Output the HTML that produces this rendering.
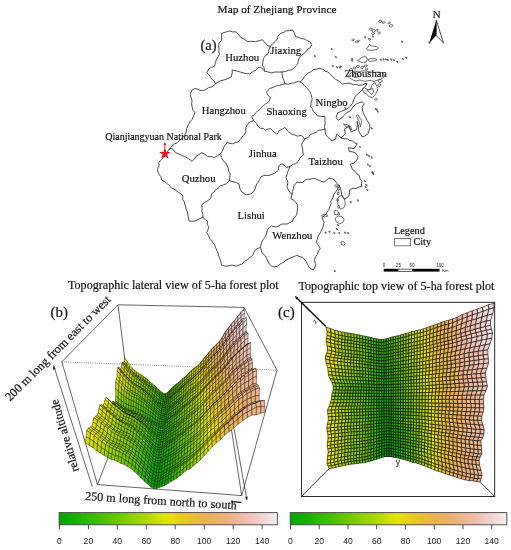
<!DOCTYPE html><html><head><meta charset="utf-8"><title>Figure</title><style>html,body{margin:0;padding:0;background:#fff}svg text{white-space:pre}</style></head><body><svg width="511" height="550" viewBox="0 0 511 550" style="display:block">
<rect width="511" height="550" fill="#fff"/>
<g fill="none" stroke="#404040" stroke-width="0.95" stroke-linejoin="round" stroke-linecap="round">
<path d="M215.5 83.7L214.3 81.1L211.6 78.8L208.9 74.7L206.7 72.9L208.7 69L211.6 67.4L214.6 66.1L215.3 62.8L216.5 59.2L218.2 56.3L219.5 54.4L218.8 51.2L219.1 48.7L218.5 45.5L219.4 42.6L221.4 40.7L221.7 38L221.4 33.8L224 32.5L227.1 31.7L229.2 30.9L233 32L236.1 31.8L238.8 34.8L241 37.7L243.6 38.7L245.5 40L247.8 41.6L250.3 41.4L253 41.4L255.7 41.6L259.1 40.7L262.5 39.7L265.4 43.6L268 45.7L270.3 46.5M270.3 46.5L268.7 50.5L268.4 53.4L265.8 55.3L263.5 58.3L262.9 61.7L262.5 65.1L264 67.6L264.5 71M264.5 71L262.6 69.1L260.6 67.1L257.5 67.9L256.3 70L253.7 71L249.8 73.9L246.8 73.6L242.9 72.9L240.2 72L237.1 71L232.2 70L232.2 73.1L231.2 76.9L227.3 78.8L223.8 80L220.4 80.8L217.2 82.8L215.5 83.7M270.3 46.5L272.3 44L275 41.6L277.3 39L277.4 37.8L278.9 34.8L280.7 33.3L283.7 32.4L285.8 30.9L289.5 30.6L292.6 29.9L294.7 33.8L295.5 36.7L298.7 37.4L301.4 38.7L304 38.8L307.3 40.7L309.9 41.8L311.8 44.6L310.4 47.7L307.7 48.8L306.3 51.4L303.1 54.2L300.4 56.3L299 58.8L298.2 61.4L297.5 64.1L296.1 65.6L293.6 68.2L291.6 70L288.7 70.1L285.6 71.5L281.8 72L278.8 72L275 72L271.3 72.9L267.2 71.7L264.5 71M281.8 72L282.5 77L284 80.4L284.8 83.7L288 84.2L292.3 83L294.6 82.7L298.4 81.4L300.4 81.8M284.8 83.7L281.3 84.8L279.6 85.3L277.2 85.7L274.8 86.6L272.3 87.7L269.4 88.6L266.4 92.5L267.7 95L270.3 97.4L269.4 100.7L268.4 102.3L265.4 103.9L262.4 106.4L260.5 108.8L257.9 110.7L255.7 112.7L254.4 114.8L251.7 116.6L253.7 120.5M253.7 120.5L251 121.6L248.8 122.5L247.7 124.5L245.9 127.4L245.9 132.1L243.8 135.2L242 137L240.4 139.4L238.1 141.9L234.9 142.8L232.2 143.8L229.1 143.3L227.3 141.9L226.2 144.2L224.1 146.1L223.4 148.7L222.2 151.3L220.5 153.6M220.5 153.6L217.3 155.8L214.6 157.5L211.6 156.7L207.7 156.5L204.6 154.2L201.9 152.6L198.4 154.9L196 156.5L194.3 159.1L192.1 161.4L188.2 158.5L184.7 156.6L182.3 155.6L178.8 153.9L175.4 152.6L173.5 150L171.5 148L169.6 148.7M215.5 83.7L213.5 85.8L211.7 87L208.7 87.6L205.8 89.5L202.8 90.6L200 90.3L197.4 89L195 88.6L192.1 90L190.8 92.8L190.1 94.9L191.2 97.9L192.1 100.8L191.6 103.8L192.1 106.6L192.9 110.2L195 112.5L193.5 116L192.1 119.4L190.1 121.6L188.2 125.2L186.6 128.6L186.2 132.1L184.9 134.5L182.3 138L179.5 140.4L177.4 142.8L173.7 144L171.5 146.8L169.6 148.7M169.6 148.7L167.9 151.1L166.6 153.6L164.5 156.7L162.7 158.5L160.7 160.6L158.8 162.4L159 166.1L157.8 168.3L157.6 171L158.8 174.1L160.8 176.4L161.7 180L164.2 181.4L167.6 183.9L168.9 185.3L171.5 187.8L175.4 190L178.4 192.4L181.3 193.7L183 196.3L182.3 198.9L184.2 201.5L184.7 204.3L185.5 206L186.2 209.4L187.4 211.9L188.2 216.2L189.1 221.1L191.7 221.2L195 221.1L198.9 219.1L202.8 217.2M202.8 217.2L205.4 219.9L207.7 221.1L207.1 224.2L208.7 227L208 229.8L206.7 232.8L208.5 235.3L209.7 238.7L212.4 241.9L214.6 244.6L215.6 247.7L217.5 251.4L218.4 254.6L219.5 258.3L220.9 261.8L221.4 265.1L224.9 266.1L227.3 266.1L232.2 265.1L236.1 266.1L239.1 265L242 264.1L244.5 261.3L247.8 259.3L249.9 257.5L252.7 255.3L253.8 252.4L255.7 249.5L258.2 248.3L260.5 247.5M260.5 247.5L261.4 251.1L262.5 253.4L265.2 255.5L266.4 258.3L267.8 261L269.4 264.1L271.7 266.3L274.2 267.1L277.5 266.2L280.1 264.1L283.8 262L286 260.2L288.9 258.8L291.9 257.3L294.8 256.3L296.8 255.3L300 256.8L302.6 257.3L305.1 260L306.5 262.2L307.6 264.5L309.5 268.1L313.4 270L315.3 266.1M315.3 266.1L315.4 263.4L314.4 260.2L315.4 257.1L317.3 254.4L318.5 250.7L320.2 248.5L318.4 245.2L316.3 242.6L317.2 239.5L318.3 235.8L319.6 233.7L321.1 231.2L322.2 228.9L323.2 226.3L324.1 222.1L323.1 220.4L322.2 217.2L326.1 214.2L327.1 212.1L329 209.4L330.1 206.1L331 203.5L330.8 201.3L333 197.6L333.9 194.2L335.9 191.7L337.7 188.7L339.4 185.7M339.4 185.7L340.5 188.5L341.3 191.5L341.6 194.5L342.8 196.9L344.2 199.4L346.9 197.9L349.1 195.4L349.5 192.4L350.1 189.6L352.9 188.3L356 188.6L358.6 187.1L361.9 186.6L361.4 183.8L361.9 180.8L360.1 179.2L359.3 175.4L357 173.9L354.7 171.1L352.3 169.3L351.6 166.9L350.3 164.4L353.7 163L356.2 161.4L357.5 158.8L358.2 156.5L355.2 152.6L351.2 151.6L349.4 151.6L348.4 147.7L350.9 148L354.2 148.7L355.2 147L357.2 143.8L354.7 142.9L352.3 140.9L349.7 140.6L347.4 138.9L343.9 138.7L341.5 137.9M341.5 137.9L342.9 136.1L345.4 134L344.5 129.1L347.7 126.9L349.4 126.2L350 129.3L351.3 132.1L353.7 130.5L356.2 130.1L357.1 127.2L357.4 124.4L357.2 121.3L357.2 123.8L358.8 126.1L358.4 129.7L359.1 132.1L361.1 134.9L362.1 137L364.3 136.4L367.9 134L368.8 131.1L369.9 128.2L369.7 124.4L367 120.3L364.9 116.2L362.9 112L362.2 107.3L364.2 103.8L362.2 101.8L359.4 102.7L356.7 103.8L353.3 106.6L350.5 110.7L347.4 112.3L345.1 114.1L343.9 115.5L341.6 118.2L338.2 120.3L336.2 117.5L337.5 112.7L341.6 111.4L342.9 110.6L346.4 109.3L348.6 107.9L350.5 105.9L352.7 103.2L353.3 101.1L355.3 96.3L358.1 93.6L360.2 91.8L362.2 89.5L365.6 86L367 83.3L364.2 84L362.1 85.1L358.8 85.3L355.7 84.4L353.3 84.7L350.4 83.3L347.8 83.3L345.5 83.5L342.3 84L339.9 82L338.5 80.9L335.5 79.2L332.6 76.7L330 73.7L327.8 72L325.2 71.1L323.2 69.5L320 68.4L316.8 69.2L313.2 69.6L311.4 71.6L308.6 72.8L306.3 74.9L304.5 76.7L302.7 79.5L300.4 81.8M300.4 81.8L302.9 83.8L304.6 85.9L307.3 88.6L309.7 91.5L311.2 94.5L312.2 99.4L311.2 102.3L310.5 106.8L311.9 107.7L313.4 111.7L316 113.6L317.3 115.7L320.5 116.4L324.9 116.4L325 119.3L325.1 123.5L324.5 126.6L324.9 129.1M324.9 129.1L321.5 129.9L318.3 130.3L316.4 132.1L313.4 133.3L310.1 134.8L308.5 137.2L304.6 139.1M304.6 139.1L301.6 135.2L297.7 136.2L294.3 134.8L291.9 134.2L287.9 131.3L285 127.4L282.1 129.4L278.7 130.9L277.2 134.2L274.2 132.3L271.9 130.1L270.3 128.4L268.1 129.2L265.4 130.3L263.6 128.5L260.5 128.4L257.9 126.1L256.6 123.5L253.7 120.5M324.9 129.1L325.3 131.6L325.9 135L328.2 137.5L330.4 138.8L331.7 140.9L335.7 138.9L336.6 134L339 136.1L341.5 137.9M304.6 139.1L303.1 142L301.6 144L302.6 148.9L302.9 152L303.6 154.8L300.7 157.1L299.7 158.7L298.5 161.1L295.8 163.6L293.3 164.3L289.9 166.5M289.9 166.5L286 167.5L283.9 164.9L282.1 163.6L279.1 165.6L278.2 170.5L274.2 173.4L269.4 175.3L266.6 175.5L263.5 175.3L260.9 176.9L259.6 179.3L257.8 182.8L256.6 184.1L255.6 187.1L254.7 190L252.9 192.1L250.8 193.9L245.9 194.9L242 192L240 189L239 183.9L236.4 182.4L234.1 182L229.3 180.5M220.5 153.6L221.4 157.5L223 160.7L225.3 162.4L226.9 165.2L228.3 168.3L228.6 171.2L230.2 174.1L229.8 177L229.3 180.5M229.3 180.5L226.3 183.9L223.8 184.6L220.5 185.9L218 188.2L215.6 189.8L213.7 192.3L211.6 193.7L210.7 198.6L206.7 201.5L204.2 202.8L201.9 204.5L202.1 208L201.9 211.3L202.9 214.4L202.8 217.2M289.9 166.5L288.9 169.2L287.9 171.4L287.2 173.8L286 177.3L286.9 179.6L287.9 182.2L287 187.1L288.9 190.8L291.9 194.7M291.9 194.7L290.9 198.6L293.9 200.3L295.8 202.5L297.2 204.4L297.7 207.4L297.2 211.3L296.8 214.2L295.3 217L293.2 218.8L292.8 221.1L290 222.5L287 224L282.1 224L278.5 225.8L276.2 227L271.3 226L268.3 228.4L267.4 229.9L266.5 233.8L265.4 236.8L263.3 239.2L261.5 242.6L260.5 247.5M291.9 194.7L292.3 191.6L293.4 188.8L293.8 186.1L296.8 182.2L299.9 182.4L302.6 182.2L305.7 179.9L307.5 179.3L310.3 179.1L313.4 178.3L316.2 179L318.3 180.2L321.1 181.2L324.1 182.2L326.6 180L329 178.3L331.5 178.6L334.5 179.8L336.8 183.4L339.4 185.7"/>
<path d="M366.7 48.5L368.5 46.3L369.5 44.2L371 46L374 46.2L377 46.8L378.4 48.2L376 49.8L372 50.2L368.5 50ZM357.8 60.4L361 58L364 56.5L366.8 57.3L367.2 60L366 62L362 62.4L359.6 61.7ZM368 59.5L371 58.5L375 58.6L377 59.8L374 61L370 61.2ZM348 76L350.2 74.3L351 72.5L355 71L359 72L363 70.8L366.3 71.1L368 71.5L371.1 72L373 72.5L375.1 72.4L378 72L381.2 72.6L383 73.5L385 76L382 78.5L378 80L374 81.5L371.7 80.7L369 80.5L365 81.3L362.2 80.8L360 80L356 81L352 79.5L349.9 78ZM362.2 89.5L364.2 92.9L366.8 94.2L368.4 96.3L372.5 97.7L375.2 94.9L376 92.9L377.3 90.8L377.8 88.3L376.6 86L375.2 82.6L372 84.5L371 88.5L368 90L365 88ZM367 90.5L369.5 92.5L372 94.5L373.5 92L372.8 88.5L370 89.5ZM354 73.5L357 73L358.5 75.5L356.5 78L353.5 77ZM343.7 124.4L346 126.5L349 128L352 130L350.5 126.5L347.5 124.8ZM356.5 116L358 119L359.5 123L360.5 127L360.8 124.9L361.5 122.5L361.4 120.1L359.8 118L358.2 115ZM339 196.5L341.5 195.4L344.5 198L344.8 200.5L345.2 203L344.6 206.3L343.5 208L340.5 209L338.8 206.4L338 205L337.9 202.7L337.6 200ZM335.4 218L338 216L341.5 216.5L344.2 219L343 222.5L339.5 223.8L336.5 222ZM321.7 215.6L324 214.2L327.2 214.8L327.6 216.3L324.5 217ZM334.5 211L336.5 210L338.4 212L337.5 214.8L335 214.5ZM341.3 242L343.5 241.4L345.2 243.5L343.8 245.3L341.8 244.6ZM382 21.5L381.4 22.2L380.1 22.7L378.9 22L378.9 21L380.1 20.3L381.4 20.8ZM384.9 22.6L384.3 23.3L383.2 23.5L382.3 23L382.2 22.2L383.2 21.7L384.3 21.9ZM390.3 23L389.6 23.6L388.7 23.9L387.8 23.5L388.1 22.7L388.8 22.1L389.8 22.2ZM392.7 26L391.8 26.8L390.7 27.1L389.3 26.6L389.4 25.4L390.6 24.7L392.3 24.8ZM372.3 29L371.5 29.7L370.5 30.2L369.7 29.4L369.6 28.5L370.6 28.2L371.5 28.3ZM375.3 31L374.6 32.1L373.2 32.1L372.3 31.5L371.8 30.4L373.2 29.8L374.6 29.9ZM378 30.3L377.8 31.1L376.7 31.2L376.1 30.6L375.8 29.9L376.6 29.1L377.8 29.5ZM380 33L379.8 33.9L378.7 34.2L377.8 33.5L378.1 32.6L378.7 31.9L379.9 32.1ZM374.3 33.8L373.9 34.6L372.8 34.5L372 34.1L371.9 33.4L372.6 32.7L373.9 33ZM370.9 39.2L370.4 39.8L369.2 40L368.6 39.4L368.1 38.8L369.2 38.4L370.2 38.7ZM354.4 39.9L353.8 40.5L352.8 40.5L351.7 40.3L351.9 39.6L352.7 39.1L353.9 39.2ZM358.2 41.9L357.3 42.7L356.1 42.8L355.4 42.2L355.3 41.6L356 40.8L357.2 41.2ZM359.6 41L359.1 41.5L358.3 41.9L357.8 41.3L357.6 40.6L358.4 40.2L359.3 40.3ZM355.9 68L355.7 69L354.2 69L353.2 68.4L353.2 67.6L354.2 67.1L355.5 67.2ZM359.3 66.5L358.8 67.1L357.6 67.7L356.8 66.9L356.3 66L357.7 65.7L359 65.7ZM363.2 67.6L362.9 68.5L361.7 68.7L360.6 68.2L361 67.2L361.7 66.6L363.1 66.5ZM367.2 66L366.6 66.9L365.2 67L364 66.5L364.2 65.6L365.2 65.1L366.6 65.1ZM367.6 69.3L367.1 69.8L366.2 70.3L365.6 69.6L365.3 68.9L366.3 68.6L367.4 68.6ZM352.4 69.5L352 70.5L350.7 70.5L349.6 70L349.8 69.1L350.7 68.3L351.8 68.8ZM382.4 81L381.3 82.3L379.5 82.8L378.6 81.5L378.3 80.4L379.5 79.2L381.1 80ZM380.5 85.5L379.9 86.6L378.7 86.6L378 86L377.7 84.9L378.7 84.1L380.1 84.1ZM377.1 99.5L376.6 100.1L375.8 100.3L375 99.9L374.7 99L375.7 98.3L376.8 98.7ZM339.8 188L339.4 189.9L338.2 190.5L337.6 188.8L337.1 186.8L338.2 185.3L339.3 186.2ZM338.9 193.5L338.6 194.7L337.8 195L337.2 194.1L337.3 193L337.8 191.9L338.7 192.1ZM337.3 186L336.7 187L335.7 187.4L335.1 186.5L334.7 185.2L335.8 184.7L336.7 184.9ZM338.5 200L338.1 201.2L337.3 201.3L336.8 200.5L336.7 199.4L337.3 198.4L338 199ZM339.5 207L339.1 208L338.4 208.3L337.9 207.6L337.8 206.4L338.4 205.4L339.2 205.7ZM339.7 214L339.4 214.8L338.8 215.1L338.2 214.6L338.2 213.4L338.8 212.7L339.4 213.2Z" stroke-width="0.75"/>
<path d="M364.8 36.6l1.1 .4l-.4 .8zM372.4 35.9l1.1 .4l-.4 .8zM401.8 41.1l1.1 .4l-.4 .8zM428.9 42.1l1.1 .4l-.4 .8zM351.8 58.5l1.1 .4l-.4 .8zM351.8 60l1.1 .4l-.4 .8zM339.5 66.8l1.1 .4l-.4 .8zM332.5 65.5l1.1 .4l-.4 .8zM336.5 66.5l1.1 .4l-.4 .8zM340.5 66l1.1 .4l-.4 .8zM380.5 59.2l1.1 .4l-.4 .8zM383 58.8l1.1 .4l-.4 .8zM385.4 59l1.1 .4l-.4 .8zM387.5 59.5l1.1 .4l-.4 .8zM390.9 59l1.1 .4l-.4 .8zM393.6 59.5l1.1 .4l-.4 .8zM397 61.3l1.1 .4l-.4 .8zM402.5 58.5l1.1 .4l-.4 .8zM405.9 57.2l1.1 .4l-.4 .8zM376.3 109.1l1.1 .4l-.4 .8zM377.5 111l1.1 .4l-.4 .8zM371.4 127.7l1.1 .4l-.4 .8zM359.5 146.3l1.1 .4l-.4 .8zM366.5 154.1l1.1 .4l-.4 .8zM368.5 155.5l1.1 .4l-.4 .8zM371.4 157l1.1 .4l-.4 .8zM367.4 163.9l1.1 .4l-.4 .8zM369.5 165.5l1.1 .4l-.4 .8zM372.3 171.7l1.1 .4l-.4 .8zM373 173.5l1.1 .4l-.4 .8zM365.5 186.4l1.1 .4l-.4 .8zM372.1 172.4l1.1 .4l-.4 .8zM364.5 180.5l1.1 .4l-.4 .8zM366 184.5l1.1 .4l-.4 .8zM367 189.5l1.1 .4l-.4 .8zM357.5 199.8l1.1 .4l-.4 .8zM350.5 201.5l1.1 .4l-.4 .8zM325.2 232.1l1.1 .4l-.4 .8zM329.1 231.1l1.1 .4l-.4 .8zM334 232.5l1.1 .4l-.4 .8zM338.9 232.5l1.1 .4l-.4 .8zM344.7 232.1l1.1 .4l-.4 .8zM347.7 232.5l1.1 .4l-.4 .8zM334.5 270.5l1.1 .4l-.4 .8zM337.5 224.5l1.1 .4l-.4 .8zM336.5 228.5l1.1 .4l-.4 .8zM331.5 48.5l1.1 .4l-.4 .8zM335.5 56.5l1.1 .4l-.4 .8zM314.5 55.5l1.1 .4l-.4 .8zM375.5 108.5l1.1 .4l-.4 .8zM345 107.5l1.1 .4l-.4 .8zM349.5 116.5l1.1 .4l-.4 .8z" stroke-width="0.75"/>
</g>
<g font-family="'Liberation Serif','Times New Roman',serif" stroke="#111" stroke-width="0.18" font-size="10.7" fill="#111">
<text x="225.3" y="60.8">Huzhou</text>
<text x="270.3" y="54.4">Jiaxing</text>
<text x="201.8" y="114">Hangzhou</text>
<text x="266.4" y="114.7">Shaoxing</text>
<text x="315.5" y="105.6">Ningbo</text>
<text x="344.7" y="77.4">Zhoushan</text>
<text x="248.8" y="156.8">Jinhua</text>
<text x="308.5" y="165.3">Taizhou</text>
<text x="181.7" y="182">Quzhou</text>
<text x="237.5" y="219.1">Lishui</text>
<text x="272.3" y="238.7">Wenzhou</text>
</g>
<text x="105.2" y="139.6" font-family="'Liberation Serif','Times New Roman',serif" stroke="#111" stroke-width="0.18" font-size="10" fill="#111">Qianjiangyuan National Park</text>
<text x="217.6" y="13.4" font-family="'Liberation Serif','Times New Roman',serif" stroke="#111" stroke-width="0.18" font-size="11.3" fill="#111">Map of Zhejiang Province</text>
<text x="200.5" y="50" font-family="'Liberation Serif','Times New Roman',serif" stroke="#111" stroke-width="0.18" font-size="14.5" fill="#111">(a)</text>
<path d="M164.9 147.8L166.3 152L170.7 152L167.2 154.6L168.5 158.8L164.9 156.3L161.3 158.8L162.6 154.6L159.1 152L163.5 152Z" fill="#e8141c"/>
<path d="M164.9 149.5V144" stroke="#e8141c" stroke-width="0.9" fill="none"/><path d="M164.9 142l1.5 3h-3z" fill="#e8141c"/>
<text x="436.6" y="18.2" text-anchor="middle" font-family="'Liberation Serif','Times New Roman',serif" stroke="#111" stroke-width="0.18" font-size="11.4" fill="#111">N</text>
<path d="M436.3 20.3L429 43.6L436.3 35.3Z" fill="#000"/><path d="M436.3 20.3L443.6 43.2L436.3 35.3Z" fill="#fff" stroke="#000" stroke-width="0.7" stroke-linejoin="miter"/>
<text x="394" y="233.6" font-family="'Liberation Serif','Times New Roman',serif" stroke="#111" stroke-width="0.18" font-size="10.3" fill="#111">Legend</text>
<rect x="394.6" y="238.6" width="16" height="7.2" fill="#fff" stroke="#555" stroke-width="0.8"/>
<text x="413.4" y="245.4" font-family="'Liberation Serif','Times New Roman',serif" stroke="#111" stroke-width="0.18" font-size="10.3" fill="#111">City</text>
<rect x="383.7" y="268.8" width="55.8" height="2.8" fill="#000"/><rect x="398.4" y="269.4" width="13.7" height="1.6" fill="#fff"/>
<g font-family="'Liberation Sans',Arial,sans-serif" font-size="4.6" fill="#222" text-anchor="middle">
<text x="384" y="267.1">0</text>
<text x="398.4" y="267.1">25</text>
<text x="412" y="267.1">50</text>
<text x="440" y="267.1">100</text>
<text x="445.3" y="271.6" font-size="4.2">Km</text>
</g>
<path d="M97.5 484.6L241.7 495.6M97.5 484.6L130 401M130 401L227.8 405.9M241.7 495.6L227.8 405.9M97.5 484.6L61.8 361.8M241.7 495.6L277 370.1M130 401L118 304.8M227.8 405.9L244 307.4M118 304.8L244 307.4M61.8 361.8L118 304.8M277 370.1L244 307.4" stroke="#222" stroke-width="0.7" fill="none"/>
<path d="M92.3 486.8L54 366.7" stroke="#222" stroke-width="0.7" fill="none"/><path d="M53.4 364.8l2.2 4.2l-2.6 .8z" fill="#222"/>
<path d="M234.2 429.1L246.7 498.8" stroke="#222" stroke-width="0.7" fill="none"/><path d="M247.1 501l-2.1-4.1l2.6-.5z" fill="#222"/>
<path d="M231 501.6L241.5 502.4" stroke="#111" stroke-width="1.2" fill="none"/>
<g stroke="#000" stroke-width="0.4" stroke-linejoin="round"><path d="M162 394.3L164 394.7L164.3 393.7L162.3 392.6Z" fill="#33B700"/><path d="M164 394.7L166 394.7L166.3 393.2L164.3 393.7Z" fill="#33B700"/><path d="M159.9 392.8L162 394.3L162.3 392.6L160.2 391Z" fill="#3ABA00"/><path d="M166 394.7L168 392.7L168.3 391.8L166.3 393.2Z" fill="#3ABA00"/><path d="M157.8 391L159.9 392.8L160.2 391L158.2 389.3Z" fill="#41BC00"/><path d="M163.7 396.9L165.8 397L166 394.7L164 394.7Z" fill="#33B700"/><path d="M161.7 395.9L163.7 396.9L164 394.7L162 394.3Z" fill="#33B700"/><path d="M168 392.7L170 391L170.3 389.8L168.3 391.8Z" fill="#41BC00"/><path d="M159.6 394L161.7 395.9L162 394.3L159.9 392.8Z" fill="#3ABA00"/><path d="M155.8 389.3L157.8 391L158.2 389.3L156.1 387.1Z" fill="#50C000"/><path d="M165.8 397L167.8 395.2L168 392.7L166 394.7Z" fill="#33B700"/><path d="M157.5 392.8L159.6 394L159.9 392.8L157.8 391Z" fill="#41BC00"/><path d="M163.4 398.6L165.5 398.3L165.8 397L163.7 396.9Z" fill="#2CB500"/><path d="M153.6 387.6L155.8 389.3L156.1 387.1L154 385.1Z" fill="#57C200"/><path d="M161.4 397.2L163.4 398.6L163.7 396.9L161.7 395.9Z" fill="#33B700"/><path d="M170 391L172.1 388.1L172.3 387.3L170.3 389.8Z" fill="#50C000"/><path d="M167.8 395.2L169.8 392.8L170 391L168 392.7Z" fill="#41BC00"/><path d="M165.5 398.3L167.5 397.2L167.8 395.2L165.8 397Z" fill="#33B700"/><path d="M155.4 390.8L157.5 392.8L157.8 391L155.8 389.3Z" fill="#48BE00"/><path d="M159.2 395.3L161.4 397.2L161.7 395.9L159.6 394Z" fill="#3ABA00"/><path d="M151.5 385.8L153.6 387.6L154 385.1L151.8 383.2Z" fill="#5FC500"/><path d="M153.2 388.8L155.4 390.8L155.8 389.3L153.6 387.6Z" fill="#57C200"/><path d="M163.1 399.7L165.2 400.5L165.5 398.3L163.4 398.6Z" fill="#2CB500"/><path d="M157.1 393.4L159.2 395.3L159.6 394L157.5 392.8Z" fill="#41BC00"/><path d="M149.3 383.8L151.5 385.8L151.8 383.2L149.7 381.8Z" fill="#6FC900"/><path d="M172.1 388.1L174.1 387L174.3 385.6L172.3 387.3Z" fill="#5FC500"/><path d="M161 398.6L163.1 399.7L163.4 398.6L161.4 397.2Z" fill="#33B700"/><path d="M167.5 397.2L169.5 394.8L169.8 392.8L167.8 395.2Z" fill="#41BC00"/><path d="M169.8 392.8L171.8 390.6L172.1 388.1L170 391Z" fill="#50C000"/><path d="M165.2 400.5L167.2 398.7L167.5 397.2L165.5 398.3Z" fill="#33B700"/><path d="M151.1 386.8L153.2 388.8L153.6 387.6L151.5 385.8Z" fill="#5FC500"/><path d="M155 391.5L157.1 393.4L157.5 392.8L155.4 390.8Z" fill="#48BE00"/><path d="M158.9 397.4L161 398.6L161.4 397.2L159.2 395.3Z" fill="#3ABA00"/><path d="M147.2 382.2L149.3 383.8L149.7 381.8L147.5 379.5Z" fill="#77CB00"/><path d="M174.1 387L176.2 385.2L176.4 383.9L174.3 385.6Z" fill="#67C700"/><path d="M148.9 385.5L151.1 386.8L151.5 385.8L149.3 383.8Z" fill="#67C700"/><path d="M162.8 401.8L164.9 402L165.2 400.5L163.1 399.7Z" fill="#2CB500"/><path d="M171.8 390.6L173.9 389.6L174.1 387L172.1 388.1Z" fill="#5FC500"/><path d="M169.5 394.8L171.6 393.4L171.8 390.6L169.8 392.8Z" fill="#48BE00"/><path d="M167.2 398.7L169.3 397.2L169.5 394.8L167.5 397.2Z" fill="#3ABA00"/><path d="M145 380.8L147.2 382.2L147.5 379.5L145.4 377.8Z" fill="#7FCD00"/><path d="M156.8 395L158.9 397.4L159.2 395.3L157.1 393.4Z" fill="#41BC00"/><path d="M152.8 389.4L155 391.5L155.4 390.8L153.2 388.8Z" fill="#57C200"/><path d="M160.7 400.8L162.8 401.8L163.1 399.7L161 398.6Z" fill="#33B700"/><path d="M164.9 402L166.9 400.5L167.2 398.7L165.2 400.5Z" fill="#33B700"/><path d="M176.2 385.2L178.3 383.2L178.5 382.6L176.4 383.9Z" fill="#77CB00"/><path d="M158.6 399.6L160.7 400.8L161 398.6L158.9 397.4Z" fill="#33B700"/><path d="M146.7 383.3L148.9 385.5L149.3 383.8L147.2 382.2Z" fill="#77CB00"/><path d="M142.9 379.3L145 380.8L145.4 377.8L143.2 376.1Z" fill="#88D000"/><path d="M173.9 389.6L176 388.2L176.2 385.2L174.1 387Z" fill="#67C700"/><path d="M171.6 393.4L173.7 392L173.9 389.6L171.8 390.6Z" fill="#57C200"/><path d="M150.6 387.4L152.8 389.4L153.2 388.8L151.1 386.8Z" fill="#5FC500"/><path d="M154.6 392.6L156.8 395L157.1 393.4L155 391.5Z" fill="#50C000"/><path d="M169.3 397.2L171.4 395.3L171.6 393.4L169.5 394.8Z" fill="#48BE00"/><path d="M156.4 397.9L158.6 399.6L158.9 397.4L156.8 395Z" fill="#41BC00"/><path d="M140.7 377.7L142.9 379.3L143.2 376.1L141 374.7Z" fill="#91D200"/><path d="M162.5 404L164.6 403.8L164.9 402L162.8 401.8Z" fill="#2CB500"/><path d="M144.5 381.7L146.7 383.3L147.2 382.2L145 380.8Z" fill="#7FCD00"/><path d="M160.4 403.6L162.5 404L162.8 401.8L160.7 400.8Z" fill="#2CB500"/><path d="M166.9 400.5L169 398.6L169.3 397.2L167.2 398.7Z" fill="#3ABA00"/><path d="M178.3 383.2L180.5 381.7L180.6 380.6L178.5 382.6Z" fill="#7FCD00"/><path d="M158.3 401.8L160.4 403.6L160.7 400.8L158.6 399.6Z" fill="#33B700"/><path d="M148.4 385.6L150.6 387.4L151.1 386.8L148.9 385.5Z" fill="#6FC900"/><path d="M138.5 376.7L140.7 377.7L141 374.7L138.8 373.4Z" fill="#99D400"/><path d="M173.7 392L175.8 389.8L176 388.2L173.9 389.6Z" fill="#5FC500"/><path d="M176 388.2L178.1 386L178.3 383.2L176.2 385.2Z" fill="#6FC900"/><path d="M142.3 380.5L144.5 381.7L145 380.8L142.9 379.3Z" fill="#88D000"/><path d="M164.6 403.8L166.7 402L166.9 400.5L164.9 402Z" fill="#2CB500"/><path d="M152.4 390.7L154.6 392.6L155 391.5L152.8 389.4Z" fill="#57C200"/><path d="M171.4 395.3L173.5 393.3L173.7 392L171.6 393.4Z" fill="#50C000"/><path d="M154.3 395.6L156.4 397.9L156.8 395L154.6 392.6Z" fill="#48BE00"/><path d="M136.2 374.7L138.5 376.7L138.8 373.4L136.6 371.9Z" fill="#A2D600"/><path d="M146.2 383.8L148.4 385.6L148.9 385.5L146.7 383.3Z" fill="#77CB00"/><path d="M156.1 399.6L158.3 401.8L158.6 399.6L156.4 397.9Z" fill="#3ABA00"/><path d="M140.1 378.6L142.3 380.5L142.9 379.3L140.7 377.7Z" fill="#91D200"/><path d="M169 398.6L171.1 396.7L171.4 395.3L169.3 397.2Z" fill="#48BE00"/><path d="M162.2 406.2L164.3 405.4L164.6 403.8L162.5 404Z" fill="#25B300"/><path d="M160 404.2L162.2 406.2L162.5 404L160.4 403.6Z" fill="#2CB500"/><path d="M180.5 381.7L182.6 379.8L182.8 378.5L180.6 380.6Z" fill="#88D000"/><path d="M150.2 389.2L152.4 390.7L152.8 389.4L150.6 387.4Z" fill="#67C700"/><path d="M175.8 389.8L177.9 388.7L178.1 386L176 388.2Z" fill="#67C700"/><path d="M134 373.4L136.2 374.7L136.6 371.9L134.4 370.3Z" fill="#ACD800"/><path d="M178.1 386L180.3 384.2L180.5 381.7L178.3 383.2Z" fill="#7FCD00"/><path d="M166.7 402L168.7 400.1L169 398.6L166.9 400.5Z" fill="#3ABA00"/><path d="M137.8 376.8L140.1 378.6L140.7 377.7L138.5 376.7Z" fill="#99D400"/><path d="M152 393.6L154.3 395.6L154.6 392.6L152.4 390.7Z" fill="#57C200"/><path d="M173.5 393.3L175.6 392L175.8 389.8L173.7 392Z" fill="#5FC500"/><path d="M144 382.1L146.2 383.8L146.7 383.3L144.5 381.7Z" fill="#7FCD00"/><path d="M157.9 402.9L160 404.2L160.4 403.6L158.3 401.8Z" fill="#33B700"/><path d="M153.9 397.8L156.1 399.6L156.4 397.9L154.3 395.6Z" fill="#48BE00"/><path d="M164.3 405.4L166.4 404.3L166.7 402L164.6 403.8Z" fill="#2CB500"/><path d="M147.9 386.7L150.2 389.2L150.6 387.4L148.4 385.6Z" fill="#6FC900"/><path d="M135.7 376.1L137.8 376.8L138.5 376.7L136.2 374.7Z" fill="#A2D600"/><path d="M171.1 396.7L173.2 395.1L173.5 393.3L171.4 395.3Z" fill="#50C000"/><path d="M131.7 370.7L134 373.4L134.4 370.3L132.1 367.9Z" fill="#BEDD00"/><path d="M182.6 379.8L184.8 378L185 376.7L182.8 378.5Z" fill="#99D400"/><path d="M141.7 380.5L144 382.1L144.5 381.7L142.3 380.5Z" fill="#88D000"/><path d="M177.9 388.7L180.1 387.1L180.3 384.2L178.1 386Z" fill="#77CB00"/><path d="M149.8 391.4L152 393.6L152.4 390.7L150.2 389.2Z" fill="#5FC500"/><path d="M155.7 400.8L157.9 402.9L158.3 401.8L156.1 399.6Z" fill="#3ABA00"/><path d="M180.3 384.2L182.5 382L182.6 379.8L180.5 381.7Z" fill="#88D000"/><path d="M161.9 407.3L164 407.6L164.3 405.4L162.2 406.2Z" fill="#25B300"/><path d="M168.7 400.1L170.9 397.9L171.1 396.7L169 398.6Z" fill="#48BE00"/><path d="M175.6 392L177.7 390.2L177.9 388.7L175.8 389.8Z" fill="#67C700"/><path d="M133.4 374.1L135.7 376.1L136.2 374.7L134 373.4Z" fill="#ACD800"/><path d="M151.7 395.7L153.9 397.8L154.3 395.6L152 393.6Z" fill="#50C000"/><path d="M159.7 405.8L161.9 407.3L162.2 406.2L160 404.2Z" fill="#2CB500"/><path d="M139.5 379.5L141.7 380.5L142.3 380.5L140.1 378.6Z" fill="#91D200"/><path d="M145.7 384.9L147.9 386.7L148.4 385.6L146.2 383.8Z" fill="#7FCD00"/><path d="M166.4 404.3L168.5 402.1L168.7 400.1L166.7 402Z" fill="#3ABA00"/><path d="M164 407.6L166.1 406.8L166.4 404.3L164.3 405.4Z" fill="#2CB500"/><path d="M173.2 395.1L175.4 392.6L175.6 392L173.5 393.3Z" fill="#5FC500"/><path d="M129.3 368.8L131.7 370.7L132.1 367.9L129.7 365.2Z" fill="#C8DF00"/><path d="M147.6 389.9L149.8 391.4L150.2 389.2L147.9 386.7Z" fill="#6FC900"/><path d="M184.8 378L187.1 375.5L187.2 375.1L185 376.7Z" fill="#A2D600"/><path d="M153.4 398.7L155.7 400.8L156.1 399.6L153.9 397.8Z" fill="#48BE00"/><path d="M137.2 377.3L139.5 379.5L140.1 378.6L137.8 376.8Z" fill="#A2D600"/><path d="M131 371.7L133.4 374.1L134 373.4L131.7 370.7Z" fill="#B5DB00"/><path d="M157.5 404L159.7 405.8L160 404.2L157.9 402.9Z" fill="#33B700"/><path d="M143.5 383.5L145.7 384.9L146.2 383.8L144 382.1Z" fill="#88D000"/><path d="M149.4 394L151.7 395.7L152 393.6L149.8 391.4Z" fill="#5FC500"/><path d="M180.1 387.1L182.3 384.5L182.5 382L180.3 384.2Z" fill="#7FCD00"/><path d="M177.7 390.2L179.9 388.7L180.1 387.1L177.9 388.7Z" fill="#6FC900"/><path d="M182.5 382L184.7 380.3L184.8 378L182.6 379.8Z" fill="#91D200"/><path d="M170.9 397.9L173 395.6L173.2 395.1L171.1 396.7Z" fill="#50C000"/><path d="M161.5 408.8L163.7 410.3L164 407.6L161.9 407.3Z" fill="#25B300"/><path d="M166.1 406.8L168.2 404.8L168.5 402.1L166.4 404.3Z" fill="#33B700"/><path d="M135 376.1L137.2 377.3L137.8 376.8L135.7 376.1Z" fill="#ACD800"/><path d="M145.3 387.7L147.6 389.9L147.9 386.7L145.7 384.9Z" fill="#77CB00"/><path d="M168.5 402.1L170.6 400L170.9 397.9L168.7 400.1Z" fill="#48BE00"/><path d="M141.2 381.9L143.5 383.5L144 382.1L141.7 380.5Z" fill="#91D200"/><path d="M175.4 392.6L177.5 391.6L177.7 390.2L175.6 392Z" fill="#67C700"/><path d="M163.7 410.3L165.8 408.9L166.1 406.8L164 407.6Z" fill="#25B300"/><path d="M151.2 396.6L153.4 398.7L153.9 397.8L151.7 395.7Z" fill="#50C000"/><path d="M155.3 401.9L157.5 404L157.9 402.9L155.7 400.8Z" fill="#3ABA00"/><path d="M147.1 391.5L149.4 394L149.8 391.4L147.6 389.9Z" fill="#67C700"/><path d="M128.7 369.5L131 371.7L131.7 370.7L129.3 368.8Z" fill="#C8DF00"/><path d="M159.3 407.5L161.5 408.8L161.9 407.3L159.7 405.8Z" fill="#2CB500"/><path d="M132.7 374.5L135 376.1L135.7 376.1L133.4 374.1Z" fill="#ACD800"/><path d="M126.7 364.5L129.3 368.8L129.7 365.2L127.1 361.2Z" fill="#DBE300"/><path d="M182.3 384.5L184.5 383.2L184.7 380.3L182.5 382Z" fill="#91D200"/><path d="M179.9 388.7L182.1 386.7L182.3 384.5L180.1 387.1Z" fill="#7FCD00"/><path d="M138.9 380L141.2 381.9L141.7 380.5L139.5 379.5Z" fill="#99D400"/><path d="M187.1 375.5L189.4 372.7L189.4 371.9L187.2 375.1Z" fill="#B5DB00"/><path d="M184.7 380.3L186.9 378L187.1 375.5L184.8 378Z" fill="#A2D600"/><path d="M143.1 386.1L145.3 387.7L145.7 384.9L143.5 383.5Z" fill="#7FCD00"/><path d="M173 395.6L175.2 393.7L175.4 392.6L173.2 395.1Z" fill="#5FC500"/><path d="M148.9 394.1L151.2 396.6L151.7 395.7L149.4 394Z" fill="#5FC500"/><path d="M165.8 408.9L167.9 407.1L168.2 404.8L166.1 406.8Z" fill="#2CB500"/><path d="M157.1 405.1L159.3 407.5L159.7 405.8L157.5 404Z" fill="#33B700"/><path d="M144.9 389.8L147.1 391.5L147.6 389.9L145.3 387.7Z" fill="#6FC900"/><path d="M177.5 391.6L179.8 389.4L179.9 388.7L177.7 390.2Z" fill="#6FC900"/><path d="M136.7 379.1L138.9 380L139.5 379.5L137.2 377.3Z" fill="#A2D600"/><path d="M153 399L155.3 401.9L155.7 400.8L153.4 398.7Z" fill="#48BE00"/><path d="M168.2 404.8L170.3 402.3L170.6 400L168.5 402.1Z" fill="#41BC00"/><path d="M140.8 384.7L143.1 386.1L143.5 383.5L141.2 381.9Z" fill="#88D000"/><path d="M130.3 372L132.7 374.5L133.4 374.1L131 371.7Z" fill="#BEDD00"/><path d="M170.6 400L172.8 397.9L173 395.6L170.9 397.9Z" fill="#50C000"/><path d="M161.2 410.9L163.4 411.6L163.7 410.3L161.5 408.8Z" fill="#25B300"/><path d="M163.4 411.6L165.5 410.8L165.8 408.9L163.7 410.3Z" fill="#25B300"/><path d="M126.1 365.8L128.7 369.5L129.3 368.8L126.7 364.5Z" fill="#DBE300"/><path d="M184.5 383.2L186.8 380.4L186.9 378L184.7 380.3Z" fill="#99D400"/><path d="M182.1 386.7L184.4 384.8L184.5 383.2L182.3 384.5Z" fill="#88D000"/><path d="M142.7 389L144.9 389.8L145.3 387.7L143.1 386.1Z" fill="#7FCD00"/><path d="M134.4 377.1L136.7 379.1L137.2 377.3L135 376.1Z" fill="#ACD800"/><path d="M159 409.8L161.2 410.9L161.5 408.8L159.3 407.5Z" fill="#2CB500"/><path d="M189.4 372.7L191.6 371.2L191.7 370.2L189.4 371.9Z" fill="#C8DF00"/><path d="M146.7 392.8L148.9 394.1L149.4 394L147.1 391.5Z" fill="#67C700"/><path d="M186.9 378L189.2 376.5L189.4 372.7L187.1 375.5Z" fill="#B5DB00"/><path d="M138.5 382.8L140.8 384.7L141.2 381.9L138.9 380Z" fill="#99D400"/><path d="M175.2 393.7L177.4 392.4L177.5 391.6L175.4 392.6Z" fill="#67C700"/><path d="M154.8 402.9L157.1 405.1L157.5 404L155.3 401.9Z" fill="#41BC00"/><path d="M124.2 361.1L126.7 364.5L127.1 361.2L124.6 357.5Z" fill="#E6D80F"/><path d="M167.9 407.1L170.1 405.8L170.3 402.3L168.2 404.8Z" fill="#3ABA00"/><path d="M127.9 369.9L130.3 372L131 371.7L128.7 369.5Z" fill="#C8DF00"/><path d="M150.7 396.5L153 399L153.4 398.7L151.2 396.6Z" fill="#57C200"/><path d="M140.4 387.1L142.7 389L143.1 386.1L140.8 384.7Z" fill="#7FCD00"/><path d="M179.8 389.4L182 387.1L182.1 386.7L179.9 388.7Z" fill="#7FCD00"/><path d="M132 375.4L134.4 377.1L135 376.1L132.7 374.5Z" fill="#B5DB00"/><path d="M165.5 410.8L167.7 409.4L167.9 407.1L165.8 408.9Z" fill="#2CB500"/><path d="M172.8 397.9L174.9 396.6L175.2 393.7L173 395.6Z" fill="#5FC500"/><path d="M170.3 402.3L172.5 400.8L172.8 397.9L170.6 400Z" fill="#50C000"/><path d="M136.3 381.9L138.5 382.8L138.9 380L136.7 379.1Z" fill="#99D400"/><path d="M156.8 407.5L159 409.8L159.3 407.5L157.1 405.1Z" fill="#33B700"/><path d="M144.3 390.7L146.7 392.8L147.1 391.5L144.9 389.8Z" fill="#6FC900"/><path d="M160.9 413.4L163.1 414.1L163.4 411.6L161.2 410.9Z" fill="#1EB100"/><path d="M186.8 380.4L189 379L189.2 376.5L186.9 378Z" fill="#ACD800"/><path d="M184.4 384.8L186.6 382.7L186.8 380.4L184.5 383.2Z" fill="#99D400"/><path d="M138.1 386L140.4 387.1L140.8 384.7L138.5 382.8Z" fill="#91D200"/><path d="M191.6 371.2L194 368.9L194 368.3L191.7 370.2Z" fill="#D2E100"/><path d="M163.1 414.1L165.2 413.1L165.5 410.8L163.4 411.6Z" fill="#25B300"/><path d="M177.4 392.4L179.6 390.5L179.8 389.4L177.5 391.6Z" fill="#77CB00"/><path d="M134 380.6L136.3 381.9L136.7 379.1L134.4 377.1Z" fill="#A2D600"/><path d="M189.2 376.5L191.5 374.4L191.6 371.2L189.4 372.7Z" fill="#BEDD00"/><path d="M158.7 411.7L160.9 413.4L161.2 410.9L159 409.8Z" fill="#25B300"/><path d="M152.5 400.1L154.8 402.9L155.3 401.9L153 399Z" fill="#50C000"/><path d="M123.5 362.3L126.1 365.8L126.7 364.5L124.2 361.1Z" fill="#E6DF08"/><path d="M148.4 394.9L150.7 396.5L151.2 396.6L148.9 394.1Z" fill="#67C700"/><path d="M129.6 372.9L132 375.4L132.7 374.5L130.3 372Z" fill="#BEDD00"/><path d="M142 389.1L144.3 390.7L144.9 389.8L142.7 389Z" fill="#7FCD00"/><path d="M135.8 384.4L138.1 386L138.5 382.8L136.3 381.9Z" fill="#91D200"/><path d="M167.7 409.4L169.8 407.7L170.1 405.8L167.9 407.1Z" fill="#33B700"/><path d="M182 387.1L184.2 385.5L184.4 384.8L182.1 386.7Z" fill="#88D000"/><path d="M170.1 405.8L172.3 403.5L172.5 400.8L170.3 402.3Z" fill="#48BE00"/><path d="M174.9 396.6L177.2 394.6L177.4 392.4L175.2 393.7Z" fill="#67C700"/><path d="M172.5 400.8L174.7 399.4L174.9 396.6L172.8 397.9Z" fill="#57C200"/><path d="M125.2 365.4L127.9 369.9L128.7 369.5L126.1 365.8Z" fill="#DBE300"/><path d="M154.5 405.3L156.8 407.5L157.1 405.1L154.8 402.9Z" fill="#41BC00"/><path d="M131.6 378.5L134 380.6L134.4 377.1L132 375.4Z" fill="#ACD800"/><path d="M165.2 413.1L167.4 411.4L167.7 409.4L165.5 410.8Z" fill="#2CB500"/><path d="M156.4 409.6L158.7 411.7L159 409.8L156.8 407.5Z" fill="#33B700"/><path d="M189 379L191.4 376.7L191.5 374.4L189.2 376.5Z" fill="#B5DB00"/><path d="M133.5 382.9L135.8 384.4L136.3 381.9L134 380.6Z" fill="#99D400"/><path d="M194 368.9L196.3 367.2L196.3 366.8L194 368.3Z" fill="#DBE300"/><path d="M139.7 386.8L142 389.1L142.7 389L140.4 387.1Z" fill="#88D000"/><path d="M186.6 382.7L188.9 380.6L189 379L186.8 380.4Z" fill="#A2D600"/><path d="M146 391.9L148.4 394.9L148.9 394.1L146.7 392.8Z" fill="#6FC900"/><path d="M160.5 415.2L162.7 415.7L163.1 414.1L160.9 413.4Z" fill="#1EB100"/><path d="M191.5 374.4L193.8 372.3L194 368.9L191.6 371.2Z" fill="#D2E100"/><path d="M127.2 371L129.6 372.9L130.3 372L127.9 369.9Z" fill="#D2E100"/><path d="M179.6 390.5L181.8 388.2L182 387.1L179.8 389.4Z" fill="#7FCD00"/><path d="M150.2 397.9L152.5 400.1L153 399L150.7 396.5Z" fill="#5FC500"/><path d="M162.7 415.7L164.9 415L165.2 413.1L163.1 414.1Z" fill="#1EB100"/><path d="M172.3 403.5L174.5 402.5L174.7 399.4L172.5 400.8Z" fill="#50C000"/><path d="M129.2 376.6L131.6 378.5L132 375.4L129.6 372.9Z" fill="#BEDD00"/><path d="M174.7 399.4L176.9 397.5L177.2 394.6L174.9 396.6Z" fill="#5FC500"/><path d="M137.5 386.5L139.7 386.8L140.4 387.1L138.1 386Z" fill="#91D200"/><path d="M131.2 381.3L133.5 382.9L134 380.6L131.6 378.5Z" fill="#A2D600"/><path d="M169.8 407.7L172 405.8L172.3 403.5L170.1 405.8Z" fill="#41BC00"/><path d="M184.2 385.5L186.5 383.3L186.6 382.7L184.4 384.8Z" fill="#99D400"/><path d="M177.2 394.6L179.4 392.4L179.6 390.5L177.4 392.4Z" fill="#77CB00"/><path d="M158.3 413.4L160.5 415.2L160.9 413.4L158.7 411.7Z" fill="#25B300"/><path d="M152.1 402.6L154.5 405.3L154.8 402.9L152.5 400.1Z" fill="#50C000"/><path d="M154.1 407.9L156.4 409.6L156.8 407.5L154.5 405.3Z" fill="#3ABA00"/><path d="M196.3 367.2L198.6 365.4L198.6 364.9L196.3 366.8Z" fill="#E6E600"/><path d="M135.1 384.8L137.5 386.5L138.1 386L135.8 384.4Z" fill="#91D200"/><path d="M143.7 390.5L146 391.9L146.7 392.8L144.3 390.7Z" fill="#77CB00"/><path d="M167.4 411.4L169.6 408.7L169.8 407.7L167.7 409.4Z" fill="#33B700"/><path d="M191.4 376.7L193.7 374.9L193.8 372.3L191.5 374.4Z" fill="#C8DF00"/><path d="M122.6 362.4L125.2 365.4L126.1 365.8L123.5 362.3Z" fill="#E6D80F"/><path d="M188.9 380.6L191.2 378.7L191.4 376.7L189 379Z" fill="#B5DB00"/><path d="M164.9 415L167.1 413.1L167.4 411.4L165.2 413.1Z" fill="#2CB500"/><path d="M147.8 395.5L150.2 397.9L150.7 396.5L148.4 394.9Z" fill="#67C700"/><path d="M193.8 372.3L196.1 370.4L196.3 367.2L194 368.9Z" fill="#DBE300"/><path d="M128.7 379.3L131.2 381.3L131.6 378.5L129.2 376.6Z" fill="#B5DB00"/><path d="M181.8 388.2L184.1 386.3L184.2 385.5L182 387.1Z" fill="#91D200"/><path d="M156 411.3L158.3 413.4L158.7 411.7L156.4 409.6Z" fill="#33B700"/><path d="M174.5 402.5L176.7 400.4L176.9 397.5L174.7 399.4Z" fill="#57C200"/><path d="M126.7 373.6L129.2 376.6L129.6 372.9L127.2 371Z" fill="#C8DF00"/><path d="M124.6 367L127.2 371L127.9 369.9L125.2 365.4Z" fill="#E6E600"/><path d="M132.7 382.9L135.1 384.8L135.8 384.4L133.5 382.9Z" fill="#99D400"/><path d="M141.4 388.8L143.7 390.5L144.3 390.7L142 389.1Z" fill="#88D000"/><path d="M172 405.8L174.2 403.8L174.5 402.5L172.3 403.5Z" fill="#48BE00"/><path d="M176.9 397.5L179.2 395.2L179.4 392.4L177.2 394.6Z" fill="#6FC900"/><path d="M186.5 383.3L188.9 381.1L188.9 380.6L186.6 382.7Z" fill="#A2D600"/><path d="M179.4 392.4L181.7 390.7L181.8 388.2L179.6 390.5Z" fill="#7FCD00"/><path d="M149.8 400.7L152.1 402.6L152.5 400.1L150.2 397.9Z" fill="#57C200"/><path d="M160.2 416.8L162.4 417.5L162.7 415.7L160.5 415.2Z" fill="#1EB100"/><path d="M151.8 405.3L154.1 407.9L154.5 405.3L152.1 402.6Z" fill="#48BE00"/><path d="M162.4 417.5L164.6 417L164.9 415L162.7 415.7Z" fill="#1EB100"/><path d="M193.7 374.9L196 373.6L196.1 370.4L193.8 372.3Z" fill="#D2E100"/><path d="M198.6 365.4L201.1 362.9L201 362L198.6 364.9Z" fill="#E6D80F"/><path d="M169.6 408.7L171.8 407L172 405.8L169.8 407.7Z" fill="#41BC00"/><path d="M157.9 415.3L160.2 416.8L160.5 415.2L158.3 413.4Z" fill="#25B300"/><path d="M145.5 393.9L147.8 395.5L148.4 394.9L146 391.9Z" fill="#77CB00"/><path d="M191.2 378.7L193.6 377.1L193.7 374.9L191.4 376.7Z" fill="#BEDD00"/><path d="M126.3 376.8L128.7 379.3L129.2 376.6L126.7 373.6Z" fill="#BEDD00"/><path d="M130.3 381L132.7 382.9L133.5 382.9L131.2 381.3Z" fill="#ACD800"/><path d="M153.7 409.3L156 411.3L156.4 409.6L154.1 407.9Z" fill="#3ABA00"/><path d="M196.1 370.4L198.5 368L198.6 365.4L196.3 367.2Z" fill="#E6E600"/><path d="M139 387.1L141.4 388.8L142 389.1L139.7 386.8Z" fill="#91D200"/><path d="M184.1 386.3L186.4 384.4L186.5 383.3L184.2 385.5Z" fill="#99D400"/><path d="M167.1 413.1L169.3 411.1L169.6 408.7L167.4 411.4Z" fill="#33B700"/><path d="M176.7 400.4L179 398.9L179.2 395.2L176.9 397.5Z" fill="#67C700"/><path d="M174.2 403.8L176.5 402.8L176.7 400.4L174.5 402.5Z" fill="#57C200"/><path d="M164.6 417L166.8 415.7L167.1 413.1L164.9 415Z" fill="#25B300"/><path d="M147.5 398.3L149.8 400.7L150.2 397.9L147.8 395.5Z" fill="#67C700"/><path d="M124.1 370.1L126.7 373.6L127.2 371L124.6 367Z" fill="#DBE300"/><path d="M149.4 403.4L151.8 405.3L152.1 402.6L149.8 400.7Z" fill="#57C200"/><path d="M179.2 395.2L181.5 393.8L181.7 390.7L179.4 392.4Z" fill="#77CB00"/><path d="M188.9 381.1L191.2 379.3L191.2 378.7L188.9 380.6Z" fill="#B5DB00"/><path d="M181.7 390.7L184 388.5L184.1 386.3L181.8 388.2Z" fill="#91D200"/><path d="M136.6 385.3L139 387.1L139.7 386.8L137.5 386.5Z" fill="#99D400"/><path d="M155.6 412.9L157.9 415.3L158.3 413.4L156 411.3Z" fill="#33B700"/><path d="M127.8 378.4L130.3 381L131.2 381.3L128.7 379.3Z" fill="#B5DB00"/><path d="M121.8 363L124.6 367L125.2 365.4L122.6 362.4Z" fill="#E6D80F"/><path d="M143.1 391L145.5 393.9L146 391.9L143.7 390.5Z" fill="#7FCD00"/><path d="M196 373.6L198.4 371L198.5 368L196.1 370.4Z" fill="#DBE300"/><path d="M193.6 377.1L196 374.8L196 373.6L193.7 374.9Z" fill="#C8DF00"/><path d="M171.8 407L174 405.9L174.2 403.8L172 405.8Z" fill="#48BE00"/><path d="M151.3 406.8L153.7 409.3L154.1 407.9L151.8 405.3Z" fill="#48BE00"/><path d="M159.8 418.5L162.1 419.6L162.4 417.5L160.2 416.8Z" fill="#1EB100"/><path d="M134.3 384.1L136.6 385.3L137.5 386.5L135.1 384.8Z" fill="#A2D600"/><path d="M162.1 419.6L164.3 419.3L164.6 417L162.4 417.5Z" fill="#1EB100"/><path d="M123.6 373.1L126.3 376.8L126.7 373.6L124.1 370.1Z" fill="#D2E100"/><path d="M198.5 368L201 365.1L201.1 362.9L198.6 365.4Z" fill="#E6D80F"/><path d="M201.1 362.9L203.6 359.4L203.5 358.8L201 362Z" fill="#E7CC1F"/><path d="M179 398.9L181.3 396.8L181.5 393.8L179.2 395.2Z" fill="#6FC900"/><path d="M176.5 402.8L178.8 400.4L179 398.9L176.7 400.4Z" fill="#5FC500"/><path d="M145 395.6L147.5 398.3L147.8 395.5L145.5 393.9Z" fill="#77CB00"/><path d="M157.5 417.7L159.8 418.5L160.2 416.8L157.9 415.3Z" fill="#25B300"/><path d="M186.4 384.4L188.8 381.7L188.9 381.1L186.5 383.3Z" fill="#ACD800"/><path d="M147.1 401.2L149.4 403.4L149.8 400.7L147.5 398.3Z" fill="#5FC500"/><path d="M169.3 411.1L171.5 409.2L171.8 407L169.6 408.7Z" fill="#41BC00"/><path d="M166.8 415.7L169 413.9L169.3 411.1L167.1 413.1Z" fill="#33B700"/><path d="M140.7 389.6L143.1 391L143.7 390.5L141.4 388.8Z" fill="#91D200"/><path d="M181.5 393.8L183.8 392L184 388.5L181.7 390.7Z" fill="#88D000"/><path d="M191.2 379.3L193.6 377.1L193.6 377.1L191.2 378.7Z" fill="#BEDD00"/><path d="M153.2 411L155.6 412.9L156 411.3L153.7 409.3Z" fill="#3ABA00"/><path d="M125.4 376.5L127.8 378.4L128.7 379.3L126.3 376.8Z" fill="#BEDD00"/><path d="M164.3 419.3L166.5 418.2L166.8 415.7L164.6 417Z" fill="#25B300"/><path d="M131.8 382L134.3 384.1L135.1 384.8L132.7 382.9Z" fill="#ACD800"/><path d="M184 388.5L186.3 386L186.4 384.4L184.1 386.3Z" fill="#99D400"/><path d="M149 405.2L151.3 406.8L151.8 405.3L149.4 403.4Z" fill="#50C000"/><path d="M174 405.9L176.3 403.4L176.5 402.8L174.2 403.8Z" fill="#57C200"/><path d="M121.4 366.7L124.1 370.1L124.6 367L121.8 363Z" fill="#E6D80F"/><path d="M196 374.8L198.4 373L198.4 371L196 373.6Z" fill="#DBE300"/><path d="M155.2 415.3L157.5 417.7L157.9 415.3L155.6 412.9Z" fill="#2CB500"/><path d="M138.4 388L140.7 389.6L141.4 388.8L139 387.1Z" fill="#99D400"/><path d="M198.4 371L200.9 368.5L201 365.1L198.5 368Z" fill="#E6DF08"/><path d="M142.6 393.7L145 395.6L145.5 393.9L143.1 391Z" fill="#7FCD00"/><path d="M144.7 399.6L147.1 401.2L147.5 398.3L145 395.6Z" fill="#6FC900"/><path d="M159.5 421.2L161.8 422.2L162.1 419.6L159.8 418.5Z" fill="#1EB100"/><path d="M161.8 422.2L164 421.7L164.3 419.3L162.1 419.6Z" fill="#1EB100"/><path d="M181.3 396.8L183.6 394.9L183.8 392L181.5 393.8Z" fill="#7FCD00"/><path d="M171.5 409.2L173.8 407.5L174 405.9L171.8 407Z" fill="#48BE00"/><path d="M129.4 379.8L131.8 382L132.7 382.9L130.3 381Z" fill="#B5DB00"/><path d="M150.9 409L153.2 411L153.7 409.3L151.3 406.8Z" fill="#48BE00"/><path d="M188.8 381.7L191.2 380.3L191.2 379.3L188.9 381.1Z" fill="#B5DB00"/><path d="M178.8 400.4L181.1 398.1L181.3 396.8L179 398.9Z" fill="#6FC900"/><path d="M166.5 418.2L168.7 416.7L169 413.9L166.8 415.7Z" fill="#2CB500"/><path d="M169 413.9L171.3 412.2L171.5 409.2L169.3 411.1Z" fill="#3ABA00"/><path d="M157.2 420.5L159.5 421.2L159.8 418.5L157.5 417.7Z" fill="#1EB100"/><path d="M193.6 377.1L196 375.3L196 374.8L193.6 377.1Z" fill="#C8DF00"/><path d="M146.6 402.9L149 405.2L149.4 403.4L147.1 401.2Z" fill="#5FC500"/><path d="M201 365.1L203.5 362.8L203.6 359.4L201.1 362.9Z" fill="#E7CC1F"/><path d="M120.9 369.5L123.6 373.1L124.1 370.1L121.4 366.7Z" fill="#E6E600"/><path d="M136 386.4L138.4 388L139 387.1L136.6 385.3Z" fill="#A2D600"/><path d="M122.6 372.7L125.4 376.5L126.3 376.8L123.6 373.1Z" fill="#D2E100"/><path d="M183.8 392L186.1 389.2L186.3 386L184 388.5Z" fill="#99D400"/><path d="M203.6 359.4L206.2 356L206 356.1L203.5 358.8Z" fill="#E8C32E"/><path d="M176.3 403.4L178.6 402.2L178.8 400.4L176.5 402.8Z" fill="#5FC500"/><path d="M186.3 386L188.7 383.9L188.8 381.7L186.4 384.4Z" fill="#ACD800"/><path d="M152.9 413.6L155.2 415.3L155.6 412.9L153.2 411Z" fill="#3ABA00"/><path d="M164 421.7L166.2 419.6L166.5 418.2L164.3 419.3Z" fill="#25B300"/><path d="M140.3 392.3L142.6 393.7L143.1 391L140.7 389.6Z" fill="#88D000"/><path d="M154.9 419.5L157.2 420.5L157.5 417.7L155.2 415.3Z" fill="#25B300"/><path d="M142.3 397.7L144.7 399.6L145 395.6L142.6 393.7Z" fill="#77CB00"/><path d="M198.4 373L200.9 370L200.9 368.5L198.4 371Z" fill="#E6E600"/><path d="M133.6 384.7L136 386.4L136.6 385.3L134.3 384.1Z" fill="#ACD800"/><path d="M148.5 406.9L150.9 409L151.3 406.8L149 405.2Z" fill="#50C000"/><path d="M126.8 377.4L129.4 379.8L130.3 381L127.8 378.4Z" fill="#BEDD00"/><path d="M173.8 407.5L176.1 406.3L176.3 403.4L174 405.9Z" fill="#57C200"/><path d="M183.6 394.9L185.9 393.3L186.1 389.2L183.8 392Z" fill="#88D000"/><path d="M144.1 400.6L146.6 402.9L147.1 401.2L144.7 399.6Z" fill="#67C700"/><path d="M138 391.2L140.3 392.3L140.7 389.6L138.4 388Z" fill="#91D200"/><path d="M200.9 368.5L203.4 365.3L203.5 362.8L201 365.1Z" fill="#E7D217"/><path d="M159.1 423.7L161.4 424.2L161.8 422.2L159.5 421.2Z" fill="#18AF00"/><path d="M181.1 398.1L183.4 396.7L183.6 394.9L181.3 396.8Z" fill="#77CB00"/><path d="M191.2 380.3L193.6 377.4L193.6 377.1L191.2 379.3Z" fill="#C8DF00"/><path d="M171.3 412.2L173.5 410.4L173.8 407.5L171.5 409.2Z" fill="#48BE00"/><path d="M168.7 416.7L171 414.6L171.3 412.2L169 413.9Z" fill="#3ABA00"/><path d="M161.4 424.2L163.7 423.8L164 421.7L161.8 422.2Z" fill="#18AF00"/><path d="M150.5 412L152.9 413.6L153.2 411L150.9 409Z" fill="#41BC00"/><path d="M196 375.3L198.5 372.7L198.4 373L196 374.8Z" fill="#DBE300"/><path d="M140 396.3L142.3 397.7L142.6 393.7L140.3 392.3Z" fill="#7FCD00"/><path d="M156.8 423L159.1 423.7L159.5 421.2L157.2 420.5Z" fill="#1EB100"/><path d="M152.5 416.7L154.9 419.5L155.2 415.3L152.9 413.6Z" fill="#33B700"/><path d="M166.2 419.6L168.5 418.8L168.7 416.7L166.5 418.2Z" fill="#2CB500"/><path d="M131.1 382.8L133.6 384.7L134.3 384.1L131.8 382Z" fill="#B5DB00"/><path d="M178.6 402.2L180.9 400.7L181.1 398.1L178.8 400.4Z" fill="#6FC900"/><path d="M154.5 421.9L156.8 423L157.2 420.5L154.9 419.5Z" fill="#1EB100"/><path d="M188.7 383.9L191.1 381.9L191.2 380.3L188.8 381.7Z" fill="#B5DB00"/><path d="M186.1 389.2L188.5 386.8L188.7 383.9L186.3 386Z" fill="#A2D600"/><path d="M146.1 405.2L148.5 406.9L149 405.2L146.6 402.9Z" fill="#5FC500"/><path d="M135.5 388.7L138 391.2L138.4 388L136 386.4Z" fill="#99D400"/><path d="M124.3 375L126.8 377.4L127.8 378.4L125.4 376.5Z" fill="#D2E100"/><path d="M141.7 399L144.1 400.6L144.7 399.6L142.3 397.7Z" fill="#6FC900"/><path d="M203.5 362.8L206.1 358.6L206.2 356L203.6 359.4Z" fill="#E8C32E"/><path d="M137.5 393.9L140 396.3L140.3 392.3L138 391.2Z" fill="#88D000"/><path d="M206.2 356L208.8 353L208.6 352.7L206 356.1Z" fill="#E9BB3E"/><path d="M119.8 368.4L122.6 372.7L123.6 373.1L120.9 369.5Z" fill="#E6DF08"/><path d="M176.1 406.3L178.4 404L178.6 402.2L176.3 403.4Z" fill="#5FC500"/><path d="M148.1 410.2L150.5 412L150.9 409L148.5 406.9Z" fill="#50C000"/><path d="M163.7 423.8L165.9 421.9L166.2 419.6L164 421.7Z" fill="#1EB100"/><path d="M173.5 410.4L175.8 408.8L176.1 406.3L173.8 407.5Z" fill="#50C000"/><path d="M183.4 396.7L185.8 394.6L185.9 393.3L183.6 394.9Z" fill="#88D000"/><path d="M150.2 415.9L152.5 416.7L152.9 413.6L150.5 412Z" fill="#3ABA00"/><path d="M152.2 420.8L154.5 421.9L154.9 419.5L152.5 416.7Z" fill="#2CB500"/><path d="M200.9 370L203.4 367.2L203.4 365.3L200.9 368.5Z" fill="#E6D80F"/><path d="M193.6 377.4L196 375.7L196 375.3L193.6 377.1Z" fill="#D2E100"/><path d="M171 414.6L173.3 412.8L173.5 410.4L171.3 412.2Z" fill="#41BC00"/><path d="M185.9 393.3L188.3 390.5L188.5 386.8L186.1 389.2Z" fill="#99D400"/><path d="M128.6 380.1L131.1 382.8L131.8 382L129.4 379.8Z" fill="#BEDD00"/><path d="M133 387.1L135.5 388.7L136 386.4L133.6 384.7Z" fill="#ACD800"/><path d="M139.3 397.4L141.7 399L142.3 397.7L140 396.3Z" fill="#7FCD00"/><path d="M158.8 426.4L161.1 426.7L161.4 424.2L159.1 423.7Z" fill="#18AF00"/><path d="M168.5 418.8L170.7 416.9L171 414.6L168.7 416.7Z" fill="#33B700"/><path d="M135.1 393L137.5 393.9L138 391.2L135.5 388.7Z" fill="#91D200"/><path d="M143.7 403L146.1 405.2L146.6 402.9L144.1 400.6Z" fill="#67C700"/><path d="M198.5 372.7L201 370.2L200.9 370L198.4 373Z" fill="#E6DF08"/><path d="M203.4 365.3L206 362L206.1 358.6L203.5 362.8Z" fill="#E8C727"/><path d="M156.4 424.5L158.8 426.4L159.1 423.7L156.8 423Z" fill="#1EB100"/><path d="M180.9 400.7L183.3 397.7L183.4 396.7L181.1 398.1Z" fill="#77CB00"/><path d="M161.1 426.7L163.3 425.4L163.7 423.8L161.4 424.2Z" fill="#18AF00"/><path d="M147.8 414.2L150.2 415.9L150.5 412L148.1 410.2Z" fill="#41BC00"/><path d="M145.7 408.6L148.1 410.2L148.5 406.9L146.1 405.2Z" fill="#57C200"/><path d="M191.1 381.9L193.5 379.8L193.6 377.4L191.2 380.3Z" fill="#C8DF00"/><path d="M188.5 386.8L190.9 384.9L191.1 381.9L188.7 383.9Z" fill="#B5DB00"/><path d="M149.8 418.9L152.2 420.8L152.5 416.7L150.2 415.9Z" fill="#33B700"/><path d="M121.6 371.7L124.3 375L125.4 376.5L122.6 372.7Z" fill="#E6E600"/><path d="M178.4 404L180.7 402.5L180.9 400.7L178.6 402.2Z" fill="#67C700"/><path d="M130.6 385.6L133 387.1L133.6 384.7L131.1 382.8Z" fill="#B5DB00"/><path d="M136.9 395.6L139.3 397.4L140 396.3L137.5 393.9Z" fill="#88D000"/><path d="M175.8 408.8L178.1 407.3L178.4 404L176.1 406.3Z" fill="#57C200"/><path d="M154.1 423.2L156.4 424.5L156.8 423L154.5 421.9Z" fill="#1EB100"/><path d="M132.7 391.3L135.1 393L135.5 388.7L133 387.1Z" fill="#99D400"/><path d="M165.9 421.9L168.1 419.4L168.5 418.8L166.2 419.6Z" fill="#2CB500"/><path d="M173.3 412.8L175.6 412.1L175.8 408.8L173.5 410.4Z" fill="#48BE00"/><path d="M126 378L128.6 380.1L129.4 379.8L126.8 377.4Z" fill="#D2E100"/><path d="M141.3 401.4L143.7 403L144.1 400.6L141.7 399Z" fill="#6FC900"/><path d="M145.4 413L147.8 414.2L148.1 410.2L145.7 408.6Z" fill="#48BE00"/><path d="M206.1 358.6L208.7 356.2L208.8 353L206.2 356Z" fill="#E9BB3E"/><path d="M147.5 417.9L149.8 418.9L150.2 415.9L147.8 414.2Z" fill="#3ABA00"/><path d="M185.8 394.6L188.2 392.2L188.3 390.5L185.9 393.3Z" fill="#91D200"/><path d="M208.8 353L211.4 349.9L211.2 349.5L208.6 352.7Z" fill="#EAB64E"/><path d="M196 375.7L198.5 373.2L198.5 372.7L196 375.3Z" fill="#E6E600"/><path d="M143.3 406.7L145.7 408.6L146.1 405.2L143.7 403Z" fill="#5FC500"/><path d="M188.3 390.5L190.7 388.7L190.9 384.9L188.5 386.8Z" fill="#ACD800"/><path d="M170.7 416.9L173 415.2L173.3 412.8L171 414.6Z" fill="#41BC00"/><path d="M151.7 421.9L154.1 423.2L154.5 421.9L152.2 420.8Z" fill="#25B300"/><path d="M163.3 425.4L165.6 423.7L165.9 421.9L163.7 423.8Z" fill="#1EB100"/><path d="M134.6 394.9L136.9 395.6L137.5 393.9L135.1 393Z" fill="#91D200"/><path d="M203.4 367.2L206 364.2L206 362L203.4 365.3Z" fill="#E7CC1F"/><path d="M130.3 389.7L132.7 391.3L133 387.1L130.6 385.6Z" fill="#A2D600"/><path d="M190.9 384.9L193.3 383.7L193.5 379.8L191.1 381.9Z" fill="#BEDD00"/><path d="M128.1 383.4L130.6 385.6L131.1 382.8L128.6 380.1Z" fill="#BEDD00"/><path d="M183.3 397.7L185.7 395.6L185.8 394.6L183.4 396.7Z" fill="#88D000"/><path d="M193.5 379.8L196 378L196 375.7L193.6 377.4Z" fill="#D2E100"/><path d="M145 416.1L147.5 417.9L147.8 414.2L145.4 413Z" fill="#41BC00"/><path d="M158.4 427.7L160.7 428.4L161.1 426.7L158.8 426.4Z" fill="#18AF00"/><path d="M138.8 399.5L141.3 401.4L141.7 399L139.3 397.4Z" fill="#77CB00"/><path d="M143 411.4L145.4 413L145.7 408.6L143.3 406.7Z" fill="#50C000"/><path d="M201 370.2L203.5 367.5L203.4 367.2L200.9 370Z" fill="#E6D80F"/><path d="M132.1 393.5L134.6 394.9L135.1 393L132.7 391.3Z" fill="#91D200"/><path d="M175.6 412.1L177.9 410L178.1 407.3L175.8 408.8Z" fill="#57C200"/><path d="M140.9 405.6L143.3 406.7L143.7 403L141.3 401.4Z" fill="#67C700"/><path d="M160.7 428.4L163 428.2L163.3 425.4L161.1 426.7Z" fill="#18AF00"/><path d="M149.3 420.3L151.7 421.9L152.2 420.8L149.8 418.9Z" fill="#2CB500"/><path d="M178.1 407.3L180.5 405.3L180.7 402.5L178.4 404Z" fill="#67C700"/><path d="M168.1 419.4L170.4 417.9L170.7 416.9L168.5 418.8Z" fill="#33B700"/><path d="M180.7 402.5L183.1 399.4L183.3 397.7L180.9 400.7Z" fill="#77CB00"/><path d="M206 362L208.7 358.6L208.7 356.2L206.1 358.6Z" fill="#E8BF36"/><path d="M123.4 375L126 378L126.8 377.4L124.3 375Z" fill="#DBE300"/><path d="M156 426.1L158.4 427.7L158.8 426.4L156.4 424.5Z" fill="#1EB100"/><path d="M127.7 387.8L130.3 389.7L130.6 385.6L128.1 383.4Z" fill="#B5DB00"/><path d="M190.7 388.7L193.1 387.4L193.3 383.7L190.9 384.9Z" fill="#B5DB00"/><path d="M140.7 410.6L143 411.4L143.3 406.7L140.9 405.6Z" fill="#57C200"/><path d="M142.6 414.8L145 416.1L145.4 413L143 411.4Z" fill="#48BE00"/><path d="M136.4 398.6L138.8 399.5L139.3 397.4L136.9 395.6Z" fill="#7FCD00"/><path d="M173 415.2L175.4 413.2L175.6 412.1L173.3 412.8Z" fill="#48BE00"/><path d="M118.6 366.9L121.6 371.7L122.6 372.7L119.8 368.4Z" fill="#E6D80F"/><path d="M188.2 392.2L190.7 390.2L190.7 388.7L188.3 390.5Z" fill="#A2D600"/><path d="M129.6 391.4L132.1 393.5L132.7 391.3L130.3 389.7Z" fill="#99D400"/><path d="M125.6 381.4L128.1 383.4L128.6 380.1L126 378Z" fill="#C8DF00"/><path d="M198.5 373.2L201.1 370.8L201 370.2L198.5 372.7Z" fill="#E6DF08"/><path d="M138.5 404.2L140.9 405.6L141.3 401.4L138.8 399.5Z" fill="#6FC900"/><path d="M146.9 418.9L149.3 420.3L149.8 418.9L147.5 417.9Z" fill="#33B700"/><path d="M208.7 356.2L211.4 353.1L211.4 349.9L208.8 353Z" fill="#E9B846"/><path d="M193.3 383.7L195.8 381.9L196 378L193.5 379.8Z" fill="#C8DF00"/><path d="M165.6 423.7L167.9 422L168.1 419.4L165.9 421.9Z" fill="#2CB500"/><path d="M211.4 349.9L214.1 347L213.9 346.5L211.2 349.5Z" fill="#EAB456"/><path d="M138.3 409.2L140.7 410.6L140.9 405.6L138.5 404.2Z" fill="#5FC500"/><path d="M140.3 414.1L142.6 414.8L143 411.4L140.7 410.6Z" fill="#50C000"/><path d="M134 396.9L136.4 398.6L136.9 395.6L134.6 394.9Z" fill="#88D000"/><path d="M153.6 424.6L156 426.1L156.4 424.5L154.1 423.2Z" fill="#25B300"/><path d="M163 428.2L165.3 426.5L165.6 423.7L163.3 425.4Z" fill="#1EB100"/><path d="M196 378L198.5 375.2L198.5 373.2L196 375.7Z" fill="#E6E600"/><path d="M185.7 395.6L188.1 393.8L188.2 392.2L185.8 394.6Z" fill="#91D200"/><path d="M125.2 385.7L127.7 387.8L128.1 383.4L125.6 381.4Z" fill="#BEDD00"/><path d="M136.1 403L138.5 404.2L138.8 399.5L136.4 398.6Z" fill="#77CB00"/><path d="M177.9 410L180.3 408.1L180.5 405.3L178.1 407.3Z" fill="#5FC500"/><path d="M206 364.2L208.6 361.3L208.7 358.6L206 362Z" fill="#E8C32E"/><path d="M127.2 390.4L129.6 391.4L130.3 389.7L127.7 387.8Z" fill="#ACD800"/><path d="M137.8 412.4L140.3 414.1L140.7 410.6L138.3 409.2Z" fill="#50C000"/><path d="M144.5 417.5L146.9 418.9L147.5 417.9L145 416.1Z" fill="#3ABA00"/><path d="M170.4 417.9L172.8 415.7L173 415.2L170.7 416.9Z" fill="#41BC00"/><path d="M131.6 396.3L134 396.9L134.6 394.9L132.1 393.5Z" fill="#91D200"/><path d="M135.8 407.6L138.3 409.2L138.5 404.2L136.1 403Z" fill="#67C700"/><path d="M193.1 387.4L195.6 385L195.8 381.9L193.3 383.7Z" fill="#BEDD00"/><path d="M203.5 367.5L206.2 364.3L206 364.2L203.4 367.2Z" fill="#E7CC1F"/><path d="M180.5 405.3L182.9 403L183.1 399.4L180.7 402.5Z" fill="#77CB00"/><path d="M120.5 371.2L123.4 375L124.3 375L121.6 371.7Z" fill="#E6DF08"/><path d="M183.1 399.4L185.5 398.1L185.7 395.6L183.3 397.7Z" fill="#88D000"/><path d="M175.4 413.2L177.7 411.4L177.9 410L175.6 412.1Z" fill="#50C000"/><path d="M160.3 430.7L162.7 430.9L163 428.2L160.7 428.4Z" fill="#18AF00"/><path d="M151.2 422.7L153.6 424.6L154.1 423.2L151.7 421.9Z" fill="#2CB500"/><path d="M190.7 390.2L193.1 388.6L193.1 387.4L190.7 388.7Z" fill="#ACD800"/><path d="M158 429.7L160.3 430.7L160.7 428.4L158.4 427.7Z" fill="#18AF00"/><path d="M208.7 358.6L211.3 356.2L211.4 353.1L208.7 356.2Z" fill="#E9BB3E"/><path d="M135.5 412.2L137.8 412.4L138.3 409.2L135.8 407.6Z" fill="#57C200"/><path d="M133.6 401.4L136.1 403L136.4 398.6L134 396.9Z" fill="#7FCD00"/><path d="M122.8 378.1L125.6 381.4L126 378L123.4 375Z" fill="#DBE300"/><path d="M142 416.1L144.5 417.5L145 416.1L142.6 414.8Z" fill="#41BC00"/><path d="M133.4 406.6L135.8 407.6L136.1 403L133.6 401.4Z" fill="#6FC900"/><path d="M129.1 394.4L131.6 396.3L132.1 393.5L129.6 391.4Z" fill="#99D400"/><path d="M167.9 422L170.2 419.8L170.4 417.9L168.1 419.4Z" fill="#3ABA00"/><path d="M124.6 387.8L127.2 390.4L127.7 387.8L125.2 385.7Z" fill="#B5DB00"/><path d="M195.8 381.9L198.3 378.7L198.5 375.2L196 378Z" fill="#DBE300"/><path d="M133.1 411L135.5 412.2L135.8 407.6L133.4 406.6Z" fill="#5FC500"/><path d="M155.6 428.3L158 429.7L158.4 427.7L156 426.1Z" fill="#1EB100"/><path d="M201.1 370.8L203.7 367.4L203.5 367.5L201 370.2Z" fill="#E7D217"/><path d="M214.1 347L216.7 344.6L216.5 344.1L213.9 346.5Z" fill="#EBB166"/><path d="M165.3 426.5L167.6 424.4L167.9 422L165.6 423.7Z" fill="#2CB500"/><path d="M162.7 430.9L164.9 429.6L165.3 426.5L163 428.2Z" fill="#18AF00"/><path d="M131.2 400.1L133.6 401.4L134 396.9L131.6 396.3Z" fill="#88D000"/><path d="M122.6 383.1L125.2 385.7L125.6 381.4L122.8 378.1Z" fill="#C8DF00"/><path d="M211.4 353.1L214.1 350L214.1 347L211.4 349.9Z" fill="#EAB456"/><path d="M148.7 421.2L151.2 422.7L151.7 421.9L149.3 420.3Z" fill="#33B700"/><path d="M188.1 393.8L190.6 392L190.7 390.2L188.2 392.2Z" fill="#A2D600"/><path d="M131 405.9L133.4 406.6L133.6 401.4L131.2 400.1Z" fill="#77CB00"/><path d="M139.6 414.8L142 416.1L142.6 414.8L140.3 414.1Z" fill="#48BE00"/><path d="M130.7 410.3L133.1 411L133.4 406.6L131 405.9Z" fill="#5FC500"/><path d="M198.5 375.2L201 373L201.1 370.8L198.5 373.2Z" fill="#E6DF08"/><path d="M172.8 415.7L175.1 414.7L175.4 413.2L173 415.2Z" fill="#48BE00"/><path d="M180.3 408.1L182.7 406L182.9 403L180.5 405.3Z" fill="#6FC900"/><path d="M126.6 392.7L129.1 394.4L129.6 391.4L127.2 390.4Z" fill="#A2D600"/><path d="M128.3 409.5L130.7 410.3L131 405.9L128.6 405Z" fill="#67C700"/><path d="M128.6 405L131 405.9L131.2 400.1L128.8 399.1Z" fill="#77CB00"/><path d="M128.8 399.1L131.2 400.1L131.6 396.3L129.1 394.4Z" fill="#91D200"/><path d="M193.1 388.6L195.6 386.5L195.6 385L193.1 387.4Z" fill="#B5DB00"/><path d="M137.2 414.3L139.6 414.8L140.3 414.1L137.8 412.4Z" fill="#50C000"/><path d="M185.5 398.1L188 395.8L188.1 393.8L185.7 395.6Z" fill="#91D200"/><path d="M195.6 385L198.1 382.8L198.3 378.7L195.8 381.9Z" fill="#C8DF00"/><path d="M177.7 411.4L180.1 409.7L180.3 408.1L177.9 410Z" fill="#5FC500"/><path d="M182.9 403L185.3 401.1L185.5 398.1L183.1 399.4Z" fill="#7FCD00"/><path d="M208.6 361.3L211.3 358.1L211.3 356.2L208.7 358.6Z" fill="#E9BB3E"/><path d="M153.1 426.2L155.6 428.3L156 426.1L153.6 424.6Z" fill="#25B300"/><path d="M146.3 419.8L148.7 421.2L149.3 420.3L146.9 418.9Z" fill="#3ABA00"/><path d="M125.8 408.1L128.3 409.5L128.6 405L126.2 403.9Z" fill="#6FC900"/><path d="M134.8 413.2L137.2 414.3L137.8 412.4L135.5 412.2Z" fill="#57C200"/><path d="M160 433L162.3 433.4L162.7 430.9L160.3 430.7Z" fill="#12AC00"/><path d="M206.2 364.3L208.9 360.9L208.6 361.3L206 364.2Z" fill="#E8C32E"/><path d="M126.2 403.9L128.6 405L128.8 399.1L126.2 397.3Z" fill="#7FCD00"/><path d="M211.3 356.2L214 353.5L214.1 350L211.4 353.1Z" fill="#EAB64E"/><path d="M121.8 384.9L124.6 387.8L125.2 385.7L122.6 383.1Z" fill="#BEDD00"/><path d="M157.6 432.1L160 433L160.3 430.7L158 429.7Z" fill="#18AF00"/><path d="M117.7 367.5L120.5 371.2L121.6 371.7L118.6 366.9Z" fill="#E7D217"/><path d="M132.3 412.2L134.8 413.2L135.5 412.2L133.1 411Z" fill="#57C200"/><path d="M120 374.1L122.8 378.1L123.4 375L120.5 371.2Z" fill="#E6DF08"/><path d="M126.2 397.3L128.8 399.1L129.1 394.4L126.6 392.7Z" fill="#99D400"/><path d="M170.2 419.8L172.5 417.9L172.8 415.7L170.4 417.9Z" fill="#41BC00"/><path d="M124 390.9L126.6 392.7L127.2 390.4L124.6 387.8Z" fill="#ACD800"/><path d="M167.6 424.4L169.9 422.7L170.2 419.8L167.9 422Z" fill="#33B700"/><path d="M190.6 392L193.1 389.3L193.1 388.6L190.7 390.2Z" fill="#ACD800"/><path d="M216.7 344.6L219.5 341.8L219.2 341.3L216.5 344.1Z" fill="#EBB16E"/><path d="M164.9 429.6L167.2 427.1L167.6 424.4L165.3 426.5Z" fill="#25B300"/><path d="M123.3 406.6L125.8 408.1L126.2 403.9L123.7 402.3Z" fill="#6FC900"/><path d="M143.8 418L146.3 419.8L146.9 418.9L144.5 417.5Z" fill="#41BC00"/><path d="M198.3 378.7L200.9 376.4L201 373L198.5 375.2Z" fill="#E6DF08"/><path d="M175.1 414.7L177.5 412.9L177.7 411.4L175.4 413.2Z" fill="#57C200"/><path d="M214.1 350L216.6 348.4L216.7 344.6L214.1 347Z" fill="#EBB25E"/><path d="M150.7 424.8L153.1 426.2L153.6 424.6L151.2 422.7Z" fill="#2CB500"/><path d="M162.3 433.4L164.6 431.7L164.9 429.6L162.7 430.9Z" fill="#18AF00"/><path d="M129.9 411L132.3 412.2L133.1 411L130.7 410.3Z" fill="#5FC500"/><path d="M123.7 402.3L126.2 403.9L126.2 397.3L123.7 395.5Z" fill="#88D000"/><path d="M182.7 406L185.1 404.5L185.3 401.1L182.9 403Z" fill="#77CB00"/><path d="M119.7 379.3L122.6 383.1L122.8 378.1L120 374.1Z" fill="#E6E600"/><path d="M155.1 430L157.6 432.1L158 429.7L155.6 428.3Z" fill="#1EB100"/><path d="M203.7 367.4L206.4 363.7L206.2 364.3L203.5 367.5Z" fill="#E8C727"/><path d="M127.5 410.6L129.9 411L130.7 410.3L128.3 409.5Z" fill="#5FC500"/><path d="M201 373L203.7 369.9L203.7 367.4L201.1 370.8Z" fill="#E7D217"/><path d="M185.3 401.1L187.8 399.2L188 395.8L185.5 398.1Z" fill="#91D200"/><path d="M188 395.8L190.5 393.3L190.6 392L188.1 393.8Z" fill="#A2D600"/><path d="M195.6 386.5L198.1 384.2L198.1 382.8L195.6 385Z" fill="#C8DF00"/><path d="M123.7 395.5L126.2 397.3L126.6 392.7L124 390.9Z" fill="#A2D600"/><path d="M180.1 409.7L182.6 407.1L182.7 406L180.3 408.1Z" fill="#67C700"/><path d="M141.3 416.8L143.8 418L144.5 417.5L142 416.1Z" fill="#48BE00"/><path d="M120.8 405.2L123.3 406.6L123.7 402.3L121.1 400.6Z" fill="#77CB00"/><path d="M125 409.6L127.5 410.6L128.3 409.5L125.8 408.1Z" fill="#67C700"/><path d="M198.1 382.8L200.7 380.5L200.9 376.4L198.3 378.7Z" fill="#DBE300"/><path d="M211.3 358.1L214.1 355L214 353.5L211.3 356.2Z" fill="#E9B846"/><path d="M148.2 422.3L150.7 424.8L151.2 422.7L148.7 421.2Z" fill="#3ABA00"/><path d="M121.3 388.1L124 390.9L124.6 387.8L121.8 384.9Z" fill="#BEDD00"/><path d="M172.5 417.9L174.9 416.2L175.1 414.7L172.8 415.7Z" fill="#50C000"/><path d="M121.1 400.6L123.7 402.3L123.7 395.5L121.1 393.5Z" fill="#91D200"/><path d="M214 353.5L216.7 350.2L216.6 348.4L214.1 350Z" fill="#EAB456"/><path d="M119.1 381.7L121.8 384.9L122.6 383.1L119.7 379.3Z" fill="#D2E100"/><path d="M138.9 415.6L141.3 416.8L142 416.1L139.6 414.8Z" fill="#50C000"/><path d="M193.1 389.3L195.6 387.8L195.6 386.5L193.1 388.6Z" fill="#BEDD00"/><path d="M152.7 428.1L155.1 430L155.6 428.3L153.1 426.2Z" fill="#25B300"/><path d="M159.6 435.1L161.9 435.6L162.3 433.4L160 433Z" fill="#12AC00"/><path d="M169.9 422.7L172.2 421.3L172.5 417.9L170.2 419.8Z" fill="#41BC00"/><path d="M208.9 360.9L211.6 357.9L211.3 358.1L208.6 361.3Z" fill="#E9BB3E"/><path d="M177.5 412.9L179.9 411.1L180.1 409.7L177.7 411.4Z" fill="#5FC500"/><path d="M122.5 407.8L125 409.6L125.8 408.1L123.3 406.6Z" fill="#6FC900"/><path d="M167.2 427.1L169.6 426.1L169.9 422.7L167.6 424.4Z" fill="#33B700"/><path d="M164.6 431.7L167 430.4L167.2 427.1L164.9 429.6Z" fill="#1EB100"/><path d="M157.2 434.5L159.6 435.1L160 433L157.6 432.1Z" fill="#18AF00"/><path d="M216.6 348.4L219.4 345L219.5 341.8L216.7 344.6Z" fill="#EBB16E"/><path d="M117.2 371L120 374.1L120.5 371.2L117.7 367.5Z" fill="#E7D217"/><path d="M185.1 404.5L187.6 402.3L187.8 399.2L185.3 401.1Z" fill="#88D000"/><path d="M121.1 393.5L123.7 395.5L124 390.9L121.3 388.1Z" fill="#ACD800"/><path d="M200.9 376.4L203.6 373L203.7 369.9L201 373Z" fill="#E6D80F"/><path d="M118.1 402.9L120.8 405.2L121.1 400.6L118.4 397.9Z" fill="#88D000"/><path d="M136.4 414L138.9 415.6L139.6 414.8L137.2 414.3Z" fill="#57C200"/><path d="M145.7 420.9L148.2 422.3L148.7 421.2L146.3 419.8Z" fill="#41BC00"/><path d="M219.5 341.8L222.4 337.3L222.1 337.5L219.2 341.3Z" fill="#ECB17E"/><path d="M161.9 435.6L164.3 434L164.6 431.7L162.3 433.4Z" fill="#18AF00"/><path d="M117 376.7L119.7 379.3L120 374.1L117.2 371Z" fill="#E6D80F"/><path d="M190.5 393.3L193 391.7L193.1 389.3L190.6 392Z" fill="#ACD800"/><path d="M182.6 407.1L185 405.7L185.1 404.5L182.7 406Z" fill="#77CB00"/><path d="M187.8 399.2L190.3 396.8L190.5 393.3L188 395.8Z" fill="#99D400"/><path d="M134 413.8L136.4 414L137.2 414.3L134.8 413.2Z" fill="#57C200"/><path d="M198.1 384.2L200.8 381.6L200.7 380.5L198.1 382.8Z" fill="#D2E100"/><path d="M150.2 426.9L152.7 428.1L153.1 426.2L150.7 424.8Z" fill="#2CB500"/><path d="M154.7 432.7L157.2 434.5L157.6 432.1L155.1 430Z" fill="#1EB100"/><path d="M118.4 397.9L121.1 400.6L121.1 393.5L118.4 391.1Z" fill="#A2D600"/><path d="M119.8 405.7L122.5 407.8L123.3 406.6L120.8 405.2Z" fill="#77CB00"/><path d="M174.9 416.2L177.3 414.4L177.5 412.9L175.1 414.7Z" fill="#57C200"/><path d="M131.5 412.3L134 413.8L134.8 413.2L132.3 412.2Z" fill="#5FC500"/><path d="M206.4 363.7L209.2 360.1L208.9 360.9L206.2 364.3Z" fill="#E8BF36"/><path d="M200.7 380.5L203.4 377.6L203.6 373L200.9 376.4Z" fill="#E6DF08"/><path d="M118.6 385.3L121.3 388.1L121.8 384.9L119.1 381.7Z" fill="#D2E100"/><path d="M214.1 355L216.7 352.8L216.7 350.2L214 353.5Z" fill="#EAB456"/><path d="M169.6 426.1L172 424.3L172.2 421.3L169.9 422.7Z" fill="#3ABA00"/><path d="M203.7 369.9L206.4 365.9L206.4 363.7L203.7 367.4Z" fill="#E8C727"/><path d="M143.2 419.5L145.7 420.9L146.3 419.8L143.8 418Z" fill="#48BE00"/><path d="M172.2 421.3L174.6 419.3L174.9 416.2L172.5 417.9Z" fill="#48BE00"/><path d="M116.3 379L119.1 381.7L119.7 379.3L117 376.7Z" fill="#E6E600"/><path d="M195.6 387.8L198.2 385.4L198.1 384.2L195.6 386.5Z" fill="#C8DF00"/><path d="M216.7 350.2L219.5 347.6L219.4 345L216.6 348.4Z" fill="#EBB166"/><path d="M118.4 391.1L121.1 393.5L121.3 388.1L118.6 385.3Z" fill="#BEDD00"/><path d="M167 430.4L169.3 428L169.6 426.1L167.2 427.1Z" fill="#2CB500"/><path d="M179.9 411.1L182.4 408.7L182.6 407.1L180.1 409.7Z" fill="#6FC900"/><path d="M115.5 401.1L118.1 402.9L118.4 397.9L115.7 395.3Z" fill="#91D200"/><path d="M129 411.1L131.5 412.3L132.3 412.2L129.9 411Z" fill="#67C700"/><path d="M147.7 424.4L150.2 426.9L150.7 424.8L148.2 422.3Z" fill="#3ABA00"/><path d="M117.2 404L119.8 405.7L120.8 405.2L118.1 402.9Z" fill="#7FCD00"/><path d="M187.6 402.3L190.1 399.9L190.3 396.8L187.8 399.2Z" fill="#91D200"/><path d="M211.6 357.9L214.4 355.1L214.1 355L211.3 358.1Z" fill="#EAB64E"/><path d="M140.7 418.4L143.2 419.5L143.8 418L141.3 416.8Z" fill="#50C000"/><path d="M164.3 434L166.6 432.2L167 430.4L164.6 431.7Z" fill="#1EB100"/><path d="M152.2 430.1L154.7 432.7L155.1 430L152.7 428.1Z" fill="#25B300"/><path d="M159.2 437L161.6 438.1L161.9 435.6L159.6 435.1Z" fill="#12AC00"/><path d="M193 391.7L195.5 389.9L195.6 387.8L193.1 389.3Z" fill="#BEDD00"/><path d="M185 405.7L187.5 403.5L187.6 402.3L185.1 404.5Z" fill="#7FCD00"/><path d="M126.4 409.9L129 411.1L129.9 411L127.5 410.6Z" fill="#67C700"/><path d="M190.3 396.8L192.8 394.8L193 391.7L190.5 393.3Z" fill="#ACD800"/><path d="M156.7 436.3L159.2 437L159.6 435.1L157.2 434.5Z" fill="#18AF00"/><path d="M115.7 395.3L118.4 397.9L118.4 391.1L115.6 388.2Z" fill="#ACD800"/><path d="M219.4 345L222.4 340.7L222.4 337.3L219.5 341.8Z" fill="#ECB17E"/><path d="M177.3 414.4L179.8 412.2L179.9 411.1L177.5 412.9Z" fill="#5FC500"/><path d="M123.9 408.8L126.4 409.9L127.5 410.6L125 409.6Z" fill="#6FC900"/><path d="M203.6 373L206.3 370L206.4 365.9L203.7 369.9Z" fill="#E7CC1F"/><path d="M161.6 438.1L163.9 436.4L164.3 434L161.9 435.6Z" fill="#18AF00"/><path d="M138.2 416.7L140.7 418.4L141.3 416.8L138.9 415.6Z" fill="#57C200"/><path d="M200.8 381.6L203.5 378.3L203.4 377.6L200.7 380.5Z" fill="#E6E600"/><path d="M172 424.3L174.4 422.3L174.6 419.3L172.2 421.3Z" fill="#41BC00"/><path d="M115.7 382L118.6 385.3L119.1 381.7L116.3 379Z" fill="#DBE300"/><path d="M169.3 428L171.7 427.5L172 424.3L169.6 426.1Z" fill="#33B700"/><path d="M114.6 402.3L117.2 404L118.1 402.9L115.5 401.1Z" fill="#88D000"/><path d="M174.6 419.3L177.1 417.4L177.3 414.4L174.9 416.2Z" fill="#57C200"/><path d="M149.7 428.8L152.2 430.1L152.7 428.1L150.2 426.9Z" fill="#2CB500"/><path d="M145.1 422.3L147.7 424.4L148.2 422.3L145.7 420.9Z" fill="#41BC00"/><path d="M216.7 352.8L219.6 349.5L219.5 347.6L216.7 350.2Z" fill="#EBB25E"/><path d="M154.2 433.4L156.7 436.3L157.2 434.5L154.7 432.7Z" fill="#1EB100"/><path d="M115.6 388.2L118.4 391.1L118.6 385.3L115.7 382Z" fill="#C8DF00"/><path d="M121.3 407.1L123.9 408.8L125 409.6L122.5 407.8Z" fill="#77CB00"/><path d="M198.2 385.4L200.8 382.5L200.8 381.6L198.1 384.2Z" fill="#DBE300"/><path d="M209.2 360.1L212 357.1L211.6 357.9L208.9 360.9Z" fill="#E9B846"/><path d="M182.4 408.7L184.9 406.1L185 405.7L182.6 407.1Z" fill="#77CB00"/><path d="M203.4 377.6L206.1 373.7L206.3 370L203.6 373Z" fill="#E7D217"/><path d="M135.7 415.5L138.2 416.7L138.9 415.6L136.4 414Z" fill="#5FC500"/><path d="M222.4 337.3L225.5 332.2L225.2 331.7L222.1 337.5Z" fill="#EEB696"/><path d="M166.6 432.2L169 430.8L169.3 428L167 430.4Z" fill="#2CB500"/><path d="M195.5 389.9L198.1 387.7L198.2 385.4L195.6 387.8Z" fill="#C8DF00"/><path d="M190.1 399.9L192.7 397.7L192.8 394.8L190.3 396.8Z" fill="#A2D600"/><path d="M206.4 365.9L209.1 363.2L209.2 360.1L206.4 363.7Z" fill="#E8BF36"/><path d="M219.5 347.6L222.4 343.6L222.4 340.7L219.4 345Z" fill="#ECB176"/><path d="M192.8 394.8L195.4 392.8L195.5 389.9L193 391.7Z" fill="#B5DB00"/><path d="M214.4 355.1L217.2 351.9L216.7 352.8L214.1 355Z" fill="#EAB456"/><path d="M187.5 403.5L190.1 401.6L190.1 399.9L187.6 402.3Z" fill="#91D200"/><path d="M133.1 413.9L135.7 415.5L136.4 414L134 413.8Z" fill="#5FC500"/><path d="M142.6 420.8L145.1 422.3L145.7 420.9L143.2 419.5Z" fill="#48BE00"/><path d="M118.7 405.4L121.3 407.1L122.5 407.8L119.8 405.7Z" fill="#7FCD00"/><path d="M174.4 422.3L176.8 421.5L177.1 417.4L174.6 419.3Z" fill="#50C000"/><path d="M147.1 425.8L149.7 428.8L150.2 426.9L147.7 424.4Z" fill="#3ABA00"/><path d="M163.9 436.4L166.3 434.4L166.6 432.2L164.3 434Z" fill="#1EB100"/><path d="M179.8 412.2L182.3 409.7L182.4 408.7L179.9 411.1Z" fill="#6FC900"/><path d="M171.7 427.5L174.1 425.4L174.4 422.3L172 424.3Z" fill="#41BC00"/><path d="M130.7 413.6L133.1 413.9L134 413.8L131.5 412.3Z" fill="#67C700"/><path d="M158.8 439.2L161.2 439.7L161.6 438.1L159.2 437Z" fill="#12AC00"/><path d="M151.7 431.9L154.2 433.4L154.7 432.7L152.2 430.1Z" fill="#25B300"/><path d="M177.1 417.4L179.5 415.2L179.8 412.2L177.3 414.4Z" fill="#5FC500"/><path d="M140.1 419.4L142.6 420.8L143.2 419.5L140.7 418.4Z" fill="#50C000"/><path d="M156.3 438L158.8 439.2L159.2 437L156.7 436.3Z" fill="#18AF00"/><path d="M161.2 439.7L163.6 439L163.9 436.4L161.6 438.1Z" fill="#12AC00"/><path d="M128.1 412.1L130.7 413.6L131.5 412.3L129 411.1Z" fill="#6FC900"/><path d="M206.3 370L209.1 366.1L209.1 363.2L206.4 365.9Z" fill="#E8C32E"/><path d="M169 430.8L171.4 429.1L171.7 427.5L169.3 428Z" fill="#33B700"/><path d="M184.9 406.1L187.4 404.6L187.5 403.5L185 405.7Z" fill="#88D000"/><path d="M203.5 378.3L206.2 375.1L206.1 373.7L203.4 377.6Z" fill="#E6D80F"/><path d="M192.7 397.7L195.2 396.2L195.4 392.8L192.8 394.8Z" fill="#ACD800"/><path d="M212 357.1L214.7 354.4L214.4 355.1L211.6 357.9Z" fill="#EAB456"/><path d="M116 403.5L118.7 405.4L119.8 405.7L117.2 404Z" fill="#88D000"/><path d="M219.6 349.5L222.5 345.9L222.4 343.6L219.5 347.6Z" fill="#EBB16E"/><path d="M222.4 340.7L225.5 335.8L225.5 332.2L222.4 337.3Z" fill="#EDB48E"/><path d="M195.4 392.8L198 390.5L198.1 387.7L195.5 389.9Z" fill="#BEDD00"/><path d="M200.8 382.5L203.6 379.4L203.5 378.3L200.8 381.6Z" fill="#E6DF08"/><path d="M125.6 411.1L128.1 412.1L129 411.1L126.4 409.9Z" fill="#6FC900"/><path d="M137.5 417.9L140.1 419.4L140.7 418.4L138.2 416.7Z" fill="#57C200"/><path d="M198.1 387.7L200.8 384.4L200.8 382.5L198.2 385.4Z" fill="#DBE300"/><path d="M190.1 401.6L192.7 399.1L192.7 397.7L190.1 399.9Z" fill="#99D400"/><path d="M144.6 424.3L147.1 425.8L147.7 424.4L145.1 422.3Z" fill="#41BC00"/><path d="M217.2 351.9L220 349.3L219.6 349.5L216.7 352.8Z" fill="#EBB166"/><path d="M206.1 373.7L208.9 371L209.1 366.1L206.3 370Z" fill="#E8C727"/><path d="M209.1 363.2L211.9 359.9L212 357.1L209.2 360.1Z" fill="#E9B846"/><path d="M149.1 429.1L151.7 431.9L152.2 430.1L149.7 428.8Z" fill="#33B700"/><path d="M174.1 425.4L176.6 423.6L176.8 421.5L174.4 422.3Z" fill="#48BE00"/><path d="M166.3 434.4L168.7 432.6L169 430.8L166.6 432.2Z" fill="#2CB500"/><path d="M176.8 421.5L179.3 418.9L179.5 415.2L177.1 417.4Z" fill="#57C200"/><path d="M153.7 435.4L156.3 438L156.7 436.3L154.2 433.4Z" fill="#1EB100"/><path d="M122.9 408.8L125.6 411.1L126.4 409.9L123.9 408.8Z" fill="#77CB00"/><path d="M135 416.8L137.5 417.9L138.2 416.7L135.7 415.5Z" fill="#5FC500"/><path d="M182.3 409.7L184.8 407.5L184.9 406.1L182.4 408.7Z" fill="#7FCD00"/><path d="M163.6 439L166 437.7L166.3 434.4L163.9 436.4Z" fill="#1EB100"/><path d="M113.2 401.5L116 403.5L117.2 404L114.6 402.3Z" fill="#91D200"/><path d="M225.5 332.2L228.6 328.2L228.2 327.9L225.2 331.7Z" fill="#EEBCA7"/><path d="M171.4 429.1L173.9 427.2L174.1 425.4L171.7 427.5Z" fill="#3ABA00"/><path d="M222.4 343.6L225.4 339.8L225.5 335.8L222.4 340.7Z" fill="#EDB386"/><path d="M179.5 415.2L182 413.4L182.3 409.7L179.8 412.2Z" fill="#6FC900"/><path d="M158.4 442.1L160.8 442.4L161.2 439.7L158.8 439.2Z" fill="#12AC00"/><path d="M187.4 404.6L190 401.9L190.1 401.6L187.5 403.5Z" fill="#91D200"/><path d="M142 422.3L144.6 424.3L145.1 422.3L142.6 420.8Z" fill="#50C000"/><path d="M195.2 396.2L197.9 393.7L198 390.5L195.4 392.8Z" fill="#BEDD00"/><path d="M132.4 415.7L135 416.8L135.7 415.5L133.1 413.9Z" fill="#67C700"/><path d="M160.8 442.4L163.2 441.9L163.6 439L161.2 439.7Z" fill="#12AC00"/><path d="M120.3 407.7L122.9 408.8L123.9 408.8L121.3 407.1Z" fill="#7FCD00"/><path d="M155.9 440.5L158.4 442.1L158.8 439.2L156.3 438Z" fill="#18AF00"/><path d="M209.1 366.1L211.8 363.6L211.9 359.9L209.1 363.2Z" fill="#E9BB3E"/><path d="M214.7 354.4L217.5 352L217.2 351.9L214.4 355.1Z" fill="#EBB25E"/><path d="M192.7 399.1L195.2 397.4L195.2 396.2L192.7 397.7Z" fill="#ACD800"/><path d="M129.9 414.7L132.4 415.7L133.1 413.9L130.7 413.6Z" fill="#6FC900"/><path d="M198 390.5L200.7 388.2L200.8 384.4L198.1 387.7Z" fill="#D2E100"/><path d="M176.6 423.6L179.1 422L179.3 418.9L176.8 421.5Z" fill="#50C000"/><path d="M168.7 432.6L171.1 431L171.4 429.1L169 430.8Z" fill="#33B700"/><path d="M146.4 426.3L149.1 429.1L149.7 428.8L147.1 425.8Z" fill="#41BC00"/><path d="M206.2 375.1L209.1 371.6L208.9 371L206.1 373.7Z" fill="#E7CC1F"/><path d="M151.1 433L153.7 435.4L154.2 433.4L151.7 431.9Z" fill="#2CB500"/><path d="M139.4 420.7L142 422.3L142.6 420.8L140.1 419.4Z" fill="#57C200"/><path d="M179.3 418.9L181.8 417.2L182 413.4L179.5 415.2Z" fill="#67C700"/><path d="M203.6 379.4L206.3 376.3L206.2 375.1L203.5 378.3Z" fill="#E7D217"/><path d="M127.3 413.5L129.9 414.7L130.7 413.6L128.1 412.1Z" fill="#6FC900"/><path d="M117.7 406.5L120.3 407.7L121.3 407.1L118.7 405.4Z" fill="#88D000"/><path d="M166 437.7L168.4 435.9L168.7 432.6L166.3 434.4Z" fill="#25B300"/><path d="M211.9 359.9L214.8 356.8L214.7 354.4L212 357.1Z" fill="#EAB456"/><path d="M222.5 345.9L225.6 341.5L225.4 339.8L222.4 343.6Z" fill="#ECB17E"/><path d="M200.8 384.4L203.6 381.2L203.6 379.4L200.8 382.5Z" fill="#E6DF08"/><path d="M220 349.3L223 345.2L222.5 345.9L219.6 349.5Z" fill="#EBB16E"/><path d="M208.9 371L211.7 367.6L211.8 363.6L209.1 366.1Z" fill="#E8BF36"/><path d="M173.9 427.2L176.4 426L176.6 423.6L174.1 425.4Z" fill="#48BE00"/><path d="M184.8 407.5L187.4 405.3L187.4 404.6L184.9 406.1Z" fill="#88D000"/><path d="M163.2 441.9L165.7 440.7L166 437.7L163.6 439Z" fill="#18AF00"/><path d="M182 413.4L184.6 411.3L184.8 407.5L182.3 409.7Z" fill="#7FCD00"/><path d="M225.5 335.8L228.6 331.1L228.6 328.2L225.5 332.2Z" fill="#EEB99F"/><path d="M153.3 437.9L155.9 440.5L156.3 438L153.7 435.4Z" fill="#1EB100"/><path d="M124.7 412L127.3 413.5L128.1 412.1L125.6 411.1Z" fill="#77CB00"/><path d="M136.8 419.2L139.4 420.7L140.1 419.4L137.5 417.9Z" fill="#5FC500"/><path d="M190 401.9L192.6 399.9L192.7 399.1L190.1 401.6Z" fill="#A2D600"/><path d="M158 444.9L160.4 445.1L160.8 442.4L158.4 442.1Z" fill="#12AC00"/><path d="M197.9 393.7L200.6 391.3L200.7 388.2L198 390.5Z" fill="#C8DF00"/><path d="M114.9 404.2L117.7 406.5L118.7 405.4L116 403.5Z" fill="#91D200"/><path d="M228.6 328.2L231.6 324.3L231.2 323.8L228.2 327.9Z" fill="#EFC4B7"/><path d="M195.2 397.4L197.9 395.3L197.9 393.7L195.2 396.2Z" fill="#B5DB00"/><path d="M171.1 431L173.6 429.6L173.9 427.2L171.4 429.1Z" fill="#3ABA00"/><path d="M143.8 423.7L146.4 426.3L147.1 425.8L144.6 424.3Z" fill="#48BE00"/><path d="M160.4 445.1L162.9 444.7L163.2 441.9L160.8 442.4Z" fill="#12AC00"/><path d="M148.5 430.2L151.1 433L151.7 431.9L149.1 429.1Z" fill="#3ABA00"/><path d="M155.5 443.4L158 444.9L158.4 442.1L155.9 440.5Z" fill="#12AC00"/><path d="M179.1 422L181.6 420.1L181.8 417.2L179.3 418.9Z" fill="#5FC500"/><path d="M211.8 363.6L214.6 360.8L214.8 356.8L211.9 359.9Z" fill="#EAB64E"/><path d="M217.5 352L220.5 348.3L220 349.3L217.2 351.9Z" fill="#EBB16E"/><path d="M225.4 339.8L228.5 335.4L228.6 331.1L225.5 335.8Z" fill="#EEB696"/><path d="M122.1 410.7L124.7 412L125.6 411.1L122.9 408.8Z" fill="#7FCD00"/><path d="M134.1 417.3L136.8 419.2L137.5 417.9L135 416.8Z" fill="#67C700"/><path d="M181.8 417.2L184.4 414.9L184.6 411.3L182 413.4Z" fill="#6FC900"/><path d="M176.4 426L178.9 423.9L179.1 422L176.6 423.6Z" fill="#50C000"/><path d="M168.4 435.9L170.9 433.7L171.1 431L168.7 432.6Z" fill="#33B700"/><path d="M209.1 371.6L211.8 369.4L211.7 367.6L208.9 371Z" fill="#E8C32E"/><path d="M200.7 388.2L203.4 384.9L203.6 381.2L200.8 384.4Z" fill="#E6E600"/><path d="M165.7 440.7L168.1 438.4L168.4 435.9L166 437.7Z" fill="#25B300"/><path d="M187.4 405.3L190 403.2L190 401.9L187.4 404.6Z" fill="#99D400"/><path d="M214.8 356.8L217.7 353.7L217.5 352L214.7 354.4Z" fill="#EBB25E"/><path d="M131.6 416.5L134.1 417.3L135 416.8L132.4 415.7Z" fill="#6FC900"/><path d="M184.6 411.3L187.1 409.4L187.4 405.3L184.8 407.5Z" fill="#88D000"/><path d="M150.6 435.3L153.3 437.9L153.7 435.4L151.1 433Z" fill="#2CB500"/><path d="M162.9 444.7L165.3 443L165.7 440.7L163.2 441.9Z" fill="#18AF00"/><path d="M112 401.5L114.9 404.2L116 403.5L113.2 401.5Z" fill="#A2D600"/><path d="M211.7 367.6L214.5 364.5L214.6 360.8L211.8 363.6Z" fill="#E9BB3E"/><path d="M206.3 376.3L209.1 373.2L209.1 371.6L206.2 375.1Z" fill="#E7CC1F"/><path d="M119.4 408.9L122.1 410.7L122.9 408.8L120.3 407.7Z" fill="#88D000"/><path d="M141.1 421.9L143.8 423.7L144.6 424.3L142 422.3Z" fill="#57C200"/><path d="M192.6 399.9L195.3 397.7L195.2 397.4L192.7 399.1Z" fill="#ACD800"/><path d="M203.6 381.2L206.4 377.7L206.3 376.3L203.6 379.4Z" fill="#E7D217"/><path d="M152.9 441L155.5 443.4L155.9 440.5L153.3 437.9Z" fill="#1EB100"/><path d="M129 415.6L131.6 416.5L132.4 415.7L129.9 414.7Z" fill="#6FC900"/><path d="M173.6 429.6L176.1 427.9L176.4 426L173.9 427.2Z" fill="#48BE00"/><path d="M225.6 341.5L228.7 337.4L228.5 335.4L225.4 339.8Z" fill="#EDB48E"/><path d="M157.6 447.7L160.1 447.7L160.4 445.1L158 444.9Z" fill="#0CAA00"/><path d="M223 345.2L226.2 340.4L225.6 341.5L222.5 345.9Z" fill="#EDB386"/><path d="M200.6 391.3L203.3 388.2L203.4 384.9L200.7 388.2Z" fill="#DBE300"/><path d="M181.6 420.1L184.2 417.8L184.4 414.9L181.8 417.2Z" fill="#67C700"/><path d="M197.9 395.3L200.7 392L200.6 391.3L197.9 393.7Z" fill="#C8DF00"/><path d="M126.4 414L129 415.6L129.9 414.7L127.3 413.5Z" fill="#77CB00"/><path d="M228.6 331.1L231.7 327.2L231.6 324.3L228.6 328.2Z" fill="#EFC0AF"/><path d="M145.8 426.9L148.5 430.2L149.1 429.1L146.4 426.3Z" fill="#48BE00"/><path d="M116.7 407.2L119.4 408.9L120.3 407.7L117.7 406.5Z" fill="#91D200"/><path d="M170.9 433.7L173.3 432.7L173.6 429.6L171.1 431Z" fill="#3ABA00"/><path d="M155 446.2L157.6 447.7L158 444.9L155.5 443.4Z" fill="#12AC00"/><path d="M231.6 324.3L234.7 320.6L234.3 320.4L231.2 323.8Z" fill="#F0C9C0"/><path d="M184.4 414.9L187 412.6L187.1 409.4L184.6 411.3Z" fill="#7FCD00"/><path d="M178.9 423.9L181.4 421.8L181.6 420.1L179.1 422Z" fill="#5FC500"/><path d="M138.5 420.1L141.1 421.9L142 422.3L139.4 420.7Z" fill="#5FC500"/><path d="M160.1 447.7L162.5 446.6L162.9 444.7L160.4 445.1Z" fill="#12AC00"/><path d="M214.6 360.8L217.5 357.9L217.7 353.7L214.8 356.8Z" fill="#EAB456"/><path d="M168.1 438.4L170.6 436.9L170.9 433.7L168.4 435.9Z" fill="#2CB500"/><path d="M190 403.2L192.6 401.3L192.6 399.9L190 401.9Z" fill="#A2D600"/><path d="M220.5 348.3L223.5 344.3L223 345.2L220 349.3Z" fill="#ECB176"/><path d="M165.3 443L167.8 441.5L168.1 438.4L165.7 440.7Z" fill="#1EB100"/><path d="M123.7 412.3L126.4 414L127.3 413.5L124.7 412Z" fill="#7FCD00"/><path d="M211.8 369.4L214.7 365.7L214.5 364.5L211.7 367.6Z" fill="#E9BB3E"/><path d="M147.9 432.3L150.6 435.3L151.1 433L148.5 430.2Z" fill="#3ABA00"/><path d="M195.3 397.7L198 395.6L197.9 395.3L195.2 397.4Z" fill="#BEDD00"/><path d="M187.1 409.4L189.8 406.3L190 403.2L187.4 405.3Z" fill="#99D400"/><path d="M228.5 335.4L231.6 331.4L231.7 327.2L228.6 331.1Z" fill="#EEBCA7"/><path d="M217.7 353.7L220.5 350.8L220.5 348.3L217.5 352Z" fill="#EBB16E"/><path d="M214.5 364.5L217.3 362.3L217.5 357.9L214.6 360.8Z" fill="#EAB64E"/><path d="M135.9 419.1L138.5 420.1L139.4 420.7L136.8 419.2Z" fill="#67C700"/><path d="M203.4 384.9L206.3 381.5L206.4 377.7L203.6 381.2Z" fill="#E6D80F"/><path d="M176.1 427.9L178.7 425.5L178.9 423.9L176.4 426Z" fill="#50C000"/><path d="M113.7 404.3L116.7 407.2L117.7 406.5L114.9 404.2Z" fill="#99D400"/><path d="M150.2 437.7L152.9 441L153.3 437.9L150.6 435.3Z" fill="#2CB500"/><path d="M152.4 443.8L155 446.2L155.5 443.4L152.9 441Z" fill="#18AF00"/><path d="M209.1 373.2L212.1 369.4L211.8 369.4L209.1 371.6Z" fill="#E8C32E"/><path d="M173.3 432.7L175.9 430.8L176.1 427.9L173.6 429.6Z" fill="#41BC00"/><path d="M121 410.9L123.7 412.3L124.7 412L122.1 410.7Z" fill="#88D000"/><path d="M162.5 446.6L165 445.1L165.3 443L162.9 444.7Z" fill="#18AF00"/><path d="M206.4 377.7L209.3 374.5L209.1 373.2L206.3 376.3Z" fill="#E8C727"/><path d="M143.1 424.7L145.8 426.9L146.4 426.3L143.8 423.7Z" fill="#57C200"/><path d="M184.2 417.8L186.8 416L187 412.6L184.4 414.9Z" fill="#77CB00"/><path d="M170.6 436.9L173.1 435.3L173.3 432.7L170.9 433.7Z" fill="#33B700"/><path d="M133.2 417L135.9 419.1L136.8 419.2L134.1 417.3Z" fill="#6FC900"/><path d="M157.1 449.8L159.7 450.2L160.1 447.7L157.6 447.7Z" fill="#0CAA00"/><path d="M187 412.6L189.6 410.8L189.8 406.3L187.1 409.4Z" fill="#88D000"/><path d="M200.7 392L203.5 388.9L203.3 388.2L200.6 391.3Z" fill="#DBE300"/><path d="M181.4 421.8L184 419.3L184.2 417.8L181.6 420.1Z" fill="#67C700"/><path d="M228.7 337.4L231.7 334.1L231.6 331.4L228.5 335.4Z" fill="#EEB99F"/><path d="M231.7 327.2L234.7 324.3L234.7 320.6L231.6 324.3Z" fill="#F0C9C0"/><path d="M203.3 388.2L206.2 385.2L206.3 381.5L203.4 384.9Z" fill="#E6DF08"/><path d="M217.5 357.9L220.4 355.3L220.5 350.8L217.7 353.7Z" fill="#EBB166"/><path d="M192.6 401.3L195.3 399L195.3 397.7L192.6 399.9Z" fill="#B5DB00"/><path d="M167.8 441.5L170.3 439.8L170.6 436.9L168.1 438.4Z" fill="#2CB500"/><path d="M118.2 409L121 410.9L122.1 410.7L119.4 408.9Z" fill="#91D200"/><path d="M154.6 448.4L157.1 449.8L157.6 447.7L155 446.2Z" fill="#12AC00"/><path d="M234.7 320.6L237.9 316.5L237.3 317.1L234.3 320.4Z" fill="#F1D5D0"/><path d="M226.2 340.4L229.2 336.8L228.7 337.4L225.6 341.5Z" fill="#EEB696"/><path d="M111 402.7L113.7 404.3L114.9 404.2L112 401.5Z" fill="#ACD800"/><path d="M189.8 406.3L192.4 405L192.6 401.3L190 403.2Z" fill="#A2D600"/><path d="M159.7 450.2L162.1 449L162.5 446.6L160.1 447.7Z" fill="#12AC00"/><path d="M130.6 416L133.2 417L134.1 417.3L131.6 416.5Z" fill="#77CB00"/><path d="M145.2 429.7L147.9 432.3L148.5 430.2L145.8 426.9Z" fill="#48BE00"/><path d="M214.7 365.7L217.6 363.1L217.3 362.3L214.5 364.5Z" fill="#E9B846"/><path d="M217.3 362.3L220.2 359.7L220.4 355.3L217.5 357.9Z" fill="#EAB456"/><path d="M198 395.6L200.8 392.8L200.7 392L197.9 395.3Z" fill="#C8DF00"/><path d="M178.7 425.5L181.2 423.6L181.4 421.8L178.9 423.9Z" fill="#5FC500"/><path d="M147.5 435.6L150.2 437.7L150.6 435.3L147.9 432.3Z" fill="#3ABA00"/><path d="M165 445.1L167.4 443.3L167.8 441.5L165.3 443Z" fill="#1EB100"/><path d="M140.3 422.1L143.1 424.7L143.8 423.7L141.1 421.9Z" fill="#5FC500"/><path d="M149.7 440.6L152.4 443.8L152.9 441L150.2 437.7Z" fill="#25B300"/><path d="M175.9 430.8L178.4 429.1L178.7 425.5L176.1 427.9Z" fill="#50C000"/><path d="M127.9 414.3L130.6 416L131.6 416.5L129 415.6Z" fill="#77CB00"/><path d="M231.6 331.4L234.7 327.7L234.7 324.3L231.7 327.2Z" fill="#EFC4B7"/><path d="M173.1 435.3L175.6 434.1L175.9 430.8L173.3 432.7Z" fill="#41BC00"/><path d="M220.5 350.8L223.6 346.8L223.5 344.3L220.5 348.3Z" fill="#ECB17E"/><path d="M212.1 369.4L214.9 367.5L214.7 365.7L211.8 369.4Z" fill="#E9BB3E"/><path d="M223.5 344.3L226.7 339.8L226.2 340.4L223 345.2Z" fill="#EDB48E"/><path d="M186.8 416L189.4 413.9L189.6 410.8L187 412.6Z" fill="#7FCD00"/><path d="M115.4 406.9L118.2 409L119.4 408.9L116.7 407.2Z" fill="#99D400"/><path d="M206.3 381.5L209.1 378.4L209.3 374.5L206.4 377.7Z" fill="#E7CC1F"/><path d="M151.9 445.4L154.6 448.4L155 446.2L152.4 443.8Z" fill="#18AF00"/><path d="M170.3 439.8L172.8 438.7L173.1 435.3L170.6 436.9Z" fill="#33B700"/><path d="M189.6 410.8L192.2 408.8L192.4 405L189.8 406.3Z" fill="#99D400"/><path d="M184 419.3L186.7 417.8L186.8 416L184.2 417.8Z" fill="#77CB00"/><path d="M209.3 374.5L212.1 371.6L212.1 369.4L209.1 373.2Z" fill="#E8C32E"/><path d="M125.2 412.9L127.9 414.3L129 415.6L126.4 414Z" fill="#7FCD00"/><path d="M162.1 449L164.6 447.3L165 445.1L162.5 446.6Z" fill="#18AF00"/><path d="M195.3 399L198.1 396.2L198 395.6L195.3 397.7Z" fill="#BEDD00"/><path d="M192.4 405L195.1 402.9L195.3 399L192.6 401.3Z" fill="#ACD800"/><path d="M137.6 420.2L140.3 422.1L141.1 421.9L138.5 420.1Z" fill="#6FC900"/><path d="M203.5 388.9L206.3 385.7L206.2 385.2L203.3 388.2Z" fill="#E6DF08"/><path d="M234.7 324.3L238 320L237.9 316.5L234.7 320.6Z" fill="#F1D5D0"/><path d="M142.5 426.9L145.2 429.7L145.8 426.9L143.1 424.7Z" fill="#57C200"/><path d="M206.2 385.2L209.1 381.9L209.1 378.4L206.3 381.5Z" fill="#E7D217"/><path d="M231.7 334.1L235 329.8L234.7 327.7L231.6 331.4Z" fill="#EFC0AF"/><path d="M156.7 451.5L159.2 452.8L159.7 450.2L157.1 449.8Z" fill="#0CAA00"/><path d="M220.4 355.3L223.5 350.9L223.6 346.8L220.5 350.8Z" fill="#ECB176"/><path d="M217.6 363.1L220.5 360.3L220.2 359.7L217.3 362.3Z" fill="#EAB456"/><path d="M167.4 443.3L170 441.8L170.3 439.8L167.8 441.5Z" fill="#2CB500"/><path d="M144.7 432.8L147.5 435.6L147.9 432.3L145.2 429.7Z" fill="#48BE00"/><path d="M181.2 423.6L183.9 421.6L184 419.3L181.4 421.8Z" fill="#67C700"/><path d="M122.4 411.2L125.2 412.9L126.4 414L123.7 412.3Z" fill="#88D000"/><path d="M112.4 404L115.4 406.9L116.7 407.2L113.7 404.3Z" fill="#A2D600"/><path d="M175.6 434.1L178.2 432.2L178.4 429.1L175.9 430.8Z" fill="#48BE00"/><path d="M237.9 316.5L241.2 312.6L240.7 311.9L237.3 317.1Z" fill="#F1E2E1"/><path d="M229.2 336.8L232.5 332.1L231.7 334.1L228.7 337.4Z" fill="#EEBCA7"/><path d="M159.2 452.8L161.7 451.8L162.1 449L159.7 450.2Z" fill="#0CAA00"/><path d="M178.4 429.1L181 426.9L181.2 423.6L178.7 425.5Z" fill="#57C200"/><path d="M147 437.9L149.7 440.6L150.2 437.7L147.5 435.6Z" fill="#33B700"/><path d="M189.4 413.9L192.1 411.8L192.2 408.8L189.6 410.8Z" fill="#91D200"/><path d="M172.8 438.7L175.4 436.8L175.6 434.1L173.1 435.3Z" fill="#3ABA00"/><path d="M134.9 418.3L137.6 420.2L138.5 420.1L135.9 419.1Z" fill="#77CB00"/><path d="M154 449.7L156.7 451.5L157.1 449.8L154.6 448.4Z" fill="#12AC00"/><path d="M220.2 359.7L223.4 355.3L223.5 350.9L220.4 355.3Z" fill="#EBB166"/><path d="M200.8 392.8L203.7 388.9L203.5 388.9L200.7 392Z" fill="#DBE300"/><path d="M192.2 408.8L195 406.4L195.1 402.9L192.4 405Z" fill="#A2D600"/><path d="M214.9 367.5L217.9 363.9L217.6 363.1L214.7 365.7Z" fill="#EAB64E"/><path d="M234.7 327.7L237.9 323.9L238 320L234.7 324.3Z" fill="#F0CFC8"/><path d="M186.7 417.8L189.3 415.5L189.4 413.9L186.8 416Z" fill="#7FCD00"/><path d="M209.1 378.4L212 375.9L212.1 371.6L209.3 374.5Z" fill="#E8C32E"/><path d="M119.6 409.2L122.4 411.2L123.7 412.3L121 410.9Z" fill="#91D200"/><path d="M149.1 441.8L151.9 445.4L152.4 443.8L149.7 440.6Z" fill="#25B300"/><path d="M164.6 447.3L167.1 445.2L167.4 443.3L165 445.1Z" fill="#1EB100"/><path d="M139.8 425.5L142.5 426.9L143.1 424.7L140.3 422.1Z" fill="#5FC500"/><path d="M212.1 371.6L215.1 368.4L214.9 367.5L212.1 369.4Z" fill="#E9BB3E"/><path d="M223.6 346.8L226.8 342.1L226.7 339.8L223.5 344.3Z" fill="#EDB48E"/><path d="M170 441.8L172.5 440L172.8 438.7L170.3 439.8Z" fill="#33B700"/><path d="M198.1 396.2L200.9 393.5L200.8 392.8L198 395.6Z" fill="#D2E100"/><path d="M132.2 416.6L134.9 418.3L135.9 419.1L133.2 417Z" fill="#7FCD00"/><path d="M195.1 402.9L197.9 400.2L198.1 396.2L195.3 399Z" fill="#BEDD00"/><path d="M109.5 401.8L112.4 404L113.7 404.3L111 402.7Z" fill="#B5DB00"/><path d="M226.7 339.8L230 334.7L229.2 336.8L226.2 340.4Z" fill="#EEB99F"/><path d="M161.7 451.8L164.2 450.2L164.6 447.3L162.1 449Z" fill="#18AF00"/><path d="M142 430.5L144.7 432.8L145.2 429.7L142.5 426.9Z" fill="#50C000"/><path d="M183.9 421.6L186.5 419.3L186.7 417.8L184 419.3Z" fill="#77CB00"/><path d="M178.2 432.2L180.8 430.4L181 426.9L178.4 429.1Z" fill="#57C200"/><path d="M206.3 385.7L209.2 383.2L209.1 381.9L206.2 385.2Z" fill="#E6D80F"/><path d="M209.1 381.9L212 379L212 375.9L209.1 378.4Z" fill="#E8C727"/><path d="M144.2 435.3L147 437.9L147.5 435.6L144.7 432.8Z" fill="#41BC00"/><path d="M175.4 436.8L177.9 434.9L178.2 432.2L175.6 434.1Z" fill="#48BE00"/><path d="M151.3 446.5L154 449.7L154.6 448.4L151.9 445.4Z" fill="#1EB100"/><path d="M116.7 406.7L119.6 409.2L121 410.9L118.2 409Z" fill="#A2D600"/><path d="M238 320L241.1 316.6L241.2 312.6L237.9 316.5Z" fill="#F1DBD9"/><path d="M181 426.9L183.7 424.5L183.9 421.6L181.2 423.6Z" fill="#67C700"/><path d="M192.1 411.8L194.8 409.8L195 406.4L192.2 408.8Z" fill="#99D400"/><path d="M235 329.8L238.1 326.4L237.9 323.9L234.7 327.7Z" fill="#F0C9C0"/><path d="M220.5 360.3L223.7 356.3L223.4 355.3L220.2 359.7Z" fill="#EBB166"/><path d="M129.5 415.2L132.2 416.6L133.2 417L130.6 416Z" fill="#88D000"/><path d="M156.2 454.3L158.8 455.2L159.2 452.8L156.7 451.5Z" fill="#0CAA00"/><path d="M241.2 312.6L244.3 309.6L243.7 309.5L240.7 311.9Z" fill="#F2EAEA"/><path d="M137 422.6L139.8 425.5L140.3 422.1L137.6 420.2Z" fill="#6FC900"/><path d="M158.8 455.2L161.3 454.5L161.7 451.8L159.2 452.8Z" fill="#0CAA00"/><path d="M195 406.4L197.7 404.1L197.9 400.2L195.1 402.9Z" fill="#B5DB00"/><path d="M189.3 415.5L192.1 413.1L192.1 411.8L189.4 413.9Z" fill="#91D200"/><path d="M223.5 350.9L226.7 346.5L226.8 342.1L223.6 346.8Z" fill="#EDB386"/><path d="M232.5 332.1L235.7 328.5L235 329.8L231.7 334.1Z" fill="#EFC0AF"/><path d="M167.1 445.2L169.6 443.5L170 441.8L167.4 443.3Z" fill="#2CB500"/><path d="M126.8 414.4L129.5 415.2L130.6 416L127.9 414.3Z" fill="#88D000"/><path d="M217.9 363.9L220.9 360.7L220.5 360.3L217.6 363.1Z" fill="#EAB456"/><path d="M172.5 440L175.1 438.6L175.4 436.8L172.8 438.7Z" fill="#3ABA00"/><path d="M203.7 388.9L206.5 386.5L206.3 385.7L203.5 388.9Z" fill="#E6DF08"/><path d="M212 375.9L215 372.4L215.1 368.4L212.1 371.6Z" fill="#E8BF36"/><path d="M139.2 428.1L142 430.5L142.5 426.9L139.8 425.5Z" fill="#5FC500"/><path d="M146.3 439.7L149.1 441.8L149.7 440.6L147 437.9Z" fill="#3ABA00"/><path d="M153.6 452.7L156.2 454.3L156.7 451.5L154 449.7Z" fill="#12AC00"/><path d="M237.9 323.9L241.3 319.4L241.1 316.6L238 320Z" fill="#F1D5D0"/><path d="M223.4 355.3L226.5 351.7L226.7 346.5L223.5 350.9Z" fill="#ECB176"/><path d="M113.8 404.7L116.7 406.7L118.2 409L115.4 406.9Z" fill="#ACD800"/><path d="M215.1 368.4L218.1 365.2L217.9 363.9L214.9 367.5Z" fill="#EAB64E"/><path d="M197.9 400.2L200.7 398L200.9 393.5L198.1 396.2Z" fill="#D2E100"/><path d="M186.5 419.3L189.2 417.5L189.3 415.5L186.7 417.8Z" fill="#7FCD00"/><path d="M164.2 450.2L166.7 447.7L167.1 445.2L164.6 447.3Z" fill="#1EB100"/><path d="M124 412.7L126.8 414.4L127.9 414.3L125.2 412.9Z" fill="#91D200"/><path d="M180.8 430.4L183.4 428.5L183.7 424.5L181 426.9Z" fill="#5FC500"/><path d="M177.9 434.9L180.6 433.5L180.8 430.4L178.2 432.2Z" fill="#50C000"/><path d="M134.3 421.1L137 422.6L137.6 420.2L134.9 418.3Z" fill="#77CB00"/><path d="M161.3 454.5L163.9 453.6L164.2 450.2L161.7 451.8Z" fill="#12AC00"/><path d="M141.4 432.3L144.2 435.3L144.7 432.8L142 430.5Z" fill="#50C000"/><path d="M200.9 393.5L203.8 390L203.7 388.9L200.8 392.8Z" fill="#E6E600"/><path d="M183.7 424.5L186.3 422.9L186.5 419.3L183.9 421.6Z" fill="#77CB00"/><path d="M194.8 409.8L197.6 407.4L197.7 404.1L195 406.4Z" fill="#ACD800"/><path d="M209.2 383.2L212.2 380L212 379L209.1 381.9Z" fill="#E7CC1F"/><path d="M212 379L214.9 376L215 372.4L212 375.9Z" fill="#E8C32E"/><path d="M230 334.7L233.1 331.5L232.5 332.1L229.2 336.8Z" fill="#EFC0AF"/><path d="M148.5 443.9L151.3 446.5L151.9 445.4L149.1 441.8Z" fill="#2CB500"/><path d="M241.1 316.6L244.4 313L244.3 309.6L241.2 312.6Z" fill="#F2EAEA"/><path d="M192.1 413.1L194.8 412.1L194.8 409.8L192.1 411.8Z" fill="#99D400"/><path d="M169.6 443.5L172.2 441.8L172.5 440L170 441.8Z" fill="#33B700"/><path d="M136.5 426L139.2 428.1L139.8 425.5L137 422.6Z" fill="#67C700"/><path d="M226.8 342.1L230.2 337.4L230 334.7L226.7 339.8Z" fill="#EEB99F"/><path d="M121.2 410.8L124 412.7L125.2 412.9L122.4 411.2Z" fill="#99D400"/><path d="M197.7 404.1L200.5 401.8L200.7 398L197.9 400.2Z" fill="#BEDD00"/><path d="M155.8 457.5L158.4 458L158.8 455.2L156.2 454.3Z" fill="#0CAA00"/><path d="M238.1 326.4L241.3 322.8L241.3 319.4L237.9 323.9Z" fill="#F0CFC8"/><path d="M131.5 419.3L134.3 421.1L134.9 418.3L132.2 416.6Z" fill="#7FCD00"/><path d="M175.1 438.6L177.7 436L177.9 434.9L175.4 436.8Z" fill="#48BE00"/><path d="M150.8 449.6L153.6 452.7L154 449.7L151.3 446.5Z" fill="#1EB100"/><path d="M158.4 458L161 457.7L161.3 454.5L158.8 455.2Z" fill="#0CAA00"/><path d="M110.7 401.4L113.8 404.7L115.4 406.9L112.4 404Z" fill="#B5DB00"/><path d="M143.4 435.8L146.3 439.7L147 437.9L144.2 435.3Z" fill="#48BE00"/><path d="M223.7 356.3L227 351.7L226.5 351.7L223.4 355.3Z" fill="#ECB176"/><path d="M235.7 328.5L239 324.6L238.1 326.4L235 329.8Z" fill="#F0C9C0"/><path d="M138.6 430.9L141.4 432.3L142 430.5L139.2 428.1Z" fill="#5FC500"/><path d="M206.5 386.5L209.6 382.6L209.2 383.2L206.3 385.7Z" fill="#E7D217"/><path d="M241.3 319.4L244.1 318.1L244.4 313L241.1 316.6Z" fill="#F1E2E1"/><path d="M215 372.4L218 369.5L218.1 365.2L215.1 368.4Z" fill="#E9B846"/><path d="M220.9 360.7L224.1 356.8L223.7 356.3L220.5 360.3Z" fill="#EBB166"/><path d="M153.1 455.3L155.8 457.5L156.2 454.3L153.6 452.7Z" fill="#12AC00"/><path d="M180.6 433.5L183.3 431.1L183.4 428.5L180.8 430.4Z" fill="#57C200"/><path d="M166.7 447.7L169.3 446.2L169.6 443.5L167.1 445.2Z" fill="#2CB500"/><path d="M189.2 417.5L192 414.8L192.1 413.1L189.3 415.5Z" fill="#91D200"/><path d="M226.7 346.5L229.9 342.8L230.2 337.4L226.8 342.1Z" fill="#EEB696"/><path d="M163.9 453.6L166.4 451.4L166.7 447.7L164.2 450.2Z" fill="#1EB100"/><path d="M183.4 428.5L186.1 426.2L186.3 422.9L183.7 424.5Z" fill="#6FC900"/><path d="M128.8 417.7L131.5 419.3L132.2 416.6L129.5 415.2Z" fill="#88D000"/><path d="M218.1 365.2L221.1 362.8L220.9 360.7L217.9 363.9Z" fill="#EAB456"/><path d="M186.3 422.9L189 421L189.2 417.5L186.5 419.3Z" fill="#7FCD00"/><path d="M133.7 424.1L136.5 426L137 422.6L134.3 421.1Z" fill="#77CB00"/><path d="M118.2 407.8L121.2 410.8L122.4 411.2L119.6 409.2Z" fill="#A2D600"/><path d="M161 457.7L163.5 456.5L163.9 453.6L161.3 454.5Z" fill="#12AC00"/><path d="M172.2 441.8L174.8 440.6L175.1 438.6L172.5 440Z" fill="#41BC00"/><path d="M226.5 351.7L229.8 347.4L229.9 342.8L226.7 346.5Z" fill="#EDB386"/><path d="M200.7 398L203.7 393.8L203.8 390L200.9 393.5Z" fill="#E6E600"/><path d="M197.6 407.4L200.5 404.4L200.5 401.8L197.7 404.1Z" fill="#BEDD00"/><path d="M126.1 417L128.8 417.7L129.5 415.2L126.8 414.4Z" fill="#91D200"/><path d="M194.8 412.1L197.6 409L197.6 407.4L194.8 409.8Z" fill="#A2D600"/><path d="M145.6 440.3L148.5 443.9L149.1 441.8L146.3 439.7Z" fill="#3ABA00"/><path d="M203.8 390L206.7 386.7L206.5 386.5L203.7 388.9Z" fill="#E6D80F"/><path d="M212.2 380L215.2 376.9L214.9 376L212 379Z" fill="#E8C32E"/><path d="M214.9 376L218 372.9L218 369.5L215 372.4Z" fill="#E9BB3E"/><path d="M107.7 399.1L110.7 401.4L112.4 404L109.5 401.8Z" fill="#C8DF00"/><path d="M177.7 436L180.4 434.4L180.6 433.5L177.9 434.9Z" fill="#50C000"/><path d="M135.8 428.3L138.6 430.9L139.2 428.1L136.5 426Z" fill="#67C700"/><path d="M241.3 322.8L244.5 319.7L244.1 318.1L241.3 319.4Z" fill="#F1DBD9"/><path d="M123.4 415.9L126.1 417L126.8 414.4L124 412.7Z" fill="#99D400"/><path d="M130.9 422.4L133.7 424.1L134.3 421.1L131.5 419.3Z" fill="#7FCD00"/><path d="M233.1 331.5L236.5 327L235.7 328.5L232.5 332.1Z" fill="#EFC4B7"/><path d="M155.3 460.3L158 460.9L158.4 458L155.8 457.5Z" fill="#0CAA00"/><path d="M140.6 433.6L143.4 435.8L144.2 435.3L141.4 432.3Z" fill="#57C200"/><path d="M200.5 401.8L203.4 398.5L203.7 393.8L200.7 398Z" fill="#D2E100"/><path d="M148 446.4L150.8 449.6L151.3 446.5L148.5 443.9Z" fill="#2CB500"/><path d="M158 460.9L160.6 460.9L161 457.7L158.4 458Z" fill="#0CAA00"/><path d="M169.3 446.2L171.9 444.6L172.2 441.8L169.6 443.5Z" fill="#33B700"/><path d="M230.2 337.4L233.4 333.8L233.1 331.5L230 334.7Z" fill="#EFC0AF"/><path d="M150.3 452.1L153.1 455.3L153.6 452.7L150.8 449.6Z" fill="#1EB100"/><path d="M115.3 405.7L118.2 407.8L119.6 409.2L116.7 406.7Z" fill="#B5DB00"/><path d="M163.5 456.5L166.1 455.2L166.4 451.4L163.9 453.6Z" fill="#18AF00"/><path d="M239 324.6L242.1 321.8L241.3 322.8L238.1 326.4Z" fill="#F1D5D0"/><path d="M192 414.8L194.8 412.4L194.8 412.1L192.1 413.1Z" fill="#99D400"/><path d="M186.1 426.2L188.9 424.1L189 421L186.3 422.9Z" fill="#77CB00"/><path d="M166.4 451.4L169 450.1L169.3 446.2L166.7 447.7Z" fill="#25B300"/><path d="M218 369.5L221 366.4L221.1 362.8L218.1 365.2Z" fill="#EAB456"/><path d="M183.3 431.1L186 429L186.1 426.2L183.4 428.5Z" fill="#67C700"/><path d="M128.2 421.1L130.9 422.4L131.5 419.3L128.8 417.7Z" fill="#88D000"/><path d="M152.6 458L155.3 460.3L155.8 457.5L153.1 455.3Z" fill="#12AC00"/><path d="M209.6 382.6L212.6 379.1L212.2 380L209.2 383.2Z" fill="#E8C727"/><path d="M189 421L191.9 418.1L192 414.8L189.2 417.5Z" fill="#91D200"/><path d="M120.4 412.8L123.4 415.9L124 412.7L121.2 410.8Z" fill="#A2D600"/><path d="M174.8 440.6L177.5 437.9L177.7 436L175.1 438.6Z" fill="#48BE00"/><path d="M227 351.7L230.2 347.7L229.8 347.4L226.5 351.7Z" fill="#EDB386"/><path d="M133 426.4L135.8 428.3L136.5 426L133.7 424.1Z" fill="#6FC900"/><path d="M160.6 460.9L163.1 459.2L163.5 456.5L161 457.7Z" fill="#0CAA00"/><path d="M224.1 356.8L227.3 352.7L227 351.7L223.7 356.3Z" fill="#ECB176"/><path d="M229.9 342.8L233.2 338.7L233.4 333.8L230.2 337.4Z" fill="#EEBCA7"/><path d="M180.4 434.4L183.1 432.8L183.3 431.1L180.6 433.5Z" fill="#5FC500"/><path d="M125.4 419.6L128.2 421.1L128.8 417.7L126.1 417Z" fill="#88D000"/><path d="M221.1 362.8L224.5 357.4L224.1 356.8L220.9 360.7Z" fill="#EBB166"/><path d="M197.6 409L200.5 406.8L200.5 404.4L197.6 407.4Z" fill="#B5DB00"/><path d="M137.8 431.1L140.6 433.6L141.4 432.3L138.6 430.9Z" fill="#5FC500"/><path d="M200.5 404.4L203.4 401.6L203.4 398.5L200.5 401.8Z" fill="#C8DF00"/><path d="M142.7 437.4L145.6 440.3L146.3 439.7L143.4 435.8Z" fill="#48BE00"/><path d="M112.3 403.6L115.3 405.7L116.7 406.7L113.8 404.7Z" fill="#BEDD00"/><path d="M218 372.9L221 370.2L221 366.4L218 369.5Z" fill="#EAB64E"/><path d="M171.9 444.6L174.6 443L174.8 440.6L172.2 441.8Z" fill="#41BC00"/><path d="M215.2 376.9L218.2 374.1L218 372.9L214.9 376Z" fill="#E9BB3E"/><path d="M203.7 393.8L206.6 390.7L206.7 386.7L203.8 390Z" fill="#E6D80F"/><path d="M229.8 347.4L233.2 342.3L233.2 338.7L229.9 342.8Z" fill="#EEB696"/><path d="M122.6 418.2L125.4 419.6L126.1 417L123.4 415.9Z" fill="#91D200"/><path d="M206.7 386.7L209.8 383.3L209.6 382.6L206.5 386.5Z" fill="#E7CC1F"/><path d="M166.1 455.2L168.7 453.7L169 450.1L166.4 451.4Z" fill="#1EB100"/><path d="M169 450.1L171.6 448.3L171.9 444.6L169.3 446.2Z" fill="#33B700"/><path d="M130.1 424.4L133 426.4L133.7 424.1L130.9 422.4Z" fill="#77CB00"/><path d="M145.1 443.5L148 446.4L148.5 443.9L145.6 440.3Z" fill="#3ABA00"/><path d="M236.5 327L239.7 324.2L239 324.6L235.7 328.5Z" fill="#F0CFC8"/><path d="M194.8 412.4L197.6 410.6L197.6 409L194.8 412.1Z" fill="#ACD800"/><path d="M147.4 449.5L150.3 452.1L150.8 449.6L148 446.4Z" fill="#2CB500"/><path d="M188.9 424.1L191.7 422.2L191.9 418.1L189 421Z" fill="#88D000"/><path d="M242.1 321.8L245.4 318.8L244.5 319.7L241.3 322.8Z" fill="#F1DBD9"/><path d="M186 429L188.7 427.1L188.9 424.1L186.1 426.2Z" fill="#77CB00"/><path d="M117.4 410.4L120.4 412.8L121.2 410.8L118.2 407.8Z" fill="#ACD800"/><path d="M157.5 463L160.1 463.5L160.6 460.9L158 460.9Z" fill="#0CAA00"/><path d="M163.1 459.2L165.7 457.7L166.1 455.2L163.5 456.5Z" fill="#18AF00"/><path d="M233.4 333.8L236.6 330L236.5 327L233.1 331.5Z" fill="#F0C9C0"/><path d="M203.4 398.5L206.4 395.5L206.6 390.7L203.7 393.8Z" fill="#E6E600"/><path d="M149.7 455L152.6 458L153.1 455.3L150.3 452.1Z" fill="#1EB100"/><path d="M154.8 462L157.5 463L158 460.9L155.3 460.3Z" fill="#0CAA00"/><path d="M134.9 429.1L137.8 431.1L138.6 430.9L135.8 428.3Z" fill="#67C700"/><path d="M127.5 423.8L130.1 424.4L130.9 422.4L128.2 421.1Z" fill="#7FCD00"/><path d="M119.8 416.8L122.6 418.2L123.4 415.9L120.4 412.8Z" fill="#99D400"/><path d="M191.9 418.1L194.7 416.2L194.8 412.4L192 414.8Z" fill="#99D400"/><path d="M221 366.4L224.2 362.9L224.5 357.4L221.1 362.8Z" fill="#EBB166"/><path d="M177.5 437.9L180.2 435.5L180.4 434.4L177.7 436Z" fill="#57C200"/><path d="M212.6 379.1L215.6 376.4L215.2 376.9L212.2 380Z" fill="#E8BF36"/><path d="M183.1 432.8L185.9 430.4L186 429L183.3 431.1Z" fill="#67C700"/><path d="M109.1 399.9L112.3 403.6L113.8 404.7L110.7 401.4Z" fill="#D2E100"/><path d="M124.6 421.7L127.5 423.8L128.2 421.1L125.4 419.6Z" fill="#88D000"/><path d="M160.1 463.5L162.7 461.9L163.1 459.2L160.6 460.9Z" fill="#0CAA00"/><path d="M174.6 443L177.3 440.9L177.5 437.9L174.8 440.6Z" fill="#48BE00"/><path d="M152.1 460.3L154.8 462L155.3 460.3L152.6 458Z" fill="#12AC00"/><path d="M139.8 434.4L142.7 437.4L143.4 435.8L140.6 433.6Z" fill="#57C200"/><path d="M168.7 453.7L171.3 452L171.6 448.3L169 450.1Z" fill="#2CB500"/><path d="M200.5 406.8L203.4 403.6L203.4 401.6L200.5 404.4Z" fill="#C8DF00"/><path d="M233.2 338.7L236.4 335.3L236.6 330L233.4 333.8Z" fill="#EFC4B7"/><path d="M230.2 347.7L233.5 344.1L233.2 342.3L229.8 347.4Z" fill="#EEB696"/><path d="M171.6 448.3L174.3 446.5L174.6 443L171.9 444.6Z" fill="#3ABA00"/><path d="M114.5 408.5L117.4 410.4L118.2 407.8L115.3 405.7Z" fill="#BEDD00"/><path d="M218.2 374.1L221.3 371.1L221 370.2L218 372.9Z" fill="#E9B846"/><path d="M203.4 401.6L206.4 398.1L206.4 395.5L203.4 398.5Z" fill="#DBE300"/><path d="M221 370.2L224.2 366.4L224.2 362.9L221 366.4Z" fill="#EAB456"/><path d="M227.3 352.7L230.7 348.1L230.2 347.7L227 351.7Z" fill="#EDB386"/><path d="M224.5 357.4L227.6 354.4L227.3 352.7L224.1 356.8Z" fill="#ECB176"/><path d="M165.7 457.7L168.3 456L168.7 453.7L166.1 455.2Z" fill="#1EB100"/><path d="M188.7 427.1L191.5 425L191.7 422.2L188.9 424.1Z" fill="#7FCD00"/><path d="M116.9 414.7L119.8 416.8L120.4 412.8L117.4 410.4Z" fill="#ACD800"/><path d="M131.9 426.1L134.9 429.1L135.8 428.3L133 426.4Z" fill="#77CB00"/><path d="M206.6 390.7L209.7 387.2L209.8 383.3L206.7 386.7Z" fill="#E7CC1F"/><path d="M233.2 342.3L236.2 340.4L236.4 335.3L233.2 338.7Z" fill="#EEBCA7"/><path d="M239.7 324.2L243 320.5L242.1 321.8L239 324.6Z" fill="#F1D5D0"/><path d="M197.6 410.6L200.6 407.6L200.5 406.8L197.6 409Z" fill="#B5DB00"/><path d="M142.2 440.4L145.1 443.5L145.6 440.3L142.7 437.4Z" fill="#50C000"/><path d="M121.8 420.6L124.6 421.7L125.4 419.6L122.6 418.2Z" fill="#91D200"/><path d="M144.6 446.7L147.4 449.5L148 446.4L145.1 443.5Z" fill="#3ABA00"/><path d="M191.7 422.2L194.5 419.3L194.7 416.2L191.9 418.1Z" fill="#91D200"/><path d="M209.8 383.3L212.9 379.9L212.6 379.1L209.6 382.6Z" fill="#E8C32E"/><path d="M194.7 416.2L197.5 413.7L197.6 410.6L194.8 412.4Z" fill="#ACD800"/><path d="M180.2 435.5L183 433.6L183.1 432.8L180.4 434.4Z" fill="#5FC500"/><path d="M146.8 451.8L149.7 455L150.3 452.1L147.4 449.5Z" fill="#2CB500"/><path d="M118.9 419.2L121.8 420.6L122.6 418.2L119.8 416.8Z" fill="#99D400"/><path d="M236.6 330L240 325.9L239.7 324.2L236.5 327Z" fill="#F0CFC8"/><path d="M111.4 406L114.5 408.5L115.3 405.7L112.3 403.6Z" fill="#C8DF00"/><path d="M105.9 397.1L109.1 399.9L110.7 401.4L107.7 399.1Z" fill="#DBE300"/><path d="M157 465.8L159.7 466.6L160.1 463.5L157.5 463Z" fill="#06A800"/><path d="M136.9 432L139.8 434.4L140.6 433.6L137.8 431.1Z" fill="#67C700"/><path d="M149.2 457.6L152.1 460.3L152.6 458L149.7 455Z" fill="#1EB100"/><path d="M162.7 461.9L165.3 460.2L165.7 457.7L163.1 459.2Z" fill="#18AF00"/><path d="M206.4 395.5L209.5 391.4L209.7 387.2L206.6 390.7Z" fill="#E6D80F"/><path d="M215.6 376.4L218.8 373.1L218.2 374.1L215.2 376.9Z" fill="#E9BB3E"/><path d="M185.9 430.4L188.7 427.4L188.7 427.1L186 429Z" fill="#77CB00"/><path d="M129.2 425.2L131.9 426.1L133 426.4L130.1 424.4Z" fill="#7FCD00"/><path d="M171.3 452L174 450.3L174.3 446.5L171.6 448.3Z" fill="#33B700"/><path d="M154.3 464.8L157 465.8L157.5 463L154.8 462Z" fill="#0CAA00"/><path d="M113.7 411.7L116.9 414.7L117.4 410.4L114.5 408.5Z" fill="#B5DB00"/><path d="M174.3 446.5L177 444.1L177.3 440.9L174.6 443Z" fill="#48BE00"/><path d="M177.3 440.9L180 438.4L180.2 435.5L177.5 437.9Z" fill="#57C200"/><path d="M224.2 362.9L227.5 358.5L227.6 354.4L224.5 357.4Z" fill="#ECB176"/><path d="M168.3 456L171 454.7L171.3 452L168.7 453.7Z" fill="#25B300"/><path d="M159.7 466.6L162.3 465.5L162.7 461.9L160.1 463.5Z" fill="#0CAA00"/><path d="M236.4 335.3L239.7 332L240 325.9L236.6 330Z" fill="#F0C9C0"/><path d="M126.3 423.8L129.2 425.2L130.1 424.4L127.5 423.8Z" fill="#88D000"/><path d="M233.5 344.1L236.8 340.6L236.2 340.4L233.2 342.3Z" fill="#EEB99F"/><path d="M191.5 425L194.4 423.3L194.5 419.3L191.7 422.2Z" fill="#91D200"/><path d="M115.8 416.3L118.9 419.2L119.8 416.8L116.9 414.7Z" fill="#A2D600"/><path d="M221.3 371.1L224.6 367.3L224.2 366.4L221 370.2Z" fill="#EAB456"/><path d="M243 320.5L246.3 317.4L245.4 318.8L242.1 321.8Z" fill="#F1E2E1"/><path d="M236.2 340.4L239.6 336.7L239.7 332L236.4 335.3Z" fill="#EFC0AF"/><path d="M194.5 419.3L197.3 418L197.5 413.7L194.7 416.2Z" fill="#A2D600"/><path d="M141.6 443.9L144.6 446.7L145.1 443.5L142.2 440.4Z" fill="#48BE00"/><path d="M139.2 437.4L142.2 440.4L142.7 437.4L139.8 434.4Z" fill="#5FC500"/><path d="M203.4 403.6L206.6 399L206.4 398.1L203.4 401.6Z" fill="#DBE300"/><path d="M151.5 462.6L154.3 464.8L154.8 462L152.1 460.3Z" fill="#12AC00"/><path d="M206.4 398.1L209.5 395.1L209.5 391.4L206.4 395.5Z" fill="#E6DF08"/><path d="M183 433.6L185.8 431.7L185.9 430.4L183.1 432.8Z" fill="#6FC900"/><path d="M134 429.9L136.9 432L137.8 431.1L134.9 429.1Z" fill="#77CB00"/><path d="M209.7 387.2L212.7 384.4L212.9 379.9L209.8 383.3Z" fill="#E8C32E"/><path d="M224.2 366.4L227.5 362.7L227.5 358.5L224.2 362.9Z" fill="#EBB166"/><path d="M123.5 422.5L126.3 423.8L127.5 423.8L124.6 421.7Z" fill="#91D200"/><path d="M200.6 407.6L203.6 404L203.4 403.6L200.5 406.8Z" fill="#C8DF00"/><path d="M230.7 348.1L234.1 344.1L233.5 344.1L230.2 347.7Z" fill="#EEB696"/><path d="M212.9 379.9L215.9 377.4L215.6 376.4L212.6 379.1Z" fill="#E9BB3E"/><path d="M197.5 413.7L200.5 411.1L200.6 407.6L197.6 410.6Z" fill="#B5DB00"/><path d="M165.3 460.2L168 459.1L168.3 456L165.7 457.7Z" fill="#1EB100"/><path d="M108.2 402.5L111.4 406L112.3 403.6L109.1 399.9Z" fill="#DBE300"/><path d="M143.9 448.6L146.8 451.8L147.4 449.5L144.6 446.7Z" fill="#3ABA00"/><path d="M227.6 354.4L231.1 349.5L230.7 348.1L227.3 352.7Z" fill="#EDB386"/><path d="M110.6 409.1L113.7 411.7L114.5 408.5L111.4 406Z" fill="#BEDD00"/><path d="M188.7 427.4L191.5 426.1L191.5 425L188.7 427.1Z" fill="#7FCD00"/><path d="M240 325.9L243.3 322.9L243 320.5L239.7 324.2Z" fill="#F1DBD9"/><path d="M218.8 373.1L221.7 371.5L221.3 371.1L218.2 374.1Z" fill="#EAB64E"/><path d="M174 450.3L176.7 448.2L177 444.1L174.3 446.5Z" fill="#41BC00"/><path d="M171 454.7L173.7 453.5L174 450.3L171.3 452Z" fill="#33B700"/><path d="M146.2 454L149.2 457.6L149.7 455L146.8 451.8Z" fill="#2CB500"/><path d="M162.3 465.5L165 463.7L165.3 460.2L162.7 461.9Z" fill="#12AC00"/><path d="M156.6 469.4L159.3 469.3L159.7 466.6L157 465.8Z" fill="#06A800"/><path d="M120.6 421L123.5 422.5L124.6 421.7L121.8 420.6Z" fill="#99D400"/><path d="M153.9 468.7L156.6 469.4L157 465.8L154.3 464.8Z" fill="#0CAA00"/><path d="M209.5 391.4L212.5 389L212.7 384.4L209.7 387.2Z" fill="#E7CC1F"/><path d="M112.8 413.9L115.8 416.3L116.9 414.7L113.7 411.7Z" fill="#ACD800"/><path d="M177 444.1L179.8 441.5L180 438.4L177.3 440.9Z" fill="#57C200"/><path d="M180 438.4L182.8 435.8L183 433.6L180.2 435.5Z" fill="#67C700"/><path d="M131.1 428L134 429.9L134.9 429.1L131.9 426.1Z" fill="#7FCD00"/><path d="M236.8 340.6L240.1 337.7L239.6 336.7L236.2 340.4Z" fill="#EFC0AF"/><path d="M194.4 423.3L197.3 420L197.3 418L194.5 419.3Z" fill="#99D400"/><path d="M159.3 469.3L161.9 468.6L162.3 465.5L159.7 466.6Z" fill="#0CAA00"/><path d="M148.6 459.3L151.5 462.6L152.1 460.3L149.2 457.6Z" fill="#1EB100"/><path d="M136.3 434.8L139.2 437.4L139.8 434.4L136.9 432Z" fill="#67C700"/><path d="M117.7 419.6L120.6 421L121.8 420.6L118.9 419.2Z" fill="#99D400"/><path d="M197.3 418L200.3 415.1L200.5 411.1L197.5 413.7Z" fill="#ACD800"/><path d="M239.7 332L243.2 327.7L243.3 322.9L240 325.9Z" fill="#F1D5D0"/><path d="M168 459.1L170.7 457.2L171 454.7L168.3 456Z" fill="#25B300"/><path d="M138.6 440.5L141.6 443.9L142.2 440.4L139.2 437.4Z" fill="#57C200"/><path d="M227.5 358.5L230.8 355L231.1 349.5L227.6 354.4Z" fill="#EDB386"/><path d="M239.6 336.7L242.8 333.8L243.2 327.7L239.7 332Z" fill="#F0C9C0"/><path d="M151 466.3L153.9 468.7L154.3 464.8L151.5 462.6Z" fill="#12AC00"/><path d="M185.8 431.7L188.6 429.3L188.7 427.4L185.9 430.4Z" fill="#7FCD00"/><path d="M107.5 406.4L110.6 409.1L111.4 406L108.2 402.5Z" fill="#D2E100"/><path d="M105 399.6L108.2 402.5L109.1 399.9L105.9 397.1Z" fill="#E6E600"/><path d="M140.9 446L143.9 448.6L144.6 446.7L141.6 443.9Z" fill="#48BE00"/><path d="M212.7 384.4L215.8 381.2L215.9 377.4L212.9 379.9Z" fill="#E8BF36"/><path d="M191.5 426.1L194.4 423.5L194.4 423.3L191.5 425Z" fill="#91D200"/><path d="M215.9 377.4L219.1 374L218.8 373.1L215.6 376.4Z" fill="#E9B846"/><path d="M224.6 367.3L228 362.8L227.5 362.7L224.2 366.4Z" fill="#EBB166"/><path d="M234.1 344.1L237.3 341.5L236.8 340.6L233.5 344.1Z" fill="#EEBCA7"/><path d="M209.5 395.1L212.6 391.5L212.5 389L209.5 391.4Z" fill="#E7D217"/><path d="M206.6 399L209.7 396.2L209.5 395.1L206.4 398.1Z" fill="#E6DF08"/><path d="M128.2 426.1L131.1 428L131.9 426.1L129.2 425.2Z" fill="#88D000"/><path d="M243.3 322.9L246.6 320.1L246.3 317.4L243 320.5Z" fill="#F1E2E1"/><path d="M165 463.7L167.6 461.7L168 459.1L165.3 460.2Z" fill="#1EB100"/><path d="M173.7 453.5L176.5 450.9L176.7 448.2L174 450.3Z" fill="#3ABA00"/><path d="M109.6 411.2L112.8 413.9L113.7 411.7L110.6 409.1Z" fill="#BEDD00"/><path d="M200.5 411.1L203.5 407.6L203.6 404L200.6 407.6Z" fill="#C8DF00"/><path d="M227.5 362.7L230.9 358.1L230.8 355L227.5 358.5Z" fill="#ECB176"/><path d="M176.7 448.2L179.5 446L179.8 441.5L177 444.1Z" fill="#50C000"/><path d="M203.6 404L206.7 401L206.6 399L203.4 403.6Z" fill="#E6E600"/><path d="M114.5 416.3L117.7 419.6L118.9 419.2L115.8 416.3Z" fill="#ACD800"/><path d="M161.9 468.6L164.6 466.9L165 463.7L162.3 465.5Z" fill="#12AC00"/><path d="M221.7 371.5L225.2 366.8L224.6 367.3L221.3 371.1Z" fill="#EBB25E"/><path d="M133.3 432.7L136.3 434.8L136.9 432L134 429.9Z" fill="#77CB00"/><path d="M182.8 435.8L185.6 434.3L185.8 431.7L183 433.6Z" fill="#6FC900"/><path d="M231.1 349.5L234.5 345.5L234.1 344.1L230.7 348.1Z" fill="#EEB696"/><path d="M153.4 471.4L156.1 472.6L156.6 469.4L153.9 468.7Z" fill="#06A800"/><path d="M156.1 472.6L158.8 472.5L159.3 469.3L156.6 469.4Z" fill="#06A800"/><path d="M143.2 450.6L146.2 454L146.8 451.8L143.9 448.6Z" fill="#3ABA00"/><path d="M212.5 389L215.7 385.6L215.8 381.2L212.7 384.4Z" fill="#E8C32E"/><path d="M125.3 424.4L128.2 426.1L129.2 425.2L126.3 423.8Z" fill="#91D200"/><path d="M179.8 441.5L182.5 440.1L182.8 435.8L180 438.4Z" fill="#5FC500"/><path d="M170.7 457.2L173.4 455.5L173.7 453.5L171 454.7Z" fill="#33B700"/><path d="M240.1 337.7L243.4 334.6L242.8 333.8L239.6 336.7Z" fill="#EFC4B7"/><path d="M197.3 420L200.3 417.9L200.3 415.1L197.3 418Z" fill="#ACD800"/><path d="M135.7 438.7L138.6 440.5L139.2 437.4L136.3 434.8Z" fill="#67C700"/><path d="M158.8 472.5L161.6 472.5L161.9 468.6L159.3 469.3Z" fill="#06A800"/><path d="M145.6 456.4L148.6 459.3L149.2 457.6L146.2 454Z" fill="#2CB500"/><path d="M243.2 327.7L246.5 324.7L246.6 320.1L243.3 322.9Z" fill="#F1DBD9"/><path d="M242.8 333.8L246.1 330.9L246.5 324.7L243.2 327.7Z" fill="#F0CFC8"/><path d="M104.2 402.9L107.5 406.4L108.2 402.5L105 399.6Z" fill="#E6E600"/><path d="M138 443.4L140.9 446L141.6 443.9L138.6 440.5Z" fill="#57C200"/><path d="M122.3 422.6L125.3 424.4L126.3 423.8L123.5 422.5Z" fill="#99D400"/><path d="M148 462.6L151 466.3L151.5 462.6L148.6 459.3Z" fill="#1EB100"/><path d="M200.3 415.1L203.4 411.8L203.5 407.6L200.5 411.1Z" fill="#BEDD00"/><path d="M130.4 430.9L133.3 432.7L134 429.9L131.1 428Z" fill="#7FCD00"/><path d="M167.6 461.7L170.4 460.6L170.7 457.2L168 459.1Z" fill="#25B300"/><path d="M150.5 469.2L153.4 471.4L153.9 468.7L151 466.3Z" fill="#0CAA00"/><path d="M188.6 429.3L191.6 426.1L191.5 426.1L188.7 427.4Z" fill="#88D000"/><path d="M106.4 408.2L109.6 411.2L110.6 409.1L107.5 406.4Z" fill="#D2E100"/><path d="M219.1 374L222.3 370.8L221.7 371.5L218.8 373.1Z" fill="#EAB456"/><path d="M194.4 423.5L197.4 420.7L197.3 420L194.4 423.3Z" fill="#99D400"/><path d="M237.3 341.5L240.7 337.8L240.1 337.7L236.8 340.6Z" fill="#EFC0AF"/><path d="M230.8 355L234.2 351.2L234.5 345.5L231.1 349.5Z" fill="#EDB48E"/><path d="M215.8 381.2L219.1 377.8L219.1 374L215.9 377.4Z" fill="#E9B846"/><path d="M111.4 414L114.5 416.3L115.8 416.3L112.8 413.9Z" fill="#B5DB00"/><path d="M212.6 391.5L215.7 389.2L215.7 385.6L212.5 389Z" fill="#E8C727"/><path d="M179.5 446L182.3 444.7L182.5 440.1L179.8 441.5Z" fill="#57C200"/><path d="M176.5 450.9L179.3 448.8L179.5 446L176.7 448.2Z" fill="#48BE00"/><path d="M164.6 466.9L167.3 465.3L167.6 461.7L165 463.7Z" fill="#18AF00"/><path d="M185.6 434.3L188.5 431.9L188.6 429.3L185.8 431.7Z" fill="#7FCD00"/><path d="M209.7 396.2L212.9 392.6L212.6 391.5L209.5 395.1Z" fill="#E7D217"/><path d="M119.4 421L122.3 422.6L123.5 422.5L120.6 421Z" fill="#A2D600"/><path d="M132.7 436.3L135.7 438.7L136.3 434.8L133.3 432.7Z" fill="#6FC900"/><path d="M161.6 472.5L164.2 470.6L164.6 466.9L161.9 468.6Z" fill="#0CAA00"/><path d="M228 362.8L231.4 359.3L230.9 358.1L227.5 362.7Z" fill="#ECB176"/><path d="M182.5 440.1L185.4 437.8L185.6 434.3L182.8 435.8Z" fill="#6FC900"/><path d="M127.5 429.4L130.4 430.9L131.1 428L128.2 426.1Z" fill="#88D000"/><path d="M173.4 455.5L176.2 453.6L176.5 450.9L173.7 453.5Z" fill="#3ABA00"/><path d="M230.9 358.1L234.1 355.9L234.2 351.2L230.8 355Z" fill="#EDB386"/><path d="M140.2 448L143.2 450.6L143.9 448.6L140.9 446Z" fill="#48BE00"/><path d="M234.5 345.5L237.8 342.5L237.3 341.5L234.1 344.1Z" fill="#EEBCA7"/><path d="M203.5 407.6L206.7 404L206.7 401L203.6 404Z" fill="#DBE300"/><path d="M243.4 334.6L246.7 331.9L246.1 330.9L242.8 333.8Z" fill="#F0C9C0"/><path d="M155.7 475.6L158.4 475.2L158.8 472.5L156.1 472.6Z" fill="#06A800"/><path d="M206.7 401L209.9 396.7L209.7 396.2L206.6 399Z" fill="#E6D80F"/><path d="M215.7 385.6L218.9 382.2L219.1 377.8L215.8 381.2Z" fill="#E9BB3E"/><path d="M135 441L138 443.4L138.6 440.5L135.7 438.7Z" fill="#5FC500"/><path d="M152.8 473.9L155.7 475.6L156.1 472.6L153.4 471.4Z" fill="#06A800"/><path d="M116.3 419L119.4 421L120.6 421L117.7 419.6Z" fill="#ACD800"/><path d="M225.2 366.8L228.6 362.9L228 362.8L224.6 367.3Z" fill="#EBB16E"/><path d="M200.3 417.9L203.4 414.8L203.4 411.8L200.3 415.1Z" fill="#BEDD00"/><path d="M170.4 460.6L173.1 458.4L173.4 455.5L170.7 457.2Z" fill="#33B700"/><path d="M158.4 475.2L161.1 475.6L161.6 472.5L158.8 472.5Z" fill="#06A800"/><path d="M124.6 428L127.5 429.4L128.2 426.1L125.3 424.4Z" fill="#91D200"/><path d="M108.2 411.2L111.4 414L112.8 413.9L109.6 411.2Z" fill="#C8DF00"/><path d="M103.1 405.3L106.4 408.2L107.5 406.4L104.2 402.9Z" fill="#DBE300"/><path d="M191.6 426.1L194.5 424.3L194.4 423.5L191.5 426.1Z" fill="#99D400"/><path d="M129.8 434.3L132.7 436.3L133.3 432.7L130.4 430.9Z" fill="#7FCD00"/><path d="M142.4 452.2L145.6 456.4L146.2 454L143.2 450.6Z" fill="#41BC00"/><path d="M167.3 465.3L170 464.4L170.4 460.6L167.6 461.7Z" fill="#25B300"/><path d="M147.5 465.8L150.5 469.2L151 466.3L148 462.6Z" fill="#18AF00"/><path d="M182.3 444.7L185.1 442.4L185.4 437.8L182.5 440.1Z" fill="#5FC500"/><path d="M179.3 448.8L182.1 447.3L182.3 444.7L179.5 446Z" fill="#50C000"/><path d="M145 459.3L148 462.6L148.6 459.3L145.6 456.4Z" fill="#2CB500"/><path d="M240.7 337.8L244.2 334.3L243.4 334.6L240.1 337.7Z" fill="#EFC4B7"/><path d="M197.4 420.7L200.4 418.3L200.3 417.9L197.3 420Z" fill="#ACD800"/><path d="M164.2 470.6L167 469.3L167.3 465.3L164.6 466.9Z" fill="#18AF00"/><path d="M234.2 351.2L237.5 348.6L237.8 342.5L234.5 345.5Z" fill="#EEB99F"/><path d="M222.3 370.8L225.8 366.5L225.2 366.8L221.7 371.5Z" fill="#EBB166"/><path d="M149.9 472.1L152.8 473.9L153.4 471.4L150.5 469.2Z" fill="#0CAA00"/><path d="M219.1 377.8L222.3 374.6L222.3 370.8L219.1 374Z" fill="#EAB456"/><path d="M203.4 411.8L206.6 407.7L206.7 404L203.5 407.6Z" fill="#DBE300"/><path d="M215.7 389.2L219 385.6L218.9 382.2L215.7 385.6Z" fill="#E8BF36"/><path d="M137.1 444.8L140.2 448L140.9 446L138 443.4Z" fill="#57C200"/><path d="M121.6 425.9L124.6 428L125.3 424.4L122.3 422.6Z" fill="#99D400"/><path d="M185.4 437.8L188.3 435.4L188.5 431.9L185.6 434.3Z" fill="#77CB00"/><path d="M132 438.9L135 441L135.7 438.7L132.7 436.3Z" fill="#6FC900"/><path d="M126.8 432.9L129.8 434.3L130.4 430.9L127.5 429.4Z" fill="#88D000"/><path d="M113.2 416.6L116.3 419L117.7 419.6L114.5 416.3Z" fill="#B5DB00"/><path d="M161.1 475.6L163.8 473.5L164.2 470.6L161.6 472.5Z" fill="#0CAA00"/><path d="M176.2 453.6L179 452L179.3 448.8L176.5 450.9Z" fill="#48BE00"/><path d="M188.5 431.9L191.4 429.3L191.6 426.1L188.6 429.3Z" fill="#91D200"/><path d="M212.9 392.6L216 390.1L215.7 389.2L212.6 391.5Z" fill="#E8C727"/><path d="M234.1 355.9L237.5 352.2L237.5 348.6L234.2 351.2Z" fill="#EDB48E"/><path d="M237.8 342.5L241.2 339.5L240.7 337.8L237.3 341.5Z" fill="#EFC0AF"/><path d="M231.4 359.3L234.9 355.2L234.1 355.9L230.9 358.1Z" fill="#EDB386"/><path d="M173.1 458.4L175.9 457L176.2 453.6L173.4 455.5Z" fill="#3ABA00"/><path d="M124 431.8L126.8 432.9L127.5 429.4L124.6 428Z" fill="#88D000"/><path d="M104.8 407.8L108.2 411.2L109.6 411.2L106.4 408.2Z" fill="#D2E100"/><path d="M170 464.4L172.8 462.3L173.1 458.4L170.4 460.6Z" fill="#2CB500"/><path d="M118.6 424.5L121.6 425.9L122.3 422.6L119.4 421Z" fill="#A2D600"/><path d="M218.9 382.2L222.2 379.4L222.3 374.6L219.1 377.8Z" fill="#E9B846"/><path d="M206.7 404L209.9 400.6L209.9 396.7L206.7 401Z" fill="#E6D80F"/><path d="M155.2 478.5L157.9 478.6L158.4 475.2L155.7 475.6Z" fill="#06A800"/><path d="M167 469.3L169.7 467.6L170 464.4L167.3 465.3Z" fill="#1EB100"/><path d="M194.5 424.3L197.5 421.7L197.4 420.7L194.4 423.5Z" fill="#A2D600"/><path d="M209.9 396.7L213.1 393.6L212.9 392.6L209.7 396.2Z" fill="#E7CC1F"/><path d="M182.1 447.3L185 444.7L185.1 442.4L182.3 444.7Z" fill="#5FC500"/><path d="M128.9 436.8L132 438.9L132.7 436.3L129.8 434.3Z" fill="#77CB00"/><path d="M152.3 477L155.2 478.5L155.7 475.6L152.8 473.9Z" fill="#06A800"/><path d="M185.1 442.4L188.1 440.1L188.3 435.4L185.4 437.8Z" fill="#6FC900"/><path d="M244.2 334.3L247.4 332.3L246.7 331.9L243.4 334.6Z" fill="#F0CFC8"/><path d="M139.4 449.5L142.4 452.2L143.2 450.6L140.2 448Z" fill="#50C000"/><path d="M228.6 362.9L232.1 358.4L231.4 359.3L228 362.8Z" fill="#ECB17E"/><path d="M157.9 478.6L160.7 478L161.1 475.6L158.4 475.2Z" fill="#06A800"/><path d="M121 430.2L124 431.8L124.6 428L121.6 425.9Z" fill="#91D200"/><path d="M144.5 463.1L147.5 465.8L148 462.6L145 459.3Z" fill="#2CB500"/><path d="M203.4 414.8L206.6 410.7L206.6 407.7L203.4 411.8Z" fill="#D2E100"/><path d="M109.9 413.6L113.2 416.6L114.5 416.3L111.4 414Z" fill="#C8DF00"/><path d="M146.9 468.8L149.9 472.1L150.5 469.2L147.5 465.8Z" fill="#18AF00"/><path d="M134 442L137.1 444.8L138 443.4L135 441Z" fill="#67C700"/><path d="M115.6 422.9L118.6 424.5L119.4 421L116.3 419Z" fill="#ACD800"/><path d="M237.5 348.6L241 344.4L241.2 339.5L237.8 342.5Z" fill="#EEBCA7"/><path d="M141.9 456.1L145 459.3L145.6 456.4L142.4 452.2Z" fill="#41BC00"/><path d="M163.8 473.5L166.6 471.8L167 469.3L164.2 470.6Z" fill="#12AC00"/><path d="M200.4 418.3L203.7 414.3L203.4 414.8L200.3 417.9Z" fill="#BEDD00"/><path d="M179 452L181.9 449.4L182.1 447.3L179.3 448.8Z" fill="#50C000"/><path d="M188.3 435.4L191.2 433.8L191.4 429.3L188.5 431.9Z" fill="#88D000"/><path d="M219 385.6L222 383.9L222.2 379.4L218.9 382.2Z" fill="#E9BB3E"/><path d="M191.4 429.3L194.4 427L194.5 424.3L191.6 426.1Z" fill="#99D400"/><path d="M216 390.1L219.3 386.9L219 385.6L215.7 389.2Z" fill="#E8C32E"/><path d="M126 435.2L128.9 436.8L129.8 434.3L126.8 432.9Z" fill="#7FCD00"/><path d="M222.3 374.6L225.8 370.2L225.8 366.5L222.3 370.8Z" fill="#EBB166"/><path d="M175.9 457L178.8 454.8L179 452L176.2 453.6Z" fill="#41BC00"/><path d="M237.5 352.2L241 348.8L241 344.4L237.5 348.6Z" fill="#EEB99F"/><path d="M241.2 339.5L244.6 335.9L244.2 334.3L240.7 337.8Z" fill="#F0C9C0"/><path d="M225.8 366.5L229.2 362.7L228.6 362.9L225.2 366.8Z" fill="#ECB176"/><path d="M206.6 407.7L209.7 404.9L209.9 400.6L206.7 404Z" fill="#E6DF08"/><path d="M117.9 428.2L121 430.2L121.6 425.9L118.6 424.5Z" fill="#99D400"/><path d="M234.9 355.2L238.2 352.4L237.5 352.2L234.1 355.9Z" fill="#EDB48E"/><path d="M101.4 404.8L104.8 407.8L106.4 408.2L103.1 405.3Z" fill="#E6E600"/><path d="M149.3 474.4L152.3 477L152.8 473.9L149.9 472.1Z" fill="#0CAA00"/><path d="M169.7 467.6L172.5 466.2L172.8 462.3L170 464.4Z" fill="#25B300"/><path d="M160.7 478L163.4 476.4L163.8 473.5L161.1 475.6Z" fill="#0CAA00"/><path d="M172.8 462.3L175.6 460.1L175.9 457L173.1 458.4Z" fill="#3ABA00"/><path d="M112.3 419.8L115.6 422.9L116.3 419L113.2 416.6Z" fill="#B5DB00"/><path d="M122.9 433.3L126 435.2L126.8 432.9L124 431.8Z" fill="#88D000"/><path d="M131 440.2L134 442L135 441L132 438.9Z" fill="#6FC900"/><path d="M106.6 410.9L109.9 413.6L111.4 414L108.2 411.2Z" fill="#D2E100"/><path d="M188.1 440.1L191 438L191.2 433.8L188.3 435.4Z" fill="#7FCD00"/><path d="M222.2 379.4L225.5 376.2L225.8 370.2L222.3 374.6Z" fill="#EAB456"/><path d="M136.3 446.4L139.4 449.5L140.2 448L137.1 444.8Z" fill="#5FC500"/><path d="M185 444.7L188 442.1L188.1 440.1L185.1 442.4Z" fill="#6FC900"/><path d="M197.5 421.7L200.6 418.8L200.4 418.3L197.4 420.7Z" fill="#B5DB00"/><path d="M213.1 393.6L216.3 391.1L216 390.1L212.9 392.6Z" fill="#E8C727"/><path d="M166.6 471.8L169.4 470.5L169.7 467.6L167 469.3Z" fill="#1EB100"/><path d="M154.6 481.4L157.5 482.1L157.9 478.6L155.2 478.5Z" fill="#00A600"/><path d="M114.8 425.9L117.9 428.2L118.6 424.5L115.6 422.9Z" fill="#A2D600"/><path d="M209.9 400.6L213 397.9L213.1 393.6L209.9 396.7Z" fill="#E7CC1F"/><path d="M119.9 431.8L122.9 433.3L124 431.8L121 430.2Z" fill="#91D200"/><path d="M141.3 459.2L144.5 463.1L145 459.3L141.9 456.1Z" fill="#3ABA00"/><path d="M191.2 433.8L194.3 430.8L194.4 427L191.4 429.3Z" fill="#91D200"/><path d="M143.8 465.4L146.9 468.8L147.5 465.8L144.5 463.1Z" fill="#2CB500"/><path d="M181.9 449.4L184.8 446.7L185 444.7L182.1 447.3Z" fill="#5FC500"/><path d="M151.7 479.5L154.6 481.4L155.2 478.5L152.3 477Z" fill="#06A800"/><path d="M241 344.4L244.6 340.5L244.6 335.9L241.2 339.5Z" fill="#EFC4B7"/><path d="M232.1 358.4L235.6 354.6L234.9 355.2L231.4 359.3Z" fill="#EDB386"/><path d="M194.4 427L197.4 424.7L197.5 421.7L194.5 424.3Z" fill="#ACD800"/><path d="M222 383.9L225.5 379.6L225.5 376.2L222.2 379.4Z" fill="#EAB64E"/><path d="M138.7 452.6L141.9 456.1L142.4 452.2L139.4 449.5Z" fill="#50C000"/><path d="M206.6 410.7L209.7 408.2L209.7 404.9L206.6 407.7Z" fill="#E6E600"/><path d="M157.5 482.1L160.2 480.4L160.7 478L157.9 478.6Z" fill="#06A800"/><path d="M128 438.3L131 440.2L132 438.9L128.9 436.8Z" fill="#7FCD00"/><path d="M219.3 386.9L222.6 384.1L222 383.9L219 385.6Z" fill="#E9BB3E"/><path d="M244.6 335.9L248.1 333.1L247.4 332.3L244.2 334.3Z" fill="#F0CFC8"/><path d="M178.8 454.8L181.7 452.3L181.9 449.4L179 452Z" fill="#50C000"/><path d="M175.6 460.1L178.5 458.8L178.8 454.8L175.9 457Z" fill="#41BC00"/><path d="M172.5 466.2L175.3 464.4L175.6 460.1L172.8 462.3Z" fill="#33B700"/><path d="M146.2 470.6L149.3 474.4L149.9 472.1L146.9 468.8Z" fill="#1EB100"/><path d="M109.1 417.5L112.3 419.8L113.2 416.6L109.9 413.6Z" fill="#C8DF00"/><path d="M117 430.9L119.9 431.8L121 430.2L117.9 428.2Z" fill="#99D400"/><path d="M163.4 476.4L166.2 474.4L166.6 471.8L163.8 473.5Z" fill="#18AF00"/><path d="M238.2 352.4L241.6 349.4L241 348.8L237.5 352.2Z" fill="#EEB99F"/><path d="M241 348.8L244.3 346.3L244.6 340.5L241 344.4Z" fill="#EEBCA7"/><path d="M203.7 414.3L206.9 410.5L206.6 410.7L203.4 414.8Z" fill="#D2E100"/><path d="M111.6 423.8L114.8 425.9L115.6 422.9L112.3 419.8Z" fill="#B5DB00"/><path d="M209.7 404.9L213 401.7L213 397.9L209.9 400.6Z" fill="#E6D80F"/><path d="M103.3 408L106.6 410.9L108.2 411.2L104.8 407.8Z" fill="#E6E600"/><path d="M225.8 370.2L229.2 366.6L229.2 362.7L225.8 366.5Z" fill="#ECB176"/><path d="M133.2 444.4L136.3 446.4L137.1 444.8L134 442Z" fill="#6FC900"/><path d="M169.4 470.5L172.2 468.6L172.5 466.2L169.7 467.6Z" fill="#25B300"/><path d="M188 442.1L190.9 440.6L191 438L188.1 440.1Z" fill="#77CB00"/><path d="M229.2 362.7L232.8 358.1L232.1 358.4L228.6 362.9Z" fill="#EDB386"/><path d="M191 438L194 435.5L194.3 430.8L191.2 433.8Z" fill="#88D000"/><path d="M124.9 436.4L128 438.3L128.9 436.8L126 435.2Z" fill="#88D000"/><path d="M216.3 391.1L219.7 387.6L219.3 386.9L216 390.1Z" fill="#E8BF36"/><path d="M148.7 477L151.7 479.5L152.3 477L149.3 474.4Z" fill="#12AC00"/><path d="M113.9 429L117 430.9L117.9 428.2L114.8 425.9Z" fill="#A2D600"/><path d="M213 397.9L216.3 394.8L216.3 391.1L213.1 393.6Z" fill="#E8C727"/><path d="M160.2 480.4L163 478.7L163.4 476.4L160.7 478Z" fill="#0CAA00"/><path d="M225.5 376.2L229 372.3L229.2 366.6L225.8 370.2Z" fill="#EBB166"/><path d="M135.7 450.9L138.7 452.6L139.4 449.5L136.3 446.4Z" fill="#5FC500"/><path d="M200.6 418.8L203.9 414.8L203.7 414.3L200.4 418.3Z" fill="#C8DF00"/><path d="M194.3 430.8L197.3 428.8L197.4 424.7L194.4 427Z" fill="#A2D600"/><path d="M154.1 484.4L157 485.1L157.5 482.1L154.6 481.4Z" fill="#00A600"/><path d="M244.6 340.5L248 338L248.1 333.1L244.6 335.9Z" fill="#F0C9C0"/><path d="M138.2 456.8L141.3 459.2L141.9 456.1L138.7 452.6Z" fill="#48BE00"/><path d="M105.8 414.6L109.1 417.5L109.9 413.6L106.6 410.9Z" fill="#D2E100"/><path d="M121.9 435.1L124.9 436.4L126 435.2L122.9 433.3Z" fill="#91D200"/><path d="M184.8 446.7L187.8 444.4L188 442.1L185 444.7Z" fill="#6FC900"/><path d="M175.3 464.4L178.2 462.8L178.5 458.8L175.6 460.1Z" fill="#3ABA00"/><path d="M108.3 420.9L111.6 423.8L112.3 419.8L109.1 417.5Z" fill="#BEDD00"/><path d="M140.6 461.9L143.8 465.4L144.5 463.1L141.3 459.2Z" fill="#3ABA00"/><path d="M178.5 458.8L181.4 457L181.7 452.3L178.8 454.8Z" fill="#50C000"/><path d="M235.6 354.6L239.1 351.2L238.2 352.4L234.9 355.2Z" fill="#EEB696"/><path d="M197.4 424.7L200.6 421.1L200.6 418.8L197.5 421.7Z" fill="#BEDD00"/><path d="M166.2 474.4L169 472.5L169.4 470.5L166.6 471.8Z" fill="#1EB100"/><path d="M222.6 384.1L226 380.5L225.5 379.6L222 383.9Z" fill="#EAB64E"/><path d="M130 441.6L133.2 444.4L134 442L131 440.2Z" fill="#77CB00"/><path d="M209.7 408.2L213.1 404L213 401.7L209.7 404.9Z" fill="#E6D80F"/><path d="M241.6 349.4L245.2 346.2L244.3 346.3L241 348.8Z" fill="#EEBCA7"/><path d="M151.2 483.3L154.1 484.4L154.6 481.4L151.7 479.5Z" fill="#06A800"/><path d="M244.3 346.3L247.9 343.1L248 338L244.6 340.5Z" fill="#EFC4B7"/><path d="M99.8 404.9L103.3 408L104.8 407.8L101.4 404.8Z" fill="#E6DF08"/><path d="M225.5 379.6L229 375.9L229 372.3L225.5 376.2Z" fill="#EBB25E"/><path d="M181.7 452.3L184.7 449.8L184.8 446.7L181.9 449.4Z" fill="#5FC500"/><path d="M157 485.1L159.7 483.6L160.2 480.4L157.5 482.1Z" fill="#06A800"/><path d="M172.2 468.6L175.1 467L175.3 464.4L172.5 466.2Z" fill="#2CB500"/><path d="M110.6 426.1L113.9 429L114.8 425.9L111.6 423.8Z" fill="#ACD800"/><path d="M213 401.7L216.3 398.8L216.3 394.8L213 397.9Z" fill="#E7CC1F"/><path d="M118.8 433.3L121.9 435.1L122.9 433.3L119.9 431.8Z" fill="#99D400"/><path d="M143 467.1L146.2 470.6L146.9 468.8L143.8 465.4Z" fill="#2CB500"/><path d="M206.9 410.5L210.2 407.8L209.7 408.2L206.6 410.7Z" fill="#E6E600"/><path d="M190.9 440.6L194 437.3L194 435.5L191 438Z" fill="#88D000"/><path d="M194 435.5L197.1 432.9L197.3 428.8L194.3 430.8Z" fill="#99D400"/><path d="M132.6 448L135.7 450.9L136.3 446.4L133.2 444.4Z" fill="#67C700"/><path d="M229.2 366.6L232.6 363.5L232.8 358.1L229.2 362.7Z" fill="#ECB17E"/><path d="M163 478.7L165.8 477L166.2 474.4L163.4 476.4Z" fill="#18AF00"/><path d="M127 440.2L130 441.6L131 440.2L128 438.3Z" fill="#7FCD00"/><path d="M219.7 387.6L223.1 384.1L222.6 384.1L219.3 386.9Z" fill="#E9B846"/><path d="M145.5 473L148.7 477L149.3 474.4L146.2 470.6Z" fill="#1EB100"/><path d="M135 453.9L138.2 456.8L138.7 452.6L135.7 450.9Z" fill="#57C200"/><path d="M105.1 418.7L108.3 420.9L109.1 417.5L105.8 414.6Z" fill="#C8DF00"/><path d="M115.7 431.8L118.8 433.3L119.9 431.8L117 430.9Z" fill="#99D400"/><path d="M216.3 394.8L219.7 391.5L219.7 387.6L216.3 391.1Z" fill="#E8BF36"/><path d="M232.8 358.1L236.3 354.6L235.6 354.6L232.1 358.4Z" fill="#EDB48E"/><path d="M102.3 411.1L105.8 414.6L106.6 410.9L103.3 408Z" fill="#E6E600"/><path d="M178.2 462.8L181.2 459.9L181.4 457L178.5 458.8Z" fill="#48BE00"/><path d="M148.1 479.9L151.2 483.3L151.7 479.5L148.7 477Z" fill="#12AC00"/><path d="M169 472.5L171.9 470.9L172.2 468.6L169.4 470.5Z" fill="#25B300"/><path d="M187.8 444.4L190.9 441.9L190.9 440.6L188 442.1Z" fill="#77CB00"/><path d="M229 372.3L232.5 368.2L232.6 363.5L229.2 366.6Z" fill="#ECB176"/><path d="M239.1 351.2L242.5 348.7L241.6 349.4L238.2 352.4Z" fill="#EEB99F"/><path d="M197.3 428.8L200.5 424.9L200.6 421.1L197.4 424.7Z" fill="#B5DB00"/><path d="M107.3 423.8L110.6 426.1L111.6 423.8L108.3 420.9Z" fill="#BEDD00"/><path d="M153.6 488.5L156.5 488.5L157 485.1L154.1 484.4Z" fill="#00A600"/><path d="M245.2 346.2L248.6 343.5L247.9 343.1L244.3 346.3Z" fill="#EFC0AF"/><path d="M159.7 483.6L162.5 482.4L163 478.7L160.2 480.4Z" fill="#0CAA00"/><path d="M181.4 457L184.4 454.3L184.7 449.8L181.7 452.3Z" fill="#57C200"/><path d="M175.1 467L178 465.2L178.2 462.8L175.3 464.4Z" fill="#3ABA00"/><path d="M137.3 458.6L140.6 461.9L141.3 459.2L138.2 456.8Z" fill="#48BE00"/><path d="M123.9 438.1L127 440.2L128 438.3L124.9 436.4Z" fill="#88D000"/><path d="M112.5 429.5L115.7 431.8L117 430.9L113.9 429Z" fill="#A2D600"/><path d="M150.7 487L153.6 488.5L154.1 484.4L151.2 483.3Z" fill="#06A800"/><path d="M203.9 414.8L207.2 411.4L206.9 410.5L203.7 414.3Z" fill="#E6E600"/><path d="M129.5 446.4L132.6 448L133.2 444.4L130 441.6Z" fill="#77CB00"/><path d="M184.7 449.8L187.7 447.8L187.8 444.4L184.8 446.7Z" fill="#6FC900"/><path d="M213.1 404L216.4 401.1L216.3 398.8L213 401.7Z" fill="#E7CC1F"/><path d="M200.6 421.1L203.9 417.3L203.9 414.8L200.6 418.8Z" fill="#D2E100"/><path d="M226 380.5L229.6 376.4L229 375.9L225.5 379.6Z" fill="#EBB25E"/><path d="M156.5 488.5L159.3 487.4L159.7 483.6L157 485.1Z" fill="#06A800"/><path d="M216.3 398.8L219.6 395.8L219.7 391.5L216.3 394.8Z" fill="#E8C32E"/><path d="M131.8 451.3L135 453.9L135.7 450.9L132.6 448Z" fill="#67C700"/><path d="M194 437.3L197.1 435.4L197.1 432.9L194 435.5Z" fill="#99D400"/><path d="M229 375.9L232.8 370.9L232.5 368.2L229 372.3Z" fill="#EBB16E"/><path d="M101.6 415.7L105.1 418.7L105.8 414.6L102.3 411.1Z" fill="#DBE300"/><path d="M165.8 477L168.6 475.2L169 472.5L166.2 474.4Z" fill="#1EB100"/><path d="M139.8 463.9L143 467.1L143.8 465.4L140.6 461.9Z" fill="#3ABA00"/><path d="M120.8 436.8L123.9 438.1L124.9 436.4L121.9 435.1Z" fill="#91D200"/><path d="M98.9 408.5L102.3 411.1L103.3 408L99.8 404.9Z" fill="#E6D80F"/><path d="M197.1 432.9L200.3 430.1L200.5 424.9L197.3 428.8Z" fill="#ACD800"/><path d="M210.2 407.8L213.6 403.7L213.1 404L209.7 408.2Z" fill="#E6D80F"/><path d="M223.1 384.1L226.5 381.5L226 380.5L222.6 384.1Z" fill="#EAB64E"/><path d="M171.9 470.9L174.8 468.8L175.1 467L172.2 468.6Z" fill="#33B700"/><path d="M103.7 420.2L107.3 423.8L108.3 420.9L105.1 418.7Z" fill="#C8DF00"/><path d="M126.3 443.9L129.5 446.4L130 441.6L127 440.2Z" fill="#7FCD00"/><path d="M232.6 363.5L236.3 359.1L236.3 354.6L232.8 358.1Z" fill="#EDB48E"/><path d="M109.2 427L112.5 429.5L113.9 429L110.6 426.1Z" fill="#B5DB00"/><path d="M162.5 482.4L165.4 480.7L165.8 477L163 478.7Z" fill="#18AF00"/><path d="M236.3 354.6L239.9 351L239.1 351.2L235.6 354.6Z" fill="#EEB99F"/><path d="M219.7 391.5L223.1 388.4L223.1 384.1L219.7 387.6Z" fill="#E9B846"/><path d="M190.9 441.9L193.9 440.1L194 437.3L190.9 440.6Z" fill="#88D000"/><path d="M242.5 348.7L246.2 344.9L245.2 346.2L241.6 349.4Z" fill="#EFC0AF"/><path d="M117.7 435.2L120.8 436.8L121.9 435.1L118.8 433.3Z" fill="#99D400"/><path d="M147.5 483.9L150.7 487L151.2 483.3L148.1 479.9Z" fill="#0CAA00"/><path d="M181.2 459.9L184.2 457.7L184.4 454.3L181.4 457Z" fill="#57C200"/><path d="M142.3 469.9L145.5 473L146.2 470.6L143 467.1Z" fill="#33B700"/><path d="M134.1 456L137.3 458.6L138.2 456.8L135 453.9Z" fill="#57C200"/><path d="M144.9 477L148.1 479.9L148.7 477L145.5 473Z" fill="#1EB100"/><path d="M178 465.2L181 462.9L181.2 459.9L178.2 462.8Z" fill="#48BE00"/><path d="M159.3 487.4L162.1 486.4L162.5 482.4L159.7 483.6Z" fill="#0CAA00"/><path d="M184.4 454.3L187.4 452.2L187.7 447.8L184.7 449.8Z" fill="#67C700"/><path d="M128.8 449.8L131.8 451.3L132.6 448L129.5 446.4Z" fill="#6FC900"/><path d="M232.5 368.2L236.2 364.1L236.3 359.1L232.6 363.5Z" fill="#EDB386"/><path d="M187.7 447.8L190.7 445.5L190.9 441.9L187.8 444.4Z" fill="#77CB00"/><path d="M123.3 442.9L126.3 443.9L127 440.2L123.9 438.1Z" fill="#88D000"/><path d="M114.6 433.7L117.7 435.2L118.8 433.3L115.7 431.8Z" fill="#A2D600"/><path d="M216.4 401.1L219.8 398.1L219.6 395.8L216.3 398.8Z" fill="#E8C727"/><path d="M98.2 412.7L101.6 415.7L102.3 411.1L98.9 408.5Z" fill="#E6DF08"/><path d="M200.5 424.9L203.8 421.5L203.9 417.3L200.6 421.1Z" fill="#C8DF00"/><path d="M168.6 475.2L171.5 473.6L171.9 470.9L169 472.5Z" fill="#2CB500"/><path d="M207.2 411.4L210.5 407.8L210.2 407.8L206.9 410.5Z" fill="#E6DF08"/><path d="M105.9 424.8L109.2 427L110.6 426.1L107.3 423.8Z" fill="#BEDD00"/><path d="M219.6 395.8L223 392.9L223.1 388.4L219.7 391.5Z" fill="#E8BF36"/><path d="M100.4 417.9L103.7 420.2L105.1 418.7L101.6 415.7Z" fill="#DBE300"/><path d="M197.1 435.4L200.3 432.6L200.3 430.1L197.1 432.9Z" fill="#A2D600"/><path d="M174.8 468.8L177.7 466.9L178 465.2L175.1 467Z" fill="#3ABA00"/><path d="M203.9 417.3L207.2 414.3L207.2 411.4L203.9 414.8Z" fill="#E6E600"/><path d="M120.1 440.8L123.3 442.9L123.9 438.1L120.8 436.8Z" fill="#91D200"/><path d="M136.4 460.1L139.8 463.9L140.6 461.9L137.3 458.6Z" fill="#50C000"/><path d="M125.5 447L128.8 449.8L129.5 446.4L126.3 443.9Z" fill="#77CB00"/><path d="M165.4 480.7L168.3 479.1L168.6 475.2L165.8 477Z" fill="#1EB100"/><path d="M229.6 376.4L233.3 372.2L232.8 370.9L229 375.9Z" fill="#EBB16E"/><path d="M246.2 344.9L249.5 343.5L248.6 343.5L245.2 346.2Z" fill="#EFC4B7"/><path d="M162.1 486.4L165 485.2L165.4 480.7L162.5 482.4Z" fill="#12AC00"/><path d="M111.4 431.6L114.6 433.7L115.7 431.8L112.5 429.5Z" fill="#ACD800"/><path d="M232.8 370.9L236.3 367.7L236.2 364.1L232.5 368.2Z" fill="#ECB17E"/><path d="M130.9 453.2L134.1 456L135 453.9L131.8 451.3Z" fill="#67C700"/><path d="M239.9 351L243.5 347.8L242.5 348.7L239.1 351.2Z" fill="#EEBCA7"/><path d="M213.6 403.7L216.9 401.2L216.4 401.1L213.1 404Z" fill="#E7CC1F"/><path d="M184.2 457.7L187.2 456.2L187.4 452.2L184.4 454.3Z" fill="#5FC500"/><path d="M236.3 359.1L239.8 356.2L239.9 351L236.3 354.6Z" fill="#EEB99F"/><path d="M200.3 430.1L203.6 426.3L203.8 421.5L200.5 424.9Z" fill="#BEDD00"/><path d="M193.9 440.1L197.2 436.7L197.1 435.4L194 437.3Z" fill="#99D400"/><path d="M223.1 388.4L226.6 384.7L226.5 381.5L223.1 384.1Z" fill="#EAB64E"/><path d="M144.4 481.3L147.5 483.9L148.1 479.9L144.9 477Z" fill="#1EB100"/><path d="M226.5 381.5L230.2 376.8L229.6 376.4L226 380.5Z" fill="#EBB25E"/><path d="M187.4 452.2L190.5 449.6L190.7 445.5L187.7 447.8Z" fill="#77CB00"/><path d="M117 439.5L120.1 440.8L120.8 436.8L117.7 435.2Z" fill="#99D400"/><path d="M138.9 465.9L142.3 469.9L143 467.1L139.8 463.9Z" fill="#41BC00"/><path d="M141.7 473.8L144.9 477L145.5 473L142.3 469.9Z" fill="#2CB500"/><path d="M190.7 445.5L193.9 442.9L193.9 440.1L190.9 441.9Z" fill="#88D000"/><path d="M181 462.9L184 460L184.2 457.7L181.2 459.9Z" fill="#57C200"/><path d="M122.4 445.7L125.5 447L126.3 443.9L123.3 442.9Z" fill="#7FCD00"/><path d="M171.5 473.6L174.5 471.7L174.8 468.8L171.9 470.9Z" fill="#33B700"/><path d="M102.4 421.9L105.9 424.8L107.3 423.8L103.7 420.2Z" fill="#C8DF00"/><path d="M97 415.6L100.4 417.9L101.6 415.7L98.2 412.7Z" fill="#E6E600"/><path d="M236.2 364.1L239.7 361.3L239.8 356.2L236.3 359.1Z" fill="#EDB48E"/><path d="M219.8 398.1L223.2 395.2L223 392.9L219.6 395.8Z" fill="#E8BF36"/><path d="M113.9 438.1L117 439.5L117.7 435.2L114.6 433.7Z" fill="#A2D600"/><path d="M127.7 451.3L130.9 453.2L131.8 451.3L128.8 449.8Z" fill="#6FC900"/><path d="M107.8 428.2L111.4 431.6L112.5 429.5L109.2 427Z" fill="#B5DB00"/><path d="M168.3 479.1L171.2 477.5L171.5 473.6L168.6 475.2Z" fill="#2CB500"/><path d="M119.3 444.2L122.4 445.7L123.3 442.9L120.1 440.8Z" fill="#88D000"/><path d="M177.7 466.9L180.8 465L181 462.9L178 465.2Z" fill="#48BE00"/><path d="M165 485.2L167.9 483.6L168.3 479.1L165.4 480.7Z" fill="#18AF00"/><path d="M133.2 458.1L136.4 460.1L137.3 458.6L134.1 456Z" fill="#5FC500"/><path d="M203.8 421.5L207.1 418.1L207.2 414.3L203.9 417.3Z" fill="#DBE300"/><path d="M210.5 407.8L213.9 404.5L213.6 403.7L210.2 407.8Z" fill="#E7D217"/><path d="M223 392.9L226.7 388.5L226.6 384.7L223.1 388.4Z" fill="#E9B846"/><path d="M243.5 347.8L247.1 345L246.2 344.9L242.5 348.7Z" fill="#EFC4B7"/><path d="M236.3 367.7L239.7 365.4L239.7 361.3L236.2 364.1Z" fill="#EDB386"/><path d="M187.2 456.2L190.3 454L190.5 449.6L187.4 452.2Z" fill="#6FC900"/><path d="M200.3 432.6L203.7 428.4L203.6 426.3L200.3 430.1Z" fill="#B5DB00"/><path d="M110.5 435.5L113.9 438.1L114.6 433.7L111.4 431.6Z" fill="#ACD800"/><path d="M216.9 401.2L220.4 398.1L219.8 398.1L216.4 401.1Z" fill="#E8C32E"/><path d="M116.2 443.2L119.3 444.2L120.1 440.8L117 439.5Z" fill="#91D200"/><path d="M239.8 356.2L243.5 352.7L243.5 347.8L239.9 351Z" fill="#EEBCA7"/><path d="M207.2 414.3L210.7 410L210.5 407.8L207.2 411.4Z" fill="#E6D80F"/><path d="M124.5 449.5L127.7 451.3L128.8 449.8L125.5 447Z" fill="#77CB00"/><path d="M233.3 372.2L237 368.2L236.3 367.7L232.8 370.9Z" fill="#ECB17E"/><path d="M141 477.7L144.4 481.3L144.9 477L141.7 473.8Z" fill="#2CB500"/><path d="M197.2 436.7L200.4 434.1L200.3 432.6L197.1 435.4Z" fill="#ACD800"/><path d="M190.5 449.6L193.7 447.6L193.9 442.9L190.7 445.5Z" fill="#7FCD00"/><path d="M98.9 418.9L102.4 421.9L103.7 420.2L100.4 417.9Z" fill="#DBE300"/><path d="M184 460L187.1 458.5L187.2 456.2L184.2 457.7Z" fill="#5FC500"/><path d="M226.6 384.7L230.2 381.2L230.2 376.8L226.5 381.5Z" fill="#EBB25E"/><path d="M174.5 471.7L177.5 469.3L177.7 466.9L174.8 468.8Z" fill="#41BC00"/><path d="M239.7 361.3L243.2 358.7L243.5 352.7L239.8 356.2Z" fill="#EEB99F"/><path d="M203.6 426.3L207 423.2L207.1 418.1L203.8 421.5Z" fill="#D2E100"/><path d="M104.5 426L107.8 428.2L109.2 427L105.9 424.8Z" fill="#C8DF00"/><path d="M193.9 442.9L197.1 440.2L197.2 436.7L193.9 440.1Z" fill="#99D400"/><path d="M112.9 441.2L116.2 443.2L117 439.5L113.9 438.1Z" fill="#99D400"/><path d="M135.6 462.6L138.9 465.9L139.8 463.9L136.4 460.1Z" fill="#50C000"/><path d="M138.3 470.1L141.7 473.8L142.3 469.9L138.9 465.9Z" fill="#41BC00"/><path d="M230.2 376.8L233.9 373L233.3 372.2L229.6 376.4Z" fill="#EBB16E"/><path d="M171.2 477.5L174.2 476.1L174.5 471.7L171.5 473.6Z" fill="#33B700"/><path d="M129.9 455.1L133.2 458.1L134.1 456L130.9 453.2Z" fill="#67C700"/><path d="M167.9 483.6L170.8 481.6L171.2 477.5L168.3 479.1Z" fill="#25B300"/><path d="M223.2 395.2L226.8 392.1L226.7 388.5L223 392.9Z" fill="#E9B846"/><path d="M121.2 447.1L124.5 449.5L125.5 447L122.4 445.7Z" fill="#88D000"/><path d="M247.1 345L250.6 342.5L249.5 343.5L246.2 344.9Z" fill="#F0C9C0"/><path d="M180.8 465L183.9 462.5L184 460L181 462.9Z" fill="#57C200"/><path d="M107.1 433L110.5 435.5L111.4 431.6L107.8 428.2Z" fill="#B5DB00"/><path d="M239.7 365.4L243.3 362.5L243.2 358.7L239.7 361.3Z" fill="#EDB48E"/><path d="M95.4 416.2L98.9 418.9L100.4 417.9L97 415.6Z" fill="#E6E600"/><path d="M109.7 439.4L112.9 441.2L113.9 438.1L110.5 435.5Z" fill="#A2D600"/><path d="M190.3 454L193.5 451.5L193.7 447.6L190.5 449.6Z" fill="#77CB00"/><path d="M213.9 404.5L217.5 400.7L216.9 401.2L213.6 403.7Z" fill="#E8C727"/><path d="M243.5 352.7L247 350.1L247.1 345L243.5 347.8Z" fill="#EFC0AF"/><path d="M207.1 418.1L210.5 414.8L210.7 410L207.2 414.3Z" fill="#E6DF08"/><path d="M100.9 423.1L104.5 426L105.9 424.8L102.4 421.9Z" fill="#D2E100"/><path d="M226.7 388.5L230.3 384.8L230.2 381.2L226.6 384.7Z" fill="#EAB456"/><path d="M118.2 446.4L121.2 447.1L122.4 445.7L119.3 444.2Z" fill="#88D000"/><path d="M187.1 458.5L190.3 456.2L190.3 454L187.2 456.2Z" fill="#67C700"/><path d="M237 368.2L240.5 365.9L239.7 365.4L236.3 367.7Z" fill="#EDB386"/><path d="M220.4 398.1L224 394.3L223.2 395.2L219.8 398.1Z" fill="#E8BF36"/><path d="M193.7 447.6L196.9 444.7L197.1 440.2L193.9 442.9Z" fill="#91D200"/><path d="M137.7 474.4L141 477.7L141.7 473.8L138.3 470.1Z" fill="#3ABA00"/><path d="M126.5 452.1L129.9 455.1L130.9 453.2L127.7 451.3Z" fill="#77CB00"/><path d="M243.2 358.7L247 354.8L247 350.1L243.5 352.7Z" fill="#EEBCA7"/><path d="M203.7 428.4L207.1 425L207 423.2L203.6 426.3Z" fill="#D2E100"/><path d="M132.3 459.9L135.6 462.6L136.4 460.1L133.2 458.1Z" fill="#5FC500"/><path d="M114.9 444.4L118.2 446.4L119.3 444.2L116.2 443.2Z" fill="#91D200"/><path d="M200.4 434.1L203.8 431.1L203.7 428.4L200.3 432.6Z" fill="#BEDD00"/><path d="M210.7 410L214.2 406.1L213.9 404.5L210.5 407.8Z" fill="#E7CC1F"/><path d="M177.5 469.3L180.6 466.3L180.8 465L177.7 466.9Z" fill="#50C000"/><path d="M170.8 481.6L173.8 480.1L174.2 476.1L171.2 477.5Z" fill="#2CB500"/><path d="M197.1 440.2L200.3 437.9L200.4 434.1L197.2 436.7Z" fill="#ACD800"/><path d="M174.2 476.1L177.2 473.1L177.5 469.3L174.5 471.7Z" fill="#41BC00"/><path d="M230.2 381.2L233.8 377.8L233.9 373L230.2 376.8Z" fill="#EBB16E"/><path d="M103.6 429.9L107.1 433L107.8 428.2L104.5 426Z" fill="#C8DF00"/><path d="M207 423.2L210.4 419.9L210.5 414.8L207.1 418.1Z" fill="#E6E600"/><path d="M135 467.1L138.3 470.1L138.9 465.9L135.6 462.6Z" fill="#50C000"/><path d="M106.2 436.6L109.7 439.4L110.5 435.5L107.1 433Z" fill="#ACD800"/><path d="M233.9 373L237.6 369.4L237 368.2L233.3 372.2Z" fill="#ECB17E"/><path d="M111.8 443.5L114.9 444.4L116.2 443.2L112.9 441.2Z" fill="#99D400"/><path d="M183.9 462.5L187 460.7L187.1 458.5L184 460Z" fill="#5FC500"/><path d="M247 350.1L250.6 347.6L250.6 342.5L247.1 345Z" fill="#EFC4B7"/><path d="M243.3 362.5L247.1 359L247 354.8L243.2 358.7Z" fill="#EEB99F"/><path d="M123.4 451.3L126.5 452.1L127.7 451.3L124.5 449.5Z" fill="#7FCD00"/><path d="M97.3 420.2L100.9 423.1L102.4 421.9L98.9 418.9Z" fill="#E6E600"/><path d="M226.8 392.1L230.4 388.4L230.3 384.8L226.7 388.5Z" fill="#EAB64E"/><path d="M240.5 365.9L244.1 363L243.3 362.5L239.7 365.4Z" fill="#EDB48E"/><path d="M193.5 451.5L196.8 448.6L196.9 444.7L193.7 447.6Z" fill="#88D000"/><path d="M190.3 456.2L193.5 454L193.5 451.5L190.3 454Z" fill="#77CB00"/><path d="M129 457.7L132.3 459.9L133.2 458.1L129.9 455.1Z" fill="#6FC900"/><path d="M247 354.8L250.2 354L250.6 347.6L247 350.1Z" fill="#EFC0AF"/><path d="M217.5 400.7L221.1 396.9L220.4 398.1L216.9 401.2Z" fill="#E8BF36"/><path d="M108.4 441.2L111.8 443.5L112.9 441.2L109.7 439.4Z" fill="#A2D600"/><path d="M100.2 427.8L103.6 429.9L104.5 426L100.9 423.1Z" fill="#D2E100"/><path d="M230.3 384.8L234.1 380.7L233.8 377.8L230.2 381.2Z" fill="#EBB166"/><path d="M224 394.3L227.7 390.7L226.8 392.1L223.2 395.2Z" fill="#E9B846"/><path d="M196.9 444.7L200.2 442.3L200.3 437.9L197.1 440.2Z" fill="#A2D600"/><path d="M120.1 449.2L123.4 451.3L124.5 449.5L121.2 447.1Z" fill="#88D000"/><path d="M173.8 480.1L176.9 478.1L177.2 473.1L174.2 476.1Z" fill="#3ABA00"/><path d="M134.3 471.5L137.7 474.4L138.3 470.1L135 467.1Z" fill="#48BE00"/><path d="M210.5 414.8L214.1 410.5L214.2 406.1L210.7 410Z" fill="#E7D217"/><path d="M102.5 433.3L106.2 436.6L107.1 433L103.6 429.9Z" fill="#BEDD00"/><path d="M180.6 466.3L183.7 464.2L183.9 462.5L180.8 465Z" fill="#5FC500"/><path d="M131.7 464.7L135 467.1L135.6 462.6L132.3 459.9Z" fill="#5FC500"/><path d="M207.1 425L210.6 421.7L210.4 419.9L207 423.2Z" fill="#E6E600"/><path d="M247.1 359L250.5 357.5L250.2 354L247 354.8Z" fill="#EEBCA7"/><path d="M93.8 417.8L97.3 420.2L98.9 418.9L95.4 416.2Z" fill="#E6DF08"/><path d="M177.2 473.1L180.3 471.5L180.6 466.3L177.5 469.3Z" fill="#50C000"/><path d="M214.2 406.1L217.8 402.7L217.5 400.7L213.9 404.5Z" fill="#E8C32E"/><path d="M187 460.7L190.2 458.1L190.3 456.2L187.1 458.5Z" fill="#6FC900"/><path d="M200.3 437.9L203.8 433.6L203.8 431.1L200.4 434.1Z" fill="#BEDD00"/><path d="M237.6 369.4L241.3 366.1L240.5 365.9L237 368.2Z" fill="#EDB386"/><path d="M116.8 447.6L120.1 449.2L121.2 447.1L118.2 446.4Z" fill="#91D200"/><path d="M233.8 377.8L237.7 373.2L237.6 369.4L233.9 373Z" fill="#ECB17E"/><path d="M203.8 431.1L207.3 426.6L207.1 425L203.7 428.4Z" fill="#D2E100"/><path d="M210.4 419.9L213.9 416.7L214.1 410.5L210.5 414.8Z" fill="#E6D80F"/><path d="M104.8 438.2L108.4 441.2L109.7 439.4L106.2 436.6Z" fill="#ACD800"/><path d="M244.1 363L247.7 360.5L247.1 359L243.3 362.5Z" fill="#EEB696"/><path d="M125.6 455.1L129 457.7L129.9 455.1L126.5 452.1Z" fill="#7FCD00"/><path d="M96.5 424.5L100.2 427.8L100.9 423.1L97.3 420.2Z" fill="#DBE300"/><path d="M113.7 446.5L116.8 447.6L118.2 446.4L114.9 444.4Z" fill="#99D400"/><path d="M99.2 431.6L102.5 433.3L103.6 429.9L100.2 427.8Z" fill="#C8DF00"/><path d="M196.8 448.6L200.2 445.4L200.2 442.3L196.9 444.7Z" fill="#99D400"/><path d="M193.5 454L196.8 451.1L196.8 448.6L193.5 451.5Z" fill="#88D000"/><path d="M230.4 388.4L234.4 383.3L234.1 380.7L230.3 384.8Z" fill="#EBB25E"/><path d="M128.2 461.6L131.7 464.7L132.3 459.9L129 457.7Z" fill="#6FC900"/><path d="M221.1 396.9L224.7 393.9L224 394.3L220.4 398.1Z" fill="#E9B846"/><path d="M130.9 468.5L134.3 471.5L135 467.1L131.7 464.7Z" fill="#57C200"/><path d="M176.9 478.1L180 475.7L180.3 471.5L177.2 473.1Z" fill="#48BE00"/><path d="M183.7 464.2L186.9 462.1L187 460.7L183.9 462.5Z" fill="#67C700"/><path d="M110.2 444.2L113.7 446.5L114.9 444.4L111.8 443.5Z" fill="#A2D600"/><path d="M234.1 380.7L237.7 377.9L237.7 373.2L233.8 377.8Z" fill="#ECB176"/><path d="M227.7 390.7L231.4 387L230.4 388.4L226.8 392.1Z" fill="#EAB456"/><path d="M122.3 453.4L125.6 455.1L126.5 452.1L123.4 451.3Z" fill="#88D000"/><path d="M241.3 366.1L244.9 363.8L244.1 363L240.5 365.9Z" fill="#EEB696"/><path d="M200.2 442.3L203.7 437.8L203.8 433.6L200.3 437.9Z" fill="#B5DB00"/><path d="M247.7 360.5L251.4 358.3L250.5 357.5L247.1 359Z" fill="#EEB99F"/><path d="M214.1 410.5L217.6 407.6L217.8 402.7L214.2 406.1Z" fill="#E8C727"/><path d="M101.2 435.7L104.8 438.2L106.2 436.6L102.5 433.3Z" fill="#BEDD00"/><path d="M190.2 458.1L193.5 455.5L193.5 454L190.3 456.2Z" fill="#7FCD00"/><path d="M180.3 471.5L183.5 468.6L183.7 464.2L180.6 466.3Z" fill="#5FC500"/><path d="M92.9 422.1L96.5 424.5L97.3 420.2L93.8 417.8Z" fill="#E6DF08"/><path d="M95.5 428.7L99.2 431.6L100.2 427.8L96.5 424.5Z" fill="#DBE300"/><path d="M210.6 421.7L214.2 417.6L213.9 416.7L210.4 419.9Z" fill="#E6DF08"/><path d="M217.8 402.7L221.3 399.8L221.1 396.9L217.5 400.7Z" fill="#E9BB3E"/><path d="M119 451.5L122.3 453.4L123.4 451.3L120.1 449.2Z" fill="#91D200"/><path d="M237.7 373.2L241.4 370.2L241.3 366.1L237.6 369.4Z" fill="#EDB386"/><path d="M106.8 442.2L110.2 444.2L111.8 443.5L108.4 441.2Z" fill="#ACD800"/><path d="M125 460.1L128.2 461.6L129 457.7L125.6 455.1Z" fill="#77CB00"/><path d="M213.9 416.7L217.4 413.2L217.6 407.6L214.1 410.5Z" fill="#E7CC1F"/><path d="M127.6 466.5L130.9 468.5L131.7 464.7L128.2 461.6Z" fill="#67C700"/><path d="M207.3 426.6L210.9 423.2L210.6 421.7L207.1 425Z" fill="#E6E600"/><path d="M203.8 433.6L207.4 429.5L207.3 426.6L203.8 431.1Z" fill="#D2E100"/><path d="M115.7 450.1L119 451.5L120.1 449.2L116.8 447.6Z" fill="#99D400"/><path d="M196.8 451.1L200.2 448.5L200.2 445.4L196.8 448.6Z" fill="#99D400"/><path d="M244.9 363.8L248.5 361.5L247.7 360.5L244.1 363Z" fill="#EEB99F"/><path d="M234.4 383.3L238.1 380.6L237.7 377.9L234.1 380.7Z" fill="#EBB16E"/><path d="M200.2 445.4L203.5 442.9L203.7 437.8L200.2 442.3Z" fill="#ACD800"/><path d="M97.5 432.4L101.2 435.7L102.5 433.3L99.2 431.6Z" fill="#C8DF00"/><path d="M186.9 462.1L190.2 459.3L190.2 458.1L187 460.7Z" fill="#77CB00"/><path d="M224.7 393.9L228.5 389.7L227.7 390.7L224 394.3Z" fill="#EAB456"/><path d="M180 475.7L183.2 473L183.5 468.6L180.3 471.5Z" fill="#57C200"/><path d="M91.9 426.1L95.5 428.7L96.5 424.5L92.9 422.1Z" fill="#E6E600"/><path d="M121.6 457.7L125 460.1L125.6 455.1L122.3 453.4Z" fill="#7FCD00"/><path d="M237.7 377.9L241.6 373.9L241.4 370.2L237.7 373.2Z" fill="#ECB17E"/><path d="M103.2 439.4L106.8 442.2L108.4 441.2L104.8 438.2Z" fill="#B5DB00"/><path d="M112.4 448.5L115.7 450.1L116.8 447.6L113.7 446.5Z" fill="#99D400"/><path d="M124.3 464.5L127.6 466.5L128.2 461.6L125 460.1Z" fill="#6FC900"/><path d="M217.6 407.6L221.3 404.3L221.3 399.8L217.8 402.7Z" fill="#E8BF36"/><path d="M241.4 370.2L245.1 367.6L244.9 363.8L241.3 366.1Z" fill="#EDB48E"/><path d="M183.5 468.6L186.7 466.1L186.9 462.1L183.7 464.2Z" fill="#67C700"/><path d="M231.4 387L235.4 382.4L234.4 383.3L230.4 388.4Z" fill="#EBB166"/><path d="M193.5 455.5L196.9 452.3L196.8 451.1L193.5 454Z" fill="#91D200"/><path d="M214.2 417.6L217.7 415.3L217.4 413.2L213.9 416.7Z" fill="#E7D217"/><path d="M221.3 399.8L225.2 395.3L224.7 393.9L221.1 396.9Z" fill="#E9B846"/><path d="M118.3 456.1L121.6 457.7L122.3 453.4L119 451.5Z" fill="#88D000"/><path d="M109 446.6L112.4 448.5L113.7 446.5L110.2 444.2Z" fill="#A2D600"/><path d="M248.5 361.5L252.2 359.4L251.4 358.3L247.7 360.5Z" fill="#EEBCA7"/><path d="M93.7 429.4L97.5 432.4L99.2 431.6L95.5 428.7Z" fill="#DBE300"/><path d="M121 463.5L124.3 464.5L125 460.1L121.6 457.7Z" fill="#77CB00"/><path d="M203.7 437.8L207.3 433.8L207.4 429.5L203.8 433.6Z" fill="#C8DF00"/><path d="M217.4 413.2L221.1 409.9L221.3 404.3L217.6 407.6Z" fill="#E8C32E"/><path d="M115.1 455.6L118.3 456.1L119 451.5L115.7 450.1Z" fill="#91D200"/><path d="M99.6 436.8L103.2 439.4L104.8 438.2L101.2 435.7Z" fill="#C8DF00"/><path d="M238.1 380.6L241.8 377.9L241.6 373.9L237.7 377.9Z" fill="#ECB176"/><path d="M210.9 423.2L214.5 419.4L214.2 417.6L210.6 421.7Z" fill="#E6D80F"/><path d="M241.6 373.9L245.1 372.7L245.1 367.6L241.4 370.2Z" fill="#EDB386"/><path d="M190.2 459.3L193.5 456.9L193.5 455.5L190.2 458.1Z" fill="#88D000"/><path d="M207.4 429.5L211.1 425.4L210.9 423.2L207.3 426.6Z" fill="#E6E600"/><path d="M200.2 448.5L203.7 444.6L203.5 442.9L200.2 445.4Z" fill="#ACD800"/><path d="M245.1 367.6L248.9 364.6L248.5 361.5L244.9 363.8Z" fill="#EEB696"/><path d="M117.7 461.6L121 463.5L121.6 457.7L118.3 456.1Z" fill="#7FCD00"/><path d="M105.5 444.6L109 446.6L110.2 444.2L106.8 442.2Z" fill="#ACD800"/><path d="M111.8 454L115.1 455.6L115.7 450.1L112.4 448.5Z" fill="#99D400"/><path d="M183.2 473L186.5 470.3L186.7 466.1L183.5 468.6Z" fill="#67C700"/><path d="M228.5 389.7L232.4 385.8L231.4 387L227.7 390.7Z" fill="#EBB25E"/><path d="M186.7 466.1L190 464.1L190.2 459.3L186.9 462.1Z" fill="#77CB00"/><path d="M203.5 442.9L207.2 438.9L207.3 433.8L203.7 437.8Z" fill="#BEDD00"/><path d="M90.1 427.1L93.7 429.4L95.5 428.7L91.9 426.1Z" fill="#E6E600"/><path d="M114.4 460.2L117.7 461.6L118.3 456.1L115.1 455.6Z" fill="#88D000"/><path d="M221.3 404.3L225 400.7L225.2 395.3L221.3 399.8Z" fill="#E9B846"/><path d="M108.5 452.7L111.8 454L112.4 448.5L109 446.6Z" fill="#A2D600"/><path d="M235.4 382.4L239.1 379.7L238.1 380.6L234.4 383.3Z" fill="#ECB176"/><path d="M196.9 452.3L200.4 448.9L200.2 448.5L196.8 451.1Z" fill="#A2D600"/><path d="M111.1 459.2L114.4 460.2L115.1 455.6L111.8 454Z" fill="#88D000"/><path d="M95.7 433.5L99.6 436.8L101.2 435.7L97.5 432.4Z" fill="#D2E100"/><path d="M245.1 372.7L248.7 370.7L248.9 364.6L245.1 367.6Z" fill="#EDB48E"/><path d="M217.7 415.3L221.6 410.6L221.1 409.9L217.4 413.2Z" fill="#E8C727"/><path d="M225.2 395.3L228.9 392.2L228.5 389.7L224.7 393.9Z" fill="#EAB456"/><path d="M101.8 441.8L105.5 444.6L106.8 442.2L103.2 439.4Z" fill="#BEDD00"/><path d="M241.8 377.9L245.7 374.7L245.1 372.7L241.6 373.9Z" fill="#EDB386"/><path d="M248.9 364.6L252.5 362.9L252.2 359.4L248.5 361.5Z" fill="#EEB99F"/><path d="M221.1 409.9L224.7 406.9L225 400.7L221.3 404.3Z" fill="#E8BF36"/><path d="M107.7 457.5L111.1 459.2L111.8 454L108.5 452.7Z" fill="#91D200"/><path d="M104.7 449.6L108.5 452.7L109 446.6L105.5 444.6Z" fill="#ACD800"/><path d="M207.3 433.8L211 430.1L211.1 425.4L207.4 429.5Z" fill="#E6E600"/><path d="M214.5 419.4L218.2 416.1L217.7 415.3L214.2 417.6Z" fill="#E7CC1F"/><path d="M186.5 470.3L189.8 468.9L190 464.1L186.7 466.1Z" fill="#6FC900"/><path d="M193.5 456.9L197 453.9L196.9 452.3L193.5 455.5Z" fill="#99D400"/><path d="M190 464.1L193.4 461.1L193.5 456.9L190.2 459.3Z" fill="#88D000"/><path d="M239.1 379.7L243 376.7L241.8 377.9L238.1 380.6Z" fill="#ECB17E"/><path d="M248.7 370.7L252.5 368.1L252.5 362.9L248.9 364.6Z" fill="#EEB696"/><path d="M211.1 425.4L214.8 421.4L214.5 419.4L210.9 423.2Z" fill="#E6D80F"/><path d="M245.7 374.7L249.3 373.1L248.7 370.7L245.1 372.7Z" fill="#EDB48E"/><path d="M203.7 444.6L207.5 439.8L207.2 438.9L203.5 442.9Z" fill="#BEDD00"/><path d="M232.4 385.8L236.4 381.6L235.4 382.4L231.4 387Z" fill="#EBB16E"/><path d="M91.9 430.7L95.7 433.5L97.5 432.4L93.7 429.4Z" fill="#E6E600"/><path d="M104.2 455.4L107.7 457.5L108.5 452.7L104.7 449.6Z" fill="#99D400"/><path d="M98 438.8L101.8 441.8L103.2 439.4L99.6 436.8Z" fill="#C8DF00"/><path d="M225 400.7L228.7 397.9L228.9 392.2L225.2 395.3Z" fill="#EAB456"/><path d="M207.2 438.9L210.8 435.4L211 430.1L207.3 433.8Z" fill="#DBE300"/><path d="M101.2 447.6L104.7 449.6L105.5 444.6L101.8 441.8Z" fill="#B5DB00"/><path d="M221.6 410.6L225.3 408.1L224.7 406.9L221.1 409.9Z" fill="#E8BF36"/><path d="M200.4 448.9L204 445.5L203.7 444.6L200.2 448.5Z" fill="#B5DB00"/><path d="M228.9 392.2L232.7 388.6L232.4 385.8L228.5 389.7Z" fill="#EBB166"/><path d="M224.7 406.9L228.7 402.4L228.7 397.9L225 400.7Z" fill="#E9B846"/><path d="M249.3 373.1L253 371.1L252.5 368.1L248.7 370.7Z" fill="#EDB48E"/><path d="M189.8 468.9L193.2 466L193.4 461.1L190 464.1Z" fill="#7FCD00"/><path d="M100.5 452.9L104.2 455.4L104.7 449.6L101.2 447.6Z" fill="#ACD800"/><path d="M88.2 428.2L91.9 430.7L93.7 429.4L90.1 427.1Z" fill="#E6DF08"/><path d="M243 376.7L246.8 374.3L245.7 374.7L241.8 377.9Z" fill="#EDB386"/><path d="M218.2 416.1L222.1 412.2L221.6 410.6L217.7 415.3Z" fill="#E8C32E"/><path d="M94.1 435.5L98 438.8L99.6 436.8L95.7 433.5Z" fill="#DBE300"/><path d="M211 430.1L214.6 427.6L214.8 421.4L211.1 425.4Z" fill="#E6D80F"/><path d="M197 453.9L200.6 450L200.4 448.9L196.9 452.3Z" fill="#ACD800"/><path d="M97.3 444.1L101.2 447.6L101.8 441.8L98 438.8Z" fill="#C8DF00"/><path d="M193.4 461.1L196.9 457.7L197 453.9L193.5 456.9Z" fill="#99D400"/><path d="M214.8 421.4L218.5 418.4L218.2 416.1L214.5 419.4Z" fill="#E7CC1F"/><path d="M236.4 381.6L240.4 377.9L239.1 379.7L235.4 382.4Z" fill="#ECB17E"/><path d="M228.7 397.9L232.8 393.1L232.7 388.6L228.9 392.2Z" fill="#EBB25E"/><path d="M96.9 451L100.5 452.9L101.2 447.6L97.3 444.1Z" fill="#B5DB00"/><path d="M207.5 439.8L211.2 436.5L210.8 435.4L207.2 438.9Z" fill="#D2E100"/><path d="M210.8 435.4L214.5 432L214.6 427.6L211 430.1Z" fill="#E6DF08"/><path d="M225.3 408.1L229.2 404.1L228.7 402.4L224.7 406.9Z" fill="#E9B846"/><path d="M246.8 374.3L250.8 371L249.3 373.1L245.7 374.7Z" fill="#EDB48E"/><path d="M90.3 432.8L94.1 435.5L95.7 433.5L91.9 430.7Z" fill="#E6E600"/><path d="M232.7 388.6L236.9 383.6L236.4 381.6L232.4 385.8Z" fill="#ECB176"/><path d="M228.7 402.4L232.7 398.8L232.8 393.1L228.7 397.9Z" fill="#EAB456"/><path d="M204 445.5L207.8 441.5L207.5 439.8L203.7 444.6Z" fill="#C8DF00"/><path d="M93.5 441.5L97.3 444.1L98 438.8L94.1 435.5Z" fill="#D2E100"/><path d="M193.2 466L196.7 463.1L196.9 457.7L193.4 461.1Z" fill="#91D200"/><path d="M222.1 412.2L225.9 409L225.3 408.1L221.6 410.6Z" fill="#E9BB3E"/><path d="M214.6 427.6L218.4 423.5L218.5 418.4L214.8 421.4Z" fill="#E7CC1F"/><path d="M93 447.8L96.9 451L97.3 444.1L93.5 441.5Z" fill="#BEDD00"/><path d="M240.4 377.9L244.3 375.1L243 376.7L239.1 379.7Z" fill="#EDB386"/><path d="M86.6 430.7L90.3 432.8L91.9 430.7L88.2 428.2Z" fill="#E6D80F"/><path d="M218.5 418.4L222.3 415.1L222.1 412.2L218.2 416.1Z" fill="#E8C32E"/><path d="M200.6 450L204.3 446.5L204 445.5L200.4 448.9Z" fill="#BEDD00"/><path d="M250.8 371L254.6 369.1L253 371.1L249.3 373.1Z" fill="#EEB696"/><path d="M196.9 457.7L200.5 454.6L200.6 450L197 453.9Z" fill="#ACD800"/><path d="M89.7 438.8L93.5 441.5L94.1 435.5L90.3 432.8Z" fill="#E6E600"/><path d="M214.5 432L218.3 428.8L218.4 423.5L214.6 427.6Z" fill="#E6D80F"/><path d="M232.8 393.1L236.9 388.8L236.9 383.6L232.7 388.6Z" fill="#EBB16E"/><path d="M211.2 436.5L215 433.1L214.5 432L210.8 435.4Z" fill="#E6E600"/><path d="M229.2 404.1L233.2 400.5L232.7 398.8L228.7 402.4Z" fill="#EAB456"/><path d="M89.1 445.2L93 447.8L93.5 441.5L89.7 438.8Z" fill="#D2E100"/><path d="M236.9 383.6L240.8 380.8L240.4 377.9L236.4 381.6Z" fill="#EDB386"/><path d="M244.3 375.1L248.3 372.1L246.8 374.3L243 376.7Z" fill="#EDB48E"/><path d="M232.7 398.8L236.7 395.1L236.9 388.8L232.8 393.1Z" fill="#EBB166"/><path d="M196.7 463.1L200.3 460.1L200.5 454.6L196.9 457.7Z" fill="#A2D600"/><path d="M225.9 409L229.8 405.5L229.2 404.1L225.3 408.1Z" fill="#E9B846"/><path d="M218.4 423.5L222.1 421.2L222.3 415.1L218.5 418.4Z" fill="#E8C727"/><path d="M86 436.8L89.7 438.8L90.3 432.8L86.6 430.7Z" fill="#E6DF08"/><path d="M207.8 441.5L211.6 437.9L211.2 436.5L207.5 439.8Z" fill="#DBE300"/><path d="M222.3 415.1L226.2 411.9L225.9 409L222.1 412.2Z" fill="#E9BB3E"/><path d="M85.3 442.8L89.1 445.2L89.7 438.8L86 436.8Z" fill="#DBE300"/><path d="M204.3 446.5L208.1 442.6L207.8 441.5L204 445.5Z" fill="#D2E100"/><path d="M200.5 454.6L204.2 450.9L204.3 446.5L200.6 450Z" fill="#BEDD00"/><path d="M236.9 388.8L240.9 385.5L240.8 380.8L236.9 383.6Z" fill="#ECB17E"/><path d="M218.3 428.8L222.3 424.7L222.1 421.2L218.4 423.5Z" fill="#E7CC1F"/><path d="M248.3 372.1L252.2 369.7L250.8 371L246.8 374.3Z" fill="#EEB99F"/><path d="M215 433.1L218.9 429.4L218.3 428.8L214.5 432Z" fill="#E6D80F"/><path d="M240.8 380.8L244.9 377.1L244.3 375.1L240.4 377.9Z" fill="#EDB48E"/><path d="M233.2 400.5L237.4 396.2L236.7 395.1L232.7 398.8Z" fill="#EBB25E"/><path d="M236.7 395.1L240.7 391.8L240.9 385.5L236.9 388.8Z" fill="#ECB176"/><path d="M222.1 421.2L226.2 416.6L226.2 411.9L222.3 415.1Z" fill="#E8BF36"/><path d="M229.8 405.5L234 401.1L233.2 400.5L229.2 404.1Z" fill="#EAB456"/><path d="M200.3 460.1L204.1 455.7L204.2 450.9L200.5 454.6Z" fill="#B5DB00"/><path d="M211.6 437.9L215.5 433.6L215 433.1L211.2 436.5Z" fill="#E6DF08"/><path d="M252.2 369.7L256 368.2L254.6 369.1L250.8 371Z" fill="#EEBCA7"/><path d="M226.2 411.9L230.3 407.8L229.8 405.5L225.9 409Z" fill="#E9B846"/><path d="M244.9 377.1L248.7 375.5L248.3 372.1L244.3 375.1Z" fill="#EEB696"/><path d="M240.9 385.5L244.8 382.8L244.9 377.1L240.8 380.8Z" fill="#EDB386"/><path d="M222.3 424.7L226.2 421.8L226.2 416.6L222.1 421.2Z" fill="#E8C32E"/><path d="M204.2 450.9L208 447.3L208.1 442.6L204.3 446.5Z" fill="#D2E100"/><path d="M240.7 391.8L244.6 389.5L244.8 382.8L240.9 385.5Z" fill="#ECB17E"/><path d="M208.1 442.6L212.1 438.2L211.6 437.9L207.8 441.5Z" fill="#E6E600"/><path d="M237.4 396.2L241.6 392.5L240.7 391.8L236.7 395.1Z" fill="#EBB16E"/><path d="M218.9 429.4L222.9 425.6L222.3 424.7L218.3 428.8Z" fill="#E7CC1F"/><path d="M244.8 382.8L248.7 380.9L248.7 375.5L244.9 377.1Z" fill="#EDB48E"/><path d="M248.7 375.5L252.9 372.1L252.2 369.7L248.3 372.1Z" fill="#EEB99F"/><path d="M226.2 416.6L230.3 413.1L230.3 407.8L226.2 411.9Z" fill="#E9B846"/><path d="M234 401.1L238.2 397.4L237.4 396.2L233.2 400.5Z" fill="#EBB166"/><path d="M244.6 389.5L248.5 387.1L248.7 380.9L244.8 382.8Z" fill="#EDB386"/><path d="M215.5 433.6L219.5 429.8L218.9 429.4L215 433.1Z" fill="#E7D217"/><path d="M230.3 407.8L234.5 403.6L234 401.1L229.8 405.5Z" fill="#EAB456"/><path d="M204.1 455.7L208 451.4L208 447.3L204.2 450.9Z" fill="#C8DF00"/><path d="M241.6 392.5L245.5 390.6L244.6 389.5L240.7 391.8Z" fill="#ECB176"/><path d="M252.9 372.1L256.7 370.8L256 368.2L252.2 369.7Z" fill="#EEBCA7"/><path d="M226.2 421.8L230.4 417.3L230.3 413.1L226.2 416.6Z" fill="#E9BB3E"/><path d="M248.7 380.9L252.8 377.9L252.9 372.1L248.7 375.5Z" fill="#EEB696"/><path d="M222.9 425.6L226.9 422.6L226.2 421.8L222.3 424.7Z" fill="#E8C32E"/><path d="M212.1 438.2L216.1 433.9L215.5 433.6L211.6 437.9Z" fill="#E7D217"/><path d="M208 447.3L212.1 442.5L212.1 438.2L208.1 442.6Z" fill="#E6DF08"/><path d="M248.5 387.1L252.8 383.8L252.8 377.9L248.7 380.9Z" fill="#EDB48E"/><path d="M238.2 397.4L242.3 394.2L241.6 392.5L237.4 396.2Z" fill="#ECB176"/><path d="M245.5 390.6L249.6 387.8L248.5 387.1L244.6 389.5Z" fill="#ECB17E"/><path d="M230.3 413.1L234.4 409.7L234.5 403.6L230.3 407.8Z" fill="#EAB456"/><path d="M252.8 377.9L256.7 376.3L256.7 370.8L252.9 372.1Z" fill="#EEB99F"/><path d="M219.5 429.8L223.6 426.1L222.9 425.6L218.9 429.4Z" fill="#E8C727"/><path d="M234.5 403.6L238.8 399.4L238.2 397.4L234 401.1Z" fill="#EBB166"/><path d="M252.8 383.8L256.3 383.8L256.7 376.3L252.8 377.9Z" fill="#EEB696"/><path d="M230.4 417.3L234.6 413.9L234.4 409.7L230.3 413.1Z" fill="#EAB64E"/><path d="M208 451.4L212.2 446.5L212.1 442.5L208 447.3Z" fill="#E6E600"/><path d="M226.9 422.6L231.2 418.4L230.4 417.3L226.2 421.8Z" fill="#E9BB3E"/><path d="M249.6 387.8L253.5 386.1L252.8 383.8L248.5 387.1Z" fill="#EDB386"/><path d="M242.3 394.2L246.6 390.8L245.5 390.6L241.6 392.5Z" fill="#ECB17E"/><path d="M216.1 433.9L220.3 430.1L219.5 429.8L215.5 433.6Z" fill="#E8C727"/><path d="M234.4 409.7L238.7 405.3L238.8 399.4L234.5 403.6Z" fill="#EBB166"/><path d="M212.1 442.5L216.2 438.4L216.1 433.9L212.1 438.2Z" fill="#E7D217"/><path d="M253.5 386.1L257.4 384.7L256.3 383.8L252.8 383.8Z" fill="#EDB48E"/><path d="M238.8 399.4L242.9 396.8L242.3 394.2L238.2 397.4Z" fill="#ECB176"/><path d="M223.6 426.1L227.8 422.8L226.9 422.6L222.9 425.6Z" fill="#E8BF36"/><path d="M246.6 390.8L250.5 389.4L249.6 387.8L245.5 390.6Z" fill="#EDB386"/><path d="M234.6 413.9L238.7 410.9L238.7 405.3L234.4 409.7Z" fill="#EAB456"/><path d="M231.2 418.4L235.4 415.1L234.6 413.9L230.4 417.3Z" fill="#EAB64E"/><path d="M212.2 446.5L216.2 443.1L216.2 438.4L212.1 442.5Z" fill="#E6D80F"/><path d="M250.5 389.4L254.6 387.4L253.5 386.1L249.6 387.8Z" fill="#EDB48E"/><path d="M238.7 405.3L243 402L242.9 396.8L238.8 399.4Z" fill="#EBB16E"/><path d="M242.9 396.8L247.2 393.7L246.6 390.8L242.3 394.2Z" fill="#ECB17E"/><path d="M220.3 430.1L224.5 425.7L223.6 426.1L219.5 429.8Z" fill="#E8BF36"/><path d="M216.2 438.4L220.3 434.6L220.3 430.1L216.1 433.9Z" fill="#E8C727"/><path d="M227.8 422.8L232.3 418L231.2 418.4L226.9 422.6Z" fill="#E9B846"/><path d="M238.7 410.9L243 407.7L243 402L238.7 405.3Z" fill="#EBB166"/><path d="M254.6 387.4L258.6 385.8L257.4 384.7L253.5 386.1Z" fill="#EDB48E"/><path d="M235.4 415.1L239.7 411.7L238.7 410.9L234.6 413.9Z" fill="#EAB456"/><path d="M247.2 393.7L251.3 391.4L250.5 389.4L246.6 390.8Z" fill="#EDB386"/><path d="M243 402L247.2 399.3L247.2 393.7L242.9 396.8Z" fill="#ECB176"/><path d="M216.2 443.1L220.3 439.8L220.3 434.6L216.2 438.4Z" fill="#E7CC1F"/><path d="M224.5 425.7L228.8 422.5L227.8 422.8L223.6 426.1Z" fill="#E9BB3E"/><path d="M243 407.7L247.2 405.2L247.2 399.3L243 402Z" fill="#EBB16E"/><path d="M251.3 391.4L255.6 388.9L254.6 387.4L250.5 389.4Z" fill="#EDB48E"/><path d="M220.3 434.6L224.6 430.8L224.5 425.7L220.3 430.1Z" fill="#E8BF36"/><path d="M232.3 418L236.6 414.5L235.4 415.1L231.2 418.4Z" fill="#EAB456"/><path d="M247.2 399.3L251.2 397.7L251.3 391.4L247.2 393.7Z" fill="#ECB17E"/><path d="M239.7 411.7L244.2 407.8L243 407.7L238.7 410.9Z" fill="#EBB166"/><path d="M255.6 388.9L259.5 388.1L258.6 385.8L254.6 387.4Z" fill="#EEB696"/><path d="M247.2 405.2L251.5 402.7L251.2 397.7L247.2 399.3Z" fill="#ECB176"/><path d="M251.2 397.7L255.4 395.8L255.6 388.9L251.3 391.4Z" fill="#EDB386"/><path d="M220.3 439.8L224.8 435L224.6 430.8L220.3 434.6Z" fill="#E8C32E"/><path d="M228.8 422.5L233.3 418L232.3 418L227.8 422.8Z" fill="#EAB64E"/><path d="M244.2 407.8L248.1 407.2L247.2 405.2L243 407.7Z" fill="#EBB16E"/><path d="M236.6 414.5L241 411.1L239.7 411.7L235.4 415.1Z" fill="#EBB25E"/><path d="M251.5 402.7L255.4 401.9L255.4 395.8L251.2 397.7Z" fill="#ECB17E"/><path d="M224.6 430.8L229.1 426.4L228.8 422.5L224.5 425.7Z" fill="#E9B846"/><path d="M255.4 395.8L259.2 395.4L259.5 388.1L255.6 388.9Z" fill="#EDB48E"/><path d="M255.4 401.9L259.3 401L259.2 395.4L255.4 395.8Z" fill="#ECB17E"/><path d="M248.1 407.2L252.4 404.8L251.5 402.7L247.2 405.2Z" fill="#ECB176"/><path d="M224.8 435L229.1 431.5L229.1 426.4L224.6 430.8Z" fill="#E9BB3E"/><path d="M241 411.1L245.5 407.9L244.2 407.8L239.7 411.7Z" fill="#EBB16E"/><path d="M233.3 418L237.8 414.2L236.6 414.5L232.3 418Z" fill="#EBB25E"/><path d="M252.4 404.8L256.7 402.8L255.4 401.9L251.5 402.7Z" fill="#ECB17E"/><path d="M229.1 426.4L233.5 422.9L233.3 418L228.8 422.5Z" fill="#EAB456"/><path d="M256.7 402.8L260.7 402.2L259.3 401L255.4 401.9Z" fill="#ECB17E"/><path d="M245.5 407.9L249.9 405.5L248.1 407.2L244.2 407.8Z" fill="#ECB176"/><path d="M237.8 414.2L242.4 410.5L241 411.1L236.6 414.5Z" fill="#EBB16E"/><path d="M229.1 431.5L233.5 428.3L233.5 422.9L229.1 426.4Z" fill="#EAB64E"/><path d="M249.9 405.5L254.2 403.6L252.4 404.8L248.1 407.2Z" fill="#ECB17E"/><path d="M233.5 422.9L238.1 418.9L237.8 414.2L233.3 418Z" fill="#EBB25E"/><path d="M254.2 403.6L258.5 402.1L256.7 402.8L252.4 404.8Z" fill="#EDB386"/><path d="M242.4 410.5L247.1 406.6L245.5 407.9L241 411.1Z" fill="#ECB176"/><path d="M233.5 428.3L238.2 424.2L238.1 418.9L233.5 422.9Z" fill="#EBB25E"/><path d="M258.5 402.1L262.7 400.7L260.7 402.2L256.7 402.8Z" fill="#EDB386"/><path d="M238.1 418.9L242.8 414.7L242.4 410.5L237.8 414.2Z" fill="#EBB16E"/><path d="M247.1 406.6L251.6 404.3L249.9 405.5L245.5 407.9Z" fill="#ECB17E"/><path d="M238.2 424.2L242.9 420.6L242.8 414.7L238.1 418.9Z" fill="#EBB166"/><path d="M251.6 404.3L255.8 403.3L254.2 403.6L249.9 405.5Z" fill="#EDB386"/><path d="M242.8 414.7L247.3 412L247.1 406.6L242.4 410.5Z" fill="#ECB17E"/><path d="M255.8 403.3L260.5 400.8L258.5 402.1L254.2 403.6Z" fill="#EDB48E"/><path d="M242.9 420.6L247.5 417.5L247.3 412L242.8 414.7Z" fill="#ECB176"/><path d="M247.3 412L251.9 409.6L251.6 404.3L247.1 406.6Z" fill="#EDB386"/><path d="M260.5 400.8L264.5 400.7L262.7 400.7L258.5 402.1Z" fill="#EEB696"/><path d="M251.9 409.6L256.5 407.1L255.8 403.3L251.6 404.3Z" fill="#EDB48E"/><path d="M247.5 417.5L252.1 415.1L251.9 409.6L247.3 412Z" fill="#ECB17E"/><path d="M256.5 407.1L260.8 406.4L260.5 400.8L255.8 403.3Z" fill="#EDB48E"/><path d="M252.1 415.1L256.2 415L256.5 407.1L251.9 409.6Z" fill="#EDB386"/><path d="M260.8 406.4L264.8 406.4L264.5 400.7L260.5 400.8Z" fill="#EEB696"/><path d="M256.2 415L260.7 413.2L260.8 406.4L256.5 407.1Z" fill="#EDB386"/><path d="M260.7 413.2L265.2 411.9L264.8 406.4L260.8 406.4Z" fill="#EDB48E"/></g>
<path d="M61.8 361.8L277 370.1" stroke="#222" stroke-width="0.7" stroke-dasharray="0.8 1.4" fill="none"/>
<path d="M341.4 456.3L301.4 496.5M454.7 456.3L494.7 496.5M341.4 342.5L301.4 302.3M454.7 342.5L494.7 302.3M341.4 456.3L454.7 456.3L454.7 342.5L341.4 342.5Z" stroke="#111" stroke-width="0.8" fill="none"/>
<g stroke="#000" stroke-width="0.6" stroke-linejoin="round"><path d="M488.7 309.3L494 307.8L493.6 303.5L488.5 304.7Z" fill="#F2EAEA"/><path d="M487.2 315.5L492.7 313.8L494 307.8L488.7 309.3Z" fill="#F2EAEA"/><path d="M486.7 339.1L491.8 338.2L492.6 332.9L487.3 334Z" fill="#F1E2E1"/><path d="M487.3 334L492.6 332.9L491.4 329.1L486.2 330.2Z" fill="#F1E2E1"/><path d="M483 311.3L488.7 309.3L488.5 304.7L482.3 307.4Z" fill="#F1E2E1"/><path d="M486.3 320.9L490.7 320.3L492.7 313.8L487.2 315.5Z" fill="#F1E2E1"/><path d="M481.9 317L487.2 315.5L488.7 309.3L483 311.3Z" fill="#F1DBD9"/><path d="M485 344.8L490.1 343.9L491.8 338.2L486.7 339.1Z" fill="#F1DBD9"/><path d="M486.2 330.2L491.4 329.1L490.4 325.2L485.2 326.4Z" fill="#F1DBD9"/><path d="M485.2 326.4L490.4 325.2L490.7 320.3L486.3 320.9Z" fill="#F1DBD9"/><path d="M481.6 340.1L486.7 339.1L487.3 334L481.9 335.3Z" fill="#F1DBD9"/><path d="M481.9 335.3L487.3 334L486.2 330.2L481.2 331.3Z" fill="#F1D5D0"/><path d="M480.6 322.8L486.3 320.9L487.2 315.5L481.9 317Z" fill="#F1D5D0"/><path d="M477.5 313.3L483 311.3L482.3 307.4L477.1 309.1Z" fill="#F1D5D0"/><path d="M476.4 318.9L481.9 317L483 311.3L477.5 313.3Z" fill="#F1D5D0"/><path d="M479.6 346L485 344.8L486.7 339.1L481.6 340.1Z" fill="#F1D5D0"/><path d="M481.2 331.3L486.2 330.2L485.2 326.4L480 327.8Z" fill="#F1D5D0"/><path d="M480 327.8L485.2 326.4L486.3 320.9L480.6 322.8Z" fill="#F0CFC8"/><path d="M476.3 341.3L481.6 340.1L481.9 335.3L477.1 336.3Z" fill="#F0CFC8"/><path d="M482.9 350.6L487.8 349.8L490.1 343.9L485 344.8Z" fill="#F0CFC8"/><path d="M477.1 336.3L481.9 335.3L481.2 331.3L476 332.7Z" fill="#F0CFC8"/><path d="M483.6 363.6L488.5 363.1L488.3 358.6L483.8 359Z" fill="#F0CFC8"/><path d="M483.8 359L488.3 358.6L487.9 354.3L483.1 354.9Z" fill="#F0CFC8"/><path d="M475.4 324.4L480.6 322.8L481.9 317L476.4 318.9Z" fill="#F0CFC8"/><path d="M472.3 315L477.5 313.3L477.1 309.1L472.1 310.8Z" fill="#F0C9C0"/><path d="M483.1 354.9L487.9 354.3L487.8 349.8L482.9 350.6Z" fill="#F0C9C0"/><path d="M482.3 368.5L486.9 368.2L488.5 363.1L483.6 363.6Z" fill="#F0C9C0"/><path d="M476 332.7L481.2 331.3L480 327.8L475 329.1Z" fill="#F0C9C0"/><path d="M474.7 346.9L479.6 346L481.6 340.1L476.3 341.3Z" fill="#F0C9C0"/><path d="M471.6 320.2L476.4 318.9L477.5 313.3L472.3 315Z" fill="#F0C9C0"/><path d="M478.1 351.3L482.9 350.6L485 344.8L479.6 346Z" fill="#F0C9C0"/><path d="M475 329.1L480 327.8L480.6 322.8L475.4 324.4Z" fill="#F0C9C0"/><path d="M482.8 386.1L487.4 385.9L486.4 381.6L482.3 381.8Z" fill="#F0C9C0"/><path d="M478.6 364.2L483.6 363.6L483.8 359L478.7 359.7Z" fill="#F0C9C0"/><path d="M471.3 342.5L476.3 341.3L477.1 336.3L471.7 337.8Z" fill="#F0C9C0"/><path d="M471.7 337.8L477.1 336.3L476 332.7L471 333.9Z" fill="#EFC4B7"/><path d="M478.7 359.7L483.8 359L483.1 354.9L478.2 355.6Z" fill="#EFC4B7"/><path d="M481.4 390.7L485.9 390.6L487.4 385.9L482.8 386.1Z" fill="#EFC4B7"/><path d="M478.2 355.6L483.1 354.9L482.9 350.6L478.1 351.3Z" fill="#EFC4B7"/><path d="M470.4 325.9L475.4 324.4L476.4 318.9L471.6 320.2Z" fill="#EFC4B7"/><path d="M477.2 369.2L482.3 368.5L483.6 363.6L478.6 364.2Z" fill="#EFC4B7"/><path d="M482.3 381.8L486.4 381.6L485.8 377.4L481.1 377.7Z" fill="#EFC4B7"/><path d="M480.5 373.5L485.3 373.1L486.9 368.2L482.3 368.5Z" fill="#EFC4B7"/><path d="M467.3 316.8L472.3 315L472.1 310.8L467 312.8Z" fill="#EFC4B7"/><path d="M478.2 386.3L482.8 386.1L482.3 381.8L477.3 382.1Z" fill="#EFC4B7"/><path d="M469.9 347.8L474.7 346.9L476.3 341.3L471.3 342.5Z" fill="#EFC4B7"/><path d="M471 333.9L476 332.7L475 329.1L469.8 330.7Z" fill="#EFC0AF"/><path d="M466.6 321.9L471.6 320.2L472.3 315L467.3 316.8Z" fill="#EFC0AF"/><path d="M473.2 352.2L478.1 351.3L479.6 346L474.7 346.9Z" fill="#EFC0AF"/><path d="M476.9 390.8L481.4 390.7L482.8 386.1L478.2 386.3Z" fill="#EFC0AF"/><path d="M473.9 364.8L478.6 364.2L478.7 359.7L473.8 360.5Z" fill="#EFC0AF"/><path d="M481.1 377.7L485.8 377.4L485.3 373.1L480.5 373.5Z" fill="#EFC0AF"/><path d="M469.8 330.7L475 329.1L475.4 324.4L470.4 325.9Z" fill="#EFC0AF"/><path d="M473.8 360.5L478.7 359.7L478.2 355.6L473.6 356.3Z" fill="#EFC0AF"/><path d="M466.5 343.6L471.3 342.5L471.7 337.8L467 338.8Z" fill="#EFC0AF"/><path d="M480.2 395.1L484 395.1L485.9 390.6L481.4 390.7Z" fill="#EFC0AF"/><path d="M477.3 382.1L482.3 381.8L481.1 377.7L476.4 378Z" fill="#EFC0AF"/><path d="M473.6 356.3L478.2 355.6L478.1 351.3L473.2 352.2Z" fill="#EFC0AF"/><path d="M467 338.8L471.7 337.8L471 333.9L465.8 335.6Z" fill="#EFC0AF"/><path d="M476 373.8L480.5 373.5L482.3 368.5L477.2 369.2Z" fill="#EEBCA7"/><path d="M472.2 369.8L477.2 369.2L478.6 364.2L473.9 364.8Z" fill="#EEBCA7"/><path d="M473.5 386.5L478.2 386.3L477.3 382.1L472.9 382.3Z" fill="#EEBCA7"/><path d="M465.4 327.5L470.4 325.9L471.6 320.2L466.6 321.9Z" fill="#EEBCA7"/><path d="M480 433.7L483.9 433.9L484.1 429.7L480.1 429.4Z" fill="#EEBCA7"/><path d="M472.2 390.9L476.9 390.8L478.2 386.3L473.5 386.5Z" fill="#EEBCA7"/><path d="M469 352.7L473.2 352.2L474.7 346.9L469.9 347.8Z" fill="#EEBCA7"/><path d="M476.4 378L481.1 377.7L480.5 373.5L476 373.8Z" fill="#EEBCA7"/><path d="M475.3 395.2L480.2 395.1L481.4 390.7L476.9 390.8Z" fill="#EEBCA7"/><path d="M469.4 365.3L473.9 364.8L473.8 360.5L469.4 361Z" fill="#EEBCA7"/><path d="M465 348.9L469.9 347.8L471.3 342.5L466.5 343.6Z" fill="#EEBCA7"/><path d="M462.4 318.6L467.3 316.8L467 312.8L462.2 314.6Z" fill="#EEBCA7"/><path d="M479.2 399.4L483.3 399.4L484 395.1L480.2 395.1Z" fill="#EEBCA7"/><path d="M469.4 361L473.8 360.5L473.6 356.3L468.9 357.1Z" fill="#EEBCA7"/><path d="M479.6 407.9L483.9 408L483.6 403.7L479.3 403.7Z" fill="#EEBCA7"/><path d="M465.8 335.6L471 333.9L469.8 330.7L465.2 332Z" fill="#EEBCA7"/><path d="M480.1 429.4L484.1 429.7L483 425L478.9 424.8Z" fill="#EEBCA7"/><path d="M479.1 412.1L483.2 412.2L483.9 408L479.6 407.9Z" fill="#EEB99F"/><path d="M461.5 323.9L466.6 321.9L467.3 316.8L462.4 318.6Z" fill="#EEB99F"/><path d="M472.9 382.3L477.3 382.1L476.4 378L471.9 378.3Z" fill="#EEB99F"/><path d="M468.9 357.1L473.6 356.3L473.2 352.2L469 352.7Z" fill="#EEB99F"/><path d="M479.3 403.7L483.6 403.7L483.3 399.4L479.2 399.4Z" fill="#EEB99F"/><path d="M478.7 437.4L482.7 437.7L483.9 433.9L480 433.7Z" fill="#EEB99F"/><path d="M465.2 332L469.8 330.7L470.4 325.9L465.4 327.5Z" fill="#EEB99F"/><path d="M475.4 433.2L480 433.7L480.1 429.4L475.8 429.1Z" fill="#EEB99F"/><path d="M461.4 344.9L466.5 343.6L467 338.8L461.8 340.4Z" fill="#EEB99F"/><path d="M468.8 386.7L473.5 386.5L472.9 382.3L468.3 382.6Z" fill="#EEB99F"/><path d="M467.9 370.2L472.2 369.8L473.9 364.8L469.4 365.3Z" fill="#EEB99F"/><path d="M471.4 374.3L476 373.8L477.2 369.2L472.2 369.8Z" fill="#EEB99F"/><path d="M461.8 340.4L467 338.8L465.8 335.6L461.2 336.8Z" fill="#EEB99F"/><path d="M474.6 399.4L479.2 399.4L480.2 395.1L475.3 395.2Z" fill="#EEB99F"/><path d="M467.8 391.1L472.2 390.9L473.5 386.5L468.8 386.7Z" fill="#EEB99F"/><path d="M475.3 407.8L479.6 407.9L479.3 403.7L475 403.6Z" fill="#EEB99F"/><path d="M471.9 378.3L476.4 378L476 373.8L471.4 374.3Z" fill="#EEB99F"/><path d="M475.8 429.1L480.1 429.4L478.9 424.8L474.4 424.4Z" fill="#EEB99F"/><path d="M471 395.2L475.3 395.2L476.9 390.8L472.2 390.9Z" fill="#EEB99F"/><path d="M474.6 411.9L479.1 412.1L479.6 407.9L475.3 407.8Z" fill="#EEB696"/><path d="M477.6 416.1L481.9 416.3L483.2 412.2L479.1 412.1Z" fill="#EEB696"/><path d="M474.3 436.9L478.7 437.4L480 433.7L475.4 433.2Z" fill="#EEB696"/><path d="M464.6 366L469.4 365.3L469.4 361L464.6 361.8Z" fill="#EEB696"/><path d="M463.9 353.9L469 352.7L469.9 347.8L465 348.9Z" fill="#EEB696"/><path d="M475 403.6L479.3 403.7L479.2 399.4L474.6 399.4Z" fill="#EEB696"/><path d="M460.6 329.1L465.4 327.5L466.6 321.9L461.5 323.9Z" fill="#EEB696"/><path d="M478.9 424.8L483 425L481.5 420.4L477.4 420.2Z" fill="#EEB696"/><path d="M471.4 432.9L475.4 433.2L475.8 429.1L471.4 428.7Z" fill="#EEB696"/><path d="M468.3 382.6L472.9 382.3L471.9 378.3L467.5 378.6Z" fill="#EEB696"/><path d="M464.6 361.8L469.4 361L468.9 357.1L464.3 357.8Z" fill="#EEB696"/><path d="M460.5 349.9L465 348.9L466.5 343.6L461.4 344.9Z" fill="#EEB696"/><path d="M477.4 440.9L480.8 440.9L482.7 437.7L478.7 437.4Z" fill="#EEB696"/><path d="M464.3 357.8L468.9 357.1L469 352.7L463.9 353.9Z" fill="#EEB696"/><path d="M478.1 453.8L481.8 454.1L481.7 449.8L477.8 449.5Z" fill="#EEB696"/><path d="M477.7 478.6L481.1 478.6L482 475.3L478.5 475.2Z" fill="#EEB696"/><path d="M461.2 336.8L465.8 335.6L465.2 332L460.4 333.5Z" fill="#EEB696"/><path d="M478.5 475.2L482 475.3L481 470.3L477.2 469.8Z" fill="#EEB696"/><path d="M471.2 407.7L475.3 407.8L475 403.6L470.6 403.5Z" fill="#EEB696"/><path d="M457.3 320.8L462.4 318.6L462.2 314.6L456.9 317.3Z" fill="#EEB696"/><path d="M477.4 420.2L481.5 420.4L481.9 416.3L477.6 416.1Z" fill="#EDB48E"/><path d="M471.4 428.7L475.8 429.1L474.4 424.4L470.2 424.1Z" fill="#EDB48E"/><path d="M463.3 370.7L467.9 370.2L469.4 365.3L464.6 366Z" fill="#EDB48E"/><path d="M477.8 449.5L481.7 449.8L481.3 445.4L477.4 445.1Z" fill="#EDB48E"/><path d="M473.5 415.9L477.6 416.1L479.1 412.1L474.6 411.9Z" fill="#EDB48E"/><path d="M464.3 386.9L468.8 386.7L468.3 382.6L463.7 382.9Z" fill="#EDB48E"/><path d="M470.4 411.8L474.6 411.9L475.3 407.8L471.2 407.7Z" fill="#EDB48E"/><path d="M466.8 374.7L471.4 374.3L472.2 369.8L467.9 370.2Z" fill="#EDB48E"/><path d="M460.4 333.5L465.2 332L465.4 327.5L460.6 329.1Z" fill="#EDB48E"/><path d="M474.1 478.3L477.7 478.6L478.5 475.2L474.4 474.4Z" fill="#EDB48E"/><path d="M470.3 436.5L474.3 436.9L475.4 433.2L471.4 432.9Z" fill="#EDB48E"/><path d="M466.7 395.3L471 395.2L472.2 390.9L467.8 391.1Z" fill="#EDB48E"/><path d="M470.2 399.4L474.6 399.4L475.3 395.2L471 395.2Z" fill="#EDB48E"/><path d="M474.4 424.4L478.9 424.8L477.4 420.2L473.5 420Z" fill="#EDB48E"/><path d="M456.6 325.9L461.5 323.9L462.4 318.6L457.3 320.8Z" fill="#EDB48E"/><path d="M467.5 378.6L471.9 378.3L471.4 374.3L466.8 374.7Z" fill="#EDB48E"/><path d="M463.1 391.2L467.8 391.1L468.8 386.7L464.3 386.9Z" fill="#EDB48E"/><path d="M477.4 445.1L481.3 445.4L480.8 440.9L477.4 440.9Z" fill="#EDB48E"/><path d="M470.6 403.5L475 403.6L474.6 399.4L470.2 399.4Z" fill="#EDB48E"/><path d="M473.9 453.2L478.1 453.8L477.8 449.5L473.8 449Z" fill="#EDB48E"/><path d="M474.4 474.4L478.5 475.2L477.2 469.8L473.4 469.3Z" fill="#EDB48E"/><path d="M466.9 432.3L471.4 432.9L471.4 428.7L467.1 428.3Z" fill="#EDB48E"/><path d="M476.6 457L480.1 457.1L481.8 454.1L478.1 453.8Z" fill="#EDB48E"/><path d="M473 440.3L477.4 440.9L478.7 437.4L474.3 436.9Z" fill="#EDB48E"/><path d="M456.7 346.2L461.4 344.9L461.8 340.4L457 341.8Z" fill="#EDB48E"/><path d="M473.8 449L477.8 449.5L477.4 445.1L473.5 444.7Z" fill="#EDB48E"/><path d="M470 477.4L474.1 478.3L474.4 474.4L470.7 474Z" fill="#EDB48E"/><path d="M476.5 481.5L480.2 482L481.1 478.6L477.7 478.6Z" fill="#EDB48E"/><path d="M457 341.8L461.8 340.4L461.2 336.8L456.4 338.4Z" fill="#EDB48E"/><path d="M473.5 420L477.4 420.2L477.6 416.1L473.5 415.9Z" fill="#EDB48E"/><path d="M463.7 382.9L468.3 382.6L467.5 378.6L462.9 379Z" fill="#EDB386"/><path d="M469.8 415.8L473.5 415.9L474.6 411.9L470.4 411.8Z" fill="#EDB386"/><path d="M466.7 407.6L471.2 407.7L470.6 403.5L466.6 403.5Z" fill="#EDB386"/><path d="M473.5 444.7L477.4 445.1L477.4 440.9L473 440.3Z" fill="#EDB386"/><path d="M472.7 456.5L476.6 457L478.1 453.8L473.9 453.2Z" fill="#EDB386"/><path d="M459.7 366.8L464.6 366L464.6 361.8L459.8 362.7Z" fill="#EDB386"/><path d="M466.2 436.1L470.3 436.5L471.4 432.9L466.9 432.3Z" fill="#EDB386"/><path d="M459.2 354.9L463.9 353.9L465 348.9L460.5 349.9Z" fill="#EDB386"/><path d="M470.7 474L474.4 474.4L473.4 469.3L469.5 468.7Z" fill="#EDB386"/><path d="M467.1 428.3L471.4 428.7L470.2 424.1L466 423.8Z" fill="#EDB386"/><path d="M472.6 480.8L476.5 481.5L477.7 478.6L474.1 478.3Z" fill="#EDB386"/><path d="M477.2 469.8L481 470.3L479.6 464.9L476.1 464.7Z" fill="#EDB386"/><path d="M459.8 362.7L464.6 361.8L464.3 357.8L459.7 358.7Z" fill="#EDB386"/><path d="M466.1 411.6L470.4 411.8L471.2 407.7L466.7 407.6Z" fill="#EDB386"/><path d="M469.8 452.7L473.9 453.2L473.8 449L470 448.7Z" fill="#EDB386"/><path d="M470.2 424.1L474.4 424.4L473.5 420L469.2 419.7Z" fill="#EDB386"/><path d="M466.1 399.4L470.2 399.4L471 395.2L466.7 395.3Z" fill="#EDB386"/><path d="M456.1 330.6L460.6 329.1L461.5 323.9L456.6 325.9Z" fill="#EDB386"/><path d="M462.8 375L466.8 374.7L467.9 370.2L463.3 370.7Z" fill="#EDB386"/><path d="M455.8 351L460.5 349.9L461.4 344.9L456.7 346.2Z" fill="#EDB386"/><path d="M466.6 403.5L470.6 403.5L470.2 399.4L466.1 399.4Z" fill="#EDB386"/><path d="M470 448.7L473.8 449L473.5 444.7L469.3 444.1Z" fill="#EDB386"/><path d="M468.9 439.9L473 440.3L474.3 436.9L470.3 436.5Z" fill="#EDB386"/><path d="M466 476.6L470 477.4L470.7 474L466.7 473.3Z" fill="#EDB386"/><path d="M459.7 358.7L464.3 357.8L463.9 353.9L459.2 354.9Z" fill="#EDB386"/><path d="M469.2 419.7L473.5 420L473.5 415.9L469.8 415.8Z" fill="#EDB386"/><path d="M462.9 379L467.5 378.6L466.8 374.7L462.8 375Z" fill="#EDB386"/><path d="M469.3 480.7L472.6 480.8L474.1 478.3L470 477.4Z" fill="#EDB386"/><path d="M462.2 395.4L466.7 395.3L467.8 391.1L463.1 391.2Z" fill="#EDB386"/><path d="M456.4 338.4L461.2 336.8L460.4 333.5L455.7 335Z" fill="#EDB386"/><path d="M473.4 469.3L477.2 469.8L476.1 464.7L472.1 464.1Z" fill="#EDB386"/><path d="M462.8 431.9L466.9 432.3L467.1 428.3L462.7 427.8Z" fill="#EDB386"/><path d="M458.9 371.2L463.3 370.7L464.6 366L459.7 366.8Z" fill="#EDB386"/><path d="M459.5 387.2L464.3 386.9L463.7 382.9L459 383.3Z" fill="#EDB386"/><path d="M466.7 473.3L470.7 474L469.5 468.7L465.5 468Z" fill="#ECB17E"/><path d="M468.9 456L472.7 456.5L473.9 453.2L469.8 452.7Z" fill="#ECB17E"/><path d="M475.5 460.2L479.1 460.5L480.1 457.1L476.6 457Z" fill="#ECB17E"/><path d="M455.7 335L460.4 333.5L460.6 329.1L456.1 330.6Z" fill="#ECB17E"/><path d="M458.9 391.4L463.1 391.2L464.3 386.9L459.5 387.2Z" fill="#ECB17E"/><path d="M469.3 444.1L473.5 444.7L473 440.3L468.9 439.9Z" fill="#ECB17E"/><path d="M465.3 415.5L469.8 415.8L470.4 411.8L466.1 411.6Z" fill="#ECB17E"/><path d="M476.1 464.7L479.6 464.9L479.1 460.5L475.5 460.2Z" fill="#ECB17E"/><path d="M452.7 322.8L457.3 320.8L456.9 317.3L452.4 319Z" fill="#ECB17E"/><path d="M465.6 451.9L469.8 452.7L470 448.7L465.7 447.9Z" fill="#ECB17E"/><path d="M472 459.9L475.5 460.2L476.6 457L472.7 456.5Z" fill="#ECB17E"/><path d="M461.9 435.5L466.2 436.1L466.9 432.3L462.8 431.9Z" fill="#ECB17E"/><path d="M462.7 427.8L467.1 428.3L466 423.8L461.9 423.5Z" fill="#ECB17E"/><path d="M462.4 407.5L466.7 407.6L466.6 403.5L462 403.4Z" fill="#ECB17E"/><path d="M465.3 479.9L469.3 480.7L470 477.4L466 476.6Z" fill="#ECB17E"/><path d="M466 423.8L470.2 424.1L469.2 419.7L465.1 419.4Z" fill="#ECB17E"/><path d="M465.7 447.9L470 448.7L469.3 444.1L465.4 443.7Z" fill="#ECB17E"/><path d="M465 439.4L468.9 439.9L470.3 436.5L466.2 436.1Z" fill="#ECB17E"/><path d="M452.1 327.6L456.6 325.9L457.3 320.8L452.7 322.8Z" fill="#ECB17E"/><path d="M469.5 468.7L473.4 469.3L472.1 464.1L468.2 463.4Z" fill="#ECB17E"/><path d="M452.2 347.4L456.7 346.2L457 341.8L452.6 343Z" fill="#ECB17E"/><path d="M462 475.7L466 476.6L466.7 473.3L462.3 472Z" fill="#ECB17E"/><path d="M459 383.3L463.7 382.9L462.9 379L458.6 379.4Z" fill="#ECB17E"/><path d="M472.1 464.1L476.1 464.7L475.5 460.2L472 459.9Z" fill="#ECB17E"/><path d="M461.9 399.4L466.1 399.4L466.7 395.3L462.2 395.4Z" fill="#ECB17E"/><path d="M461.5 411.4L466.1 411.6L466.7 407.6L462.4 407.5Z" fill="#ECB17E"/><path d="M462 403.4L466.6 403.5L466.1 399.4L461.9 399.4Z" fill="#ECB17E"/><path d="M465.1 419.4L469.2 419.7L469.8 415.8L465.3 415.5Z" fill="#ECB176"/><path d="M452.6 343L457 341.8L456.4 338.4L451.9 339.7Z" fill="#ECB176"/><path d="M464.9 455.3L468.9 456L469.8 452.7L465.6 451.9Z" fill="#ECB176"/><path d="M455.6 367.3L459.7 366.8L459.8 362.7L455.3 363.4Z" fill="#ECB176"/><path d="M454.9 355.7L459.2 354.9L460.5 349.9L455.8 351Z" fill="#ECB176"/><path d="M458.1 375.6L462.8 375L463.3 370.7L458.9 371.2Z" fill="#ECB176"/><path d="M462.3 472L466.7 473.3L465.5 468L461.4 467Z" fill="#ECB176"/><path d="M467.9 459.2L472 459.9L472.7 456.5L468.9 456Z" fill="#ECB176"/><path d="M465.4 443.7L469.3 444.1L468.9 439.9L465 439.4Z" fill="#ECB176"/><path d="M455.3 363.4L459.8 362.7L459.7 358.7L455.1 359.6Z" fill="#ECB176"/><path d="M458.6 379.4L462.9 379L462.8 375L458.1 375.6Z" fill="#ECB176"/><path d="M465.5 468L469.5 468.7L468.2 463.4L464.7 463.2Z" fill="#ECB176"/><path d="M458.2 431.2L462.8 431.9L462.7 427.8L458.3 427.3Z" fill="#ECB176"/><path d="M451.7 332L456.1 330.6L456.6 325.9L452.1 327.6Z" fill="#ECB176"/><path d="M457.8 395.5L462.2 395.4L463.1 391.2L458.9 391.4Z" fill="#ECB176"/><path d="M468.2 463.4L472.1 464.1L472 459.9L467.9 459.2Z" fill="#ECB176"/><path d="M461.3 478.8L465.3 479.9L466 476.6L462 475.7Z" fill="#ECB176"/><path d="M461.7 451.3L465.6 451.9L465.7 447.9L461.5 447.2Z" fill="#ECB176"/><path d="M455.1 359.6L459.7 358.7L459.2 354.9L454.9 355.7Z" fill="#ECB176"/><path d="M451.4 352.1L455.8 351L456.7 346.2L452.2 347.4Z" fill="#ECB176"/><path d="M461.2 415.3L465.3 415.5L466.1 411.6L461.5 411.4Z" fill="#ECB176"/><path d="M454.4 371.9L458.9 371.2L459.7 366.8L455.6 367.3Z" fill="#ECB176"/><path d="M461.9 423.5L466 423.8L465.1 419.4L461.1 419.2Z" fill="#ECB176"/><path d="M455.2 387.4L459.5 387.2L459 383.3L454.7 383.6Z" fill="#ECB176"/><path d="M460.8 438.8L465 439.4L466.2 436.1L461.9 435.5Z" fill="#ECB176"/><path d="M454.7 391.5L458.9 391.4L459.5 387.2L455.2 387.4Z" fill="#ECB176"/><path d="M461.5 447.2L465.7 447.9L465.4 443.7L461.2 443Z" fill="#ECB176"/><path d="M451.9 339.7L456.4 338.4L455.7 335L451.5 336.2Z" fill="#EBB16E"/><path d="M457.6 434.8L461.9 435.5L462.8 431.9L458.2 431.2Z" fill="#EBB16E"/><path d="M451.5 336.2L455.7 335L456.1 330.6L451.7 332Z" fill="#EBB16E"/><path d="M458.3 427.3L462.7 427.8L461.9 423.5L457.4 423Z" fill="#EBB16E"/><path d="M448.6 324L452.7 322.8L452.4 319L448.4 320.3Z" fill="#EBB16E"/><path d="M464 458.6L467.9 459.2L468.9 456L464.9 455.3Z" fill="#EBB16E"/><path d="M460.7 454.5L464.9 455.3L465.6 451.9L461.7 451.3Z" fill="#EBB16E"/><path d="M457.7 474.3L462 475.7L462.3 472L458.1 470.9Z" fill="#EBB16E"/><path d="M458 407.3L462.4 407.5L462 403.4L457.6 403.3Z" fill="#EBB16E"/><path d="M461.1 419.2L465.1 419.4L465.3 415.5L461.2 415.3Z" fill="#EBB16E"/><path d="M461.2 443L465.4 443.7L465 439.4L460.8 438.8Z" fill="#EBB16E"/><path d="M464.7 463.2L468.2 463.4L467.9 459.2L464 458.6Z" fill="#EBB16E"/><path d="M461.4 467L465.5 468L464.7 463.2L460.5 462.1Z" fill="#EBB16E"/><path d="M448.3 348.2L452.2 347.4L452.6 343L448.3 344.1Z" fill="#EBB16E"/><path d="M447.9 328.9L452.1 327.6L452.7 322.8L448.6 324Z" fill="#EBB16E"/><path d="M457.4 411.2L461.5 411.4L462.4 407.5L458 407.3Z" fill="#EBB16E"/><path d="M458.1 470.9L462.3 472L461.4 467L457.3 466Z" fill="#EBB16E"/><path d="M457.2 399.4L461.9 399.4L462.2 395.4L457.8 395.5Z" fill="#EBB16E"/><path d="M454.7 383.6L459 383.3L458.6 379.4L454.1 379.8Z" fill="#EBB16E"/><path d="M448.3 344.1L452.6 343L451.9 339.7L448 340.6Z" fill="#EBB16E"/><path d="M457.6 403.3L462 403.4L461.9 399.4L457.2 399.4Z" fill="#EBB16E"/><path d="M457.2 477.5L461.3 478.8L462 475.7L457.7 474.3Z" fill="#EBB166"/><path d="M450.9 368.2L455.6 367.3L455.3 363.4L451 364.2Z" fill="#EBB166"/><path d="M453.9 376L458.1 375.6L458.9 371.2L454.4 371.9Z" fill="#EBB166"/><path d="M457.3 450.3L461.7 451.3L461.5 447.2L457.3 446.4Z" fill="#EBB166"/><path d="M450.5 356.7L454.9 355.7L455.8 351L451.4 352.1Z" fill="#EBB166"/><path d="M453.5 395.5L457.8 395.5L458.9 391.4L454.7 391.5Z" fill="#EBB166"/><path d="M451 364.2L455.3 363.4L455.1 359.6L450.8 360.5Z" fill="#EBB166"/><path d="M454.1 430.7L458.2 431.2L458.3 427.3L454.1 426.8Z" fill="#EBB166"/><path d="M454.1 379.8L458.6 379.4L458.1 375.6L453.9 376Z" fill="#EBB166"/><path d="M447.8 333L451.7 332L452.1 327.6L447.9 328.9Z" fill="#EBB166"/><path d="M460 457.7L464 458.6L464.9 455.3L460.7 454.5Z" fill="#EBB166"/><path d="M447.5 352.8L451.4 352.1L452.2 347.4L448.3 348.2Z" fill="#EBB166"/><path d="M456.9 415L461.2 415.3L461.5 411.4L457.4 411.2Z" fill="#EBB166"/><path d="M456.7 438.2L460.8 438.8L461.9 435.5L457.6 434.8Z" fill="#EBB166"/><path d="M457.3 446.4L461.5 447.2L461.2 443L456.9 442.2Z" fill="#EBB166"/><path d="M457.4 423L461.9 423.5L461.1 419.2L456.5 418.7Z" fill="#EBB166"/><path d="M444.9 324.9L448.6 324L448.4 320.3L444.7 321.3Z" fill="#EBB166"/><path d="M460.5 462.1L464.7 463.2L464 458.6L460 457.7Z" fill="#EBB166"/><path d="M448 340.6L451.9 339.7L451.5 336.2L447.4 337.4Z" fill="#EBB166"/><path d="M450.8 360.5L455.1 359.6L454.9 355.7L450.5 356.7Z" fill="#EBB166"/><path d="M450.4 372.3L454.4 371.9L455.6 367.3L450.9 368.2Z" fill="#EBB166"/><path d="M450.4 391.7L454.7 391.5L455.2 387.4L450.9 387.7Z" fill="#EBB166"/><path d="M456.5 453.4L460.7 454.5L461.7 451.3L457.3 450.3Z" fill="#EBB166"/><path d="M450.9 387.7L455.2 387.4L454.7 383.6L450.3 384Z" fill="#EBB166"/><path d="M447.4 337.4L451.5 336.2L451.7 332L447.8 333Z" fill="#EBB25E"/><path d="M453.6 473L457.7 474.3L458.1 470.9L454 469.7Z" fill="#EBB25E"/><path d="M444.4 329.5L447.9 328.9L448.6 324L444.9 324.9Z" fill="#EBB25E"/><path d="M454.1 426.8L458.3 427.3L457.4 423L453.3 422.5Z" fill="#EBB25E"/><path d="M456.5 418.7L461.1 419.2L461.2 415.3L456.9 415Z" fill="#EBB25E"/><path d="M457.3 466L461.4 467L460.5 462.1L456.5 461.2Z" fill="#EBB25E"/><path d="M456.9 442.2L461.2 443L460.8 438.8L456.7 438.2Z" fill="#EBB25E"/><path d="M444.4 349L448.3 348.2L448.3 344.1L444.6 344.8Z" fill="#EBB25E"/><path d="M453.2 434L457.6 434.8L458.2 431.2L454.1 430.7Z" fill="#EBB25E"/><path d="M454 469.7L458.1 470.9L457.3 466L453.3 465Z" fill="#EBB25E"/><path d="M453.6 407.2L458 407.3L457.6 403.3L453.4 403.3Z" fill="#EBB25E"/><path d="M444.6 344.8L448.3 344.1L448 340.6L444.1 341.6Z" fill="#EBB25E"/><path d="M453.3 411L457.4 411.2L458 407.3L453.6 407.2Z" fill="#EBB25E"/><path d="M453.1 399.4L457.2 399.4L457.8 395.5L453.5 395.5Z" fill="#EBB25E"/><path d="M453.1 476.1L457.2 477.5L457.7 474.3L453.6 473Z" fill="#EBB25E"/><path d="M450.3 384L454.7 383.6L454.1 379.8L450 380.2Z" fill="#EBB25E"/><path d="M453.4 403.3L457.6 403.3L457.2 399.4L453.1 399.4Z" fill="#EBB25E"/><path d="M443.9 334.2L447.8 333L447.9 328.9L444.4 329.5Z" fill="#EAB456"/><path d="M447.2 368.6L450.9 368.2L451 364.2L447.1 364.7Z" fill="#EAB456"/><path d="M443.7 353.5L447.5 352.8L448.3 348.2L444.4 349Z" fill="#EAB456"/><path d="M446.8 357.3L450.5 356.7L451.4 352.1L447.5 352.8Z" fill="#EAB456"/><path d="M453.2 449.4L457.3 450.3L457.3 446.4L453.1 445.5Z" fill="#EAB456"/><path d="M456.1 456.9L460 457.7L460.7 454.5L456.5 453.4Z" fill="#EAB456"/><path d="M441 326.1L444.9 324.9L444.7 321.3L440.9 322.6Z" fill="#EAB456"/><path d="M449.8 376.5L453.9 376L454.4 371.9L450.4 372.3Z" fill="#EAB456"/><path d="M450.2 430.2L454.1 430.7L454.1 426.8L450 426.3Z" fill="#EAB456"/><path d="M456.5 461.2L460.5 462.1L460 457.7L456.1 456.9Z" fill="#EAB456"/><path d="M447.1 364.7L451 364.2L450.8 360.5L447 361Z" fill="#EAB456"/><path d="M449.6 395.6L453.5 395.5L454.7 391.5L450.4 391.7Z" fill="#EAB456"/><path d="M452.8 414.7L456.9 415L457.4 411.2L453.3 411Z" fill="#EAB456"/><path d="M444.1 341.6L448 340.6L447.4 337.4L443.8 338.1Z" fill="#EAB456"/><path d="M440.6 330.7L444.4 329.5L444.9 324.9L441 326.1Z" fill="#EAB456"/><path d="M453.1 445.5L457.3 446.4L456.9 442.2L452.8 441.5Z" fill="#EAB456"/><path d="M452.7 437.5L456.7 438.2L457.6 434.8L453.2 434Z" fill="#EAB456"/><path d="M450 380.2L454.1 379.8L453.9 376L449.8 376.5Z" fill="#EAB456"/><path d="M443.8 338.1L447.4 337.4L447.8 333L443.9 334.2Z" fill="#EAB456"/><path d="M453.3 422.5L457.4 423L456.5 418.7L452.5 418.4Z" fill="#EAB456"/><path d="M453.3 465L457.3 466L456.5 461.2L452.6 460.3Z" fill="#EAB456"/><path d="M447 361L450.8 360.5L450.5 356.7L446.8 357.3Z" fill="#EAB456"/><path d="M447 387.9L450.9 387.7L450.3 384L446.8 384.1Z" fill="#EAB456"/><path d="M440.5 349.8L444.4 349L444.6 344.8L440.9 345.6Z" fill="#EAB456"/><path d="M446.5 372.8L450.4 372.3L450.9 368.2L447.2 368.6Z" fill="#EAB456"/><path d="M452.5 452.6L456.5 453.4L457.3 450.3L453.2 449.4Z" fill="#EAB456"/><path d="M449.7 471.9L453.6 473L454 469.7L449.9 468.3Z" fill="#EAB456"/><path d="M446.5 391.8L450.4 391.7L450.9 387.7L447 387.9Z" fill="#EAB456"/><path d="M449.4 433.6L453.2 434L454.1 430.7L450.2 430.2Z" fill="#EAB456"/><path d="M450 426.3L454.1 426.8L453.3 422.5L449.4 422.1Z" fill="#EAB456"/><path d="M452.8 441.5L456.9 442.2L456.7 438.2L452.7 437.5Z" fill="#EAB456"/><path d="M440.9 345.6L444.6 344.8L444.1 341.6L440.4 342.4Z" fill="#EAB456"/><path d="M452.5 418.4L456.5 418.7L456.9 415L452.8 414.7Z" fill="#EAB64E"/><path d="M449.9 468.3L454 469.7L453.3 465L449.2 463.6Z" fill="#EAB64E"/><path d="M449.8 407.1L453.6 407.2L453.4 403.3L449.4 403.2Z" fill="#EAB64E"/><path d="M449.3 410.8L453.3 411L453.6 407.2L449.8 407.1Z" fill="#EAB64E"/><path d="M440.2 335.2L443.9 334.2L444.4 329.5L440.6 330.7Z" fill="#EAB64E"/><path d="M443.2 357.8L446.8 357.3L447.5 352.8L443.7 353.5Z" fill="#EAB64E"/><path d="M449.3 475L453.1 476.1L453.6 473L449.7 471.9Z" fill="#EAB64E"/><path d="M446.8 384.1L450.3 384L450 380.2L446.2 380.5Z" fill="#EAB64E"/><path d="M449 399.4L453.1 399.4L453.5 395.5L449.6 395.6Z" fill="#EAB64E"/><path d="M440.1 354.2L443.7 353.5L444.4 349L440.5 349.8Z" fill="#EAB64E"/><path d="M443.3 369.1L447.2 368.6L447.1 364.7L443.2 365.4Z" fill="#EAB64E"/><path d="M452.6 460.3L456.5 461.2L456.1 456.9L452.2 456Z" fill="#EAB64E"/><path d="M452.2 456L456.1 456.9L456.5 453.4L452.5 452.6Z" fill="#EAB64E"/><path d="M446.1 376.8L449.8 376.5L450.4 372.3L446.5 372.8Z" fill="#EAB64E"/><path d="M437.3 327.4L441 326.1L440.9 322.6L437.1 324Z" fill="#EAB64E"/><path d="M449.4 403.2L453.4 403.3L453.1 399.4L449 399.4Z" fill="#EAB64E"/><path d="M443.2 365.4L447.1 364.7L447 361L443.3 361.5Z" fill="#EAB64E"/><path d="M440.4 342.4L444.1 341.6L443.8 338.1L440 339.1Z" fill="#EAB64E"/><path d="M446.1 429.6L450.2 430.2L450 426.3L446.2 425.9Z" fill="#E9B846"/><path d="M449.1 448.5L453.2 449.4L453.1 445.5L449.2 444.7Z" fill="#E9B846"/><path d="M445.9 395.6L449.6 395.6L450.4 391.7L446.5 391.8Z" fill="#E9B846"/><path d="M443.3 361.5L447 361L446.8 357.3L443.2 357.8Z" fill="#E9B846"/><path d="M436.9 331.9L440.6 330.7L441 326.1L437.3 327.4Z" fill="#E9B846"/><path d="M440 339.1L443.8 338.1L443.9 334.2L440.2 335.2Z" fill="#E9B846"/><path d="M443.2 388.1L447 387.9L446.8 384.1L443 384.3Z" fill="#E9B846"/><path d="M446.2 380.5L450 380.2L449.8 376.5L446.1 376.8Z" fill="#E9B846"/><path d="M448.7 414.4L452.8 414.7L453.3 411L449.3 410.8Z" fill="#E9B846"/><path d="M442.8 373.2L446.5 372.8L447.2 368.6L443.3 369.1Z" fill="#E9B846"/><path d="M449.2 444.7L453.1 445.5L452.8 441.5L448.8 440.7Z" fill="#E9B846"/><path d="M448.6 436.7L452.7 437.5L453.2 434L449.4 433.6Z" fill="#E9B846"/><path d="M449.4 422.1L453.3 422.5L452.5 418.4L448.7 418.1Z" fill="#E9B846"/><path d="M436.8 350.7L440.5 349.8L440.9 345.6L437.2 346.5Z" fill="#E9B846"/><path d="M449.2 463.6L453.3 465L452.6 460.3L448.6 459.1Z" fill="#E9B846"/><path d="M442.7 391.9L446.5 391.8L447 387.9L443.2 388.1Z" fill="#E9B846"/><path d="M448.7 451.8L452.5 452.6L453.2 449.4L449.1 448.5Z" fill="#E9B846"/><path d="M445.7 470.5L449.7 471.9L449.9 468.3L446.1 467.3Z" fill="#E9B846"/><path d="M437.2 346.5L440.9 345.6L440.4 342.4L436.7 343.4Z" fill="#E9B846"/><path d="M445.6 433L449.4 433.6L450.2 430.2L446.1 429.6Z" fill="#E9B846"/><path d="M446.2 425.9L450 426.3L449.4 422.1L445.5 421.7Z" fill="#E9B846"/><path d="M446 406.9L449.8 407.1L449.4 403.2L445.7 403.1Z" fill="#E9B846"/><path d="M448.8 440.7L452.8 441.5L452.7 437.5L448.6 436.7Z" fill="#E9B846"/><path d="M445.6 410.6L449.3 410.8L449.8 407.1L446 406.9Z" fill="#E9B846"/><path d="M448.7 418.1L452.5 418.4L452.8 414.7L448.7 414.4Z" fill="#E9B846"/><path d="M446.1 467.3L449.9 468.3L449.2 463.6L445.4 462.6Z" fill="#E9BB3E"/><path d="M443 384.3L446.8 384.1L446.2 380.5L442.5 380.8Z" fill="#E9BB3E"/><path d="M439.5 358.5L443.2 357.8L443.7 353.5L440.1 354.2Z" fill="#E9BB3E"/><path d="M436.7 336L440.2 335.2L440.6 330.7L436.9 331.9Z" fill="#E9BB3E"/><path d="M445.6 399.4L449 399.4L449.6 395.6L445.9 395.6Z" fill="#E9BB3E"/><path d="M445.5 473.8L449.3 475L449.7 471.9L445.7 470.5Z" fill="#E9BB3E"/><path d="M436.5 354.8L440.1 354.2L440.5 349.8L436.8 350.7Z" fill="#E9BB3E"/><path d="M439.6 369.6L443.3 369.1L443.2 365.4L439.8 365.7Z" fill="#E9BB3E"/><path d="M442.4 377.1L446.1 376.8L446.5 372.8L442.8 373.2Z" fill="#E9BB3E"/><path d="M445.7 403.1L449.4 403.2L449 399.4L445.6 399.4Z" fill="#E9BB3E"/><path d="M439.8 365.7L443.2 365.4L443.3 361.5L439.4 362.3Z" fill="#E9BB3E"/><path d="M448.1 454.9L452.2 456L452.5 452.6L448.7 451.8Z" fill="#E9BB3E"/><path d="M448.6 459.1L452.6 460.3L452.2 456L448.1 454.9Z" fill="#E9BB3E"/><path d="M436.7 343.4L440.4 342.4L440 339.1L436.4 340.2Z" fill="#E9BB3E"/><path d="M442.2 395.7L445.9 395.6L446.5 391.8L442.7 391.9Z" fill="#E9BB3E"/><path d="M439.4 362.3L443.3 361.5L443.2 357.8L439.5 358.5Z" fill="#E9BB3E"/><path d="M445.4 447.7L449.1 448.5L449.2 444.7L445.5 444.1Z" fill="#E9BB3E"/><path d="M433.7 328.6L437.3 327.4L437.1 324L433.4 325.4Z" fill="#E9BB3E"/><path d="M442.5 429.2L446.1 429.6L446.2 425.9L442.4 425.4Z" fill="#E9BB3E"/><path d="M439.6 388.2L443.2 388.1L443 384.3L439.4 384.5Z" fill="#E9BB3E"/><path d="M442.5 380.8L446.2 380.5L446.1 376.8L442.4 377.1Z" fill="#E9BB3E"/><path d="M436.4 340.2L440 339.1L440.2 335.2L436.7 336Z" fill="#E9BB3E"/><path d="M433.4 332.8L436.9 331.9L437.3 327.4L433.7 328.6Z" fill="#E9BB3E"/><path d="M445.5 444.1L449.2 444.7L448.8 440.7L445.3 440.2Z" fill="#E9BB3E"/><path d="M439.1 373.6L442.8 373.2L443.3 369.1L439.6 369.6Z" fill="#E8BF36"/><path d="M445.1 414.2L448.7 414.4L449.3 410.8L445.6 410.6Z" fill="#E8BF36"/><path d="M445.5 421.7L449.4 422.1L448.7 418.1L445 417.8Z" fill="#E8BF36"/><path d="M444.9 436.2L448.6 436.7L449.4 433.6L445.6 433Z" fill="#E8BF36"/><path d="M439.1 392L442.7 391.9L443.2 388.1L439.6 388.2Z" fill="#E8BF36"/><path d="M433.3 351.4L436.8 350.7L437.2 346.5L433.5 347.5Z" fill="#E8BF36"/><path d="M445.4 462.6L449.2 463.6L448.6 459.1L444.9 458.3Z" fill="#E8BF36"/><path d="M441.9 432.5L445.6 433L446.1 429.6L442.5 429.2Z" fill="#E8BF36"/><path d="M444.7 450.7L448.7 451.8L449.1 448.5L445.4 447.7Z" fill="#E8BF36"/><path d="M433.5 347.5L437.2 346.5L436.7 343.4L433.1 344.4Z" fill="#E8BF36"/><path d="M442.4 425.4L446.2 425.9L445.5 421.7L441.9 421.4Z" fill="#E8BF36"/><path d="M442 469.3L445.7 470.5L446.1 467.3L442.2 466Z" fill="#E8BF36"/><path d="M442.2 406.8L446 406.9L445.7 403.1L442 403.1Z" fill="#E8BF36"/><path d="M445.3 440.2L448.8 440.7L448.6 436.7L444.9 436.2Z" fill="#E8BF36"/><path d="M439.4 384.5L443 384.3L442.5 380.8L438.9 381.1Z" fill="#E8BF36"/><path d="M445 417.8L448.7 418.1L448.7 414.4L445.1 414.2Z" fill="#E8BF36"/><path d="M441.9 410.4L445.6 410.6L446 406.9L442.2 406.8Z" fill="#E8BF36"/><path d="M435.9 359.2L439.5 358.5L440.1 354.2L436.5 354.8Z" fill="#E8BF36"/><path d="M442.2 466L446.1 467.3L445.4 462.6L441.7 461.6Z" fill="#E8BF36"/><path d="M441.8 399.4L445.6 399.4L445.9 395.6L442.2 395.7Z" fill="#E8BF36"/><path d="M433 337.2L436.7 336L436.9 331.9L433.4 332.8Z" fill="#E8BF36"/><path d="M442 403.1L445.7 403.1L445.6 399.4L441.8 399.4Z" fill="#E8C32E"/><path d="M436.1 370L439.6 369.6L439.8 365.7L436 366.4Z" fill="#E8C32E"/><path d="M432.9 355.7L436.5 354.8L436.8 350.7L433.3 351.4Z" fill="#E8C32E"/><path d="M436 366.4L439.8 365.7L439.4 362.3L436 362.7Z" fill="#E8C32E"/><path d="M438.8 377.5L442.4 377.1L442.8 373.2L439.1 373.6Z" fill="#E8C32E"/><path d="M441.6 472.3L445.5 473.8L445.7 470.5L442 469.3Z" fill="#E8C32E"/><path d="M444.9 458.3L448.6 459.1L448.1 454.9L444.6 454.2Z" fill="#E8C32E"/><path d="M441.8 447L445.4 447.7L445.5 444.1L441.7 443.3Z" fill="#E8C32E"/><path d="M436 388.4L439.6 388.2L439.4 384.5L435.8 384.8Z" fill="#E8C32E"/><path d="M436 362.7L439.4 362.3L439.5 358.5L435.9 359.2Z" fill="#E8C32E"/><path d="M438.9 381.1L442.5 380.8L442.4 377.1L438.8 377.5Z" fill="#E8C32E"/><path d="M444.6 454.2L448.1 454.9L448.7 451.8L444.7 450.7Z" fill="#E8C32E"/><path d="M433.1 344.4L436.7 343.4L436.4 340.2L432.9 341.1Z" fill="#E8C32E"/><path d="M438.5 395.8L442.2 395.7L442.7 391.9L439.1 392Z" fill="#E8C32E"/><path d="M438.8 428.7L442.5 429.2L442.4 425.4L438.7 424.9Z" fill="#E8C32E"/><path d="M432.9 341.1L436.4 340.2L436.7 336L433 337.2Z" fill="#E8C32E"/><path d="M430.1 329.9L433.7 328.6L433.4 325.4L430 326.5Z" fill="#E8C32E"/><path d="M441.5 413.9L445.1 414.2L445.6 410.6L441.9 410.4Z" fill="#E8C32E"/><path d="M441.7 443.3L445.5 444.1L445.3 440.2L441.4 439.3Z" fill="#E8C32E"/><path d="M435.7 374L439.1 373.6L439.6 369.6L436.1 370Z" fill="#E8C32E"/><path d="M441.9 421.4L445.5 421.7L445 417.8L441.4 417.6Z" fill="#E8C32E"/><path d="M441.3 435.6L444.9 436.2L445.6 433L441.9 432.5Z" fill="#E8C32E"/><path d="M435.6 392.1L439.1 392L439.6 388.2L436 388.4Z" fill="#E8C32E"/><path d="M429.7 334.3L433.4 332.8L433.7 328.6L430.1 329.9Z" fill="#E8C32E"/><path d="M438.5 432L441.9 432.5L442.5 429.2L438.8 428.7Z" fill="#E8C727"/><path d="M441.7 461.6L445.4 462.6L444.9 458.3L441.2 457.3Z" fill="#E8C727"/><path d="M438.8 406.7L442.2 406.8L442 403.1L438.6 403Z" fill="#E8C727"/><path d="M441.3 450.1L444.7 450.7L445.4 447.7L441.8 447Z" fill="#E8C727"/><path d="M438.7 424.9L442.4 425.4L441.9 421.4L438.4 421.1Z" fill="#E8C727"/><path d="M429.7 352.4L433.3 351.4L433.5 347.5L429.9 348.5Z" fill="#E8C727"/><path d="M441.4 417.6L445 417.8L445.1 414.2L441.5 413.9Z" fill="#E8C727"/><path d="M441.4 439.3L445.3 440.2L444.9 436.2L441.3 435.6Z" fill="#E8C727"/><path d="M438.3 410.2L441.9 410.4L442.2 406.8L438.8 406.7Z" fill="#E8C727"/><path d="M435.8 384.8L439.4 384.5L438.9 381.1L435.4 381.4Z" fill="#E8C727"/><path d="M438.3 468L442 469.3L442.2 466L438.6 464.8Z" fill="#E8C727"/><path d="M429.9 348.5L433.5 347.5L433.1 344.4L429.6 345.3Z" fill="#E8C727"/><path d="M438.4 399.4L441.8 399.4L442.2 395.7L438.5 395.8Z" fill="#E8C727"/><path d="M432.5 359.8L435.9 359.2L436.5 354.8L432.9 355.7Z" fill="#E8C727"/><path d="M438.6 403L442 403.1L441.8 399.4L438.4 399.4Z" fill="#E8C727"/><path d="M438.6 464.8L442.2 466L441.7 461.6L438.1 460.5Z" fill="#E8C727"/><path d="M429.5 338.3L433 337.2L433.4 332.8L429.7 334.3Z" fill="#E8C727"/><path d="M432.6 370.5L436.1 370L436 366.4L432.5 366.9Z" fill="#E8C727"/><path d="M435.3 377.8L438.8 377.5L439.1 373.6L435.7 374Z" fill="#E8C727"/><path d="M432.5 366.9L436 366.4L436 362.7L432.5 363.4Z" fill="#E7CC1F"/><path d="M435.2 395.8L438.5 395.8L439.1 392L435.6 392.1Z" fill="#E7CC1F"/><path d="M429.4 356.4L432.9 355.7L433.3 351.4L429.7 352.4Z" fill="#E7CC1F"/><path d="M438.3 446.3L441.8 447L441.7 443.3L438.2 442.6Z" fill="#E7CC1F"/><path d="M441.2 457.3L444.9 458.3L444.6 454.2L440.8 453.1Z" fill="#E7CC1F"/><path d="M432.5 363.4L436 362.7L435.9 359.2L432.5 359.8Z" fill="#E7CC1F"/><path d="M438.1 471.2L441.6 472.3L442 469.3L438.3 468Z" fill="#E7CC1F"/><path d="M435.4 381.4L438.9 381.1L438.8 377.5L435.3 377.8Z" fill="#E7CC1F"/><path d="M440.8 453.1L444.6 454.2L444.7 450.7L441.3 450.1Z" fill="#E7CC1F"/><path d="M438.4 421.1L441.9 421.4L441.4 417.6L438 417.3Z" fill="#E7CC1F"/><path d="M438 413.7L441.5 413.9L441.9 410.4L438.3 410.2Z" fill="#E7CC1F"/><path d="M429.6 345.3L433.1 344.4L432.9 341.1L429.5 342Z" fill="#E7CC1F"/><path d="M432.5 388.6L436 388.4L435.8 384.8L432.2 385.1Z" fill="#E7CC1F"/><path d="M432.2 374.4L435.7 374L436.1 370L432.6 370.5Z" fill="#E7CC1F"/><path d="M435.2 428.1L438.8 428.7L438.7 424.9L435.2 424.5Z" fill="#E7CC1F"/><path d="M429.5 342L432.9 341.1L433 337.2L429.5 338.3Z" fill="#E7CC1F"/><path d="M437.8 435L441.3 435.6L441.9 432.5L438.5 432Z" fill="#E7CC1F"/><path d="M438.2 442.6L441.7 443.3L441.4 439.3L438 438.9Z" fill="#E7CC1F"/><path d="M426.6 331.2L430.1 329.9L430 326.5L426.6 327.8Z" fill="#E7CC1F"/><path d="M432.1 392.3L435.6 392.1L436 388.4L432.5 388.6Z" fill="#E7CC1F"/><path d="M435.3 406.6L438.8 406.7L438.6 403L435 403Z" fill="#E7CC1F"/><path d="M437.7 449.2L441.3 450.1L441.8 447L438.3 446.3Z" fill="#E7CC1F"/><path d="M426.5 335.1L429.7 334.3L430.1 329.9L426.6 331.2Z" fill="#E7CC1F"/><path d="M438 417.3L441.4 417.6L441.5 413.9L438 413.7Z" fill="#E7CC1F"/><path d="M435 410.1L438.3 410.2L438.8 406.7L435.3 406.6Z" fill="#E7CC1F"/><path d="M434.8 431.4L438.5 432L438.8 428.7L435.2 428.1Z" fill="#E7D217"/><path d="M438.1 460.5L441.7 461.6L441.2 457.3L437.7 456.3Z" fill="#E7D217"/><path d="M325.4 359.2L329.6 360L330.3 356.8L325.7 355.8Z" fill="#E7D217"/><path d="M435.2 424.5L438.7 424.9L438.4 421.1L434.8 420.7Z" fill="#E7D217"/><path d="M438 438.9L441.4 439.3L441.3 435.6L437.8 435Z" fill="#E7D217"/><path d="M326.2 363.3L330.1 363.8L329.6 360L325.4 359.2Z" fill="#E7D217"/><path d="M434.9 399.4L438.4 399.4L438.5 395.8L435.2 395.8Z" fill="#E7D217"/><path d="M432.2 385.1L435.8 384.8L435.4 381.4L432.1 381.6Z" fill="#E7D217"/><path d="M435 403L438.6 403L438.4 399.4L434.9 399.4Z" fill="#E7D217"/><path d="M426.4 353.2L429.7 352.4L429.9 348.5L426.5 349.5Z" fill="#E7D217"/><path d="M426.5 349.5L429.9 348.5L429.6 345.3L426.3 346.1Z" fill="#E7D217"/><path d="M434.7 466.8L438.3 468L438.6 464.8L434.9 463.6Z" fill="#E7D217"/><path d="M428.9 360.6L432.5 359.8L432.9 355.7L429.4 356.4Z" fill="#E7D217"/><path d="M431.9 378.2L435.3 377.8L435.7 374L432.2 374.4Z" fill="#E7D217"/><path d="M429.1 371L432.6 370.5L432.5 366.9L429.2 367.4Z" fill="#E7D217"/><path d="M426.2 339.3L429.5 338.3L429.7 334.3L426.5 335.1Z" fill="#E7D217"/><path d="M434.9 463.6L438.6 464.8L438.1 460.5L434.5 459.3Z" fill="#E7D217"/><path d="M429.2 367.4L432.5 366.9L432.5 363.4L429.1 364Z" fill="#E7D217"/><path d="M432.1 381.6L435.4 381.4L435.3 377.8L431.9 378.2Z" fill="#E6D80F"/><path d="M431.6 395.9L435.2 395.8L435.6 392.1L432.1 392.3Z" fill="#E6D80F"/><path d="M434.6 413.5L438 413.7L438.3 410.2L435 410.1Z" fill="#E6D80F"/><path d="M434.7 445.5L438.3 446.3L438.2 442.6L434.6 441.8Z" fill="#E6D80F"/><path d="M437.4 452.3L440.8 453.1L441.3 450.1L437.7 449.2Z" fill="#E6D80F"/><path d="M437.7 456.3L441.2 457.3L440.8 453.1L437.4 452.3Z" fill="#E6D80F"/><path d="M434.6 470L438.1 471.2L438.3 468L434.7 466.8Z" fill="#E6D80F"/><path d="M426.3 346.1L429.6 345.3L429.5 342L426.2 342.9Z" fill="#E6D80F"/><path d="M429.1 364L432.5 363.4L432.5 359.8L428.9 360.6Z" fill="#E6D80F"/><path d="M426.1 357.2L429.4 356.4L429.7 352.4L426.4 353.2Z" fill="#E6D80F"/><path d="M434.8 420.7L438.4 421.1L438 417.3L434.4 416.9Z" fill="#E6D80F"/><path d="M326.3 341.7L330.6 342.9L330.5 339.3L326.5 338.3Z" fill="#E6D80F"/><path d="M325.7 355.8L330.3 356.8L331.2 353.9L326.8 352.9Z" fill="#E6D80F"/><path d="M429.1 388.8L432.5 388.6L432.2 385.1L429 385.3Z" fill="#E6D80F"/><path d="M428.8 374.8L432.2 374.4L432.6 370.5L429.1 371Z" fill="#E6D80F"/><path d="M434.4 434.5L437.8 435L438.5 432L434.8 431.4Z" fill="#E6D80F"/><path d="M426.2 342.9L429.5 342L429.5 338.3L426.2 339.3Z" fill="#E6D80F"/><path d="M434.6 441.8L438.2 442.6L438 438.9L434.5 438.1Z" fill="#E6D80F"/><path d="M423.4 332.2L426.6 331.2L426.6 327.8L423.3 328.9Z" fill="#E6D80F"/><path d="M327 331.6L331.1 332.9L330.3 328.5L326.1 327.1Z" fill="#E6D80F"/><path d="M431.7 427.5L435.2 428.1L435.2 424.5L431.8 424.1Z" fill="#E6D80F"/><path d="M428.8 392.4L432.1 392.3L432.5 388.6L429.1 388.8Z" fill="#E6D80F"/><path d="M434.4 448.5L437.7 449.2L438.3 446.3L434.7 445.5Z" fill="#E6D80F"/><path d="M423.2 336.1L426.5 335.1L426.6 331.2L423.4 332.2Z" fill="#E6D80F"/><path d="M431.7 406.4L435.3 406.6L435 403L431.7 402.9Z" fill="#E6D80F"/><path d="M434.4 416.9L438 417.3L438 413.7L434.6 413.5Z" fill="#E6D80F"/><path d="M326.5 338.3L330.5 339.3L331.1 336.3L327 335.2Z" fill="#E6D80F"/><path d="M327.2 346L331.2 347L330.6 342.9L326.3 341.7Z" fill="#E6D80F"/><path d="M431.5 409.9L435 410.1L435.3 406.6L431.7 406.4Z" fill="#E6D80F"/><path d="M327.2 431.4L330.8 431.1L330.6 427.7L326.8 428Z" fill="#E6D80F"/><path d="M327.7 367.6L331.4 368L330.1 363.8L326.2 363.3Z" fill="#E6D80F"/><path d="M327.1 463.6L330.5 463L330.7 459.3L327.2 459.9Z" fill="#E6D80F"/><path d="M434.5 438.1L438 438.9L437.8 435L434.4 434.5Z" fill="#E6DF08"/><path d="M431.8 424.1L435.2 424.5L434.8 420.7L431.5 420.4Z" fill="#E6DF08"/><path d="M434.5 459.3L438.1 460.5L437.7 456.3L434.3 455.4Z" fill="#E6DF08"/><path d="M429 385.3L432.2 385.1L432.1 381.6L428.7 381.9Z" fill="#E6DF08"/><path d="M431.5 399.4L434.9 399.4L435.2 395.8L431.6 395.9Z" fill="#E6DF08"/><path d="M423.2 353.7L426.4 353.2L426.5 349.5L423.3 350.1Z" fill="#E6DF08"/><path d="M326.8 428L330.6 427.7L331.2 423.9L327.4 424.2Z" fill="#E6DF08"/><path d="M431.5 430.9L434.8 431.4L435.2 428.1L431.7 427.5Z" fill="#E6DF08"/><path d="M431.7 402.9L435 403L434.9 399.4L431.5 399.4Z" fill="#E6DF08"/><path d="M423.3 350.1L426.5 349.5L426.3 346.1L423.2 346.8Z" fill="#E6DF08"/><path d="M327 335.2L331.1 336.3L331.1 332.9L327 331.6Z" fill="#E6DF08"/><path d="M330.1 363.8L334.3 364.6L333.7 360.8L329.6 360Z" fill="#E6DF08"/><path d="M327.2 445.7L330.7 445.2L331.1 441.5L327.5 441.9Z" fill="#E6DF08"/><path d="M329.6 360L333.7 360.8L334.2 357.6L330.3 356.8Z" fill="#E6DF08"/><path d="M327.2 459.9L330.7 459.3L331.1 455.4L327.7 455.9Z" fill="#E6DF08"/><path d="M327.8 448.8L331.3 448.3L330.7 445.2L327.2 445.7Z" fill="#E6DF08"/><path d="M428.6 378.5L431.9 378.2L432.2 374.4L428.8 374.8Z" fill="#E6DF08"/><path d="M423 340.2L426.2 339.3L426.5 335.1L423.2 336.1Z" fill="#E6DF08"/><path d="M425.7 361.2L428.9 360.6L429.4 356.4L426.1 357.2Z" fill="#E6DF08"/><path d="M328.1 466.2L331.5 465.6L330.5 463L327.1 463.6Z" fill="#E6DF08"/><path d="M425.8 371.5L429.1 371L429.2 367.4L425.9 368Z" fill="#E6DF08"/><path d="M327.9 434.7L331.5 434.2L330.8 431.1L327.2 431.4Z" fill="#E6DF08"/><path d="M428.7 381.9L432.1 381.6L431.9 378.2L428.6 378.5Z" fill="#E6DF08"/><path d="M431.3 413.3L434.6 413.5L435 410.1L431.5 409.9Z" fill="#E6DF08"/><path d="M326.8 352.9L331.2 353.9L331.8 350.9L327.7 349.9Z" fill="#E6DF08"/><path d="M425.9 368L429.2 367.4L429.1 364L425.8 364.6Z" fill="#E6DF08"/><path d="M431.2 465.3L434.7 466.8L434.9 463.6L431.4 462.3Z" fill="#E6DF08"/><path d="M423 357.7L426.1 357.2L426.4 353.2L423.2 353.7Z" fill="#E6DF08"/><path d="M434 451.5L437.4 452.3L437.7 449.2L434.4 448.5Z" fill="#E6DF08"/><path d="M423.2 346.8L426.3 346.1L426.2 342.9L422.9 343.8Z" fill="#E6DF08"/><path d="M327.7 349.9L331.8 350.9L331.2 347L327.2 346Z" fill="#E6E600"/><path d="M420.4 332.8L423.4 332.2L423.3 328.9L420.3 329.7Z" fill="#E6E600"/><path d="M428.4 395.9L431.6 395.9L432.1 392.3L428.8 392.4Z" fill="#E6E600"/><path d="M434.3 455.4L437.7 456.3L437.4 452.3L434 451.5Z" fill="#E6E600"/><path d="M327.5 441.9L331.1 441.5L331.5 437.7L328 438.1Z" fill="#E6E600"/><path d="M327.8 413.5L331.5 413.3L331.3 409.9L327.6 410Z" fill="#E6E600"/><path d="M431.4 462.3L434.9 463.6L434.5 459.3L431.1 458.3Z" fill="#E6E600"/><path d="M431.5 420.4L434.8 420.7L434.4 416.9L431.2 416.7Z" fill="#E6E600"/><path d="M330.5 463L334.1 462.3L334.3 458.6L330.7 459.3Z" fill="#E6E600"/><path d="M431.2 444.6L434.7 445.5L434.6 441.8L431.3 441.1Z" fill="#E6E600"/><path d="M420.1 337L423.2 336.1L423.4 332.2L420.4 332.8Z" fill="#E6E600"/><path d="M425.8 364.6L429.1 364L428.9 360.6L425.7 361.2Z" fill="#E6E600"/><path d="M422.9 343.8L426.2 342.9L426.2 339.3L423 340.2Z" fill="#E6E600"/><path d="M425.8 389L429.1 388.8L429 385.3L425.6 385.6Z" fill="#E6E600"/><path d="M328 371.2L331.7 371.6L331.4 368L327.7 367.6Z" fill="#E6E600"/><path d="M327.7 455.9L331.1 455.4L331.7 451.5L328.2 452Z" fill="#E6E600"/><path d="M431 433.9L434.4 434.5L434.8 431.4L431.5 430.9Z" fill="#E6E600"/><path d="M328 438.1L331.5 437.7L331.5 434.2L327.9 434.7Z" fill="#E6E600"/><path d="M327.4 424.2L331.2 423.9L332 420.1L328.3 420.4Z" fill="#E6E600"/><path d="M328.2 452L331.7 451.5L331.3 448.3L327.8 448.8Z" fill="#E6E600"/><path d="M425.5 375.2L428.8 374.8L429.1 371L425.8 371.5Z" fill="#E6E600"/><path d="M330.8 431.1L334.6 430.6L334.2 427.3L330.6 427.7Z" fill="#E6E600"/><path d="M431.3 441.1L434.6 441.8L434.5 438.1L431.1 437.5Z" fill="#E6E600"/><path d="M431 468.5L434.6 470L434.7 466.8L431.2 465.3Z" fill="#E6E600"/><path d="M431.2 416.7L434.4 416.9L434.6 413.5L431.3 413.3Z" fill="#E6E600"/><path d="M428.4 427.1L431.7 427.5L431.8 424.1L428.4 423.7Z" fill="#E6E600"/><path d="M431 447.7L434.4 448.5L434.7 445.5L431.2 444.6Z" fill="#E6E600"/><path d="M330.6 342.9L334.7 344.1L334.8 340.7L330.5 339.3Z" fill="#E6E600"/><path d="M328.2 416.9L332.1 416.7L331.5 413.3L327.8 413.5Z" fill="#E6E600"/><path d="M420.1 354.4L423.2 353.7L423.3 350.1L420.2 350.7Z" fill="#E6E600"/><path d="M425.4 392.5L428.8 392.4L429.1 388.8L425.8 389Z" fill="#E6E600"/><path d="M330.7 445.2L334.3 444.6L334.7 440.9L331.1 441.5Z" fill="#E6E600"/><path d="M330.3 356.8L334.2 357.6L335.2 354.8L331.2 353.9Z" fill="#E6E600"/><path d="M330.6 427.7L334.2 427.3L334.9 423.5L331.2 423.9Z" fill="#E6E600"/><path d="M330.7 459.3L334.3 458.6L334.8 454.7L331.1 455.4Z" fill="#E6E600"/><path d="M420.2 350.7L423.3 350.1L423.2 346.8L420.1 347.6Z" fill="#E6E600"/><path d="M331.5 465.6L334.9 464.9L334.1 462.3L330.5 463Z" fill="#E6E600"/><path d="M428.4 406.3L431.7 406.4L431.7 402.9L428.2 402.8Z" fill="#E6E600"/><path d="M331.4 368L335.4 368.6L334.3 364.6L330.1 363.8Z" fill="#E6E600"/><path d="M431.1 437.5L434.5 438.1L434.4 434.5L431 433.9Z" fill="#E6E600"/><path d="M428.4 423.7L431.8 424.1L431.5 420.4L428.2 420Z" fill="#E6E600"/><path d="M331.3 448.3L335 447.6L334.3 444.6L330.7 445.2Z" fill="#DBE300"/><path d="M425.6 385.6L429 385.3L428.7 381.9L425.5 382.2Z" fill="#DBE300"/><path d="M428.2 409.7L431.5 409.9L431.7 406.4L428.4 406.3Z" fill="#DBE300"/><path d="M331.1 332.9L335.3 334.3L334.5 330.1L330.3 328.5Z" fill="#DBE300"/><path d="M327.6 410L331.3 409.9L332.4 406.3L329 406.3Z" fill="#DBE300"/><path d="M431.1 458.3L434.5 459.3L434.3 455.4L431 454.5Z" fill="#DBE300"/><path d="M330.5 339.3L334.8 340.7L335.1 337.6L331.1 336.3Z" fill="#DBE300"/><path d="M328.5 374.9L332.4 375.3L331.7 371.6L328 371.2Z" fill="#DBE300"/><path d="M428.2 399.4L431.5 399.4L431.6 395.9L428.4 395.9Z" fill="#DBE300"/><path d="M328.3 420.4L332 420.1L332.1 416.7L328.2 416.9Z" fill="#DBE300"/><path d="M428.2 430.3L431.5 430.9L431.7 427.5L428.4 427.1Z" fill="#DBE300"/><path d="M331.2 347L335.2 347.9L334.7 344.1L330.6 342.9Z" fill="#DBE300"/><path d="M417.4 333.5L420.4 332.8L420.3 329.7L417.3 330.3Z" fill="#DBE300"/><path d="M428.2 402.8L431.7 402.9L431.5 399.4L428.2 399.4Z" fill="#DBE300"/><path d="M333.7 360.8L337.4 361.3L337.7 358.1L334.2 357.6Z" fill="#DBE300"/><path d="M419.9 341L423 340.2L423.2 336.1L420.1 337Z" fill="#DBE300"/><path d="M422.6 361.7L425.7 361.2L426.1 357.2L423 357.7Z" fill="#DBE300"/><path d="M329.1 468.7L332.5 468L331.5 465.6L328.1 466.2Z" fill="#DBE300"/><path d="M331.5 434.2L335.2 433.7L334.6 430.6L330.8 431.1Z" fill="#DBE300"/><path d="M331.1 441.5L334.7 440.9L334.9 437.3L331.5 437.7Z" fill="#DBE300"/><path d="M334.3 364.6L338 365.1L337.4 361.3L333.7 360.8Z" fill="#DBE300"/><path d="M425.3 378.8L428.6 378.5L428.8 374.8L425.5 375.2Z" fill="#DBE300"/><path d="M417.2 337.6L420.1 337L420.4 332.8L417.4 333.5Z" fill="#DBE300"/><path d="M420.1 347.6L423.2 346.8L422.9 343.8L419.9 344.4Z" fill="#DBE300"/><path d="M419.8 358.4L423 357.7L423.2 353.7L420.1 354.4Z" fill="#DBE300"/><path d="M331.1 336.3L335.1 337.6L335.3 334.3L331.1 332.9Z" fill="#DBE300"/><path d="M425.5 382.2L428.7 381.9L428.6 378.5L425.3 378.8Z" fill="#DBE300"/><path d="M334.1 462.3L337.7 461.4L337.9 457.8L334.3 458.6Z" fill="#DBE300"/><path d="M422.6 372L425.8 371.5L425.9 368L422.7 368.4Z" fill="#DBE300"/><path d="M331.1 455.4L334.8 454.7L335.3 450.8L331.7 451.5Z" fill="#DBE300"/><path d="M422.7 368.4L425.9 368L425.8 364.6L422.7 365.1Z" fill="#DBE300"/><path d="M331.5 437.7L334.9 437.3L335.2 433.7L331.5 434.2Z" fill="#DBE300"/><path d="M430.7 450.6L434 451.5L434.4 448.5L431 447.7Z" fill="#DBE300"/><path d="M427.9 413L431.3 413.3L431.5 409.9L428.2 409.7Z" fill="#DBE300"/><path d="M331.5 413.3L335.3 413.1L335.2 409.7L331.3 409.9Z" fill="#DBE300"/><path d="M331.7 451.5L335.3 450.8L335 447.6L331.3 448.3Z" fill="#DBE300"/><path d="M419.9 344.4L422.9 343.8L423 340.2L419.9 341Z" fill="#DBE300"/><path d="M431 454.5L434.3 455.4L434 451.5L430.7 450.6Z" fill="#D2E100"/><path d="M422.7 365.1L425.8 364.6L425.7 361.2L422.6 361.7Z" fill="#D2E100"/><path d="M334.6 430.6L338.2 430.2L337.7 427L334.2 427.3Z" fill="#D2E100"/><path d="M331.2 423.9L334.9 423.5L335.6 419.9L332 420.1Z" fill="#D2E100"/><path d="M425.2 396L428.4 395.9L428.8 392.4L425.4 392.5Z" fill="#D2E100"/><path d="M428.2 420L431.5 420.4L431.2 416.7L427.8 416.4Z" fill="#D2E100"/><path d="M417.1 354.9L420.1 354.4L420.2 350.7L417.2 351.2Z" fill="#D2E100"/><path d="M331.7 371.6L335.4 372.1L335.4 368.6L331.4 368Z" fill="#D2E100"/><path d="M331.2 353.9L335.2 354.8L335.8 351.8L331.8 350.9Z" fill="#D2E100"/><path d="M331.8 350.9L335.8 351.8L335.2 347.9L331.2 347Z" fill="#D2E100"/><path d="M427.9 464.2L431.2 465.3L431.4 462.3L428.1 461.1Z" fill="#D2E100"/><path d="M334.9 464.9L338.3 464.2L337.7 461.4L334.1 462.3Z" fill="#D2E100"/><path d="M417.2 351.2L420.2 350.7L420.1 347.6L417.1 348.1Z" fill="#D2E100"/><path d="M334.3 444.6L337.9 444.1L338.2 440.4L334.7 440.9Z" fill="#D2E100"/><path d="M422.7 389.1L425.8 389L425.6 385.6L422.5 385.8Z" fill="#D2E100"/><path d="M427.8 433.4L431 433.9L431.5 430.9L428.2 430.3Z" fill="#D2E100"/><path d="M428.1 461.1L431.4 462.3L431.1 458.3L427.8 457.2Z" fill="#D2E100"/><path d="M422.5 375.5L425.5 375.2L425.8 371.5L422.6 372Z" fill="#D2E100"/><path d="M334.2 427.3L337.7 427L338.5 423.2L334.9 423.5Z" fill="#D2E100"/><path d="M334.3 458.6L337.9 457.8L338.4 453.9L334.8 454.7Z" fill="#D2E100"/><path d="M335 447.6L338.2 447.2L337.9 444.1L334.3 444.6Z" fill="#D2E100"/><path d="M332.1 416.7L335.6 416.4L335.3 413.1L331.5 413.3Z" fill="#D2E100"/><path d="M414.4 334.3L417.4 333.5L417.3 330.3L414.4 331Z" fill="#D2E100"/><path d="M427.9 443.7L431.2 444.6L431.3 441.1L427.9 440.3Z" fill="#D2E100"/><path d="M334.2 357.6L337.7 358.1L338.5 355.2L335.2 354.8Z" fill="#D2E100"/><path d="M332.5 468L335.9 467.3L334.9 464.9L331.5 465.6Z" fill="#D2E100"/><path d="M427.9 440.3L431.3 441.1L431.1 437.5L427.9 436.9Z" fill="#D2E100"/><path d="M427.8 416.4L431.2 416.7L431.3 413.3L427.9 413Z" fill="#D2E100"/><path d="M334.7 344.1L338.1 344.6L338.2 341.3L334.8 340.7Z" fill="#D2E100"/><path d="M422.4 392.6L425.4 392.5L425.8 389L422.7 389.1Z" fill="#D2E100"/><path d="M417.1 341.4L419.9 341L420.1 337L417.2 337.6Z" fill="#D2E100"/><path d="M425.1 426.6L428.4 427.1L428.4 423.7L425.1 423.2Z" fill="#D2E100"/><path d="M331.3 409.9L335.2 409.7L336.1 406.2L332.4 406.3Z" fill="#D2E100"/><path d="M337.4 361.3L340.8 361.7L341.1 358.6L337.7 358.1Z" fill="#D2E100"/><path d="M332 420.1L335.6 419.9L335.6 416.4L332.1 416.7Z" fill="#D2E100"/><path d="M427.9 436.9L431.1 437.5L431 433.9L427.8 433.4Z" fill="#D2E100"/><path d="M414.3 338.4L417.2 337.6L417.4 333.5L414.4 334.3Z" fill="#D2E100"/><path d="M332.4 375.3L336 375.7L335.4 372.1L331.7 371.6Z" fill="#D2E100"/><path d="M335.2 433.7L338.5 433.4L338.2 430.2L334.6 430.6Z" fill="#C8DF00"/><path d="M427.7 446.8L431 447.7L431.2 444.6L427.9 443.7Z" fill="#C8DF00"/><path d="M334.7 440.9L338.2 440.4L338.6 436.7L334.9 437.3Z" fill="#C8DF00"/><path d="M427.7 467.1L431 468.5L431.2 465.3L427.9 464.2Z" fill="#C8DF00"/><path d="M419.6 362.1L422.6 361.7L423 357.7L419.8 358.4Z" fill="#C8DF00"/><path d="M417.1 348.1L420.1 347.6L419.9 344.4L417 345.1Z" fill="#C8DF00"/><path d="M335.4 368.6L338.9 369L338 365.1L334.3 364.6Z" fill="#C8DF00"/><path d="M330.1 378.9L333.7 379.2L332.4 375.3L328.5 374.9Z" fill="#C8DF00"/><path d="M422.5 385.8L425.6 385.6L425.5 382.2L422.3 382.5Z" fill="#C8DF00"/><path d="M425.2 406.2L428.4 406.3L428.2 402.8L425 402.8Z" fill="#C8DF00"/><path d="M425 409.6L428.2 409.7L428.4 406.3L425.2 406.2Z" fill="#C8DF00"/><path d="M338 365.1L341.3 365.5L340.8 361.7L337.4 361.3Z" fill="#C8DF00"/><path d="M425.1 399.4L428.2 399.4L428.4 395.9L425.2 396Z" fill="#C8DF00"/><path d="M335.3 334.3L338.7 335L338.2 331L334.5 330.1Z" fill="#C8DF00"/><path d="M334.8 340.7L338.2 341.3L338.6 338.3L335.1 337.6Z" fill="#C8DF00"/><path d="M335.2 347.9L338.8 348.7L338.1 344.6L334.7 344.1Z" fill="#C8DF00"/><path d="M334.8 454.7L338.4 453.9L338.4 450.4L335.3 450.8Z" fill="#C8DF00"/><path d="M335.3 450.8L338.4 450.4L338.2 447.2L335 447.6Z" fill="#C8DF00"/><path d="M425 429.8L428.2 430.3L428.4 427.1L425.1 426.6Z" fill="#C8DF00"/><path d="M425.1 423.2L428.4 423.7L428.2 420L424.9 419.6Z" fill="#C8DF00"/><path d="M416.9 358.8L419.8 358.4L420.1 354.4L417.1 354.9Z" fill="#C8DF00"/><path d="M417 345.1L419.9 344.4L419.9 341L417.1 341.4Z" fill="#C8DF00"/><path d="M337.7 461.4L341.2 460.6L341.3 457.1L337.9 457.8Z" fill="#C8DF00"/><path d="M334.9 437.3L338.6 436.7L338.5 433.4L335.2 433.7Z" fill="#C8DF00"/><path d="M422.3 379.1L425.3 378.8L425.5 375.2L422.5 375.5Z" fill="#C8DF00"/><path d="M427.8 457.2L431.1 458.3L431 454.5L427.5 453.3Z" fill="#C8DF00"/><path d="M425 402.8L428.2 402.8L428.2 399.4L425.1 399.4Z" fill="#C8DF00"/><path d="M419.7 368.8L422.7 368.4L422.7 365.1L419.7 365.5Z" fill="#C8DF00"/><path d="M419.6 372.3L422.6 372L422.7 368.4L419.7 368.8Z" fill="#C8DF00"/><path d="M329 406.3L332.4 406.3L333.9 402.8L330.5 402.8Z" fill="#C8DF00"/><path d="M335.3 413.1L338.7 413L338.5 409.6L335.2 409.7Z" fill="#C8DF00"/><path d="M335.1 337.6L338.6 338.3L338.7 335L335.3 334.3Z" fill="#C8DF00"/><path d="M419.7 365.5L422.7 365.1L422.6 361.7L419.6 362.1Z" fill="#C8DF00"/><path d="M338.2 430.2L341.5 429.9L341.2 426.6L337.7 427Z" fill="#C8DF00"/><path d="M422.3 382.5L425.5 382.2L425.3 378.8L422.3 379.1Z" fill="#C8DF00"/><path d="M414.2 355.4L417.1 354.9L417.2 351.2L414.2 352Z" fill="#C8DF00"/><path d="M337.9 444.1L341.1 443.6L341.5 440L338.2 440.4Z" fill="#C8DF00"/><path d="M414.2 352L417.2 351.2L417.1 348.1L414.2 348.7Z" fill="#C8DF00"/><path d="M411.6 334.9L414.4 334.3L414.4 331L411.5 331.7Z" fill="#C8DF00"/><path d="M334.9 423.5L338.5 423.2L339.1 419.6L335.6 419.9Z" fill="#C8DF00"/><path d="M338.2 447.2L341.7 446.6L341.1 443.6L337.9 444.1Z" fill="#C8DF00"/><path d="M338.3 464.2L341.9 463.2L341.2 460.6L337.7 461.4Z" fill="#C8DF00"/><path d="M337.7 427L341.2 426.6L341.7 423L338.5 423.2Z" fill="#C8DF00"/><path d="M414.2 342L417.1 341.4L417.2 337.6L414.3 338.4Z" fill="#C8DF00"/><path d="M337.9 457.8L341.3 457.1L341.7 453.3L338.4 453.9Z" fill="#C8DF00"/><path d="M419.6 389.2L422.7 389.1L422.5 385.8L419.6 385.9Z" fill="#BEDD00"/><path d="M337.7 358.1L341.1 358.6L341.9 355.8L338.5 355.2Z" fill="#BEDD00"/><path d="M422.2 396L425.2 396L425.4 392.5L422.4 392.6Z" fill="#BEDD00"/><path d="M335.9 467.3L339.4 466.4L338.3 464.2L334.9 464.9Z" fill="#BEDD00"/><path d="M419.5 375.8L422.5 375.5L422.6 372L419.6 372.3Z" fill="#BEDD00"/><path d="M427.4 449.6L430.7 450.6L431 447.7L427.7 446.8Z" fill="#BEDD00"/><path d="M335.6 416.4L339 416.3L338.7 413L335.3 413.1Z" fill="#BEDD00"/><path d="M424.8 412.8L427.9 413L428.2 409.7L425 409.6Z" fill="#BEDD00"/><path d="M335.2 354.8L338.5 355.2L339.2 352.4L335.8 351.8Z" fill="#BEDD00"/><path d="M338.1 344.6L341.5 345.3L341.7 342.1L338.2 341.3Z" fill="#BEDD00"/><path d="M335.4 372.1L339 372.4L338.9 369L335.4 368.6Z" fill="#BEDD00"/><path d="M335.8 351.8L339.2 352.4L338.8 348.7L335.2 347.9Z" fill="#BEDD00"/><path d="M340.8 361.7L344.2 362.2L344.5 359L341.1 358.6Z" fill="#BEDD00"/><path d="M427.5 453.3L431 454.5L430.7 450.6L427.4 449.6Z" fill="#BEDD00"/><path d="M335.2 409.7L338.5 409.6L339.3 406.1L336.1 406.2Z" fill="#BEDD00"/><path d="M411.4 339.1L414.3 338.4L414.4 334.3L411.6 334.9Z" fill="#BEDD00"/><path d="M419.4 392.7L422.4 392.6L422.7 389.1L419.6 389.2Z" fill="#BEDD00"/><path d="M414.2 348.7L417.1 348.1L417 345.1L414.1 345.6Z" fill="#BEDD00"/><path d="M338.5 433.4L341.9 433L341.5 429.9L338.2 430.2Z" fill="#BEDD00"/><path d="M424.7 463L427.9 464.2L428.1 461.1L424.9 460.1Z" fill="#BEDD00"/><path d="M335.6 419.9L339.1 419.6L339 416.3L335.6 416.4Z" fill="#BEDD00"/><path d="M424.6 432.8L427.8 433.4L428.2 430.3L425 429.8Z" fill="#BEDD00"/><path d="M424.9 419.6L428.2 420L427.8 416.4L424.7 416.1Z" fill="#BEDD00"/><path d="M414.1 359.1L416.9 358.8L417.1 354.9L414.2 355.4Z" fill="#BEDD00"/><path d="M341.3 365.5L344.6 365.8L344.2 362.2L340.8 361.7Z" fill="#BEDD00"/><path d="M338.2 440.4L341.5 440L341.9 436.3L338.6 436.7Z" fill="#BEDD00"/><path d="M414.1 345.6L417 345.1L417.1 341.4L414.2 342Z" fill="#BEDD00"/><path d="M338.4 450.4L342 449.7L341.7 446.6L338.2 447.2Z" fill="#BEDD00"/><path d="M424.9 460.1L428.1 461.1L427.8 457.2L424.7 456.2Z" fill="#BEDD00"/><path d="M338.9 369L342.1 369.3L341.3 365.5L338 365.1Z" fill="#BEDD00"/><path d="M416.7 362.6L419.6 362.1L419.8 358.4L416.9 358.8Z" fill="#BEDD00"/><path d="M338.4 453.9L341.7 453.3L342 449.7L338.4 450.4Z" fill="#BEDD00"/><path d="M338.2 341.3L341.7 342.1L342 339.1L338.6 338.3Z" fill="#BEDD00"/><path d="M338.8 348.7L342.1 349.2L341.5 345.3L338.1 344.6Z" fill="#BEDD00"/><path d="M338.7 335L342.2 335.9L341.6 331.9L338.2 331Z" fill="#BEDD00"/><path d="M419.6 385.9L422.5 385.8L422.3 382.5L419.4 382.7Z" fill="#BEDD00"/><path d="M336 375.7L339.5 376L339 372.4L335.4 372.1Z" fill="#BEDD00"/><path d="M333.7 379.2L337.1 379.4L336 375.7L332.4 375.3Z" fill="#BEDD00"/><path d="M338.7 413L341.9 412.8L341.7 409.5L338.5 409.6Z" fill="#BEDD00"/><path d="M341.2 460.6L344.5 459.9L344.6 456.4L341.3 457.1Z" fill="#BEDD00"/><path d="M416.8 372.5L419.6 372.3L419.7 368.8L416.8 369.1Z" fill="#BEDD00"/><path d="M416.8 369.1L419.7 368.8L419.7 365.5L416.7 365.9Z" fill="#BEDD00"/><path d="M338.6 436.7L341.9 436.3L341.9 433L338.5 433.4Z" fill="#BEDD00"/><path d="M424.6 442.8L427.9 443.7L427.9 440.3L424.8 439.7Z" fill="#BEDD00"/><path d="M424.7 416.1L427.8 416.4L427.9 413L424.8 412.8Z" fill="#BEDD00"/><path d="M424.8 439.7L427.9 440.3L427.9 436.9L424.6 436.1Z" fill="#BEDD00"/><path d="M422 426.2L425.1 426.6L425.1 423.2L422.1 422.9Z" fill="#BEDD00"/><path d="M422 399.4L425.1 399.4L425.2 396L422.2 396Z" fill="#BEDD00"/><path d="M419.3 379.4L422.3 379.1L422.5 375.5L419.5 375.8Z" fill="#BEDD00"/><path d="M422.1 406.1L425.2 406.2L425 402.8L422 402.7Z" fill="#B5DB00"/><path d="M332.4 406.3L336.1 406.2L337.4 402.7L333.9 402.8Z" fill="#B5DB00"/><path d="M422 409.4L425 409.6L425.2 406.2L422.1 406.1Z" fill="#B5DB00"/><path d="M341.1 443.6L344.7 443L344.8 439.6L341.5 440Z" fill="#B5DB00"/><path d="M411.4 355.9L414.2 355.4L414.2 352L411.4 352.4Z" fill="#B5DB00"/><path d="M424.6 436.1L427.9 436.9L427.8 433.4L424.6 432.8Z" fill="#B5DB00"/><path d="M341.5 429.9L344.9 429.4L344.5 426.3L341.2 426.6Z" fill="#B5DB00"/><path d="M416.7 365.9L419.7 365.5L419.6 362.1L416.7 362.6Z" fill="#B5DB00"/><path d="M338.6 338.3L342 339.1L342.2 335.9L338.7 335Z" fill="#B5DB00"/><path d="M411.4 352.4L414.2 352L414.2 348.7L411.4 349.2Z" fill="#B5DB00"/><path d="M422 402.7L425 402.8L425.1 399.4L422 399.4Z" fill="#B5DB00"/><path d="M338.5 423.2L341.7 423L342.3 419.4L339.1 419.6Z" fill="#B5DB00"/><path d="M422.1 422.9L425.1 423.2L424.9 419.6L421.9 419.4Z" fill="#B5DB00"/><path d="M419.4 382.7L422.3 382.5L422.3 379.1L419.3 379.4Z" fill="#B5DB00"/><path d="M341.7 446.6L345 446.1L344.7 443L341.1 443.6Z" fill="#B5DB00"/><path d="M424.4 465.7L427.7 467.1L427.9 464.2L424.7 463Z" fill="#B5DB00"/><path d="M408.7 335.9L411.6 334.9L411.5 331.7L408.6 332.9Z" fill="#B5DB00"/><path d="M341.9 463.2L345 462.7L344.5 459.9L341.2 460.6Z" fill="#B5DB00"/><path d="M411.3 342.8L414.2 342L414.3 338.4L411.4 339.1Z" fill="#B5DB00"/><path d="M341.3 457.1L344.6 456.4L345 452.6L341.7 453.3Z" fill="#B5DB00"/><path d="M341.1 358.6L344.5 359L345.1 356.2L341.9 355.8Z" fill="#B5DB00"/><path d="M416.6 376.1L419.5 375.8L419.6 372.3L416.8 372.5Z" fill="#B5DB00"/><path d="M341.2 426.6L344.5 426.3L345.2 422.6L341.7 423Z" fill="#B5DB00"/><path d="M421.8 429.3L425 429.8L425.1 426.6L422 426.2Z" fill="#B5DB00"/><path d="M341.5 345.3L344.7 345.8L344.8 342.6L341.7 342.1Z" fill="#B5DB00"/><path d="M339 416.3L342.5 416L341.9 412.8L338.7 413Z" fill="#B5DB00"/><path d="M424.4 445.8L427.7 446.8L427.9 443.7L424.6 442.8Z" fill="#B5DB00"/><path d="M339.4 466.4L342.5 465.8L341.9 463.2L338.3 464.2Z" fill="#B5DB00"/><path d="M338.5 355.2L341.9 355.8L342.5 352.9L339.2 352.4Z" fill="#B5DB00"/><path d="M416.7 389.4L419.6 389.2L419.6 385.9L416.6 386.1Z" fill="#B5DB00"/><path d="M419.2 396.1L422.2 396L422.4 392.6L419.4 392.7Z" fill="#B5DB00"/><path d="M338.5 409.6L341.7 409.5L342.7 406L339.3 406.1Z" fill="#B5DB00"/><path d="M330.5 402.8L333.9 402.8L334.5 399.4L331.4 399.4Z" fill="#B5DB00"/><path d="M344.2 362.2L347.4 362.6L347.7 359.4L344.5 359Z" fill="#B5DB00"/><path d="M411.4 349.2L414.2 348.7L414.1 345.6L411.3 346.1Z" fill="#B5DB00"/><path d="M411.3 359.5L414.1 359.1L414.2 355.4L411.4 355.9Z" fill="#B5DB00"/><path d="M339 372.4L342.4 372.8L342.1 369.3L338.9 369Z" fill="#B5DB00"/><path d="M408.6 339.6L411.4 339.1L411.6 334.9L408.7 335.9Z" fill="#B5DB00"/><path d="M413.9 362.9L416.7 362.6L416.9 358.8L414.1 359.1Z" fill="#B5DB00"/><path d="M339.2 352.4L342.5 352.9L342.1 349.2L338.8 348.7Z" fill="#B5DB00"/><path d="M424.7 456.2L427.8 457.2L427.5 453.3L424.4 452.3Z" fill="#B5DB00"/><path d="M344.6 365.8L347.7 366.1L347.4 362.6L344.2 362.2Z" fill="#B5DB00"/><path d="M341.5 440L344.8 439.6L345.2 435.9L341.9 436.3Z" fill="#B5DB00"/><path d="M342.1 369.3L345.3 369.6L344.6 365.8L341.3 365.5Z" fill="#B5DB00"/><path d="M341.9 433L345.1 432.7L344.9 429.4L341.5 429.9Z" fill="#B5DB00"/><path d="M411.3 346.1L414.1 345.6L414.2 342L411.3 342.8Z" fill="#B5DB00"/><path d="M339.1 419.6L342.3 419.4L342.5 416L339 416.3Z" fill="#ACD800"/><path d="M342.1 349.2L345.3 349.7L344.7 345.8L341.5 345.3Z" fill="#ACD800"/><path d="M416.5 392.8L419.4 392.7L419.6 389.2L416.7 389.4Z" fill="#ACD800"/><path d="M341.7 342.1L344.8 342.6L345.2 339.7L342 339.1Z" fill="#ACD800"/><path d="M421.7 412.6L424.8 412.8L425 409.6L422 409.4Z" fill="#ACD800"/><path d="M342.2 335.9L345.2 336.3L344.8 332.5L341.6 331.9Z" fill="#ACD800"/><path d="M416.6 386.1L419.6 385.9L419.4 382.7L416.5 382.8Z" fill="#ACD800"/><path d="M344.5 459.9L347.6 459.4L347.7 456L344.6 456.4Z" fill="#ACD800"/><path d="M332 382.8L335.4 383L333.7 379.2L330.1 378.9Z" fill="#ACD800"/><path d="M413.9 372.8L416.8 372.5L416.8 369.1L413.9 369.5Z" fill="#ACD800"/><path d="M341.9 412.8L345.2 412.7L345.2 409.4L341.7 409.5Z" fill="#ACD800"/><path d="M342 449.7L345.3 449.1L345 446.1L341.7 446.6Z" fill="#ACD800"/><path d="M413.9 369.5L416.8 369.1L416.7 365.9L413.9 366.2Z" fill="#ACD800"/><path d="M341.7 453.3L345 452.6L345.3 449.1L342 449.7Z" fill="#ACD800"/><path d="M421.9 419.4L424.9 419.6L424.7 416.1L421.8 415.9Z" fill="#ACD800"/><path d="M341.9 436.3L345.2 435.9L345.1 432.7L341.9 433Z" fill="#ACD800"/><path d="M416.5 379.5L419.3 379.4L419.5 375.8L416.6 376.1Z" fill="#ACD800"/><path d="M339.5 376L342.6 376.2L342.4 372.8L339 372.4Z" fill="#ACD800"/><path d="M337.1 379.4L340.4 379.6L339.5 376L336 375.7Z" fill="#ACD800"/><path d="M424.4 449L427.4 449.6L427.7 446.8L424.4 445.8Z" fill="#ACD800"/><path d="M413.9 366.2L416.7 365.9L416.7 362.6L413.9 362.9Z" fill="#ACD800"/><path d="M344.9 429.4L347.9 429.2L347.6 426.1L344.5 426.3Z" fill="#ACD800"/><path d="M344.7 443L347.8 442.6L347.9 439.2L344.8 439.6Z" fill="#ACD800"/><path d="M342 339.1L345.2 339.7L345.2 336.3L342.2 335.9Z" fill="#ACD800"/><path d="M408.6 356.4L411.4 355.9L411.4 352.4L408.6 353Z" fill="#ACD800"/><path d="M344.7 345.8L347.9 346.3L347.8 342.9L344.8 342.6Z" fill="#ACD800"/><path d="M419.1 399.4L422 399.4L422.2 396L419.2 396.1Z" fill="#ACD800"/><path d="M421.7 462.1L424.7 463L424.9 460.1L421.8 459Z" fill="#ACD800"/><path d="M424.4 452.3L427.5 453.3L427.4 449.6L424.4 449Z" fill="#ACD800"/><path d="M336.1 406.2L339.3 406.1L340.6 402.7L337.4 402.7Z" fill="#ACD800"/><path d="M421.6 432.3L424.6 432.8L425 429.8L421.8 429.3Z" fill="#ACD800"/><path d="M419.2 406L422.1 406.1L422 402.7L419.1 402.7Z" fill="#ACD800"/><path d="M408.6 353L411.4 352.4L411.4 349.2L408.6 349.8Z" fill="#ACD800"/><path d="M416.5 382.8L419.4 382.7L419.3 379.4L416.5 379.5Z" fill="#ACD800"/><path d="M419.1 409.3L422 409.4L422.1 406.1L419.2 406Z" fill="#ACD800"/><path d="M421.8 459L424.9 460.1L424.7 456.2L421.6 455.3Z" fill="#ACD800"/><path d="M421.8 415.9L424.7 416.1L424.8 412.8L421.7 412.6Z" fill="#ACD800"/><path d="M413.8 376.3L416.6 376.1L416.8 372.5L413.9 372.8Z" fill="#ACD800"/><path d="M408.6 343.2L411.3 342.8L411.4 339.1L408.6 339.6Z" fill="#ACD800"/><path d="M345 462.7L348.3 461.8L347.6 459.4L344.5 459.9Z" fill="#ACD800"/><path d="M419.1 425.8L422 426.2L422.1 422.9L419.1 422.6Z" fill="#ACD800"/><path d="M344.5 359L347.7 359.4L348.3 356.6L345.1 356.2Z" fill="#ACD800"/><path d="M344.5 426.3L347.6 426.1L348.2 422.5L345.2 422.6Z" fill="#ACD800"/><path d="M347.4 362.6L350.5 362.9L350.6 359.7L347.7 359.4Z" fill="#ACD800"/><path d="M344.6 456.4L347.7 456L348.2 452.1L345 452.6Z" fill="#ACD800"/><path d="M421.7 442.3L424.6 442.8L424.8 439.7L421.8 439.1Z" fill="#ACD800"/><path d="M341.7 423L345.2 422.6L345.7 419.1L342.3 419.4Z" fill="#ACD800"/><path d="M345 446.1L348.2 445.5L347.8 442.6L344.7 443Z" fill="#ACD800"/><path d="M341.9 355.8L345.1 356.2L345.5 353.2L342.5 352.9Z" fill="#ACD800"/><path d="M347.7 366.1L350.7 366.3L350.5 362.9L347.4 362.6Z" fill="#ACD800"/><path d="M342.5 465.8L345.7 465.2L345 462.7L341.9 463.2Z" fill="#ACD800"/><path d="M421.8 439.1L424.8 439.7L424.6 436.1L421.6 435.6Z" fill="#ACD800"/><path d="M331.4 399.4L334.5 399.4L335.1 396.1L331.7 396.1Z" fill="#ACD800"/><path d="M342.5 416L345.6 415.9L345.2 412.7L341.9 412.8Z" fill="#ACD800"/><path d="M411.1 363.2L413.9 362.9L414.1 359.1L411.3 359.5Z" fill="#ACD800"/><path d="M344.8 342.6L347.8 342.9L348 339.9L345.2 339.7Z" fill="#ACD800"/><path d="M342.4 372.8L345.3 372.9L345.3 369.6L342.1 369.3Z" fill="#ACD800"/><path d="M413.9 389.5L416.7 389.4L416.6 386.1L413.8 386.2Z" fill="#A2D600"/><path d="M419.1 402.7L422 402.7L422 399.4L419.1 399.4Z" fill="#A2D600"/><path d="M345.3 369.6L348.3 369.8L347.7 366.1L344.6 365.8Z" fill="#A2D600"/><path d="M342.5 352.9L345.5 353.2L345.3 349.7L342.1 349.2Z" fill="#A2D600"/><path d="M341.7 409.5L345.2 409.4L345.8 406L342.7 406Z" fill="#A2D600"/><path d="M419.1 422.6L422.1 422.9L421.9 419.4L419 419.1Z" fill="#A2D600"/><path d="M333.9 402.8L337.4 402.7L338 399.4L334.5 399.4Z" fill="#A2D600"/><path d="M345.3 349.7L348.2 350L347.9 346.3L344.7 345.8Z" fill="#A2D600"/><path d="M345.2 336.3L348.3 337L347.8 333L344.8 332.5Z" fill="#A2D600"/><path d="M408.6 349.8L411.4 349.2L411.3 346.1L408.5 346.8Z" fill="#A2D600"/><path d="M416.3 396.1L419.2 396.1L419.4 392.7L416.5 392.8Z" fill="#A2D600"/><path d="M345.1 432.7L348.2 432.3L347.9 429.2L344.9 429.4Z" fill="#A2D600"/><path d="M408.5 360L411.3 359.5L411.4 355.9L408.6 356.4Z" fill="#A2D600"/><path d="M347.6 459.4L350.6 459L350.8 455.4L347.7 456Z" fill="#A2D600"/><path d="M405.9 336.8L408.7 335.9L408.6 332.9L405.9 333.5Z" fill="#A2D600"/><path d="M344.8 439.6L347.9 439.2L348.3 435.6L345.2 435.9Z" fill="#A2D600"/><path d="M421.6 435.6L424.6 436.1L424.6 432.8L421.6 432.3Z" fill="#A2D600"/><path d="M408.5 346.8L411.3 346.1L411.3 342.8L408.6 343.2Z" fill="#A2D600"/><path d="M413.8 392.8L416.5 392.8L416.7 389.4L413.9 389.5Z" fill="#A2D600"/><path d="M347.9 429.2L350.8 429.1L350.6 425.9L347.6 426.1Z" fill="#A2D600"/><path d="M419 428.9L421.8 429.3L422 426.2L419.1 425.8Z" fill="#A2D600"/><path d="M405.9 340.4L408.6 339.6L408.7 335.9L405.9 336.8Z" fill="#A2D600"/><path d="M342.6 376.2L345.7 376.4L345.3 372.9L342.4 372.8Z" fill="#A2D600"/><path d="M342.3 419.4L345.7 419.1L345.6 415.9L342.5 416Z" fill="#A2D600"/><path d="M347.8 442.6L350.7 442.3L350.8 438.9L347.9 439.2Z" fill="#A2D600"/><path d="M345.2 339.7L348 339.9L348.3 337L345.2 336.3Z" fill="#A2D600"/><path d="M413.8 386.2L416.6 386.1L416.5 382.8L413.7 383Z" fill="#A2D600"/><path d="M345.3 449.1L348.3 448.7L348.2 445.5L345 446.1Z" fill="#A2D600"/><path d="M421.5 464.7L424.4 465.7L424.7 463L421.7 462.1Z" fill="#A2D600"/><path d="M347.9 346.3L350.7 346.6L351 343.5L347.8 342.9Z" fill="#A2D600"/><path d="M345 452.6L348.2 452.1L348.3 448.7L345.3 449.1Z" fill="#A2D600"/><path d="M419 412.5L421.7 412.6L422 409.4L419.1 409.3Z" fill="#A2D600"/><path d="M411.1 366.5L413.9 366.2L413.9 362.9L411.1 363.2Z" fill="#A2D600"/><path d="M345.2 435.9L348.3 435.6L348.2 432.3L345.1 432.7Z" fill="#A2D600"/><path d="M411.1 369.8L413.9 369.5L413.9 366.2L411.1 366.5Z" fill="#A2D600"/><path d="M421.5 445.2L424.4 445.8L424.6 442.8L421.7 442.3Z" fill="#A2D600"/><path d="M411.1 373.1L413.9 372.8L413.9 369.5L411.1 369.8Z" fill="#A2D600"/><path d="M340.4 379.6L343.4 379.8L342.6 376.2L339.5 376Z" fill="#A2D600"/><path d="M413.7 379.8L416.5 379.5L416.6 376.1L413.8 376.3Z" fill="#A2D600"/><path d="M347.6 426.1L350.6 425.9L351.1 422.3L348.2 422.5Z" fill="#A2D600"/><path d="M345.2 412.7L348.5 412.5L348.2 409.3L345.2 409.4Z" fill="#A2D600"/><path d="M331.7 396.1L335.1 396.1L335.5 392.9L332.3 392.8Z" fill="#A2D600"/><path d="M350.5 362.9L353.5 363.2L353.6 360L350.6 359.7Z" fill="#A2D600"/><path d="M335.4 383L338.8 383.2L337.1 379.4L333.7 379.2Z" fill="#A2D600"/><path d="M347.7 456L350.8 455.4L351 451.9L348.2 452.1Z" fill="#A2D600"/><path d="M348.3 461.8L351.2 461.5L350.6 459L347.6 459.4Z" fill="#A2D600"/><path d="M347.7 359.4L350.6 359.7L351.3 357L348.3 356.6Z" fill="#A2D600"/><path d="M348.2 445.5L351.1 445.3L350.7 442.3L347.8 442.6Z" fill="#A2D600"/><path d="M339.3 406.1L342.7 406L343.7 402.7L340.6 402.7Z" fill="#A2D600"/><path d="M421.6 455.3L424.7 456.2L424.4 452.3L421.4 451.6Z" fill="#A2D600"/><path d="M347.8 342.9L351 343.5L351.1 340.4L348 339.9Z" fill="#A2D600"/><path d="M345.1 356.2L348.3 356.6L348.5 353.6L345.5 353.2Z" fill="#99D400"/><path d="M345.3 372.9L348.5 373.2L348.3 369.8L345.3 369.6Z" fill="#99D400"/><path d="M348.2 350L351.1 350.3L350.7 346.6L347.9 346.3Z" fill="#99D400"/><path d="M413.7 383L416.5 382.8L416.5 379.5L413.7 379.8Z" fill="#99D400"/><path d="M348.3 369.8L351.3 370.1L350.7 366.3L347.7 366.1Z" fill="#99D400"/><path d="M416.4 406L419.2 406L419.1 402.7L416.3 402.7Z" fill="#99D400"/><path d="M419 419.1L421.9 419.4L421.8 415.9L418.8 415.7Z" fill="#99D400"/><path d="M350.7 366.3L353.9 366.8L353.5 363.2L350.5 362.9Z" fill="#99D400"/><path d="M345.5 353.2L348.5 353.6L348.2 350L345.3 349.7Z" fill="#99D400"/><path d="M416.3 399.4L419.1 399.4L419.2 396.1L416.3 396.1Z" fill="#99D400"/><path d="M348.3 337L351.2 337.3L350.8 333.4L347.8 333Z" fill="#99D400"/><path d="M350.6 459L353.6 458.6L353.6 455.2L350.8 455.4Z" fill="#99D400"/><path d="M345.2 422.6L348.2 422.5L348.6 419L345.7 419.1Z" fill="#99D400"/><path d="M347.9 439.2L350.8 438.9L351.1 435.4L348.3 435.6Z" fill="#99D400"/><path d="M416.3 409.2L419.1 409.3L419.2 406L416.4 406Z" fill="#99D400"/><path d="M405.9 356.9L408.6 356.4L408.6 353L405.9 353.5Z" fill="#99D400"/><path d="M348.2 432.3L351.3 432L350.8 429.1L347.9 429.2Z" fill="#99D400"/><path d="M345.7 465.2L348.7 464.6L348.3 461.8L345 462.7Z" fill="#99D400"/><path d="M405.8 344.1L408.6 343.2L408.6 339.6L405.9 340.4Z" fill="#99D400"/><path d="M405.9 353.5L408.6 353L408.6 349.8L405.9 350.4Z" fill="#99D400"/><path d="M345.6 415.9L348.6 415.8L348.5 412.5L345.2 412.7Z" fill="#99D400"/><path d="M411 376.6L413.8 376.3L413.9 372.8L411.1 373.1Z" fill="#99D400"/><path d="M416.3 425.5L419.1 425.8L419.1 422.6L416.3 422.4Z" fill="#99D400"/><path d="M350.8 429.1L353.9 428.8L353.6 425.7L350.6 425.9Z" fill="#99D400"/><path d="M345.2 409.4L348.2 409.3L348.8 405.9L345.8 406Z" fill="#99D400"/><path d="M334.5 399.4L338 399.4L338.4 396.1L335.1 396.1Z" fill="#99D400"/><path d="M418.8 415.7L421.8 415.9L421.7 412.6L419 412.5Z" fill="#99D400"/><path d="M421.4 448.2L424.4 449L424.4 445.8L421.5 445.2Z" fill="#99D400"/><path d="M350.7 442.3L353.6 442.1L353.8 438.6L350.8 438.9Z" fill="#99D400"/><path d="M416.3 402.7L419.1 402.7L419.1 399.4L416.3 399.4Z" fill="#99D400"/><path d="M418.8 431.9L421.6 432.3L421.8 429.3L419 428.9Z" fill="#99D400"/><path d="M348 339.9L351.1 340.4L351.2 337.3L348.3 337Z" fill="#99D400"/><path d="M411.1 389.6L413.9 389.5L413.8 386.2L411 386.4Z" fill="#99D400"/><path d="M408.4 363.8L411.1 363.2L411.3 359.5L408.5 360Z" fill="#99D400"/><path d="M345.7 376.4L348.8 376.6L348.5 373.2L345.3 372.9Z" fill="#99D400"/><path d="M413.6 396.2L416.3 396.1L416.5 392.8L413.8 392.8Z" fill="#99D400"/><path d="M348.2 452.1L351 451.9L351.3 448.3L348.3 448.7Z" fill="#99D400"/><path d="M421.4 451.6L424.4 452.3L424.4 449L421.4 448.2Z" fill="#99D400"/><path d="M350.6 425.9L353.6 425.7L354 422.2L351.1 422.3Z" fill="#99D400"/><path d="M350.7 346.6L353.8 347.1L353.8 343.8L351 343.5Z" fill="#99D400"/><path d="M337.4 402.7L340.6 402.7L341.1 399.4L338 399.4Z" fill="#99D400"/><path d="M418.8 441.7L421.7 442.3L421.8 439.1L418.8 438.5Z" fill="#99D400"/><path d="M345.7 419.1L348.6 419L348.6 415.8L345.6 415.9Z" fill="#99D400"/><path d="M418.8 438.5L421.8 439.1L421.6 435.6L418.8 435.3Z" fill="#99D400"/><path d="M348.3 435.6L351.1 435.4L351.3 432L348.2 432.3Z" fill="#99D400"/><path d="M348.3 448.7L351.3 448.3L351.1 445.3L348.2 445.5Z" fill="#99D400"/><path d="M416.3 422.4L419.1 422.6L419 419.1L416.1 418.9Z" fill="#99D400"/><path d="M351.1 445.3L353.9 445L353.6 442.1L350.7 442.3Z" fill="#99D400"/><path d="M350.6 359.7L353.6 360L353.9 357L351.3 357Z" fill="#99D400"/><path d="M403.2 337.4L405.9 336.8L405.9 333.5L403.2 334.2Z" fill="#99D400"/><path d="M350.8 455.4L353.6 455.2L354 451.5L351 451.9Z" fill="#99D400"/><path d="M418.7 461.1L421.7 462.1L421.8 459L418.8 458.1Z" fill="#99D400"/><path d="M351.2 461.5L354.1 461.1L353.6 458.6L350.6 459Z" fill="#99D400"/><path d="M405.9 350.4L408.6 349.8L408.5 346.8L405.8 347.4Z" fill="#99D400"/><path d="M410.9 392.9L413.8 392.8L413.9 389.5L411.1 389.6Z" fill="#99D400"/><path d="M343.4 379.8L346.5 380L345.7 376.4L342.6 376.2Z" fill="#99D400"/><path d="M405.8 347.4L408.5 346.8L408.6 343.2L405.8 344.1Z" fill="#99D400"/><path d="M353.6 458.6L356.4 458.2L356.5 454.8L353.6 455.2Z" fill="#99D400"/><path d="M353.5 363.2L356.4 363.5L356.6 360.4L353.6 360Z" fill="#99D400"/><path d="M418.8 458.1L421.8 459L421.6 455.3L418.7 454.4Z" fill="#99D400"/><path d="M348.5 412.5L351.3 412.4L351.2 409.2L348.2 409.3Z" fill="#99D400"/><path d="M348.2 422.5L351.1 422.3L351.4 418.9L348.6 419Z" fill="#99D400"/><path d="M351.1 350.3L354.1 350.7L353.8 347.1L350.7 346.6Z" fill="#99D400"/><path d="M418.8 435.3L421.6 435.6L421.6 432.3L418.8 431.9Z" fill="#99D400"/><path d="M350.8 438.9L353.8 438.6L354 435.2L351.1 435.4Z" fill="#99D400"/><path d="M405.8 360.6L408.5 360L408.6 356.4L405.9 356.9Z" fill="#99D400"/><path d="M348.5 353.6L351.5 353.9L351.1 350.3L348.2 350Z" fill="#91D200"/><path d="M403.2 340.9L405.9 340.4L405.9 336.8L403.2 337.4Z" fill="#91D200"/><path d="M416.1 428.5L419 428.9L419.1 425.8L416.3 425.5Z" fill="#91D200"/><path d="M351.2 337.3L354.2 337.8L353.7 333.9L350.8 333.4Z" fill="#91D200"/><path d="M348.5 373.2L351.4 373.4L351.3 370.1L348.3 369.8Z" fill="#91D200"/><path d="M408.4 370.1L411.1 369.8L411.1 366.5L408.4 366.9Z" fill="#91D200"/><path d="M342.7 406L345.8 406L346.6 402.6L343.7 402.7Z" fill="#91D200"/><path d="M348.3 356.6L351.3 357L351.5 353.9L348.5 353.6Z" fill="#91D200"/><path d="M351 343.5L353.8 343.8L354.1 341L351.1 340.4Z" fill="#91D200"/><path d="M416.1 412.3L419 412.5L419.1 409.3L416.3 409.2Z" fill="#91D200"/><path d="M332.3 392.8L335.5 392.9L336.2 389.7L333.1 389.6Z" fill="#91D200"/><path d="M351.3 370.1L354.1 370.2L353.9 366.8L350.7 366.3Z" fill="#91D200"/><path d="M333.3 386.4L336.4 386.5L335.4 383L332 382.8Z" fill="#91D200"/><path d="M411 386.4L413.8 386.2L413.7 383L411 383.2Z" fill="#91D200"/><path d="M353.9 366.8L356.7 366.9L356.4 363.5L353.5 363.2Z" fill="#91D200"/><path d="M408.4 373.5L411.1 373.1L411.1 369.8L408.4 370.1Z" fill="#91D200"/><path d="M335.1 396.1L338.4 396.1L338.6 392.9L335.5 392.9Z" fill="#91D200"/><path d="M351.3 432L354.2 431.8L353.9 428.8L350.8 429.1Z" fill="#91D200"/><path d="M338.8 383.2L341.8 383.4L340.4 379.6L337.1 379.4Z" fill="#91D200"/><path d="M353.6 442.1L356.5 441.8L356.6 438.4L353.8 438.6Z" fill="#91D200"/><path d="M408.4 366.9L411.1 366.5L411.1 363.2L408.4 363.8Z" fill="#91D200"/><path d="M410.9 380L413.7 379.8L413.8 376.3L411 376.6Z" fill="#91D200"/><path d="M348.6 415.8L351.4 415.7L351.3 412.4L348.5 412.5Z" fill="#91D200"/><path d="M348.7 464.6L351.7 464.1L351.2 461.5L348.3 461.8Z" fill="#91D200"/><path d="M418.6 444.6L421.5 445.2L421.7 442.3L418.8 441.7Z" fill="#91D200"/><path d="M348.2 409.3L351.2 409.2L351.7 405.9L348.8 405.9Z" fill="#91D200"/><path d="M353.9 428.8L356.7 428.6L356.5 425.5L353.6 425.7Z" fill="#91D200"/><path d="M351 451.9L354 451.5L354.1 448.1L351.3 448.3Z" fill="#91D200"/><path d="M354.1 461.1L356.7 461L356.4 458.2L353.6 458.6Z" fill="#91D200"/><path d="M353.6 455.2L356.5 454.8L356.7 451.4L354 451.5Z" fill="#91D200"/><path d="M351.3 448.3L354.1 448.1L353.9 445L351.1 445.3Z" fill="#91D200"/><path d="M348.6 419L351.4 418.9L351.4 415.7L348.6 415.8Z" fill="#91D200"/><path d="M348.8 376.6L351.5 376.6L351.4 373.4L348.5 373.2Z" fill="#91D200"/><path d="M351.1 435.4L354 435.2L354.2 431.8L351.3 432Z" fill="#91D200"/><path d="M353.6 425.7L356.5 425.5L356.8 422.1L354 422.2Z" fill="#91D200"/><path d="M413.5 405.9L416.4 406L416.3 402.7L413.5 402.6Z" fill="#91D200"/><path d="M351.1 340.4L354.1 341L354.2 337.8L351.2 337.3Z" fill="#91D200"/><path d="M353.9 445L356.9 444.6L356.5 441.8L353.6 442.1Z" fill="#91D200"/><path d="M351.3 412.4L354.1 412.4L354 409.2L351.2 409.2Z" fill="#91D200"/><path d="M413.5 399.4L416.3 399.4L416.3 396.1L413.6 396.2Z" fill="#91D200"/><path d="M418.6 463.8L421.5 464.7L421.7 462.1L418.7 461.1Z" fill="#91D200"/><path d="M338 399.4L341.1 399.4L341.3 396.2L338.4 396.1Z" fill="#91D200"/><path d="M353.8 347.1L356.7 347.5L356.7 344.3L353.8 343.8Z" fill="#91D200"/><path d="M411 383.2L413.7 383L413.7 379.8L410.9 380Z" fill="#91D200"/><path d="M403.2 354L405.9 353.5L405.9 350.4L403.2 350.8Z" fill="#91D200"/><path d="M353.6 360L356.6 360.4L357 357.5L353.9 357Z" fill="#91D200"/><path d="M403.2 344.5L405.8 344.1L405.9 340.4L403.2 340.9Z" fill="#91D200"/><path d="M403.2 357.4L405.9 356.9L405.9 353.5L403.2 354Z" fill="#91D200"/><path d="M413.5 402.6L416.3 402.7L416.3 399.4L413.5 399.4Z" fill="#91D200"/><path d="M416.1 418.9L419 419.1L418.8 415.7L416 415.5Z" fill="#91D200"/><path d="M340.6 402.7L343.7 402.7L344.1 399.4L341.1 399.4Z" fill="#91D200"/><path d="M351.1 422.3L354 422.2L354.4 418.7L351.4 418.9Z" fill="#91D200"/><path d="M351.4 373.4L354.1 373.4L354.1 370.2L351.3 370.1Z" fill="#91D200"/><path d="M346.5 380L349.3 380.1L348.8 376.6L345.7 376.4Z" fill="#91D200"/><path d="M413.4 409L416.3 409.2L416.4 406L413.5 405.9Z" fill="#91D200"/><path d="M356.4 458.2L359.3 457.8L359.5 454.3L356.5 454.8Z" fill="#91D200"/><path d="M351.3 357L353.9 357L354.3 354.2L351.5 353.9Z" fill="#91D200"/><path d="M353.8 438.6L356.6 438.4L356.9 434.9L354 435.2Z" fill="#91D200"/><path d="M408.3 376.9L411 376.6L411.1 373.1L408.4 373.5Z" fill="#91D200"/><path d="M351.5 353.9L354.3 354.2L354.1 350.7L351.1 350.3Z" fill="#91D200"/><path d="M418.7 454.4L421.6 455.3L421.4 451.6L418.5 450.8Z" fill="#91D200"/><path d="M413.5 425.2L416.3 425.5L416.3 422.4L413.5 422Z" fill="#91D200"/><path d="M416 415.5L418.8 415.7L419 412.5L416.1 412.3Z" fill="#91D200"/><path d="M356.4 363.5L359.3 363.7L359.5 360.7L356.6 360.4Z" fill="#91D200"/><path d="M410.9 396.2L413.6 396.2L413.8 392.8L410.9 392.9Z" fill="#88D000"/><path d="M351.4 415.7L354.3 415.6L354.1 412.4L351.3 412.4Z" fill="#88D000"/><path d="M408.4 389.7L411.1 389.6L411 386.4L408.3 386.5Z" fill="#88D000"/><path d="M356.7 366.9L359.5 367.1L359.3 363.7L356.4 363.5Z" fill="#88D000"/><path d="M353.8 343.8L356.7 344.3L357 341.4L354.1 341Z" fill="#88D000"/><path d="M354.1 350.7L357 351.1L356.7 347.5L353.8 347.1Z" fill="#88D000"/><path d="M354 451.5L356.7 451.4L356.9 447.8L354.1 448.1Z" fill="#88D000"/><path d="M354.2 337.8L357.1 338.3L356.7 334.5L353.7 333.9Z" fill="#88D000"/><path d="M351.7 464.1L354.4 463.9L354.1 461.1L351.2 461.5Z" fill="#88D000"/><path d="M356.7 461L359.6 460.6L359.3 457.8L356.4 458.2Z" fill="#88D000"/><path d="M354.2 431.8L356.9 431.7L356.7 428.6L353.9 428.8Z" fill="#88D000"/><path d="M400.6 338.1L403.2 337.4L403.2 334.2L400.6 334.9Z" fill="#88D000"/><path d="M345.8 406L348.8 405.9L349.5 402.6L346.6 402.6Z" fill="#88D000"/><path d="M333.1 389.6L336.2 389.7L336.4 386.5L333.3 386.4Z" fill="#88D000"/><path d="M415.9 431.5L418.8 431.9L419 428.9L416.1 428.5Z" fill="#88D000"/><path d="M351.5 376.6L354.4 376.8L354.1 373.4L351.4 373.4Z" fill="#88D000"/><path d="M403.2 350.8L405.9 350.4L405.8 347.4L403.2 347.9Z" fill="#88D000"/><path d="M354.1 412.4L356.9 412.3L356.8 409.1L354 409.2Z" fill="#88D000"/><path d="M413.5 422L416.3 422.4L416.1 418.9L413.4 418.7Z" fill="#88D000"/><path d="M351.2 409.2L354 409.2L354.6 405.8L351.7 405.9Z" fill="#88D000"/><path d="M356.5 441.8L359.4 441.4L359.6 438.1L356.6 438.4Z" fill="#88D000"/><path d="M354.1 370.2L357.2 370.5L356.7 366.9L353.9 366.8Z" fill="#88D000"/><path d="M405.7 364.1L408.4 363.8L408.5 360L405.8 360.6Z" fill="#88D000"/><path d="M354.1 448.1L356.9 447.8L356.9 444.6L353.9 445Z" fill="#88D000"/><path d="M335.5 392.9L338.6 392.9L339.3 389.8L336.2 389.7Z" fill="#88D000"/><path d="M418.5 447.5L421.4 448.2L421.5 445.2L418.6 444.6Z" fill="#88D000"/><path d="M338.4 396.1L341.3 396.2L341.6 393L338.6 392.9Z" fill="#88D000"/><path d="M356.7 428.6L359.6 428.4L359.4 425.3L356.5 425.5Z" fill="#88D000"/><path d="M351.4 418.9L354.4 418.7L354.3 415.6L351.4 415.7Z" fill="#88D000"/><path d="M403.2 347.9L405.8 347.4L405.8 344.1L403.2 344.5Z" fill="#88D000"/><path d="M356.5 425.5L359.4 425.3L359.5 422L356.8 422.1Z" fill="#88D000"/><path d="M356.5 454.8L359.5 454.3L359.7 450.8L356.7 451.4Z" fill="#88D000"/><path d="M354 435.2L356.9 434.9L356.9 431.7L354.2 431.8Z" fill="#88D000"/><path d="M416 441.2L418.8 441.7L418.8 438.5L416 438.1Z" fill="#88D000"/><path d="M341.8 383.4L344.8 383.5L343.4 379.8L340.4 379.6Z" fill="#88D000"/><path d="M416 438.1L418.8 438.5L418.8 435.3L415.9 434.7Z" fill="#88D000"/><path d="M400.6 341.6L403.2 340.9L403.2 337.4L400.6 338.1Z" fill="#88D000"/><path d="M408.3 393L410.9 392.9L411.1 389.6L408.4 389.7Z" fill="#88D000"/><path d="M356.9 444.6L359.6 444.4L359.4 441.4L356.5 441.8Z" fill="#88D000"/><path d="M418.5 450.8L421.4 451.6L421.4 448.2L418.5 447.5Z" fill="#88D000"/><path d="M341.1 399.4L344.1 399.4L344.1 396.2L341.3 396.2Z" fill="#88D000"/><path d="M405.7 373.7L408.4 373.5L408.4 370.1L405.7 370.4Z" fill="#88D000"/><path d="M349.3 380.1L352.1 380.2L351.5 376.6L348.8 376.6Z" fill="#88D000"/><path d="M354 422.2L356.8 422.1L357.1 418.7L354.4 418.7Z" fill="#88D000"/><path d="M354.1 341L357 341.4L357.1 338.3L354.2 337.8Z" fill="#88D000"/><path d="M413.4 428.3L416.1 428.5L416.3 425.5L413.5 425.2Z" fill="#88D000"/><path d="M408.3 386.5L411 386.4L411 383.2L408.3 383.4Z" fill="#88D000"/><path d="M405.7 370.4L408.4 370.1L408.4 366.9L405.7 367.3Z" fill="#88D000"/><path d="M403.1 361L405.8 360.6L405.9 356.9L403.2 357.4Z" fill="#88D000"/><path d="M336.4 386.5L339.6 386.6L338.8 383.2L335.4 383Z" fill="#88D000"/><path d="M415.9 460.1L418.7 461.1L418.8 458.1L416 457.4Z" fill="#88D000"/><path d="M415.9 434.7L418.8 435.3L418.8 431.9L415.9 431.5Z" fill="#88D000"/><path d="M354.4 463.9L357.2 463.5L356.7 461L354.1 461.1Z" fill="#88D000"/><path d="M356.7 347.5L359.6 347.9L359.6 344.7L356.7 344.3Z" fill="#88D000"/><path d="M354.3 415.6L357.1 415.5L356.9 412.3L354.1 412.4Z" fill="#88D000"/><path d="M359.3 457.8L362.1 457.4L362.1 454.2L359.5 454.3Z" fill="#88D000"/><path d="M413.4 412.2L416.1 412.3L416.3 409.2L413.4 409Z" fill="#88D000"/><path d="M354.1 373.4L357.1 373.7L357.2 370.5L354.1 370.2Z" fill="#88D000"/><path d="M416 457.4L418.8 458.1L418.7 454.4L415.9 453.7Z" fill="#88D000"/><path d="M343.7 402.7L346.6 402.6L347 399.4L344.1 399.4Z" fill="#88D000"/><path d="M353.9 357L357 357.5L357.3 354.6L354.3 354.2Z" fill="#88D000"/><path d="M356.6 438.4L359.6 438.1L359.7 434.7L356.9 434.9Z" fill="#88D000"/><path d="M354 409.2L356.8 409.1L357.3 405.8L354.6 405.8Z" fill="#88D000"/><path d="M356.9 431.7L359.7 431.5L359.6 428.4L356.7 428.6Z" fill="#88D000"/><path d="M408.2 380.2L410.9 380L411 376.6L408.3 376.9Z" fill="#88D000"/><path d="M405.7 367.3L408.4 366.9L408.4 363.8L405.7 364.1Z" fill="#88D000"/><path d="M356.7 451.4L359.7 450.8L359.7 447.6L356.9 447.8Z" fill="#88D000"/><path d="M356.6 360.4L359.5 360.7L359.9 357.8L357 357.5Z" fill="#88D000"/><path d="M354.3 354.2L357.3 354.6L357 351.1L354.1 350.7Z" fill="#7FCD00"/><path d="M354.4 376.8L357.2 376.9L357.1 373.7L354.1 373.4Z" fill="#7FCD00"/><path d="M410.8 399.4L413.5 399.4L413.6 396.2L410.9 396.2Z" fill="#7FCD00"/><path d="M356.9 447.8L359.7 447.6L359.6 444.4L356.9 444.6Z" fill="#7FCD00"/><path d="M415.8 444.1L418.6 444.6L418.8 441.7L416 441.2Z" fill="#7FCD00"/><path d="M357 351.1L359.9 351.4L359.6 347.9L356.7 347.5Z" fill="#7FCD00"/><path d="M348.8 405.9L351.7 405.9L352.4 402.6L349.5 402.6Z" fill="#7FCD00"/><path d="M356.7 344.3L359.6 344.7L359.8 341.8L357 341.4Z" fill="#7FCD00"/><path d="M354.4 418.7L357.1 418.7L357.1 415.5L354.3 415.6Z" fill="#7FCD00"/><path d="M410.8 405.8L413.5 405.9L413.5 402.6L410.8 402.6Z" fill="#7FCD00"/><path d="M413.4 418.7L416.1 418.9L416 415.5L413.3 415.4Z" fill="#7FCD00"/><path d="M356.9 412.3L359.8 412.2L359.7 409L356.8 409.1Z" fill="#7FCD00"/><path d="M359.6 460.6L362.5 460L362.1 457.4L359.3 457.8Z" fill="#7FCD00"/><path d="M341.3 396.2L344.1 396.2L344.6 393L341.6 393Z" fill="#7FCD00"/><path d="M400.6 354.6L403.2 354L403.2 350.8L400.6 351.5Z" fill="#7FCD00"/><path d="M357.1 338.3L359.9 338.7L359.6 335.1L356.7 334.5Z" fill="#7FCD00"/><path d="M359.3 363.7L362.4 364.2L362.3 360.9L359.5 360.7Z" fill="#7FCD00"/><path d="M408.3 383.4L411 383.2L410.9 380L408.2 380.2Z" fill="#7FCD00"/><path d="M400.6 345.3L403.2 344.5L403.2 340.9L400.6 341.6Z" fill="#7FCD00"/><path d="M356.9 434.9L359.7 434.7L359.7 431.5L356.9 431.7Z" fill="#7FCD00"/><path d="M357.2 370.5L360 370.7L359.5 367.1L356.7 366.9Z" fill="#7FCD00"/><path d="M405.7 377.1L408.3 376.9L408.4 373.5L405.7 373.7Z" fill="#7FCD00"/><path d="M359.4 441.4L362.2 441.2L362.4 437.8L359.6 438.1Z" fill="#7FCD00"/><path d="M400.6 357.9L403.2 357.4L403.2 354L400.6 354.6Z" fill="#7FCD00"/><path d="M356.8 422.1L359.5 422L360 418.5L357.1 418.7Z" fill="#7FCD00"/><path d="M359.5 367.1L362.4 367.4L362.4 364.2L359.3 363.7Z" fill="#7FCD00"/><path d="M410.8 402.6L413.5 402.6L413.5 399.4L410.8 399.4Z" fill="#7FCD00"/><path d="M359.6 428.4L362.4 428.2L362.3 425L359.4 425.3Z" fill="#7FCD00"/><path d="M336.2 389.7L339.3 389.8L339.6 386.6L336.4 386.5Z" fill="#7FCD00"/><path d="M359.5 454.3L362.1 454.2L362.5 450.5L359.7 450.8Z" fill="#7FCD00"/><path d="M357.2 463.5L360 463.1L359.6 460.6L356.7 461Z" fill="#7FCD00"/><path d="M344.8 383.5L347.6 383.6L346.5 380L343.4 379.8Z" fill="#7FCD00"/><path d="M352.1 380.2L355 380.3L354.4 376.8L351.5 376.6Z" fill="#7FCD00"/><path d="M338.6 392.9L341.6 393L342.4 389.9L339.3 389.8Z" fill="#7FCD00"/><path d="M413.3 415.4L416 415.5L416.1 412.3L413.4 412.2Z" fill="#7FCD00"/><path d="M359.6 444.4L362.6 443.9L362.2 441.2L359.4 441.4Z" fill="#7FCD00"/><path d="M410.7 409L413.4 409L413.5 405.9L410.8 405.8Z" fill="#7FCD00"/><path d="M359.4 425.3L362.3 425L362.6 421.7L359.5 422Z" fill="#7FCD00"/><path d="M405.7 389.8L408.4 389.7L408.3 386.5L405.7 386.7Z" fill="#7FCD00"/><path d="M344.1 399.4L347 399.4L347.3 396.2L344.1 396.2Z" fill="#7FCD00"/><path d="M398.1 338.6L400.6 338.1L400.6 334.9L398.1 335.7Z" fill="#7FCD00"/><path d="M408.2 396.2L410.9 396.2L410.9 392.9L408.3 393Z" fill="#7FCD00"/><path d="M357 341.4L359.8 341.8L359.9 338.7L357.1 338.3Z" fill="#7FCD00"/><path d="M415.7 462.9L418.6 463.8L418.7 461.1L415.9 460.1Z" fill="#7FCD00"/><path d="M400.6 351.5L403.2 350.8L403.2 347.9L400.6 348.5Z" fill="#7FCD00"/><path d="M357.1 415.5L360 415.3L359.8 412.2L356.9 412.3Z" fill="#7FCD00"/><path d="M346.6 402.6L349.5 402.6L349.9 399.4L347 399.4Z" fill="#7FCD00"/><path d="M415.9 453.7L418.7 454.4L418.5 450.8L415.8 450.3Z" fill="#7FCD00"/><path d="M403.1 364.5L405.7 364.1L405.8 360.6L403.1 361Z" fill="#7FCD00"/><path d="M410.7 424.9L413.5 425.2L413.5 422L410.7 421.7Z" fill="#7FCD00"/><path d="M413.2 431.1L415.9 431.5L416.1 428.5L413.4 428.3Z" fill="#7FCD00"/><path d="M398.1 342.2L400.6 341.6L400.6 338.1L398.1 338.6Z" fill="#7FCD00"/><path d="M356.8 409.1L359.7 409L360.2 405.7L357.3 405.8Z" fill="#7FCD00"/><path d="M400.6 348.5L403.2 347.9L403.2 344.5L400.6 345.3Z" fill="#7FCD00"/><path d="M359.6 347.9L362.5 348.3L362.5 345.3L359.6 344.7Z" fill="#7FCD00"/><path d="M359.7 431.5L362.6 431.2L362.4 428.2L359.6 428.4Z" fill="#7FCD00"/><path d="M357 357.5L359.9 357.8L360 354.8L357.3 354.6Z" fill="#7FCD00"/><path d="M357.3 354.6L360 354.8L359.9 351.4L357 351.1Z" fill="#7FCD00"/><path d="M410.7 421.7L413.5 422L413.4 418.7L410.7 418.4Z" fill="#7FCD00"/><path d="M362.1 457.4L365.1 456.7L365.1 453.4L362.1 454.2Z" fill="#7FCD00"/><path d="M359.6 438.1L362.4 437.8L362.6 434.4L359.7 434.7Z" fill="#7FCD00"/><path d="M405.6 393.1L408.3 393L408.4 389.7L405.7 389.8Z" fill="#7FCD00"/><path d="M357.1 373.7L359.9 373.9L360 370.7L357.2 370.5Z" fill="#7FCD00"/><path d="M357.1 418.7L360 418.5L360 415.3L357.1 415.5Z" fill="#77CB00"/><path d="M413.3 437.6L416 438.1L415.9 434.7L413.2 434.4Z" fill="#77CB00"/><path d="M351.7 405.9L354.6 405.8L355.1 402.6L352.4 402.6Z" fill="#77CB00"/><path d="M413.2 440.7L416 441.2L416 438.1L413.3 437.6Z" fill="#77CB00"/><path d="M339.6 386.6L342.6 386.7L341.8 383.4L338.8 383.2Z" fill="#77CB00"/><path d="M400.6 361.3L403.1 361L403.2 357.4L400.6 357.9Z" fill="#77CB00"/><path d="M357.2 376.9L360.1 377.1L359.9 373.9L357.1 373.7Z" fill="#77CB00"/><path d="M405.7 386.7L408.3 386.5L408.3 383.4L405.6 383.5Z" fill="#77CB00"/><path d="M415.7 446.9L418.5 447.5L418.6 444.6L415.8 444.1Z" fill="#77CB00"/><path d="M359.5 360.7L362.3 360.9L362.8 358.3L359.9 357.8Z" fill="#77CB00"/><path d="M359.7 450.8L362.5 450.5L362.7 447L359.7 447.6Z" fill="#77CB00"/><path d="M344.1 396.2L347.3 396.2L347.4 393L344.6 393Z" fill="#77CB00"/><path d="M347.6 383.6L350.3 383.6L349.3 380.1L346.5 380Z" fill="#77CB00"/><path d="M359.7 447.6L362.7 447L362.6 443.9L359.6 444.4Z" fill="#77CB00"/><path d="M410.7 427.9L413.4 428.3L413.5 425.2L410.7 424.9Z" fill="#77CB00"/><path d="M359.8 412.2L362.6 412.1L362.5 409L359.7 409Z" fill="#77CB00"/><path d="M403.1 367.6L405.7 367.3L405.7 364.1L403.1 364.5Z" fill="#77CB00"/><path d="M403.1 370.9L405.7 370.4L405.7 367.3L403.1 367.6Z" fill="#77CB00"/><path d="M359.7 434.7L362.6 434.4L362.6 431.2L359.7 431.5Z" fill="#77CB00"/><path d="M405.6 380.4L408.2 380.2L408.3 376.9L405.7 377.1Z" fill="#77CB00"/><path d="M355 380.3L357.8 380.4L357.2 376.9L354.4 376.8Z" fill="#77CB00"/><path d="M410.7 412.1L413.4 412.2L413.4 409L410.7 409Z" fill="#77CB00"/><path d="M415.8 450.3L418.5 450.8L418.5 447.5L415.7 446.9Z" fill="#77CB00"/><path d="M359.9 351.4L362.8 352L362.5 348.3L359.6 347.9Z" fill="#77CB00"/><path d="M413.2 434.4L415.9 434.7L415.9 431.5L413.2 431.1Z" fill="#77CB00"/><path d="M403.1 374.1L405.7 373.7L405.7 370.4L403.1 370.9Z" fill="#77CB00"/><path d="M362.5 460L365.2 459.7L365.1 456.7L362.1 457.4Z" fill="#77CB00"/><path d="M360 463.1L362.7 462.8L362.5 460L359.6 460.6Z" fill="#77CB00"/><path d="M360 370.7L362.9 371L362.4 367.4L359.5 367.1Z" fill="#77CB00"/><path d="M359.6 344.7L362.5 345.3L362.8 342.5L359.8 341.8Z" fill="#77CB00"/><path d="M413.2 459.5L415.9 460.1L416 457.4L413.2 456.6Z" fill="#77CB00"/><path d="M359.9 338.7L362.7 339.2L362.6 335.8L359.6 335.1Z" fill="#77CB00"/><path d="M362.2 441.2L365.2 440.7L365.2 437.5L362.4 437.8Z" fill="#77CB00"/><path d="M362.1 454.2L365.1 453.4L365.3 450L362.5 450.5Z" fill="#77CB00"/><path d="M408.1 399.4L410.8 399.4L410.9 396.2L408.2 396.2Z" fill="#77CB00"/><path d="M359.5 422L362.6 421.7L362.8 418.4L360 418.5Z" fill="#77CB00"/><path d="M347 399.4L349.9 399.4L350 396.2L347.3 396.2Z" fill="#77CB00"/><path d="M405.6 383.5L408.3 383.4L408.2 380.2L405.6 380.4Z" fill="#77CB00"/><path d="M362.4 428.2L365.2 427.9L365.2 424.8L362.3 425Z" fill="#77CB00"/><path d="M408.1 405.7L410.8 405.8L410.8 402.6L408.2 402.6Z" fill="#77CB00"/><path d="M413.2 456.6L416 457.4L415.9 453.7L413.1 453Z" fill="#77CB00"/><path d="M339.3 389.8L342.4 389.9L342.6 386.7L339.6 386.6Z" fill="#77CB00"/><path d="M341.6 393L344.6 393L345.4 389.9L342.4 389.9Z" fill="#77CB00"/><path d="M410.7 418.4L413.4 418.7L413.3 415.4L410.6 415.2Z" fill="#77CB00"/><path d="M354.6 405.8L357.3 405.8L357.8 402.6L355.1 402.6Z" fill="#77CB00"/><path d="M349.5 402.6L352.4 402.6L352.7 399.4L349.9 399.4Z" fill="#77CB00"/><path d="M362.6 443.9L365.3 443.6L365.2 440.7L362.2 441.2Z" fill="#77CB00"/><path d="M362.4 364.2L365.2 364.5L365.4 361.5L362.3 360.9Z" fill="#77CB00"/><path d="M413.1 443.5L415.8 444.1L416 441.2L413.2 440.7Z" fill="#77CB00"/><path d="M360 415.3L362.8 415.2L362.6 412.1L359.8 412.2Z" fill="#77CB00"/><path d="M408.2 402.6L410.8 402.6L410.8 399.4L408.1 399.4Z" fill="#77CB00"/><path d="M350.3 383.6L352.9 383.7L352.1 380.2L349.3 380.1Z" fill="#77CB00"/><path d="M398.1 345.8L400.6 345.3L400.6 341.6L398.1 342.2Z" fill="#77CB00"/><path d="M359.8 341.8L362.8 342.5L362.7 339.2L359.9 338.7Z" fill="#77CB00"/><path d="M398.1 358.4L400.6 357.9L400.6 354.6L398.1 355Z" fill="#77CB00"/><path d="M398.1 355L400.6 354.6L400.6 351.5L398.1 352.1Z" fill="#77CB00"/><path d="M403.1 377.4L405.7 377.1L405.7 373.7L403.1 374.1Z" fill="#77CB00"/><path d="M410.6 415.2L413.3 415.4L413.4 412.2L410.7 412.1Z" fill="#77CB00"/><path d="M408.1 408.9L410.7 409L410.8 405.8L408.1 405.7Z" fill="#77CB00"/><path d="M362.4 367.4L365.4 367.9L365.2 364.5L362.4 364.2Z" fill="#77CB00"/><path d="M359.7 409L362.5 409L362.9 405.7L360.2 405.7Z" fill="#77CB00"/><path d="M362.3 425L365.2 424.8L365.4 421.5L362.6 421.7Z" fill="#77CB00"/><path d="M395.5 339.3L398.1 338.6L398.1 335.7L395.5 336.2Z" fill="#77CB00"/><path d="M359.9 357.8L362.8 358.3L362.8 355.1L360 354.8Z" fill="#6FC900"/><path d="M360 354.8L362.8 355.1L362.8 352L359.9 351.4Z" fill="#6FC900"/><path d="M342.6 386.7L345.5 386.8L344.8 383.5L341.8 383.4Z" fill="#6FC900"/><path d="M359.9 373.9L362.7 374.1L362.9 371L360 370.7Z" fill="#6FC900"/><path d="M347.3 396.2L350 396.2L350.2 393.1L347.4 393Z" fill="#6FC900"/><path d="M360.1 377.1L362.9 377.3L362.7 374.1L359.9 373.9Z" fill="#6FC900"/><path d="M360 418.5L362.8 418.4L362.8 415.2L360 415.3Z" fill="#6FC900"/><path d="M362.4 437.8L365.2 437.5L365.5 434L362.6 434.4Z" fill="#6FC900"/><path d="M362.6 431.2L365.5 430.9L365.2 427.9L362.4 428.2Z" fill="#6FC900"/><path d="M400.6 364.9L403.1 364.5L403.1 361L400.6 361.3Z" fill="#6FC900"/><path d="M405.6 396.3L408.2 396.2L408.3 393L405.6 393.1Z" fill="#6FC900"/><path d="M357.8 380.4L360.5 380.6L360.1 377.1L357.2 376.9Z" fill="#6FC900"/><path d="M398.1 352.1L400.6 351.5L400.6 348.5L398.1 348.9Z" fill="#6FC900"/><path d="M408.1 424.7L410.7 424.9L410.7 421.7L408.1 421.5Z" fill="#6FC900"/><path d="M413.1 462.4L415.7 462.9L415.9 460.1L413.2 459.5Z" fill="#6FC900"/><path d="M410.5 430.8L413.2 431.1L413.4 428.3L410.7 427.9Z" fill="#6FC900"/><path d="M362.5 348.3L365.4 349L365.4 345.7L362.5 345.3Z" fill="#6FC900"/><path d="M362.5 450.5L365.3 450L365.4 446.7L362.7 447Z" fill="#6FC900"/><path d="M349.9 399.4L352.7 399.4L352.8 396.2L350 396.2Z" fill="#6FC900"/><path d="M403.1 389.9L405.7 389.8L405.7 386.7L403.1 386.8Z" fill="#6FC900"/><path d="M395.6 342.9L398.1 342.2L398.1 338.6L395.5 339.3Z" fill="#6FC900"/><path d="M362.7 462.8L365.5 462.3L365.2 459.7L362.5 460Z" fill="#6FC900"/><path d="M398.1 348.9L400.6 348.5L400.6 345.3L398.1 345.8Z" fill="#6FC900"/><path d="M352.4 402.6L355.1 402.6L355.4 399.4L352.7 399.4Z" fill="#6FC900"/><path d="M362.3 360.9L365.4 361.5L365.5 358.5L362.8 358.3Z" fill="#6FC900"/><path d="M413.1 453L415.9 453.7L415.8 450.3L413.1 449.7Z" fill="#6FC900"/><path d="M362.7 447L365.4 446.7L365.3 443.6L362.6 443.9Z" fill="#6FC900"/><path d="M398.1 361.8L400.6 361.3L400.6 357.9L398.1 358.4Z" fill="#6FC900"/><path d="M352.9 383.7L355.6 383.7L355 380.3L352.1 380.2Z" fill="#6FC900"/><path d="M403 393.1L405.6 393.1L405.7 389.8L403.1 389.9Z" fill="#6FC900"/><path d="M344.6 393L347.4 393L348.1 390L345.4 389.9Z" fill="#6FC900"/><path d="M362.6 412.1L365.6 411.9L365.4 408.9L362.5 409Z" fill="#6FC900"/><path d="M357.3 405.8L360.2 405.7L360.6 402.5L357.8 402.6Z" fill="#6FC900"/><path d="M410.6 437.2L413.3 437.6L413.2 434.4L410.6 433.9Z" fill="#6FC900"/><path d="M365.1 456.7L367.9 456.2L368.1 452.7L365.1 453.4Z" fill="#6FC900"/><path d="M362.6 434.4L365.5 434L365.5 430.9L362.6 431.2Z" fill="#6FC900"/><path d="M410.6 440.2L413.2 440.7L413.3 437.6L410.6 437.2Z" fill="#6FC900"/><path d="M408.1 421.5L410.7 421.7L410.7 418.4L408 418.2Z" fill="#6FC900"/><path d="M362.5 345.3L365.4 345.7L365.5 342.8L362.8 342.5Z" fill="#6FC900"/><path d="M413 446.4L415.7 446.9L415.8 444.1L413.1 443.5Z" fill="#6FC900"/><path d="M400.6 368L403.1 367.6L403.1 364.5L400.6 364.9Z" fill="#6FC900"/><path d="M342.4 389.9L345.4 389.9L345.5 386.8L342.6 386.7Z" fill="#6FC900"/><path d="M403.1 386.8L405.7 386.7L405.6 383.5L403 383.7Z" fill="#6FC900"/><path d="M362.8 352L365.6 352.3L365.4 349L362.5 348.3Z" fill="#6FC900"/><path d="M408 427.6L410.7 427.9L410.7 424.9L408.1 424.7Z" fill="#6FC900"/><path d="M362.7 339.2L365.6 339.8L365.4 336.3L362.6 335.8Z" fill="#6FC900"/><path d="M365.2 459.7L368.2 458.8L367.9 456.2L365.1 456.7Z" fill="#6FC900"/><path d="M403 380.6L405.6 380.4L405.7 377.1L403.1 377.4Z" fill="#6FC900"/><path d="M362.9 371L365.6 371.2L365.4 367.9L362.4 367.4Z" fill="#6FC900"/><path d="M408 411.9L410.7 412.1L410.7 409L408.1 408.9Z" fill="#6FC900"/><path d="M400.6 371.1L403.1 370.9L403.1 367.6L400.6 368Z" fill="#6FC900"/><path d="M350 396.2L352.8 396.2L353 393.1L350.2 393.1Z" fill="#6FC900"/><path d="M410.6 433.9L413.2 434.4L413.2 431.1L410.5 430.8Z" fill="#6FC900"/><path d="M365.2 440.7L368 440.3L368.1 437L365.2 437.5Z" fill="#6FC900"/><path d="M345.5 386.8L348.3 386.9L347.6 383.6L344.8 383.5Z" fill="#6FC900"/><path d="M352.7 399.4L355.4 399.4L355.4 396.2L352.8 396.2Z" fill="#6FC900"/><path d="M362.5 409L365.4 408.9L365.7 405.7L362.9 405.7Z" fill="#6FC900"/><path d="M355.1 402.6L357.8 402.6L358.1 399.4L355.4 399.4Z" fill="#6FC900"/><path d="M413.1 449.7L415.8 450.3L415.7 446.9L413 446.4Z" fill="#67C700"/><path d="M365.2 427.9L368.1 427.6L368 424.5L365.2 424.8Z" fill="#67C700"/><path d="M362.6 421.7L365.4 421.5L365.7 418.1L362.8 418.4Z" fill="#67C700"/><path d="M403 383.7L405.6 383.5L405.6 380.4L403 380.6Z" fill="#67C700"/><path d="M400.6 374.3L403.1 374.1L403.1 370.9L400.6 371.1Z" fill="#67C700"/><path d="M405.5 405.7L408.1 405.7L408.2 402.6L405.5 402.5Z" fill="#67C700"/><path d="M362.8 342.5L365.5 342.8L365.6 339.8L362.7 339.2Z" fill="#67C700"/><path d="M347.4 393L350.2 393.1L350.6 390L348.1 390Z" fill="#67C700"/><path d="M365.1 453.4L368.1 452.7L368.2 449.4L365.3 450Z" fill="#67C700"/><path d="M362.8 415.2L365.6 415.1L365.6 411.9L362.6 412.1Z" fill="#67C700"/><path d="M395.5 355.4L398.1 355L398.1 352.1L395.6 352.3Z" fill="#67C700"/><path d="M405.5 399.4L408.1 399.4L408.2 396.2L405.6 396.3Z" fill="#67C700"/><path d="M410.5 458.7L413.2 459.5L413.2 456.6L410.6 456Z" fill="#67C700"/><path d="M395.6 346.1L398.1 345.8L398.1 342.2L395.6 342.9Z" fill="#67C700"/><path d="M365.3 443.6L368.2 443.1L368 440.3L365.2 440.7Z" fill="#67C700"/><path d="M360.5 380.6L363.2 380.6L362.9 377.3L360.1 377.1Z" fill="#67C700"/><path d="M410.6 456L413.2 456.6L413.1 453L410.5 452.5Z" fill="#67C700"/><path d="M365.2 364.5L368.1 364.9L368.1 361.8L365.4 361.5Z" fill="#67C700"/><path d="M395.6 358.8L398.1 358.4L398.1 355L395.5 355.4Z" fill="#67C700"/><path d="M405.5 402.5L408.2 402.6L408.1 399.4L405.5 399.4Z" fill="#67C700"/><path d="M393.1 339.9L395.5 339.3L395.5 336.2L393.1 336.8Z" fill="#67C700"/><path d="M362.7 374.1L365.6 374.3L365.6 371.2L362.9 371Z" fill="#67C700"/><path d="M362.8 358.3L365.5 358.5L365.7 355.7L362.8 355.1Z" fill="#67C700"/><path d="M365.2 424.8L368 424.5L368.3 421.2L365.4 421.5Z" fill="#67C700"/><path d="M408 418.2L410.7 418.4L410.6 415.2L408 415Z" fill="#67C700"/><path d="M410.5 443L413.1 443.5L413.2 440.7L410.6 440.2Z" fill="#67C700"/><path d="M405.5 408.8L408.1 408.9L408.1 405.7L405.5 405.7Z" fill="#67C700"/><path d="M355.6 383.7L358.4 383.9L357.8 380.4L355 380.3Z" fill="#67C700"/><path d="M362.8 355.1L365.7 355.7L365.6 352.3L362.8 352Z" fill="#67C700"/><path d="M362.9 377.3L365.7 377.5L365.6 374.3L362.7 374.1Z" fill="#67C700"/><path d="M408 415L410.6 415.2L410.7 412.1L408 411.9Z" fill="#67C700"/><path d="M365.4 367.9L368.3 368.2L368.1 364.9L365.2 364.5Z" fill="#67C700"/><path d="M362.8 418.4L365.7 418.1L365.6 415.1L362.8 415.2Z" fill="#67C700"/><path d="M395.6 352.3L398.1 352.1L398.1 348.9L395.6 349.4Z" fill="#67C700"/><path d="M352.8 396.2L355.4 396.2L355.8 393.2L353 393.1Z" fill="#67C700"/><path d="M400.5 377.6L403.1 377.4L403.1 374.1L400.6 374.3Z" fill="#67C700"/><path d="M355.4 399.4L358.1 399.4L358.2 396.3L355.4 396.2Z" fill="#67C700"/><path d="M365.5 430.9L368.2 430.6L368.1 427.6L365.2 427.9Z" fill="#67C700"/><path d="M398.1 365.1L400.6 364.9L400.6 361.3L398.1 361.8Z" fill="#67C700"/><path d="M395.6 349.4L398.1 348.9L398.1 345.8L395.6 346.1Z" fill="#67C700"/><path d="M360.2 405.7L362.9 405.7L363.3 402.5L360.6 402.5Z" fill="#67C700"/><path d="M365.2 437.5L368.1 437L368.3 433.7L365.5 434Z" fill="#67C700"/><path d="M348.3 386.9L350.9 386.9L350.3 383.6L347.6 383.6Z" fill="#67C700"/><path d="M365.3 450L368.2 449.4L368.3 446.2L365.4 446.7Z" fill="#67C700"/><path d="M365.5 462.3L368.3 461.7L368.2 458.8L365.2 459.7Z" fill="#67C700"/><path d="M403 396.3L405.6 396.3L405.6 393.1L403 393.1Z" fill="#67C700"/><path d="M345.4 389.9L348.1 390L348.3 386.9L345.5 386.8Z" fill="#67C700"/><path d="M365.4 349L368.2 349.4L368.2 346.3L365.4 345.7Z" fill="#67C700"/><path d="M405.5 424.3L408.1 424.7L408.1 421.5L405.5 421.3Z" fill="#67C700"/><path d="M357.8 402.6L360.6 402.5L360.8 399.4L358.1 399.4Z" fill="#67C700"/><path d="M350.2 393.1L353 393.1L353.4 390.1L350.6 390Z" fill="#67C700"/><path d="M365.4 446.7L368.3 446.2L368.2 443.1L365.3 443.6Z" fill="#67C700"/><path d="M393.1 343.4L395.6 342.9L395.5 339.3L393.1 339.9Z" fill="#67C700"/><path d="M410.4 461.5L413.1 462.4L413.2 459.5L410.5 458.7Z" fill="#67C700"/><path d="M365.4 361.5L368.1 361.8L368.4 359L365.5 358.5Z" fill="#67C700"/><path d="M410.5 452.5L413.1 453L413.1 449.7L410.5 449.3Z" fill="#5FC500"/><path d="M365.4 345.7L368.2 346.3L368.3 343.4L365.5 342.8Z" fill="#5FC500"/><path d="M407.9 430.4L410.5 430.8L410.7 427.9L408 427.6Z" fill="#5FC500"/><path d="M400.5 390L403.1 389.9L403.1 386.8L400.5 386.9Z" fill="#5FC500"/><path d="M365.5 434L368.3 433.7L368.2 430.6L365.5 430.9Z" fill="#5FC500"/><path d="M365.6 411.9L368.3 411.9L368.3 408.8L365.4 408.9Z" fill="#5FC500"/><path d="M350.9 386.9L353.5 387L352.9 383.7L350.3 383.6Z" fill="#5FC500"/><path d="M365.6 339.8L368.4 340.4L368.2 336.9L365.4 336.3Z" fill="#5FC500"/><path d="M367.9 456.2L370.7 455.5L370.8 452.3L368.1 452.7Z" fill="#5FC500"/><path d="M355.4 396.2L358.2 396.3L358.3 393.2L355.8 393.2Z" fill="#5FC500"/><path d="M395.6 362.2L398.1 361.8L398.1 358.4L395.6 358.8Z" fill="#5FC500"/><path d="M405.5 421.3L408.1 421.5L408 418.2L405.5 418Z" fill="#5FC500"/><path d="M365.6 352.3L368.4 352.8L368.2 349.4L365.4 349Z" fill="#5FC500"/><path d="M400.5 393.2L403 393.1L403.1 389.9L400.5 390Z" fill="#5FC500"/><path d="M405.5 427.4L408 427.6L408.1 424.7L405.5 424.3Z" fill="#5FC500"/><path d="M348.1 390L350.6 390L350.9 386.9L348.3 386.9Z" fill="#5FC500"/><path d="M410.4 446L413 446.4L413.1 443.5L410.5 443Z" fill="#5FC500"/><path d="M398.1 371.3L400.6 371.1L400.6 368L398.1 368.4Z" fill="#5FC500"/><path d="M365.4 408.9L368.3 408.8L368.4 405.6L365.7 405.7Z" fill="#5FC500"/><path d="M398.1 374.6L400.6 374.3L400.6 371.1L398.1 371.3Z" fill="#5FC500"/><path d="M398.1 368.4L400.6 368L400.6 364.9L398.1 365.1Z" fill="#5FC500"/><path d="M363.2 380.6L366 380.8L365.7 377.5L362.9 377.3Z" fill="#5FC500"/><path d="M405.4 411.8L408 411.9L408.1 408.9L405.5 408.8Z" fill="#5FC500"/><path d="M410.5 449.3L413.1 449.7L413 446.4L410.4 446Z" fill="#5FC500"/><path d="M407.9 439.7L410.6 440.2L410.6 437.2L407.9 436.7Z" fill="#5FC500"/><path d="M358.1 399.4L360.8 399.4L360.9 396.3L358.2 396.3Z" fill="#5FC500"/><path d="M365.6 371.2L368.4 371.5L368.3 368.2L365.4 367.9Z" fill="#5FC500"/><path d="M400.5 386.9L403.1 386.8L403 383.7L400.5 383.9Z" fill="#5FC500"/><path d="M358.4 383.9L361.2 384L360.5 380.6L357.8 380.4Z" fill="#5FC500"/><path d="M365.4 421.5L368.3 421.2L368.4 418L365.7 418.1Z" fill="#5FC500"/><path d="M365.5 342.8L368.3 343.4L368.4 340.4L365.6 339.8Z" fill="#5FC500"/><path d="M400.5 380.8L403 380.6L403.1 377.4L400.5 377.6Z" fill="#5FC500"/><path d="M368.2 458.8L370.9 458.2L370.7 455.5L367.9 456.2Z" fill="#5FC500"/><path d="M407.9 436.7L410.6 437.2L410.6 433.9L407.9 433.5Z" fill="#5FC500"/><path d="M393.1 355.8L395.5 355.4L395.6 352.3L393.1 353Z" fill="#5FC500"/><path d="M362.9 405.7L365.7 405.7L366.1 402.5L363.3 402.5Z" fill="#5FC500"/><path d="M353 393.1L355.8 393.2L356.1 390.1L353.4 390.1Z" fill="#5FC500"/><path d="M393.1 346.7L395.6 346.1L395.6 342.9L393.1 343.4Z" fill="#5FC500"/><path d="M365.6 415.1L368.5 414.9L368.3 411.9L365.6 411.9Z" fill="#5FC500"/><path d="M393.1 359.1L395.6 358.8L395.5 355.4L393.1 355.8Z" fill="#5FC500"/><path d="M390.6 340.3L393.1 339.9L393.1 336.8L390.6 337.4Z" fill="#5FC500"/><path d="M400.5 383.9L403 383.7L403 380.6L400.5 380.8Z" fill="#5FC500"/><path d="M353.5 387L356.2 387L355.6 383.7L352.9 383.7Z" fill="#5FC500"/><path d="M407.9 433.5L410.6 433.9L410.5 430.8L407.9 430.4Z" fill="#5FC500"/><path d="M403 399.4L405.5 399.4L405.6 396.3L403 396.3Z" fill="#5FC500"/><path d="M360.6 402.5L363.3 402.5L363.5 399.4L360.8 399.4Z" fill="#5FC500"/><path d="M403 405.6L405.5 405.7L405.5 402.5L403 402.5Z" fill="#5FC500"/><path d="M368 440.3L370.9 439.8L371 436.4L368.1 437Z" fill="#5FC500"/><path d="M368.2 443.1L370.9 442.8L370.9 439.8L368 440.3Z" fill="#5FC500"/><path d="M350.6 390L353.4 390.1L353.5 387L350.9 386.9Z" fill="#5FC500"/><path d="M368.1 452.7L370.8 452.3L371 448.9L368.2 449.4Z" fill="#5FC500"/><path d="M365.5 358.5L368.4 359L368.5 356.1L365.7 355.7Z" fill="#5FC500"/><path d="M365.6 374.3L368.5 374.6L368.4 371.5L365.6 371.2Z" fill="#5FC500"/><path d="M368.1 427.6L371 427.2L370.9 424.2L368 424.5Z" fill="#5FC500"/><path d="M408 455.4L410.6 456L410.5 452.5L407.9 451.8Z" fill="#5FC500"/><path d="M358.2 396.3L360.9 396.3L361 393.2L358.3 393.2Z" fill="#5FC500"/><path d="M368.1 364.9L370.9 365.3L371 362.3L368.1 361.8Z" fill="#5FC500"/><path d="M365.7 355.7L368.5 356.1L368.4 352.8L365.6 352.3Z" fill="#5FC500"/><path d="M393.1 349.8L395.6 349.4L395.6 346.1L393.1 346.7Z" fill="#5FC500"/><path d="M407.9 457.9L410.5 458.7L410.6 456L408 455.4Z" fill="#5FC500"/><path d="M393.1 353L395.6 352.3L395.6 349.4L393.1 349.8Z" fill="#5FC500"/><path d="M365.7 418.1L368.4 418L368.5 414.9L365.6 415.1Z" fill="#5FC500"/><path d="M390.7 343.7L393.1 343.4L393.1 339.9L390.6 340.3Z" fill="#5FC500"/><path d="M365.7 377.5L368.5 377.7L368.5 374.6L365.6 374.3Z" fill="#5FC500"/><path d="M405.5 418L408 418.2L408 415L405.4 414.8Z" fill="#5FC500"/><path d="M403 402.5L405.5 402.5L405.5 399.4L403 399.4Z" fill="#5FC500"/><path d="M398.1 377.8L400.5 377.6L400.6 374.3L398.1 374.6Z" fill="#57C200"/><path d="M368 424.5L370.9 424.2L371 421L368.3 421.2Z" fill="#57C200"/><path d="M403 408.6L405.5 408.8L405.5 405.7L403 405.6Z" fill="#57C200"/><path d="M368.2 349.4L370.9 349.9L371 346.9L368.2 346.3Z" fill="#57C200"/><path d="M405.4 414.8L408 415L408 411.9L405.4 411.8Z" fill="#57C200"/><path d="M368.3 368.2L371 368.5L370.9 365.3L368.1 364.9Z" fill="#57C200"/><path d="M407.8 442.4L410.5 443L410.6 440.2L407.9 439.7Z" fill="#57C200"/><path d="M395.6 365.5L398.1 365.1L398.1 361.8L395.6 362.2Z" fill="#57C200"/><path d="M361.2 384L363.7 384L363.2 380.6L360.5 380.6Z" fill="#57C200"/><path d="M355.8 393.2L358.3 393.2L358.7 390.1L356.1 390.1Z" fill="#57C200"/><path d="M360.8 399.4L363.5 399.4L363.6 396.3L360.9 396.3Z" fill="#57C200"/><path d="M400.5 396.3L403 396.3L403 393.1L400.5 393.2Z" fill="#57C200"/><path d="M368.3 461.7L371.1 460.9L370.9 458.2L368.2 458.8Z" fill="#57C200"/><path d="M356.2 387L358.7 387.1L358.4 383.9L355.6 383.7Z" fill="#57C200"/><path d="M368.2 430.6L371.1 430.1L371 427.2L368.1 427.6Z" fill="#57C200"/><path d="M405.4 430.2L407.9 430.4L408 427.6L405.5 427.4Z" fill="#57C200"/><path d="M368.1 437L371 436.4L371.1 433.3L368.3 433.7Z" fill="#57C200"/><path d="M353.4 390.1L356.1 390.1L356.2 387L353.5 387Z" fill="#57C200"/><path d="M368.3 446.2L371.1 445.5L370.9 442.8L368.2 443.1Z" fill="#57C200"/><path d="M368.2 449.4L371 448.9L371.1 445.5L368.3 446.2Z" fill="#57C200"/><path d="M393.1 362.5L395.6 362.2L395.6 358.8L393.1 359.1Z" fill="#57C200"/><path d="M402.9 424L405.5 424.3L405.5 421.3L403 421Z" fill="#57C200"/><path d="M368.4 340.4L371.1 340.9L371 337.5L368.2 336.9Z" fill="#57C200"/><path d="M398.1 390.1L400.5 390L400.5 386.9L398.1 387.1Z" fill="#57C200"/><path d="M368.2 346.3L371 346.9L371.1 344L368.3 343.4Z" fill="#57C200"/><path d="M368.3 411.9L371.1 411.7L371 408.7L368.3 408.8Z" fill="#57C200"/><path d="M368.1 361.8L371 362.3L371.1 359.5L368.4 359Z" fill="#57C200"/><path d="M368.4 352.8L371.1 353.3L370.9 349.9L368.2 349.4Z" fill="#57C200"/><path d="M403 421L405.5 421.3L405.5 418L403 417.9Z" fill="#57C200"/><path d="M407.9 451.8L410.5 452.5L410.5 449.3L407.8 448.5Z" fill="#57C200"/><path d="M366 380.8L368.7 381L368.5 377.7L365.7 377.5Z" fill="#57C200"/><path d="M368.3 433.7L371.1 433.3L371.1 430.1L368.2 430.6Z" fill="#57C200"/><path d="M358.3 393.2L361 393.2L361.2 390.2L358.7 390.1Z" fill="#57C200"/><path d="M363.3 402.5L366.1 402.5L366.1 399.4L363.5 399.4Z" fill="#57C200"/><path d="M395.6 371.7L398.1 371.3L398.1 368.4L395.6 368.5Z" fill="#57C200"/><path d="M395.6 368.5L398.1 368.4L398.1 365.1L395.6 365.5Z" fill="#57C200"/><path d="M365.7 405.7L368.4 405.6L368.8 402.5L366.1 402.5Z" fill="#57C200"/><path d="M398.1 393.3L400.5 393.2L400.5 390L398.1 390.1Z" fill="#57C200"/><path d="M395.6 374.8L398.1 374.6L398.1 371.3L395.6 371.7Z" fill="#57C200"/><path d="M398.1 387.1L400.5 386.9L400.5 383.9L398.1 384Z" fill="#57C200"/><path d="M360.9 396.3L363.6 396.3L363.7 393.2L361 393.2Z" fill="#57C200"/><path d="M390.7 347.2L393.1 346.7L393.1 343.4L390.7 343.7Z" fill="#57C200"/><path d="M368.3 343.4L371.1 344L371.1 340.9L368.4 340.4Z" fill="#57C200"/><path d="M368.3 408.8L371 408.7L371.2 405.5L368.4 405.6Z" fill="#57C200"/><path d="M407.8 445.5L410.4 446L410.5 443L407.8 442.4Z" fill="#57C200"/><path d="M407.8 460.7L410.4 461.5L410.5 458.7L407.9 457.9Z" fill="#57C200"/><path d="M368.4 371.5L371.2 371.8L371 368.5L368.3 368.2Z" fill="#57C200"/><path d="M398.1 381L400.5 380.8L400.5 377.6L398.1 377.8Z" fill="#57C200"/><path d="M407.8 448.5L410.5 449.3L410.4 446L407.8 445.5Z" fill="#57C200"/><path d="M368.3 421.2L371 421L371.2 417.8L368.4 418Z" fill="#57C200"/><path d="M402.9 411.7L405.4 411.8L405.5 408.8L403 408.6Z" fill="#57C200"/><path d="M402.9 427L405.5 427.4L405.5 424.3L402.9 424Z" fill="#57C200"/><path d="M356.1 390.1L358.7 390.1L358.7 387.1L356.2 387Z" fill="#57C200"/><path d="M370.7 455.5L373.6 454.7L373.7 451.4L370.8 452.3Z" fill="#50C000"/><path d="M368.5 414.9L371.2 414.7L371.1 411.7L368.3 411.9Z" fill="#50C000"/><path d="M363.7 384L366.4 384.1L366 380.8L363.2 380.6Z" fill="#50C000"/><path d="M398.1 384L400.5 383.9L400.5 380.8L398.1 381Z" fill="#50C000"/><path d="M405.4 433.2L407.9 433.5L407.9 430.4L405.4 430.2Z" fill="#50C000"/><path d="M358.7 387.1L361.5 387.1L361.2 384L358.4 383.9Z" fill="#50C000"/><path d="M390.7 359.6L393.1 359.1L393.1 355.8L390.7 356.4Z" fill="#50C000"/><path d="M390.7 356.4L393.1 355.8L393.1 353L390.7 353.4Z" fill="#50C000"/><path d="M405.4 436.2L407.9 436.7L407.9 433.5L405.4 433.2Z" fill="#50C000"/><path d="M400.5 399.4L403 399.4L403 396.3L400.5 396.3Z" fill="#50C000"/><path d="M363.5 399.4L366.1 399.4L366.3 396.3L363.6 396.3Z" fill="#50C000"/><path d="M370.9 458.2L373.7 457.4L373.6 454.7L370.7 455.5Z" fill="#50C000"/><path d="M368.5 374.6L371.1 374.8L371.2 371.8L368.4 371.5Z" fill="#50C000"/><path d="M405.4 439.2L407.9 439.7L407.9 436.7L405.4 436.2Z" fill="#50C000"/><path d="M388.3 341.2L390.6 340.3L390.6 337.4L388.3 338.2Z" fill="#50C000"/><path d="M403 417.9L405.5 418L405.4 414.8L402.9 414.7Z" fill="#50C000"/><path d="M390.7 350.4L393.1 349.8L393.1 346.7L390.7 347.2Z" fill="#50C000"/><path d="M368.5 377.7L371.2 377.9L371.1 374.8L368.5 374.6Z" fill="#50C000"/><path d="M395.6 378L398.1 377.8L398.1 374.6L395.6 374.8Z" fill="#50C000"/><path d="M368.4 359L371.1 359.5L371.2 356.5L368.5 356.1Z" fill="#50C000"/><path d="M368.5 356.1L371.2 356.5L371.1 353.3L368.4 352.8Z" fill="#50C000"/><path d="M400.5 405.5L403 405.6L403 402.5L400.5 402.5Z" fill="#50C000"/><path d="M390.7 353.4L393.1 353L393.1 349.8L390.7 350.4Z" fill="#50C000"/><path d="M388.3 344.4L390.7 343.7L390.6 340.3L388.3 341.2Z" fill="#50C000"/><path d="M361 393.2L363.7 393.2L363.9 390.2L361.2 390.2Z" fill="#50C000"/><path d="M368.4 418L371.2 417.8L371.2 414.7L368.5 414.9Z" fill="#50C000"/><path d="M400.5 402.5L403 402.5L403 399.4L400.5 399.4Z" fill="#50C000"/><path d="M393.2 365.7L395.6 365.5L395.6 362.2L393.1 362.5Z" fill="#50C000"/><path d="M370.9 442.8L373.8 442.1L373.6 439.3L370.9 439.8Z" fill="#50C000"/><path d="M358.7 390.1L361.2 390.2L361.5 387.1L358.7 387.1Z" fill="#50C000"/><path d="M402.9 414.7L405.4 414.8L405.4 411.8L402.9 411.7Z" fill="#50C000"/><path d="M370.9 439.8L373.6 439.3L373.8 436L371 436.4Z" fill="#50C000"/><path d="M405.4 454.5L408 455.4L407.9 451.8L405.3 451.3Z" fill="#50C000"/><path d="M370.8 452.3L373.7 451.4L373.8 448.1L371 448.9Z" fill="#50C000"/><path d="M370.9 349.9L373.7 350.5L373.7 347.4L371 346.9Z" fill="#50C000"/><path d="M400.5 408.6L403 408.6L403 405.6L400.5 405.5Z" fill="#50C000"/><path d="M363.6 396.3L366.3 396.3L366.3 393.3L363.7 393.2Z" fill="#50C000"/><path d="M405.3 457.4L407.9 457.9L408 455.4L405.4 454.5Z" fill="#50C000"/><path d="M398.1 396.3L400.5 396.3L400.5 393.2L398.1 393.3Z" fill="#50C000"/><path d="M370.9 365.3L373.7 365.8L373.8 362.8L371 362.3Z" fill="#50C000"/><path d="M395.6 390.2L398.1 390.1L398.1 387.1L395.6 387.1Z" fill="#50C000"/><path d="M390.8 362.8L393.1 362.5L393.1 359.1L390.7 359.6Z" fill="#50C000"/><path d="M366.1 402.5L368.8 402.5L368.8 399.4L366.1 399.4Z" fill="#50C000"/><path d="M402.9 429.8L405.4 430.2L405.5 427.4L402.9 427Z" fill="#50C000"/><path d="M371 368.5L373.8 369L373.7 365.8L370.9 365.3Z" fill="#50C000"/><path d="M371 427.2L373.8 426.8L373.7 423.8L370.9 424.2Z" fill="#50C000"/><path d="M361.5 387.1L364 387.2L363.7 384L361.2 384Z" fill="#50C000"/><path d="M405.3 442L407.8 442.4L407.9 439.7L405.4 439.2Z" fill="#50C000"/><path d="M368.7 381L371.4 381.1L371.2 377.9L368.5 377.7Z" fill="#50C000"/><path d="M371.1 340.9L373.7 341.4L373.7 338.3L371 337.5Z" fill="#50C000"/><path d="M371 346.9L373.7 347.4L373.8 344.6L371.1 344Z" fill="#48BE00"/><path d="M393.2 368.9L395.6 368.5L395.6 365.5L393.2 365.7Z" fill="#48BE00"/><path d="M393.2 371.9L395.6 371.7L395.6 368.5L393.2 368.9Z" fill="#48BE00"/><path d="M370.9 424.2L373.7 423.8L373.9 420.6L371 421Z" fill="#48BE00"/><path d="M395.6 381.1L398.1 381L398.1 377.8L395.6 378Z" fill="#48BE00"/><path d="M393.2 375L395.6 374.8L395.6 371.7L393.2 371.9Z" fill="#48BE00"/><path d="M388.3 347.6L390.7 347.2L390.7 343.7L388.3 344.4Z" fill="#48BE00"/><path d="M395.6 387.1L398.1 387.1L398.1 384L395.6 384.2Z" fill="#48BE00"/><path d="M368.4 405.6L371.2 405.5L371.4 402.4L368.8 402.5Z" fill="#48BE00"/><path d="M371.1 445.5L373.8 445L373.8 442.1L370.9 442.8Z" fill="#48BE00"/><path d="M366.1 399.4L368.8 399.4L368.9 396.3L366.3 396.3Z" fill="#48BE00"/><path d="M371.1 460.9L373.9 460.1L373.7 457.4L370.9 458.2Z" fill="#48BE00"/><path d="M366.4 384.1L369 384.2L368.7 381L366 380.8Z" fill="#48BE00"/><path d="M371.1 353.3L373.9 353.9L373.7 350.5L370.9 349.9Z" fill="#48BE00"/><path d="M361.2 390.2L363.9 390.2L364 387.2L361.5 387.1Z" fill="#48BE00"/><path d="M371 436.4L373.8 436L373.8 432.9L371.1 433.3Z" fill="#48BE00"/><path d="M395.6 393.3L398.1 393.3L398.1 390.1L395.6 390.2Z" fill="#48BE00"/><path d="M371.1 344L373.8 344.6L373.7 341.4L371.1 340.9Z" fill="#48BE00"/><path d="M371 448.9L373.8 448.1L373.8 445L371.1 445.5Z" fill="#48BE00"/><path d="M363.7 393.2L366.3 393.3L366.6 390.3L363.9 390.2Z" fill="#48BE00"/><path d="M371 362.3L373.8 362.8L373.8 359.9L371.1 359.5Z" fill="#48BE00"/><path d="M400.5 423.7L402.9 424L403 421L400.5 420.7Z" fill="#48BE00"/><path d="M400.5 420.7L403 421L403 417.9L400.5 417.6Z" fill="#48BE00"/><path d="M371.1 411.7L373.8 411.6L373.8 408.5L371 408.7Z" fill="#48BE00"/><path d="M400.5 411.5L402.9 411.7L403 408.6L400.5 408.6Z" fill="#48BE00"/><path d="M405.3 451.3L407.9 451.8L407.8 448.5L405.3 447.9Z" fill="#48BE00"/><path d="M371.1 430.1L373.9 429.7L373.8 426.8L371 427.2Z" fill="#48BE00"/><path d="M395.6 384.2L398.1 384L398.1 381L395.6 381.1Z" fill="#48BE00"/><path d="M402.9 432.8L405.4 433.2L405.4 430.2L402.9 429.8Z" fill="#48BE00"/><path d="M398.1 399.4L400.5 399.4L400.5 396.3L398.1 396.3Z" fill="#48BE00"/><path d="M371.2 371.8L373.9 372.1L373.8 369L371 368.5Z" fill="#48BE00"/><path d="M371.1 433.3L373.8 432.9L373.9 429.7L371.1 430.1Z" fill="#48BE00"/><path d="M366.3 396.3L368.9 396.3L369 393.3L366.3 393.3Z" fill="#48BE00"/><path d="M393.2 378.2L395.6 378L395.6 374.8L393.2 375Z" fill="#48BE00"/><path d="M364 387.2L366.6 387.3L366.4 384.1L363.7 384Z" fill="#48BE00"/><path d="M402.9 435.9L405.4 436.2L405.4 433.2L402.9 432.8Z" fill="#48BE00"/><path d="M405.3 444.8L407.8 445.5L407.8 442.4L405.3 442Z" fill="#48BE00"/><path d="M405.3 459.9L407.8 460.7L407.9 457.9L405.3 457.4Z" fill="#48BE00"/><path d="M388.4 350.9L390.7 350.4L390.7 347.2L388.3 347.6Z" fill="#48BE00"/><path d="M390.8 366.2L393.2 365.7L393.1 362.5L390.8 362.8Z" fill="#48BE00"/><path d="M371 408.7L373.8 408.5L374 405.4L371.2 405.5Z" fill="#48BE00"/><path d="M400.5 426.6L402.9 427L402.9 424L400.5 423.7Z" fill="#48BE00"/><path d="M398.1 402.4L400.5 402.5L400.5 399.4L398.1 399.4Z" fill="#48BE00"/><path d="M400.5 417.6L403 417.9L402.9 414.7L400.5 414.6Z" fill="#48BE00"/><path d="M371.2 377.9L373.9 378.2L373.9 375.1L371.1 374.8Z" fill="#48BE00"/><path d="M398.1 405.5L400.5 405.5L400.5 402.5L398.1 402.4Z" fill="#48BE00"/><path d="M388.4 356.9L390.7 356.4L390.7 353.4L388.4 353.9Z" fill="#48BE00"/><path d="M371.1 374.8L373.9 375.1L373.9 372.1L371.2 371.8Z" fill="#48BE00"/><path d="M371.2 414.7L374 414.5L373.8 411.6L371.1 411.7Z" fill="#48BE00"/><path d="M371.1 359.5L373.8 359.9L373.9 356.9L371.2 356.5Z" fill="#48BE00"/><path d="M405.3 447.9L407.8 448.5L407.8 445.5L405.3 444.8Z" fill="#48BE00"/><path d="M371 421L373.9 420.6L374 417.5L371.2 417.8Z" fill="#48BE00"/><path d="M371.2 356.5L373.9 356.9L373.9 353.9L371.1 353.3Z" fill="#48BE00"/><path d="M388.4 353.9L390.7 353.4L390.7 350.4L388.4 350.9Z" fill="#48BE00"/><path d="M388.4 360L390.7 359.6L390.7 356.4L388.4 356.9Z" fill="#48BE00"/><path d="M400.5 414.6L402.9 414.7L402.9 411.7L400.5 411.5Z" fill="#48BE00"/><path d="M402.9 438.8L405.4 439.2L405.4 436.2L402.9 435.9Z" fill="#41BC00"/><path d="M363.9 390.2L366.6 390.3L366.6 387.3L364 387.2Z" fill="#41BC00"/><path d="M368.8 402.5L371.4 402.4L371.5 399.4L368.8 399.4Z" fill="#41BC00"/><path d="M395.6 396.4L398.1 396.3L398.1 393.3L395.6 393.3Z" fill="#41BC00"/><path d="M393.2 390.3L395.6 390.2L395.6 387.1L393.2 387.3Z" fill="#41BC00"/><path d="M398.1 408.5L400.5 408.6L400.5 405.5L398.1 405.5Z" fill="#41BC00"/><path d="M386 341.8L388.3 341.2L388.3 338.2L386 338.9Z" fill="#41BC00"/><path d="M368.8 399.4L371.5 399.4L371.5 396.4L368.9 396.3Z" fill="#41BC00"/><path d="M369 384.2L371.7 384.3L371.4 381.1L368.7 381Z" fill="#41BC00"/><path d="M371.4 381.1L374 381.3L373.9 378.2L371.2 377.9Z" fill="#41BC00"/><path d="M371.2 417.8L374 417.5L374 414.5L371.2 414.7Z" fill="#41BC00"/><path d="M373.7 350.5L376.4 351.1L376.3 347.9L373.7 347.4Z" fill="#41BC00"/><path d="M393.2 381.3L395.6 381.1L395.6 378L393.2 378.2Z" fill="#41BC00"/><path d="M366.3 393.3L369 393.3L369.2 390.3L366.6 390.3Z" fill="#41BC00"/><path d="M373.7 347.4L376.3 347.9L376.3 344.9L373.8 344.6Z" fill="#41BC00"/><path d="M386 345.1L388.3 344.4L388.3 341.2L386 341.8Z" fill="#41BC00"/><path d="M373.7 341.4L376.4 341.9L376.3 338.8L373.7 338.3Z" fill="#41BC00"/><path d="M373.6 454.7L376.4 453.7L376.4 450.6L373.7 451.4Z" fill="#41BC00"/><path d="M390.8 375.2L393.2 375L393.2 371.9L390.8 372.1Z" fill="#41BC00"/><path d="M402.9 441.7L405.3 442L405.4 439.2L402.9 438.8Z" fill="#41BC00"/><path d="M402.9 453.8L405.4 454.5L405.3 451.3L402.9 450.8Z" fill="#41BC00"/><path d="M390.8 372.1L393.2 371.9L393.2 368.9L390.8 369.2Z" fill="#41BC00"/><path d="M388.5 363.3L390.8 362.8L390.7 359.6L388.4 360Z" fill="#41BC00"/><path d="M390.8 369.2L393.2 368.9L393.2 365.7L390.8 366.2Z" fill="#41BC00"/><path d="M373.8 344.6L376.3 344.9L376.4 341.9L373.7 341.4Z" fill="#41BC00"/><path d="M393.2 387.3L395.6 387.1L395.6 384.2L393.2 384.3Z" fill="#41BC00"/><path d="M373.7 457.4L376.5 456.5L376.4 453.7L373.6 454.7Z" fill="#41BC00"/><path d="M400.4 429.5L402.9 429.8L402.9 427L400.5 426.6Z" fill="#41BC00"/><path d="M373.7 365.8L376.4 366.1L376.4 363.2L373.8 362.8Z" fill="#41BC00"/><path d="M402.8 456.5L405.3 457.4L405.4 454.5L402.9 453.8Z" fill="#41BC00"/><path d="M368.9 396.3L371.5 396.4L371.6 393.4L369 393.3Z" fill="#41BC00"/><path d="M393.2 393.4L395.6 393.3L395.6 390.2L393.2 390.3Z" fill="#41BC00"/><path d="M373.8 369L376.5 369.3L376.4 366.1L373.7 365.8Z" fill="#41BC00"/><path d="M366.6 387.3L369.3 387.4L369 384.2L366.4 384.1Z" fill="#41BC00"/><path d="M393.2 384.3L395.6 384.2L395.6 381.1L393.2 381.3Z" fill="#41BC00"/><path d="M398.1 411.5L400.5 411.5L400.5 408.6L398.1 408.5Z" fill="#41BC00"/><path d="M373.6 439.3L376.5 438.5L376.5 435.4L373.8 436Z" fill="#41BC00"/><path d="M373.8 442.1L376.5 441.5L376.5 438.5L373.6 439.3Z" fill="#41BC00"/><path d="M398.1 423.5L400.5 423.7L400.5 420.7L398.1 420.6Z" fill="#41BC00"/><path d="M373.9 353.9L376.5 354.2L376.4 351.1L373.7 350.5Z" fill="#41BC00"/><path d="M371.2 405.5L374 405.4L374.2 402.4L371.4 402.4Z" fill="#41BC00"/><path d="M386.1 348.3L388.3 347.6L388.3 344.4L386 345.1Z" fill="#41BC00"/><path d="M398.1 420.6L400.5 420.7L400.5 417.6L398.1 417.5Z" fill="#41BC00"/><path d="M395.7 399.4L398.1 399.4L398.1 396.3L395.6 396.4Z" fill="#41BC00"/><path d="M373.7 451.4L376.4 450.6L376.6 447.4L373.8 448.1Z" fill="#3ABA00"/><path d="M402.9 450.8L405.3 451.3L405.3 447.9L402.8 447.5Z" fill="#3ABA00"/><path d="M373.8 426.8L376.5 426.4L376.5 423.4L373.7 423.8Z" fill="#3ABA00"/><path d="M373.8 362.8L376.4 363.2L376.5 360.3L373.8 359.9Z" fill="#3ABA00"/><path d="M366.6 390.3L369.2 390.3L369.3 387.4L366.6 387.3Z" fill="#3ABA00"/><path d="M390.9 378.4L393.2 378.2L393.2 375L390.8 375.2Z" fill="#3ABA00"/><path d="M395.7 405.4L398.1 405.5L398.1 402.4L395.7 402.4Z" fill="#3ABA00"/><path d="M402.8 444.4L405.3 444.8L405.3 442L402.9 441.7Z" fill="#3ABA00"/><path d="M395.7 402.4L398.1 402.4L398.1 399.4L395.7 399.4Z" fill="#3ABA00"/><path d="M373.7 423.8L376.5 423.4L376.5 420.4L373.9 420.6Z" fill="#3ABA00"/><path d="M373.8 436L376.5 435.4L376.6 432.4L373.8 432.9Z" fill="#3ABA00"/><path d="M386.1 351.3L388.4 350.9L388.3 347.6L386.1 348.3Z" fill="#3ABA00"/><path d="M373.9 372.1L376.5 372.4L376.5 369.3L373.8 369Z" fill="#3ABA00"/><path d="M400.4 432.4L402.9 432.8L402.9 429.8L400.4 429.5Z" fill="#3ABA00"/><path d="M373.9 460.1L376.6 459.3L376.5 456.5L373.7 457.4Z" fill="#3ABA00"/><path d="M398.1 426.4L400.5 426.6L400.5 423.7L398.1 423.5Z" fill="#3ABA00"/><path d="M400.4 435.5L402.9 435.9L402.9 432.8L400.4 432.4Z" fill="#3ABA00"/><path d="M371.7 384.3L374.1 384.4L374 381.3L371.4 381.1Z" fill="#3ABA00"/><path d="M373.8 445L376.6 444.2L376.5 441.5L373.8 442.1Z" fill="#3ABA00"/><path d="M398.1 414.4L400.5 414.6L400.5 411.5L398.1 411.5Z" fill="#3ABA00"/><path d="M388.5 366.4L390.8 366.2L390.8 362.8L388.5 363.3Z" fill="#3ABA00"/><path d="M373.9 378.2L376.5 378.3L376.5 375.4L373.9 375.1Z" fill="#3ABA00"/><path d="M369 393.3L371.6 393.4L371.7 390.4L369.2 390.3Z" fill="#3ABA00"/><path d="M398.1 417.5L400.5 417.6L400.5 414.6L398.1 414.4Z" fill="#3ABA00"/><path d="M400.4 438.5L402.9 438.8L402.9 435.9L400.4 435.5Z" fill="#3ABA00"/><path d="M395.7 408.4L398.1 408.5L398.1 405.5L395.7 405.4Z" fill="#3ABA00"/><path d="M373.8 359.9L376.5 360.3L376.6 357.4L373.9 356.9Z" fill="#3ABA00"/><path d="M373.9 429.7L376.6 429.4L376.5 426.4L373.8 426.8Z" fill="#3ABA00"/><path d="M373.9 356.9L376.6 357.4L376.5 354.2L373.9 353.9Z" fill="#3ABA00"/><path d="M386.1 354.4L388.4 353.9L388.4 350.9L386.1 351.3Z" fill="#3ABA00"/><path d="M373.8 411.6L376.6 411.4L376.6 408.4L373.8 408.5Z" fill="#3ABA00"/><path d="M373.8 448.1L376.6 447.4L376.6 444.2L373.8 445Z" fill="#3ABA00"/><path d="M373.9 375.1L376.5 375.4L376.5 372.4L373.9 372.1Z" fill="#3ABA00"/><path d="M386.1 357.4L388.4 356.9L388.4 353.9L386.1 354.4Z" fill="#3ABA00"/><path d="M402.8 459.3L405.3 459.9L405.3 457.4L402.8 456.5Z" fill="#3ABA00"/><path d="M373.8 432.9L376.6 432.4L376.6 429.4L373.9 429.7Z" fill="#3ABA00"/><path d="M402.8 447.5L405.3 447.9L405.3 444.8L402.8 444.4Z" fill="#3ABA00"/><path d="M393.3 396.4L395.6 396.4L395.6 393.3L393.2 393.4Z" fill="#3ABA00"/><path d="M374 381.3L376.6 381.4L376.5 378.3L373.9 378.2Z" fill="#3ABA00"/><path d="M371.4 402.4L374.2 402.4L374.2 399.4L371.5 399.4Z" fill="#3ABA00"/><path d="M376.4 341.9L378.9 342.4L378.9 339.3L376.3 338.8Z" fill="#3ABA00"/><path d="M376.3 347.9L378.9 348.4L378.9 345.4L376.3 344.9Z" fill="#3ABA00"/><path d="M386.1 360.5L388.4 360L388.4 356.9L386.1 357.4Z" fill="#3ABA00"/><path d="M369.3 387.4L371.8 387.4L371.7 384.3L369 384.2Z" fill="#3ABA00"/><path d="M376.4 351.1L378.9 351.4L378.9 348.4L376.3 347.9Z" fill="#3ABA00"/><path d="M374 414.5L376.6 414.4L376.6 411.4L373.8 411.6Z" fill="#3ABA00"/><path d="M383.7 342.4L386 341.8L386 338.9L383.7 339.4Z" fill="#3ABA00"/><path d="M376.3 344.9L378.9 345.4L378.9 342.4L376.4 341.9Z" fill="#3ABA00"/><path d="M390.9 390.4L393.2 390.3L393.2 387.3L390.9 387.4Z" fill="#3ABA00"/><path d="M371.5 399.4L374.2 399.4L374.2 396.4L371.5 396.4Z" fill="#3ABA00"/><path d="M390.9 381.5L393.2 381.3L393.2 378.2L390.9 378.4Z" fill="#3ABA00"/><path d="M373.8 408.5L376.6 408.4L376.7 405.4L374 405.4Z" fill="#3ABA00"/><path d="M371.5 396.4L374.2 396.4L374.2 393.4L371.6 393.4Z" fill="#3ABA00"/><path d="M400.4 441.2L402.9 441.7L402.9 438.8L400.4 438.5Z" fill="#3ABA00"/><path d="M373.9 420.6L376.5 420.4L376.7 417.3L374 417.5Z" fill="#3ABA00"/><path d="M395.7 411.4L398.1 411.5L398.1 408.5L395.7 408.4Z" fill="#33B700"/><path d="M388.5 369.5L390.8 369.2L390.8 366.2L388.5 366.4Z" fill="#33B700"/><path d="M390.9 387.4L393.2 387.3L393.2 384.3L390.9 384.5Z" fill="#33B700"/><path d="M369.2 390.3L371.7 390.4L371.8 387.4L369.3 387.4Z" fill="#33B700"/><path d="M383.8 345.7L386 345.1L386 341.8L383.7 342.4Z" fill="#33B700"/><path d="M400.4 453.3L402.9 453.8L402.9 450.8L400.4 450.2Z" fill="#33B700"/><path d="M376.5 354.2L379 354.5L378.9 351.4L376.4 351.1Z" fill="#33B700"/><path d="M374 417.5L376.7 417.3L376.6 414.4L374 414.5Z" fill="#33B700"/><path d="M388.5 372.5L390.8 372.1L390.8 369.2L388.5 369.5Z" fill="#33B700"/><path d="M395.7 423.3L398.1 423.5L398.1 420.6L395.7 420.4Z" fill="#33B700"/><path d="M388.5 375.5L390.8 375.2L390.8 372.1L388.5 372.5Z" fill="#33B700"/><path d="M390.9 393.4L393.2 393.4L393.2 390.3L390.9 390.4Z" fill="#33B700"/><path d="M395.7 420.4L398.1 420.6L398.1 417.5L395.7 417.3Z" fill="#33B700"/><path d="M398.1 429.2L400.4 429.5L400.5 426.6L398.1 426.4Z" fill="#33B700"/><path d="M376.4 366.1L379 366.5L379 363.5L376.4 363.2Z" fill="#33B700"/><path d="M393.3 399.4L395.7 399.4L395.6 396.4L393.3 396.4Z" fill="#33B700"/><path d="M390.9 384.5L393.2 384.3L393.2 381.3L390.9 381.5Z" fill="#33B700"/><path d="M386.2 363.7L388.5 363.3L388.4 360L386.1 360.5Z" fill="#33B700"/><path d="M400.4 456.1L402.8 456.5L402.9 453.8L400.4 453.3Z" fill="#33B700"/><path d="M371.6 393.4L374.2 393.4L374.3 390.5L371.7 390.4Z" fill="#33B700"/><path d="M376.5 369.3L379.1 369.6L379 366.5L376.4 366.1Z" fill="#33B700"/><path d="M376.4 363.2L379 363.5L379 360.6L376.5 360.3Z" fill="#33B700"/><path d="M393.3 405.4L395.7 405.4L395.7 402.4L393.3 402.4Z" fill="#33B700"/><path d="M400.4 450.2L402.9 450.8L402.8 447.5L400.4 447.1Z" fill="#33B700"/><path d="M393.3 402.4L395.7 402.4L395.7 399.4L393.3 399.4Z" fill="#33B700"/><path d="M378.9 342.4L381.3 342.5L381.4 339.6L378.9 339.3Z" fill="#33B700"/><path d="M383.8 348.6L386.1 348.3L386 345.1L383.8 345.7Z" fill="#33B700"/><path d="M395.7 414.3L398.1 414.4L398.1 411.5L395.7 411.4Z" fill="#33B700"/><path d="M374.1 384.4L376.8 384.6L376.6 381.4L374 381.3Z" fill="#33B700"/><path d="M400.4 444L402.8 444.4L402.9 441.7L400.4 441.2Z" fill="#33B700"/><path d="M381.3 342.5L383.7 342.4L383.7 339.4L381.4 339.6Z" fill="#33B700"/><path d="M374 405.4L376.7 405.4L376.7 402.4L374.2 402.4Z" fill="#33B700"/><path d="M388.6 378.6L390.9 378.4L390.8 375.2L388.5 375.5Z" fill="#33B700"/><path d="M395.7 417.3L398.1 417.5L398.1 414.4L395.7 414.3Z" fill="#33B700"/><path d="M371.8 387.4L374.4 387.5L374.1 384.4L371.7 384.3Z" fill="#33B700"/><path d="M378.9 345.4L381.4 345.7L381.3 342.5L378.9 342.4Z" fill="#33B700"/><path d="M393.3 408.3L395.7 408.4L395.7 405.4L393.3 405.4Z" fill="#33B700"/><path d="M383.8 351.8L386.1 351.3L386.1 348.3L383.8 348.6Z" fill="#33B700"/><path d="M395.7 426.1L398.1 426.4L398.1 423.5L395.7 423.3Z" fill="#33B700"/><path d="M376.6 357.4L379.1 357.8L379 354.5L376.5 354.2Z" fill="#33B700"/><path d="M378.9 351.4L381.4 351.6L381.4 348.7L378.9 348.4Z" fill="#33B700"/><path d="M376.4 453.7L379.1 452.9L379.2 449.8L376.4 450.6Z" fill="#33B700"/><path d="M398.1 432.2L400.4 432.4L400.4 429.5L398.1 429.2Z" fill="#33B700"/><path d="M398.1 435.2L400.4 435.5L400.4 432.4L398.1 432.2Z" fill="#33B700"/><path d="M390.9 396.4L393.3 396.4L393.2 393.4L390.9 393.4Z" fill="#33B700"/><path d="M376.5 372.4L379.1 372.6L379.1 369.6L376.5 369.3Z" fill="#33B700"/><path d="M376.5 360.3L379 360.6L379.1 357.8L376.6 357.4Z" fill="#33B700"/><path d="M378.9 348.4L381.4 348.7L381.4 345.7L378.9 345.4Z" fill="#33B700"/><path d="M398.1 438L400.4 438.5L400.4 435.5L398.1 435.2Z" fill="#33B700"/><path d="M381.4 345.7L383.8 345.7L383.7 342.4L381.3 342.5Z" fill="#33B700"/><path d="M383.8 354.7L386.1 354.4L386.1 351.3L383.8 351.8Z" fill="#33B700"/><path d="M376.5 378.3L379.1 378.6L379.1 375.6L376.5 375.4Z" fill="#33B700"/><path d="M379 354.5L381.4 354.7L381.4 351.6L378.9 351.4Z" fill="#33B700"/><path d="M376.5 375.4L379.1 375.6L379.1 372.6L376.5 372.4Z" fill="#33B700"/><path d="M400.4 447.1L402.8 447.5L402.8 444.4L400.4 444Z" fill="#2CB500"/><path d="M386.2 366.7L388.5 366.4L388.5 363.3L386.2 363.7Z" fill="#2CB500"/><path d="M376.5 456.5L379.2 455.7L379.1 452.9L376.4 453.7Z" fill="#2CB500"/><path d="M383.9 357.8L386.1 357.4L386.1 354.4L383.8 354.7Z" fill="#2CB500"/><path d="M371.7 390.4L374.3 390.5L374.4 387.5L371.8 387.4Z" fill="#2CB500"/><path d="M374.2 402.4L376.7 402.4L376.7 399.4L374.2 399.4Z" fill="#2CB500"/><path d="M400.4 458.7L402.8 459.3L402.8 456.5L400.4 456.1Z" fill="#2CB500"/><path d="M374.2 399.4L376.7 399.4L376.7 396.4L374.2 396.4Z" fill="#2CB500"/><path d="M376.6 381.4L379.2 381.6L379.1 378.6L376.5 378.3Z" fill="#2CB500"/><path d="M374.2 396.4L376.7 396.4L376.8 393.5L374.2 393.4Z" fill="#2CB500"/><path d="M383.8 360.8L386.1 360.5L386.1 357.4L383.9 357.8Z" fill="#2CB500"/><path d="M376.5 441.5L379.2 440.8L379.1 438L376.5 438.5Z" fill="#2CB500"/><path d="M376.5 426.4L379.2 426L379.1 423.2L376.5 423.4Z" fill="#2CB500"/><path d="M381.4 348.7L383.8 348.6L383.8 345.7L381.4 345.7Z" fill="#2CB500"/><path d="M393.3 411.3L395.7 411.4L395.7 408.4L393.3 408.3Z" fill="#2CB500"/><path d="M376.5 438.5L379.1 438L379.2 434.9L376.5 435.4Z" fill="#2CB500"/><path d="M381.4 351.6L383.8 351.8L383.8 348.6L381.4 348.7Z" fill="#2CB500"/><path d="M388.6 381.6L390.9 381.5L390.9 378.4L388.6 378.6Z" fill="#2CB500"/><path d="M376.4 450.6L379.2 449.8L379.3 446.6L376.6 447.4Z" fill="#2CB500"/><path d="M376.5 423.4L379.1 423.2L379.3 420.1L376.5 420.4Z" fill="#2CB500"/><path d="M386.2 369.7L388.5 369.5L388.5 366.4L386.2 366.7Z" fill="#2CB500"/><path d="M388.6 390.5L390.9 390.4L390.9 387.4L388.6 387.5Z" fill="#2CB500"/><path d="M376.6 411.4L379.2 411.2L379.2 408.3L376.6 408.4Z" fill="#2CB500"/><path d="M388.6 387.5L390.9 387.4L390.9 384.5L388.6 384.6Z" fill="#2CB500"/><path d="M393.3 423.1L395.7 423.3L395.7 420.4L393.3 420.2Z" fill="#2CB500"/><path d="M376.6 429.4L379.2 429L379.2 426L376.5 426.4Z" fill="#2CB500"/><path d="M391 399.4L393.3 399.4L393.3 396.4L390.9 396.4Z" fill="#2CB500"/><path d="M381.4 354.7L383.8 354.7L383.8 351.8L381.4 351.6Z" fill="#2CB500"/><path d="M398.1 440.8L400.4 441.2L400.4 438.5L398.1 438Z" fill="#2CB500"/><path d="M398.1 452.8L400.4 453.3L400.4 450.2L398.1 449.8Z" fill="#2CB500"/><path d="M379.1 357.8L381.5 357.8L381.4 354.7L379 354.5Z" fill="#2CB500"/><path d="M374.2 393.4L376.8 393.5L376.8 390.5L374.3 390.5Z" fill="#2CB500"/><path d="M379 366.5L381.5 366.7L381.5 363.8L379 363.5Z" fill="#2CB500"/><path d="M393.3 420.2L395.7 420.4L395.7 417.3L393.3 417.2Z" fill="#2CB500"/><path d="M376.6 408.4L379.2 408.3L379.2 405.3L376.7 405.4Z" fill="#2CB500"/><path d="M376.5 435.4L379.2 434.9L379.2 431.9L376.6 432.4Z" fill="#2CB500"/><path d="M376.6 432.4L379.2 431.9L379.2 429L376.6 429.4Z" fill="#2CB500"/><path d="M383.9 363.8L386.2 363.7L386.1 360.5L383.8 360.8Z" fill="#2CB500"/><path d="M376.6 444.2L379.2 443.7L379.2 440.8L376.5 441.5Z" fill="#2CB500"/><path d="M388.6 384.6L390.9 384.5L390.9 381.5L388.6 381.6Z" fill="#2CB500"/><path d="M395.7 428.9L398.1 429.2L398.1 426.4L395.7 426.1Z" fill="#2CB500"/><path d="M376.6 459.3L379.3 458.3L379.2 455.7L376.5 456.5Z" fill="#2CB500"/><path d="M379 363.5L381.5 363.8L381.6 360.9L379 360.6Z" fill="#2CB500"/><path d="M386.3 372.8L388.5 372.5L388.5 369.5L386.2 369.7Z" fill="#2CB500"/><path d="M398.1 455.6L400.4 456.1L400.4 453.3L398.1 452.8Z" fill="#2CB500"/><path d="M376.6 414.4L379.3 414.1L379.2 411.2L376.6 411.4Z" fill="#2CB500"/><path d="M388.6 393.5L390.9 393.4L390.9 390.4L388.6 390.5Z" fill="#2CB500"/><path d="M379.1 369.6L381.5 369.8L381.5 366.7L379 366.5Z" fill="#2CB500"/><path d="M381.5 357.8L383.9 357.8L383.8 354.7L381.4 354.7Z" fill="#2CB500"/><path d="M391 402.4L393.3 402.4L393.3 399.4L391 399.4Z" fill="#2CB500"/><path d="M393.3 414.2L395.7 414.3L395.7 411.4L393.3 411.3Z" fill="#2CB500"/><path d="M391 405.3L393.3 405.4L393.3 402.4L391 402.4Z" fill="#2CB500"/><path d="M376.6 447.4L379.3 446.6L379.2 443.7L376.6 444.2Z" fill="#2CB500"/><path d="M374.4 387.5L376.9 387.6L376.8 384.6L374.1 384.4Z" fill="#2CB500"/><path d="M379 360.6L381.6 360.9L381.5 357.8L379.1 357.8Z" fill="#2CB500"/><path d="M386.3 375.8L388.5 375.5L388.5 372.5L386.3 372.8Z" fill="#2CB500"/><path d="M393.3 417.2L395.7 417.3L395.7 414.3L393.3 414.2Z" fill="#2CB500"/><path d="M398.1 449.8L400.4 450.2L400.4 447.1L398.1 446.6Z" fill="#25B300"/><path d="M376.5 420.4L379.3 420.1L379.3 417L376.7 417.3Z" fill="#25B300"/><path d="M393.4 425.9L395.7 426.1L395.7 423.3L393.3 423.1Z" fill="#25B300"/><path d="M376.8 384.6L379.3 384.7L379.2 381.6L376.6 381.4Z" fill="#25B300"/><path d="M381.6 360.9L383.8 360.8L383.9 357.8L381.5 357.8Z" fill="#25B300"/><path d="M395.7 431.9L398.1 432.2L398.1 429.2L395.7 428.9Z" fill="#25B300"/><path d="M376.7 405.4L379.2 405.3L379.3 402.3L376.7 402.4Z" fill="#25B300"/><path d="M395.7 434.8L398.1 435.2L398.1 432.2L395.7 431.9Z" fill="#25B300"/><path d="M386.3 378.7L388.6 378.6L388.5 375.5L386.3 375.8Z" fill="#25B300"/><path d="M374.3 390.5L376.8 390.5L376.9 387.6L374.4 387.5Z" fill="#25B300"/><path d="M376.7 417.3L379.3 417L379.3 414.1L376.6 414.4Z" fill="#25B300"/><path d="M398.1 443.6L400.4 444L400.4 441.2L398.1 440.8Z" fill="#25B300"/><path d="M379.1 372.6L381.6 372.9L381.5 369.8L379.1 369.6Z" fill="#25B300"/><path d="M381.5 363.8L383.9 363.8L383.8 360.8L381.6 360.9Z" fill="#25B300"/><path d="M391 408.2L393.3 408.3L393.3 405.4L391 405.3Z" fill="#25B300"/><path d="M384 367L386.2 366.7L386.2 363.7L383.9 363.8Z" fill="#25B300"/><path d="M376.7 399.4L379.2 399.4L379.3 396.5L376.7 396.4Z" fill="#25B300"/><path d="M395.7 437.8L398.1 438L398.1 435.2L395.7 434.8Z" fill="#25B300"/><path d="M376.7 402.4L379.3 402.3L379.2 399.4L376.7 399.4Z" fill="#25B300"/><path d="M398.1 446.6L400.4 447.1L400.4 444L398.1 443.6Z" fill="#25B300"/><path d="M379.1 378.6L381.6 378.7L381.6 375.8L379.1 375.6Z" fill="#25B300"/><path d="M388.7 396.5L390.9 396.4L390.9 393.4L388.6 393.5Z" fill="#25B300"/><path d="M379.1 375.6L381.6 375.8L381.6 372.9L379.1 372.6Z" fill="#25B300"/><path d="M381.5 366.7L384 367L383.9 363.8L381.5 363.8Z" fill="#25B300"/><path d="M376.7 396.4L379.3 396.5L379.3 393.5L376.8 393.5Z" fill="#25B300"/><path d="M398.1 458.1L400.4 458.7L400.4 456.1L398.1 455.6Z" fill="#25B300"/><path d="M379.2 381.6L381.6 381.7L381.6 378.7L379.1 378.6Z" fill="#25B300"/><path d="M383.9 369.9L386.2 369.7L386.2 366.7L384 367Z" fill="#25B300"/><path d="M386.3 381.7L388.6 381.6L388.6 378.6L386.3 378.7Z" fill="#25B300"/><path d="M381.5 369.8L383.9 369.9L384 367L381.5 366.7Z" fill="#25B300"/><path d="M376.8 393.5L379.3 393.5L379.3 390.6L376.8 390.5Z" fill="#25B300"/><path d="M384 372.9L386.3 372.8L386.2 369.7L383.9 369.9Z" fill="#25B300"/><path d="M395.7 440.6L398.1 440.8L398.1 438L395.7 437.8Z" fill="#25B300"/><path d="M386.4 384.7L388.6 384.6L388.6 381.6L386.3 381.7Z" fill="#25B300"/><path d="M391.1 411.1L393.3 411.3L393.3 408.3L391 408.2Z" fill="#25B300"/><path d="M379.3 384.7L381.7 384.7L381.6 381.7L379.2 381.6Z" fill="#1EB100"/><path d="M381.6 372.9L384 372.9L383.9 369.9L381.5 369.8Z" fill="#1EB100"/><path d="M376.9 387.6L379.3 387.6L379.3 384.7L376.8 384.6Z" fill="#1EB100"/><path d="M386.4 387.7L388.6 387.5L388.6 384.6L386.4 384.7Z" fill="#1EB100"/><path d="M388.7 399.4L391 399.4L390.9 396.4L388.7 396.5Z" fill="#1EB100"/><path d="M376.8 390.5L379.3 390.6L379.3 387.6L376.9 387.6Z" fill="#1EB100"/><path d="M395.7 452.3L398.1 452.8L398.1 449.8L395.7 449.2Z" fill="#1EB100"/><path d="M386.4 390.6L388.6 390.5L388.6 387.5L386.4 387.7Z" fill="#1EB100"/><path d="M393.4 428.7L395.7 428.9L395.7 426.1L393.4 425.9Z" fill="#1EB100"/><path d="M391 419.9L393.3 420.2L393.3 417.2L391 417Z" fill="#1EB100"/><path d="M391.1 422.8L393.3 423.1L393.3 420.2L391 419.9Z" fill="#1EB100"/><path d="M384 375.9L386.3 375.8L386.3 372.8L384 372.9Z" fill="#1EB100"/><path d="M384 378.8L386.3 378.7L386.3 375.8L384 375.9Z" fill="#1EB100"/><path d="M395.7 455L398.1 455.6L398.1 452.8L395.7 452.3Z" fill="#1EB100"/><path d="M381.6 378.7L384 378.8L384 375.9L381.6 375.8Z" fill="#1EB100"/><path d="M381.6 381.7L384 381.8L384 378.8L381.6 378.7Z" fill="#1EB100"/><path d="M388.7 402.3L391 402.4L391 399.4L388.7 399.4Z" fill="#1EB100"/><path d="M381.6 375.8L384 375.9L384 372.9L381.6 372.9Z" fill="#1EB100"/><path d="M386.4 393.6L388.6 393.5L388.6 390.5L386.4 390.6Z" fill="#1EB100"/><path d="M388.7 405.3L391 405.3L391 402.4L388.7 402.3Z" fill="#1EB100"/><path d="M379.2 408.3L381.7 408.2L381.8 405.2L379.2 405.3Z" fill="#1EB100"/><path d="M391.1 414L393.3 414.2L393.3 411.3L391.1 411.1Z" fill="#1EB100"/><path d="M379.2 455.7L381.8 454.9L381.8 452L379.1 452.9Z" fill="#1EB100"/><path d="M379.2 411.2L381.8 411.1L381.7 408.2L379.2 408.3Z" fill="#1EB100"/><path d="M391 417L393.3 417.2L393.3 414.2L391.1 414Z" fill="#1EB100"/><path d="M384 381.8L386.3 381.7L386.3 378.7L384 378.8Z" fill="#1EB100"/><path d="M379.1 452.9L381.8 452L381.8 448.9L379.2 449.8Z" fill="#1EB100"/><path d="M395.7 449.2L398.1 449.8L398.1 446.6L395.7 446.2Z" fill="#1EB100"/><path d="M379.2 426L381.8 425.7L381.7 422.8L379.1 423.2Z" fill="#1EB100"/><path d="M393.4 434.6L395.7 434.8L395.7 431.9L393.4 431.6Z" fill="#1EB100"/><path d="M393.4 431.6L395.7 431.9L395.7 428.9L393.4 428.7Z" fill="#1EB100"/><path d="M395.7 443.2L398.1 443.6L398.1 440.8L395.7 440.6Z" fill="#1EB100"/><path d="M379.1 438L381.8 437.4L381.8 434.4L379.2 434.9Z" fill="#1EB100"/><path d="M379.2 440.8L381.8 440.1L381.8 437.4L379.1 438Z" fill="#1EB100"/><path d="M379.3 387.6L381.7 387.7L381.7 384.7L379.3 384.7Z" fill="#1EB100"/><path d="M381.7 384.7L384.1 384.8L384 381.8L381.6 381.7Z" fill="#1EB100"/><path d="M391.1 425.6L393.4 425.9L393.3 423.1L391.1 422.8Z" fill="#1EB100"/><path d="M379.1 423.2L381.7 422.8L381.8 419.8L379.3 420.1Z" fill="#1EB100"/><path d="M379.3 396.5L381.7 396.5L381.7 393.5L379.3 393.5Z" fill="#1EB100"/><path d="M393.4 437.4L395.7 437.8L395.7 434.8L393.4 434.6Z" fill="#1EB100"/><path d="M379.2 429L381.8 428.6L381.8 425.7L379.2 426Z" fill="#1EB100"/><path d="M379.2 399.4L381.8 399.4L381.7 396.5L379.3 396.5Z" fill="#1EB100"/><path d="M388.7 408.2L391 408.2L391 405.3L388.7 405.3Z" fill="#1EB100"/><path d="M395.7 446.2L398.1 446.6L398.1 443.6L395.7 443.2Z" fill="#1EB100"/><path d="M379.3 414.1L381.8 414L381.8 411.1L379.2 411.2Z" fill="#1EB100"/><path d="M384.1 384.8L386.4 384.7L386.3 381.7L384 381.8Z" fill="#1EB100"/><path d="M379.2 405.3L381.8 405.2L381.8 402.3L379.3 402.3Z" fill="#1EB100"/><path d="M379.3 393.5L381.7 393.5L381.8 390.6L379.3 390.6Z" fill="#1EB100"/><path d="M379.2 431.9L381.8 431.4L381.8 428.6L379.2 429Z" fill="#1EB100"/><path d="M379.2 434.9L381.8 434.4L381.8 431.4L379.2 431.9Z" fill="#1EB100"/><path d="M379.3 458.3L381.8 457.6L381.8 454.9L379.2 455.7Z" fill="#1EB100"/><path d="M379.2 449.8L381.8 448.9L381.9 445.9L379.3 446.6Z" fill="#1EB100"/><path d="M379.3 402.3L381.8 402.3L381.8 399.4L379.2 399.4Z" fill="#1EB100"/><path d="M379.3 390.6L381.8 390.6L381.7 387.7L379.3 387.6Z" fill="#1EB100"/><path d="M395.7 457.6L398.1 458.1L398.1 455.6L395.7 455Z" fill="#18AF00"/><path d="M379.2 443.7L381.8 443L381.8 440.1L379.2 440.8Z" fill="#18AF00"/><path d="M386.4 396.5L388.7 396.5L388.6 393.5L386.4 393.6Z" fill="#18AF00"/><path d="M393.4 440.2L395.7 440.6L395.7 437.8L393.4 437.4Z" fill="#18AF00"/><path d="M381.7 387.7L384.1 387.7L384.1 384.8L381.7 384.7Z" fill="#18AF00"/><path d="M384.1 387.7L386.4 387.7L386.4 384.7L384.1 384.8Z" fill="#18AF00"/><path d="M379.3 446.6L381.9 445.9L381.8 443L379.2 443.7Z" fill="#18AF00"/><path d="M384.1 390.7L386.4 390.6L386.4 387.7L384.1 387.7Z" fill="#18AF00"/><path d="M379.3 417L381.8 416.8L381.8 414L379.3 414.1Z" fill="#18AF00"/><path d="M379.3 420.1L381.8 419.8L381.8 416.8L379.3 417Z" fill="#18AF00"/><path d="M388.8 411L391.1 411.1L391 408.2L388.7 408.2Z" fill="#18AF00"/><path d="M391.1 428.5L393.4 428.7L393.4 425.9L391.1 425.6Z" fill="#18AF00"/><path d="M384.1 393.6L386.4 393.6L386.4 390.6L384.1 390.7Z" fill="#18AF00"/><path d="M386.5 399.4L388.7 399.4L388.7 396.5L386.4 396.5Z" fill="#18AF00"/><path d="M381.7 396.5L384.1 396.5L384.1 393.6L381.7 393.5Z" fill="#18AF00"/><path d="M381.8 390.6L384.1 390.7L384.1 387.7L381.7 387.7Z" fill="#18AF00"/><path d="M388.8 419.8L391 419.9L391 417L388.8 416.8Z" fill="#18AF00"/><path d="M381.7 393.5L384.1 393.6L384.1 390.7L381.8 390.6Z" fill="#18AF00"/><path d="M393.4 451.8L395.7 452.3L395.7 449.2L393.4 448.7Z" fill="#18AF00"/><path d="M381.7 408.2L384.1 408.1L384.1 405.2L381.8 405.2Z" fill="#18AF00"/><path d="M393.4 454.5L395.7 455L395.7 452.3L393.4 451.8Z" fill="#18AF00"/><path d="M386.5 402.3L388.7 402.3L388.7 399.4L386.5 399.4Z" fill="#18AF00"/><path d="M381.8 399.4L384.1 399.4L384.1 396.5L381.7 396.5Z" fill="#18AF00"/><path d="M393.4 442.9L395.7 443.2L395.7 440.6L393.4 440.2Z" fill="#18AF00"/><path d="M384.1 396.5L386.4 396.5L386.4 393.6L384.1 393.6Z" fill="#18AF00"/><path d="M391.1 431.4L393.4 431.6L393.4 428.7L391.1 428.5Z" fill="#18AF00"/><path d="M391.1 434.3L393.4 434.6L393.4 431.6L391.1 431.4Z" fill="#18AF00"/><path d="M388.8 416.8L391 417L391.1 414L388.8 413.9Z" fill="#18AF00"/><path d="M388.8 413.9L391.1 414L391.1 411.1L388.8 411Z" fill="#18AF00"/><path d="M388.8 422.6L391.1 422.8L391 419.9L388.8 419.8Z" fill="#18AF00"/><path d="M381.8 411.1L384.2 411L384.1 408.1L381.7 408.2Z" fill="#18AF00"/><path d="M386.5 405.2L388.7 405.3L388.7 402.3L386.5 402.3Z" fill="#18AF00"/><path d="M381.8 405.2L384.1 405.2L384.1 402.3L381.8 402.3Z" fill="#18AF00"/><path d="M381.8 402.3L384.1 402.3L384.1 399.4L381.8 399.4Z" fill="#18AF00"/><path d="M393.4 448.7L395.7 449.2L395.7 446.2L393.4 445.8Z" fill="#18AF00"/><path d="M386.5 408.1L388.7 408.2L388.7 405.3L386.5 405.2Z" fill="#12AC00"/><path d="M393.4 445.8L395.7 446.2L395.7 443.2L393.4 442.9Z" fill="#12AC00"/><path d="M391.1 437L393.4 437.4L393.4 434.6L391.1 434.3Z" fill="#12AC00"/><path d="M384.1 399.4L386.5 399.4L386.4 396.5L384.1 396.5Z" fill="#12AC00"/><path d="M388.8 425.5L391.1 425.6L391.1 422.8L388.8 422.6Z" fill="#12AC00"/><path d="M386.5 411L388.8 411L388.7 408.2L386.5 408.1Z" fill="#12AC00"/><path d="M381.8 425.7L384.2 425.5L384.2 422.6L381.7 422.8Z" fill="#12AC00"/><path d="M384.1 408.1L386.5 408.1L386.5 405.2L384.1 405.2Z" fill="#12AC00"/><path d="M381.8 414L384.2 413.9L384.2 411L381.8 411.1Z" fill="#12AC00"/><path d="M384.1 402.3L386.5 402.3L386.5 399.4L384.1 399.4Z" fill="#12AC00"/><path d="M384.1 405.2L386.5 405.2L386.5 402.3L384.1 402.3Z" fill="#12AC00"/><path d="M393.4 457.2L395.7 457.6L395.7 455L393.4 454.5Z" fill="#12AC00"/><path d="M381.8 437.4L384.2 437L384.2 434.1L381.8 434.4Z" fill="#12AC00"/><path d="M381.7 422.8L384.2 422.6L384.2 419.6L381.8 419.8Z" fill="#12AC00"/><path d="M384.2 411L386.5 411L386.5 408.1L384.1 408.1Z" fill="#12AC00"/><path d="M381.8 428.6L384.3 428.3L384.2 425.5L381.8 425.7Z" fill="#12AC00"/><path d="M391.2 439.8L393.4 440.2L393.4 437.4L391.1 437Z" fill="#12AC00"/><path d="M381.8 434.4L384.2 434.1L384.3 431.1L381.8 431.4Z" fill="#12AC00"/><path d="M388.9 428.3L391.1 428.5L391.1 425.6L388.8 425.5Z" fill="#12AC00"/><path d="M386.5 413.9L388.8 413.9L388.8 411L386.5 411Z" fill="#12AC00"/><path d="M381.8 454.9L384.3 454.1L384.3 451.4L381.8 452Z" fill="#12AC00"/><path d="M381.8 416.8L384.3 416.7L384.2 413.9L381.8 414Z" fill="#12AC00"/><path d="M381.8 452L384.3 451.4L384.3 448.4L381.8 448.9Z" fill="#12AC00"/><path d="M381.8 440.1L384.3 439.7L384.2 437L381.8 437.4Z" fill="#12AC00"/><path d="M381.8 431.4L384.3 431.1L384.3 428.3L381.8 428.6Z" fill="#12AC00"/><path d="M381.8 419.8L384.2 419.6L384.3 416.7L381.8 416.8Z" fill="#12AC00"/><path d="M386.5 416.7L388.8 416.8L388.8 413.9L386.5 413.9Z" fill="#12AC00"/><path d="M386.6 419.6L388.8 419.8L388.8 416.8L386.5 416.7Z" fill="#12AC00"/><path d="M384.2 413.9L386.5 413.9L386.5 411L384.2 411Z" fill="#12AC00"/><path d="M381.8 448.9L384.3 448.4L384.3 445.5L381.9 445.9Z" fill="#0CAA00"/><path d="M386.6 422.5L388.8 422.6L388.8 419.8L386.6 419.6Z" fill="#0CAA00"/><path d="M388.9 431.1L391.1 431.4L391.1 428.5L388.9 428.3Z" fill="#0CAA00"/><path d="M391.2 454.1L393.4 454.5L393.4 451.8L391.2 451.3Z" fill="#0CAA00"/><path d="M381.8 457.6L384.3 456.8L384.3 454.1L381.8 454.9Z" fill="#0CAA00"/><path d="M381.9 445.9L384.3 445.5L384.3 442.6L381.8 443Z" fill="#0CAA00"/><path d="M391.2 442.5L393.4 442.9L393.4 440.2L391.2 439.8Z" fill="#0CAA00"/><path d="M391.2 451.3L393.4 451.8L393.4 448.7L391.2 448.3Z" fill="#0CAA00"/><path d="M386.6 425.4L388.8 425.5L388.8 422.6L386.6 422.5Z" fill="#0CAA00"/><path d="M381.8 443L384.3 442.6L384.3 439.7L381.8 440.1Z" fill="#0CAA00"/><path d="M388.9 433.9L391.1 434.3L391.1 431.4L388.9 431.1Z" fill="#0CAA00"/><path d="M384.2 425.5L386.6 425.4L386.6 422.5L384.2 422.6Z" fill="#0CAA00"/><path d="M384.3 416.7L386.5 416.7L386.5 413.9L384.2 413.9Z" fill="#0CAA00"/><path d="M384.2 422.6L386.6 422.5L386.6 419.6L384.2 419.6Z" fill="#0CAA00"/><path d="M384.2 419.6L386.6 419.6L386.5 416.7L384.3 416.7Z" fill="#0CAA00"/><path d="M384.2 437L386.6 436.9L386.6 434L384.2 434.1Z" fill="#0CAA00"/><path d="M386.6 428.2L388.9 428.3L388.8 425.5L386.6 425.4Z" fill="#0CAA00"/><path d="M388.9 436.8L391.1 437L391.1 434.3L388.9 433.9Z" fill="#0CAA00"/><path d="M384.3 428.3L386.6 428.2L386.6 425.4L384.2 425.5Z" fill="#0CAA00"/><path d="M391.2 456.8L393.4 457.2L393.4 454.5L391.2 454.1Z" fill="#0CAA00"/><path d="M391.2 448.3L393.4 448.7L393.4 445.8L391.2 445.3Z" fill="#0CAA00"/><path d="M391.2 445.3L393.4 445.8L393.4 442.9L391.2 442.5Z" fill="#0CAA00"/><path d="M384.2 434.1L386.6 434L386.6 431L384.3 431.1Z" fill="#0CAA00"/><path d="M384.3 431.1L386.6 431L386.6 428.2L384.3 428.3Z" fill="#0CAA00"/><path d="M388.9 439.6L391.2 439.8L391.1 437L388.9 436.8Z" fill="#0CAA00"/><path d="M386.6 431L388.9 431.1L388.9 428.3L386.6 428.2Z" fill="#0CAA00"/><path d="M384.3 439.7L386.6 439.6L386.6 436.9L384.2 437Z" fill="#0CAA00"/><path d="M386.6 434L388.9 433.9L388.9 431.1L386.6 431Z" fill="#0CAA00"/><path d="M386.6 436.9L388.9 436.8L388.9 433.9L386.6 434Z" fill="#06A800"/><path d="M388.9 442.4L391.2 442.5L391.2 439.8L388.9 439.6Z" fill="#06A800"/><path d="M386.6 439.6L388.9 439.6L388.9 436.8L386.6 436.9Z" fill="#06A800"/><path d="M384.3 451.4L386.7 450.9L386.7 448.1L384.3 448.4Z" fill="#06A800"/><path d="M384.3 454.1L386.6 453.8L386.7 450.9L384.3 451.4Z" fill="#06A800"/><path d="M384.3 442.6L386.6 442.4L386.6 439.6L384.3 439.7Z" fill="#06A800"/><path d="M384.3 448.4L386.7 448.1L386.7 445.2L384.3 445.5Z" fill="#06A800"/><path d="M384.3 445.5L386.7 445.2L386.6 442.4L384.3 442.6Z" fill="#06A800"/><path d="M389 450.8L391.2 451.3L391.2 448.3L388.9 448.1Z" fill="#06A800"/><path d="M389 453.7L391.2 454.1L391.2 451.3L389 450.8Z" fill="#06A800"/><path d="M388.9 445.3L391.2 445.3L391.2 442.5L388.9 442.4Z" fill="#06A800"/><path d="M388.9 448.1L391.2 448.3L391.2 445.3L388.9 445.3Z" fill="#06A800"/><path d="M386.6 442.4L388.9 442.4L388.9 439.6L386.6 439.6Z" fill="#06A800"/><path d="M389 456.5L391.2 456.8L391.2 454.1L389 453.7Z" fill="#06A800"/><path d="M386.7 445.2L388.9 445.3L388.9 442.4L386.6 442.4Z" fill="#06A800"/><path d="M384.3 456.8L386.7 456.4L386.6 453.8L384.3 454.1Z" fill="#06A800"/><path d="M386.7 448.1L388.9 448.1L388.9 445.3L386.7 445.2Z" fill="#06A800"/><path d="M386.7 450.9L389 450.8L388.9 448.1L386.7 448.1Z" fill="#00A600"/><path d="M386.6 453.8L389 453.7L389 450.8L386.7 450.9Z" fill="#00A600"/><path d="M386.7 456.4L389 456.5L389 453.7L386.6 453.8Z" fill="#00A600"/></g>
<rect x="301.4" y="302.3" width="193.3" height="194.2" fill="none" stroke="#111" stroke-width="0.9"/>
<path d="M296.3 297.5L325.6 326.2" stroke="#000" stroke-width="1.4" fill="none"/><path d="M294.8 296l3.6 1.4l-2.1 2.1z" fill="#000"/>
<text x="0" y="0" font-family="'Liberation Sans',Arial,sans-serif" font-size="6.5" fill="#111" transform="translate(315.6 324) rotate(-50)">z</text>
<text x="395.8" y="465.3" font-family="'Liberation Sans',Arial,sans-serif" font-size="9" fill="#222">y</text>
<text x="68" y="289.3" font-family="'Liberation Serif','Times New Roman',serif" stroke="#111" stroke-width="0.18" font-size="12.1" fill="#111">Topographic lateral view of 5-ha forest plot</text>
<text x="298.5" y="290.3" font-family="'Liberation Serif','Times New Roman',serif" stroke="#111" stroke-width="0.18" font-size="12.1" fill="#111">Topographic top view of 5-ha forest plot</text>
<text x="50.5" y="316.5" font-family="'Liberation Serif','Times New Roman',serif" stroke="#111" stroke-width="0.18" font-size="15" fill="#111">(b)</text>
<text x="278" y="316.5" font-family="'Liberation Serif','Times New Roman',serif" stroke="#111" stroke-width="0.18" font-size="15" fill="#111">(c)</text>
<text x="0" y="0" font-family="'Liberation Serif','Times New Roman',serif" stroke="#111" stroke-width="0.18" font-size="12.3" fill="#111" transform="translate(10 401.8) rotate(-45)">200 m long from east to west</text>
<text x="0" y="0" font-family="'Liberation Serif','Times New Roman',serif" stroke="#111" stroke-width="0.18" font-size="12" fill="#111" transform="translate(79 470.5) rotate(-106.5)">relative altitude</text>
<text x="0" y="0" font-family="'Liberation Serif','Times New Roman',serif" stroke="#111" stroke-width="0.18" font-size="12.1" fill="#111" transform="translate(85 500) rotate(3.5)">250 m long from north to south</text>
<defs><linearGradient id="tg" x1="0" x2="1" y1="0" y2="0"><stop offset="0.000" stop-color="#00A600"/><stop offset="0.030" stop-color="#0AAA00"/><stop offset="0.061" stop-color="#15AE00"/><stop offset="0.091" stop-color="#21B100"/><stop offset="0.121" stop-color="#2CB500"/><stop offset="0.152" stop-color="#39B900"/><stop offset="0.182" stop-color="#45BD00"/><stop offset="0.212" stop-color="#53C100"/><stop offset="0.242" stop-color="#60C500"/><stop offset="0.273" stop-color="#6FC900"/><stop offset="0.303" stop-color="#7DCD00"/><stop offset="0.333" stop-color="#8DD100"/><stop offset="0.364" stop-color="#9CD500"/><stop offset="0.394" stop-color="#ACD800"/><stop offset="0.424" stop-color="#BDDC00"/><stop offset="0.455" stop-color="#CEE000"/><stop offset="0.485" stop-color="#E0E400"/><stop offset="0.515" stop-color="#E6DD09"/><stop offset="0.545" stop-color="#E7D217"/><stop offset="0.576" stop-color="#E8C825"/><stop offset="0.606" stop-color="#E8C033"/><stop offset="0.636" stop-color="#E9BA41"/><stop offset="0.667" stop-color="#EAB550"/><stop offset="0.697" stop-color="#EBB25E"/><stop offset="0.727" stop-color="#EBB16C"/><stop offset="0.758" stop-color="#ECB17B"/><stop offset="0.788" stop-color="#EDB389"/><stop offset="0.818" stop-color="#EEB798"/><stop offset="0.848" stop-color="#EEBCA7"/><stop offset="0.879" stop-color="#EFC4B6"/><stop offset="0.909" stop-color="#F0CDC5"/><stop offset="0.939" stop-color="#F1D7D4"/><stop offset="0.970" stop-color="#F1E4E3"/><stop offset="1.000" stop-color="#F2F2F2"/><stop offset="1" stop-color="#F2F2F2"/></linearGradient></defs>
<rect x="59.1" y="512.6" width="218.2" height="12.2" fill="url(#tg)" stroke="#444" stroke-width="0.9"/>
<g font-family="'Liberation Sans',Arial,sans-serif" font-size="8.6" fill="#222" text-anchor="middle">
<text x="59.4" y="543.8">0</text>
<text x="88.4" y="543.8">20</text>
<text x="117.3" y="543.8">40</text>
<text x="146.3" y="543.8">60</text>
<text x="175.2" y="543.8">80</text>
<text x="204.2" y="543.8">100</text>
<text x="233.2" y="543.8">120</text>
<text x="262.1" y="543.8">140</text>
</g>
<path d="M59.4 525V529.3M88.4 525V529.3M117.3 525V529.3M146.3 525V529.3M175.2 525V529.3M204.2 525V529.3M233.2 525V529.3M262.1 525V529.3" stroke="#333" stroke-width="0.9" fill="none"/>
<rect x="290.2" y="512.6" width="216.6" height="12.2" fill="url(#tg)" stroke="#444" stroke-width="0.9"/>
<g font-family="'Liberation Sans',Arial,sans-serif" font-size="8.6" fill="#222" text-anchor="middle">
<text x="290.5" y="543.8">0</text>
<text x="319.2" y="543.8">20</text>
<text x="348" y="543.8">40</text>
<text x="376.7" y="543.8">60</text>
<text x="405.5" y="543.8">80</text>
<text x="434.2" y="543.8">100</text>
<text x="463" y="543.8">120</text>
<text x="491.7" y="543.8">140</text>
</g>
<path d="M290.5 525V529.3M319.2 525V529.3M348 525V529.3M376.7 525V529.3M405.5 525V529.3M434.2 525V529.3M463 525V529.3M491.7 525V529.3" stroke="#333" stroke-width="0.9" fill="none"/>
</svg></body></html>
